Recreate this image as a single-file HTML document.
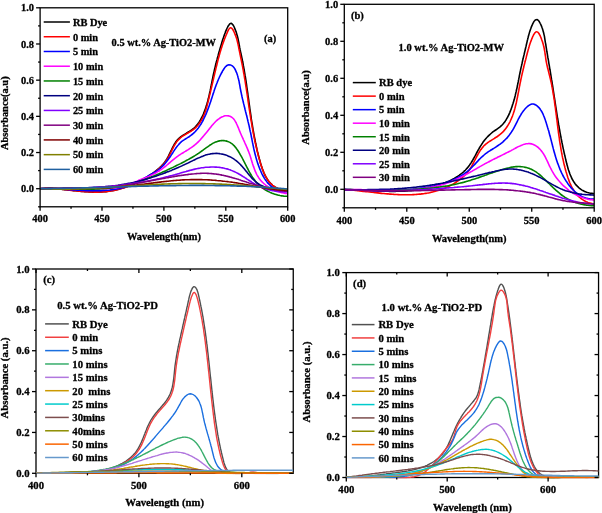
<!DOCTYPE html>
<html><head><meta charset="utf-8"><style>
html,body{margin:0;padding:0;background:#fff;}
svg{display:block;will-change:transform;filter:blur(0.3px);}
text{font-family:"Liberation Serif",serif;font-weight:bold;fill:#000;stroke:#000;stroke-width:0.3px;}
</style></head><body>
<svg width="602" height="513" viewBox="0 0 602 513">
<g id="pa"><clipPath id="clipa"><rect x="40.1" y="4.8" width="247.6" height="202.98999999999998"/></clipPath>
<g clip-path="url(#clipa)"><path d="M39.6,188.7C40.3,188.7 40.9,188.6 41.6,188.6C42.2,188.6 42.9,188.5 43.5,188.5C44.2,188.5 44.9,188.5 45.5,188.5C46.2,188.5 46.8,188.5 47.5,188.5C48.2,188.5 48.8,188.5 49.5,188.5C50.1,188.6 50.8,188.6 51.5,188.6C52.1,188.6 52.8,188.7 53.5,188.7C54.1,188.7 54.8,188.8 55.5,188.8C56.1,188.9 56.8,188.9 57.4,189.0C58.1,189.0 58.8,189.1 59.4,189.1C60.1,189.2 60.8,189.3 61.4,189.3C62.1,189.4 62.8,189.4 63.4,189.5C64.1,189.6 64.8,189.6 65.4,189.7C66.1,189.8 66.8,189.8 67.4,189.9C68.1,190.0 68.8,190.1 69.4,190.1C70.1,190.2 70.8,190.3 71.4,190.3C72.1,190.4 72.8,190.5 73.4,190.6C74.1,190.6 74.8,190.7 75.5,190.8C76.1,190.8 76.8,190.9 77.5,191.0C78.1,191.0 78.8,191.1 79.5,191.2C80.1,191.2 80.8,191.3 81.5,191.4C82.1,191.4 82.8,191.5 83.5,191.5C84.1,191.6 84.8,191.6 85.5,191.7C86.1,191.7 86.8,191.8 87.4,191.8C88.1,191.9 88.8,191.9 89.4,191.9C90.1,192.0 90.8,192.0 91.4,192.0C92.1,192.0 92.8,192.0 93.4,192.1C94.1,192.1 94.7,192.1 95.4,192.1C96.1,192.1 96.7,192.1 97.4,192.1C98.0,192.1 98.7,192.0 99.4,192.0C100.0,192.0 100.7,192.0 101.3,191.9C102.0,191.9 102.7,191.9 103.3,191.8C104.0,191.8 104.6,191.7 105.3,191.6C105.9,191.6 106.6,191.5 107.2,191.4C107.9,191.3 108.5,191.2 109.2,191.1C109.8,191.0 110.5,190.9 111.1,190.8C111.8,190.7 112.4,190.6 113.1,190.5C113.7,190.3 114.4,190.2 115.0,190.1C115.7,189.9 116.3,189.8 116.9,189.6C117.6,189.5 118.2,189.3 118.9,189.1C119.5,189.0 120.1,188.8 120.8,188.6C121.4,188.4 122.0,188.2 122.7,188.0C123.3,187.9 123.9,187.6 124.6,187.4C125.2,187.2 125.8,187.0 126.4,186.8C127.1,186.6 127.7,186.3 128.3,186.1C128.9,185.9 129.6,185.6 130.2,185.4C130.8,185.1 131.4,184.9 132.0,184.6C132.6,184.4 133.2,184.1 133.8,183.8C134.5,183.6 135.1,183.3 135.7,183.0C136.3,182.7 136.9,182.5 137.5,182.2C138.1,181.9 138.7,181.6 139.3,181.3C139.9,181.0 140.4,180.7 141.0,180.3C141.6,180.0 142.2,179.7 142.8,179.4C143.4,179.1 144.0,178.7 144.5,178.4C145.1,178.1 145.7,177.7 146.3,177.4C146.8,177.0 147.4,176.7 148.0,176.3C148.5,176.0 149.1,175.6 149.7,175.3C150.2,174.9 150.8,174.6 151.3,174.2C151.9,173.8 152.4,173.4 153.0,173.1C153.5,172.7 154.0,172.3 154.6,171.9C155.1,171.5 155.6,171.1 156.2,170.7C156.7,170.3 157.2,169.9 157.7,169.4C158.2,169.0 158.7,168.6 159.2,168.2C159.7,167.7 160.2,167.3 160.6,166.8C161.1,166.3 161.6,165.9 162.0,165.4C162.4,164.9 162.9,164.4 163.3,163.9C163.7,163.4 164.1,162.9 164.5,162.4C164.9,161.9 165.3,161.3 165.7,160.8C166.1,160.2 166.4,159.7 166.8,159.1C167.1,158.5 167.5,158.0 167.8,157.4C168.1,156.8 168.4,156.2 168.7,155.6C169.0,155.0 169.3,154.3 169.6,153.7C169.9,153.1 170.2,152.5 170.5,151.9C170.8,151.3 171.1,150.6 171.4,150.0C171.7,149.4 172.0,148.8 172.3,148.2C172.6,147.6 172.9,147.0 173.2,146.4C173.5,145.8 173.8,145.2 174.1,144.6C174.5,144.0 174.8,143.5 175.2,142.9C175.5,142.4 175.9,141.8 176.3,141.3C176.7,140.8 177.1,140.3 177.5,139.8C178.0,139.3 178.4,138.8 178.9,138.4C179.4,138.0 179.9,137.5 180.4,137.1C180.9,136.7 181.4,136.3 182.0,136.0C182.5,135.6 183.1,135.2 183.6,134.9C184.2,134.5 184.8,134.2 185.4,133.8C186.0,133.5 186.5,133.1 187.1,132.8C187.7,132.4 188.3,132.1 188.9,131.7C189.4,131.4 190.0,131.0 190.6,130.7C191.1,130.3 191.7,129.9 192.2,129.5C192.8,129.2 193.3,128.8 193.8,128.3C194.3,127.9 194.7,127.5 195.2,127.0C195.7,126.6 196.1,126.1 196.5,125.6C197.0,125.1 197.4,124.6 197.8,124.1C198.2,123.6 198.5,123.0 198.9,122.5C199.3,121.9 199.6,121.4 200.0,120.8C200.3,120.3 200.6,119.7 200.9,119.1C201.2,118.5 201.5,118.0 201.8,117.4C202.1,116.8 202.4,116.2 202.7,115.6C203.0,115.0 203.2,114.4 203.5,113.8C203.7,113.1 204.0,112.5 204.2,111.9C204.5,111.3 204.7,110.7 204.9,110.1C205.2,109.4 205.4,108.8 205.6,108.2C205.8,107.6 206.0,106.9 206.2,106.3C206.4,105.7 206.6,105.0 206.8,104.4C207.0,103.8 207.2,103.1 207.4,102.5C207.5,101.8 207.7,101.2 207.9,100.5C208.1,99.9 208.2,99.2 208.4,98.6C208.5,97.9 208.7,97.3 208.9,96.6C209.0,96.0 209.2,95.3 209.3,94.7C209.5,94.0 209.6,93.4 209.7,92.7C209.9,92.1 210.0,91.4 210.2,90.7C210.3,90.1 210.4,89.4 210.6,88.8C210.7,88.1 210.8,87.4 211.0,86.8C211.1,86.1 211.2,85.5 211.4,84.8C211.5,84.2 211.6,83.5 211.8,82.8C211.9,82.2 212.0,81.5 212.1,80.9C212.3,80.2 212.4,79.6 212.5,78.9C212.7,78.3 212.8,77.6 212.9,76.9C213.1,76.3 213.2,75.6 213.3,75.0C213.5,74.3 213.6,73.7 213.7,73.1C213.9,72.4 214.0,71.8 214.2,71.1C214.3,70.5 214.5,69.8 214.6,69.2C214.8,68.6 214.9,67.9 215.1,67.3C215.2,66.6 215.4,66.0 215.5,65.4C215.7,64.7 215.8,64.1 216.0,63.5C216.1,62.8 216.3,62.2 216.5,61.6C216.6,60.9 216.8,60.3 217.0,59.7C217.1,59.0 217.3,58.4 217.5,57.8C217.6,57.1 217.8,56.5 218.0,55.9C218.1,55.2 218.3,54.6 218.5,54.0C218.7,53.4 218.8,52.7 219.0,52.1C219.2,51.5 219.4,50.8 219.6,50.2C219.8,49.6 219.9,48.9 220.1,48.3C220.3,47.7 220.5,47.1 220.7,46.4C220.9,45.8 221.1,45.2 221.3,44.5C221.5,43.9 221.7,43.3 221.8,42.6C222.0,42.0 222.2,41.4 222.4,40.7C222.6,40.1 222.8,39.5 223.0,38.8C223.3,38.2 223.5,37.6 223.7,36.9C223.9,36.3 224.1,35.6 224.3,35.0C224.6,34.3 224.8,33.7 225.1,33.0C225.3,32.3 225.6,31.6 225.9,30.9C226.2,30.2 226.5,29.5 226.8,28.8C227.1,28.1 227.5,27.4 227.8,26.7C228.2,26.0 228.6,25.4 229.0,24.9C229.3,24.3 229.7,23.9 230.1,23.6C230.5,23.4 230.9,23.3 231.3,23.4C231.7,23.5 232.0,23.7 232.4,24.2C232.8,24.6 233.2,25.1 233.5,25.7C233.9,26.4 234.2,27.1 234.5,27.8C234.8,28.5 235.1,29.3 235.4,30.0C235.7,30.7 235.9,31.4 236.2,32.1C236.4,32.8 236.6,33.5 236.8,34.2C237.0,34.9 237.2,35.5 237.4,36.2C237.5,36.8 237.7,37.5 237.9,38.2C238.0,38.8 238.1,39.4 238.3,40.1C238.4,40.7 238.5,41.4 238.7,42.0C238.8,42.6 238.9,43.3 239.0,43.9C239.1,44.5 239.2,45.2 239.4,45.8C239.5,46.4 239.6,47.1 239.7,47.7C239.9,48.4 240.0,49.0 240.1,49.7C240.3,50.3 240.4,51.0 240.5,51.6C240.7,52.3 240.8,52.9 241.0,53.6C241.1,54.2 241.2,54.9 241.4,55.5C241.5,56.2 241.7,56.9 241.8,57.5C241.9,58.2 242.1,58.8 242.2,59.5C242.3,60.1 242.5,60.8 242.6,61.5C242.7,62.1 242.9,62.8 243.0,63.4C243.1,64.1 243.2,64.7 243.3,65.4C243.5,66.0 243.6,66.7 243.7,67.4C243.8,68.0 243.9,68.7 244.1,69.3C244.2,70.0 244.3,70.6 244.4,71.3C244.5,71.9 244.6,72.6 244.7,73.2C244.8,73.9 244.9,74.6 245.0,75.2C245.2,75.9 245.3,76.5 245.4,77.2C245.5,77.8 245.6,78.5 245.7,79.1C245.8,79.8 245.9,80.4 246.0,81.1C246.1,81.7 246.2,82.4 246.3,83.0C246.4,83.7 246.5,84.3 246.6,85.0C246.7,85.7 246.7,86.3 246.8,87.0C246.9,87.6 247.0,88.3 247.1,88.9C247.2,89.6 247.3,90.2 247.4,90.9C247.5,91.5 247.6,92.2 247.7,92.8C247.8,93.5 247.9,94.1 247.9,94.8C248.0,95.4 248.1,96.1 248.2,96.7C248.3,97.4 248.4,98.0 248.5,98.7C248.6,99.4 248.7,100.0 248.8,100.7C248.8,101.3 248.9,102.0 249.0,102.6C249.1,103.3 249.2,103.9 249.3,104.6C249.4,105.2 249.5,105.9 249.6,106.5C249.7,107.2 249.7,107.8 249.8,108.5C249.9,109.1 250.0,109.8 250.1,110.4C250.2,111.1 250.3,111.7 250.4,112.4C250.5,113.0 250.6,113.7 250.7,114.3C250.8,115.0 250.9,115.7 251.0,116.3C251.1,117.0 251.1,117.6 251.2,118.3C251.3,118.9 251.4,119.6 251.5,120.2C251.6,120.9 251.7,121.5 251.8,122.2C251.9,122.8 252.1,123.5 252.2,124.1C252.3,124.8 252.4,125.4 252.5,126.1C252.6,126.7 252.7,127.4 252.8,128.1C252.9,128.7 253.0,129.4 253.1,130.0C253.2,130.7 253.4,131.3 253.5,132.0C253.6,132.6 253.7,133.3 253.8,133.9C253.9,134.6 254.1,135.3 254.2,135.9C254.3,136.6 254.4,137.2 254.6,137.9C254.7,138.5 254.8,139.2 254.9,139.8C255.1,140.5 255.2,141.1 255.3,141.8C255.5,142.5 255.6,143.1 255.7,143.8C255.9,144.4 256.0,145.1 256.2,145.7C256.3,146.4 256.4,147.1 256.6,147.7C256.7,148.4 256.9,149.0 257.0,149.7C257.2,150.3 257.3,151.0 257.5,151.7C257.7,152.3 257.8,153.0 258.0,153.6C258.1,154.3 258.3,155.0 258.5,155.6C258.6,156.3 258.8,156.9 259.0,157.6C259.2,158.2 259.3,158.9 259.5,159.6C259.7,160.2 259.9,160.9 260.1,161.5C260.3,162.2 260.4,162.9 260.6,163.5C260.8,164.2 261.0,164.8 261.2,165.5C261.4,166.1 261.7,166.8 261.9,167.4C262.1,168.1 262.3,168.7 262.5,169.4C262.8,170.0 263.0,170.6 263.3,171.2C263.5,171.9 263.8,172.5 264.0,173.1C264.3,173.7 264.6,174.3 264.8,174.9C265.1,175.5 265.4,176.0 265.7,176.6C266.0,177.2 266.3,177.7 266.7,178.3C267.0,178.8 267.3,179.4 267.7,179.9C268.1,180.4 268.4,180.9 268.8,181.4C269.2,181.9 269.6,182.4 270.0,182.8C270.4,183.3 270.8,183.7 271.3,184.1C271.7,184.6 272.2,185.0 272.6,185.4C273.1,185.8 273.6,186.1 274.1,186.5C274.6,186.8 275.1,187.2 275.7,187.5C276.2,187.8 276.8,188.1 277.4,188.3C278.0,188.6 278.6,188.9 279.2,189.1C279.8,189.3 280.5,189.5 281.1,189.7C281.8,189.8 282.5,190.0 283.2,190.1C283.9,190.2 284.6,190.3 285.4,190.4C286.1,190.5 286.9,190.5 287.7,190.5" stroke="#000000" stroke-width="1.6" fill="none"/><path d="M40.1,188.7C40.8,188.7 41.4,188.6 42.1,188.6C42.7,188.6 43.4,188.5 44.1,188.5C44.7,188.5 45.4,188.5 46.0,188.5C46.7,188.5 47.4,188.5 48.0,188.5C48.7,188.5 49.4,188.5 50.0,188.5C50.7,188.6 51.3,188.6 52.0,188.6C52.7,188.6 53.3,188.7 54.0,188.7C54.7,188.8 55.3,188.8 56.0,188.8C56.7,188.9 57.3,188.9 58.0,189.0C58.7,189.0 59.3,189.1 60.0,189.1C60.7,189.2 61.3,189.3 62.0,189.3C62.7,189.4 63.3,189.4 64.0,189.5C64.7,189.6 65.4,189.6 66.0,189.7C66.7,189.8 67.4,189.9 68.0,189.9C68.7,190.0 69.4,190.1 70.0,190.1C70.7,190.2 71.4,190.3 72.0,190.4C72.7,190.4 73.4,190.5 74.1,190.6C74.7,190.6 75.4,190.7 76.1,190.8C76.7,190.9 77.4,190.9 78.1,191.0C78.7,191.1 79.4,191.1 80.1,191.2C80.7,191.2 81.4,191.3 82.1,191.4C82.7,191.4 83.4,191.5 84.1,191.5C84.7,191.6 85.4,191.6 86.1,191.7C86.8,191.7 87.4,191.8 88.1,191.8C88.8,191.9 89.4,191.9 90.1,191.9C90.7,192.0 91.4,192.0 92.1,192.0C92.7,192.0 93.4,192.1 94.1,192.1C94.7,192.1 95.4,192.1 96.1,192.1C96.7,192.1 97.4,192.1 98.0,192.1C98.7,192.1 99.4,192.0 100.0,192.0C100.7,192.0 101.4,192.0 102.0,191.9C102.7,191.9 103.3,191.8 104.0,191.8C104.6,191.7 105.3,191.7 106.0,191.6C106.6,191.5 107.3,191.5 107.9,191.4C108.6,191.3 109.2,191.2 109.9,191.1C110.5,191.0 111.2,190.9 111.8,190.8C112.5,190.7 113.1,190.6 113.8,190.4C114.4,190.3 115.1,190.2 115.7,190.0C116.4,189.9 117.0,189.7 117.7,189.6C118.3,189.4 119.0,189.3 119.6,189.1C120.2,188.9 120.9,188.7 121.5,188.5C122.1,188.4 122.8,188.2 123.4,188.0C124.1,187.8 124.7,187.6 125.3,187.4C125.9,187.1 126.6,186.9 127.2,186.7C127.8,186.5 128.5,186.3 129.1,186.0C129.7,185.8 130.3,185.5 130.9,185.3C131.6,185.0 132.2,184.8 132.8,184.5C133.4,184.3 134.0,184.0 134.6,183.7C135.2,183.5 135.8,183.2 136.4,182.9C137.0,182.6 137.7,182.3 138.3,182.0C138.9,181.7 139.4,181.4 140.0,181.1C140.6,180.8 141.2,180.5 141.8,180.2C142.4,179.9 143.0,179.6 143.6,179.2C144.2,178.9 144.7,178.6 145.3,178.3C145.9,177.9 146.5,177.6 147.0,177.2C147.6,176.9 148.2,176.5 148.8,176.2C149.3,175.8 149.9,175.5 150.4,175.1C151.0,174.7 151.6,174.4 152.1,174.0C152.7,173.6 153.2,173.3 153.8,172.9C154.3,172.5 154.8,172.1 155.4,171.7C155.9,171.3 156.4,170.9 156.9,170.5C157.5,170.1 158.0,169.7 158.5,169.2C159.0,168.8 159.5,168.4 160.0,167.9C160.4,167.5 160.9,167.0 161.4,166.6C161.9,166.1 162.3,165.6 162.8,165.1C163.2,164.7 163.6,164.2 164.1,163.7C164.5,163.2 164.9,162.6 165.3,162.1C165.7,161.6 166.1,161.0 166.4,160.5C166.8,159.9 167.2,159.4 167.5,158.8C167.9,158.2 168.2,157.6 168.5,157.0C168.8,156.4 169.2,155.8 169.5,155.2C169.8,154.6 170.1,154.0 170.4,153.4C170.7,152.8 171.0,152.1 171.3,151.5C171.6,150.9 171.9,150.3 172.2,149.7C172.5,149.1 172.8,148.4 173.1,147.8C173.4,147.2 173.7,146.6 174.0,146.1C174.4,145.5 174.7,144.9 175.0,144.3C175.4,143.7 175.7,143.2 176.1,142.7C176.5,142.1 176.9,141.6 177.3,141.1C177.7,140.6 178.1,140.1 178.6,139.6C179.0,139.1 179.5,138.7 180.0,138.3C180.5,137.8 181.0,137.4 181.5,137.0C182.0,136.6 182.6,136.3 183.1,135.9C183.7,135.5 184.2,135.2 184.8,134.8C185.4,134.5 186.0,134.1 186.5,133.8C187.1,133.5 187.7,133.1 188.3,132.8C188.9,132.4 189.5,132.1 190.0,131.7C190.6,131.4 191.2,131.0 191.7,130.7C192.3,130.3 192.8,129.9 193.4,129.5C193.9,129.1 194.4,128.7 194.9,128.3C195.4,127.8 195.9,127.4 196.3,126.9C196.8,126.4 197.2,126.0 197.7,125.5C198.1,125.0 198.5,124.5 198.9,123.9C199.3,123.4 199.7,122.9 200.1,122.3C200.4,121.8 200.8,121.2 201.1,120.7C201.5,120.1 201.8,119.5 202.1,118.9C202.4,118.3 202.7,117.8 203.0,117.2C203.3,116.6 203.6,116.0 203.8,115.3C204.1,114.7 204.3,114.1 204.6,113.5C204.8,112.9 205.0,112.3 205.3,111.6C205.5,111.0 205.7,110.4 205.9,109.7C206.1,109.1 206.3,108.5 206.5,107.8C206.6,107.2 206.8,106.5 207.0,105.9C207.2,105.2 207.3,104.6 207.5,103.9C207.7,103.3 207.8,102.6 208.0,102.0C208.2,101.3 208.3,100.7 208.5,100.0C208.6,99.4 208.8,98.7 209.0,98.1C209.1,97.4 209.3,96.8 209.4,96.1C209.6,95.4 209.7,94.8 209.9,94.1C210.1,93.5 210.2,92.8 210.4,92.2C210.5,91.5 210.7,90.9 210.8,90.2C211.0,89.6 211.1,88.9 211.3,88.2C211.5,87.6 211.6,86.9 211.8,86.3C211.9,85.6 212.1,85.0 212.2,84.3C212.4,83.7 212.5,83.0 212.7,82.4C212.8,81.7 213.0,81.1 213.1,80.4C213.3,79.8 213.4,79.1 213.6,78.5C213.7,77.8 213.9,77.2 214.0,76.6C214.2,75.9 214.3,75.3 214.5,74.6C214.6,74.0 214.8,73.3 214.9,72.7C215.1,72.1 215.2,71.4 215.4,70.8C215.5,70.1 215.7,69.5 215.8,68.9C216.0,68.2 216.1,67.6 216.3,66.9C216.4,66.3 216.6,65.7 216.8,65.0C216.9,64.4 217.1,63.8 217.2,63.1C217.4,62.5 217.6,61.9 217.7,61.2C217.9,60.6 218.0,59.9 218.2,59.3C218.4,58.7 218.5,58.0 218.7,57.4C218.9,56.8 219.1,56.1 219.2,55.5C219.4,54.9 219.6,54.2 219.8,53.6C220.0,53.0 220.1,52.3 220.3,51.7C220.5,51.1 220.7,50.4 220.9,49.8C221.1,49.2 221.3,48.6 221.5,47.9C221.7,47.3 221.9,46.7 222.1,46.0C222.3,45.4 222.5,44.8 222.7,44.1C223.0,43.5 223.2,42.8 223.4,42.2C223.6,41.6 223.9,40.9 224.1,40.3C224.3,39.7 224.6,39.0 224.8,38.3C225.1,37.7 225.4,37.0 225.6,36.3C225.9,35.7 226.2,35.0 226.5,34.3C226.8,33.6 227.1,32.8 227.4,32.1C227.7,31.4 228.0,30.7 228.4,30.0C228.7,29.4 229.0,28.9 229.4,28.5C229.8,28.0 230.1,27.8 230.5,27.7C230.9,27.6 231.2,27.8 231.6,28.1C232.0,28.4 232.4,28.9 232.8,29.5C233.1,30.0 233.5,30.7 233.8,31.4C234.2,32.1 234.5,32.8 234.8,33.6C235.1,34.3 235.4,35.0 235.6,35.7C235.9,36.4 236.1,37.1 236.4,37.8C236.6,38.5 236.8,39.1 237.0,39.8C237.1,40.5 237.3,41.1 237.5,41.8C237.6,42.4 237.8,43.1 237.9,43.7C238.1,44.3 238.2,45.0 238.3,45.6C238.5,46.3 238.6,46.9 238.7,47.5C238.8,48.2 238.9,48.8 239.1,49.4C239.2,50.1 239.3,50.7 239.5,51.4C239.6,52.0 239.7,52.7 239.9,53.3C240.0,54.0 240.1,54.6 240.3,55.3C240.4,55.9 240.5,56.6 240.7,57.3C240.8,57.9 241.0,58.6 241.1,59.2C241.2,59.9 241.4,60.6 241.5,61.2C241.6,61.9 241.8,62.5 241.9,63.2C242.0,63.8 242.2,64.5 242.3,65.2C242.4,65.8 242.5,66.5 242.7,67.1C242.8,67.8 242.9,68.4 243.0,69.1C243.2,69.8 243.3,70.4 243.4,71.1C243.5,71.7 243.6,72.4 243.7,73.0C243.9,73.7 244.0,74.4 244.1,75.0C244.2,75.7 244.3,76.3 244.4,77.0C244.5,77.6 244.6,78.3 244.7,78.9C244.9,79.6 245.0,80.2 245.1,80.9C245.2,81.6 245.3,82.2 245.4,82.9C245.5,83.5 245.6,84.2 245.7,84.8C245.8,85.5 245.9,86.1 246.0,86.8C246.1,87.4 246.2,88.1 246.3,88.7C246.4,89.4 246.5,90.1 246.6,90.7C246.7,91.4 246.8,92.0 246.9,92.7C247.0,93.3 247.1,94.0 247.2,94.6C247.3,95.3 247.4,95.9 247.5,96.6C247.6,97.2 247.7,97.9 247.8,98.5C247.9,99.2 248.0,99.8 248.0,100.5C248.1,101.1 248.2,101.8 248.3,102.5C248.4,103.1 248.5,103.8 248.6,104.4C248.7,105.1 248.8,105.7 248.9,106.4C249.0,107.0 249.1,107.7 249.2,108.3C249.3,109.0 249.4,109.6 249.5,110.3C249.6,110.9 249.7,111.6 249.8,112.2C249.9,112.9 250.0,113.5 250.1,114.2C250.2,114.8 250.3,115.5 250.4,116.2C250.5,116.8 250.6,117.5 250.7,118.1C250.8,118.8 250.9,119.4 251.0,120.1C251.2,120.7 251.3,121.4 251.4,122.0C251.5,122.7 251.6,123.3 251.7,124.0C251.8,124.6 251.9,125.3 252.0,126.0C252.1,126.6 252.3,127.3 252.4,127.9C252.5,128.6 252.6,129.2 252.7,129.9C252.8,130.5 253.0,131.2 253.1,131.8C253.2,132.5 253.3,133.1 253.5,133.8C253.6,134.5 253.7,135.1 253.8,135.8C254.0,136.4 254.1,137.1 254.2,137.7C254.4,138.4 254.5,139.0 254.6,139.7C254.8,140.4 254.9,141.0 255.0,141.7C255.2,142.3 255.3,143.0 255.5,143.6C255.6,144.3 255.8,144.9 255.9,145.6C256.1,146.3 256.2,146.9 256.4,147.6C256.5,148.2 256.7,148.9 256.8,149.6C257.0,150.2 257.1,150.9 257.3,151.5C257.5,152.2 257.6,152.8 257.8,153.5C258.0,154.2 258.1,154.8 258.3,155.5C258.5,156.1 258.7,156.8 258.8,157.5C259.0,158.1 259.2,158.8 259.4,159.4C259.6,160.1 259.8,160.8 260.0,161.4C260.1,162.1 260.3,162.8 260.5,163.4C260.7,164.1 260.9,164.7 261.2,165.4C261.4,166.0 261.6,166.7 261.8,167.3C262.0,168.0 262.2,168.6 262.5,169.3C262.7,169.9 263.0,170.5 263.2,171.1C263.5,171.8 263.7,172.4 264.0,173.0C264.2,173.6 264.5,174.2 264.8,174.8C265.1,175.4 265.4,176.0 265.7,176.5C266.0,177.1 266.3,177.7 266.7,178.2C267.0,178.8 267.3,179.3 267.7,179.8C268.0,180.3 268.4,180.8 268.8,181.3C269.2,181.8 269.6,182.3 270.0,182.8C270.4,183.2 270.8,183.7 271.3,184.1C271.7,184.5 272.2,184.9 272.6,185.3C273.1,185.7 273.6,186.1 274.1,186.5C274.6,186.8 275.2,187.1 275.7,187.5C276.2,187.8 276.8,188.1 277.4,188.3C278.0,188.6 278.6,188.8 279.2,189.1C279.8,189.3 280.5,189.5 281.1,189.7C281.8,189.8 282.5,190.0 283.2,190.1C283.9,190.2 284.6,190.3 285.4,190.4C286.1,190.5 286.9,190.5 287.7,190.5" stroke="#ff0000" stroke-width="1.6" fill="none"/><path d="M40.1,188.7C40.8,188.7 41.4,188.7 42.1,188.6C42.7,188.6 43.4,188.6 44.0,188.6C44.7,188.6 45.3,188.6 46.0,188.6C46.6,188.6 47.3,188.6 48.0,188.6C48.6,188.6 49.3,188.6 49.9,188.6C50.6,188.7 51.3,188.7 51.9,188.7C52.6,188.7 53.2,188.7 53.9,188.8C54.6,188.8 55.2,188.8 55.9,188.8C56.6,188.9 57.2,188.9 57.9,188.9C58.5,189.0 59.2,189.0 59.9,189.0C60.5,189.1 61.2,189.1 61.9,189.1C62.5,189.2 63.2,189.2 63.9,189.3C64.5,189.3 65.2,189.3 65.9,189.4C66.6,189.4 67.2,189.5 67.9,189.5C68.6,189.6 69.2,189.6 69.9,189.7C70.6,189.7 71.2,189.7 71.9,189.8C72.6,189.8 73.2,189.9 73.9,189.9C74.6,190.0 75.2,190.0 75.9,190.0C76.6,190.1 77.3,190.1 77.9,190.2C78.6,190.2 79.3,190.2 79.9,190.3C80.6,190.3 81.3,190.4 81.9,190.4C82.6,190.4 83.3,190.5 83.9,190.5C84.6,190.5 85.3,190.5 86.0,190.6C86.6,190.6 87.3,190.6 88.0,190.6C88.6,190.7 89.3,190.7 90.0,190.7C90.6,190.7 91.3,190.7 92.0,190.7C92.6,190.7 93.3,190.7 93.9,190.7C94.6,190.7 95.3,190.7 95.9,190.7C96.6,190.7 97.3,190.7 97.9,190.7C98.6,190.7 99.2,190.7 99.9,190.7C100.6,190.6 101.2,190.6 101.9,190.6C102.5,190.6 103.2,190.5 103.9,190.5C104.5,190.4 105.2,190.4 105.8,190.3C106.5,190.3 107.1,190.2 107.8,190.2C108.4,190.1 109.1,190.0 109.7,190.0C110.4,189.9 111.0,189.8 111.7,189.7C112.3,189.6 113.0,189.6 113.6,189.5C114.3,189.4 114.9,189.2 115.6,189.1C116.2,189.0 116.9,188.9 117.5,188.8C118.1,188.7 118.8,188.5 119.4,188.4C120.1,188.2 120.7,188.1 121.3,187.9C122.0,187.8 122.6,187.6 123.2,187.5C123.9,187.3 124.5,187.1 125.1,186.9C125.8,186.7 126.4,186.5 127.0,186.3C127.6,186.1 128.3,185.9 128.9,185.7C129.5,185.5 130.1,185.2 130.7,185.0C131.4,184.8 132.0,184.5 132.6,184.3C133.2,184.0 133.8,183.7 134.4,183.4C135.1,183.2 135.7,182.9 136.3,182.6C136.9,182.3 137.5,182.0 138.1,181.7C138.7,181.4 139.3,181.0 139.9,180.7C140.5,180.4 141.1,180.1 141.7,179.7C142.3,179.4 142.9,179.1 143.5,178.7C144.1,178.4 144.7,178.0 145.2,177.7C145.8,177.4 146.4,177.0 147.0,176.7C147.6,176.4 148.2,176.0 148.7,175.7C149.3,175.4 149.9,175.0 150.5,174.7C151.0,174.4 151.6,174.1 152.2,173.8C152.7,173.4 153.3,173.1 153.9,172.8C154.4,172.5 155.0,172.2 155.5,171.8C156.1,171.5 156.6,171.1 157.1,170.8C157.7,170.4 158.2,170.0 158.7,169.6C159.2,169.2 159.7,168.8 160.2,168.4C160.7,167.9 161.2,167.5 161.7,167.0C162.1,166.6 162.6,166.1 163.1,165.6C163.5,165.2 164.0,164.7 164.4,164.2C164.9,163.7 165.3,163.2 165.7,162.6C166.2,162.1 166.6,161.6 167.0,161.1C167.4,160.5 167.8,160.0 168.2,159.4C168.6,158.9 169.0,158.4 169.4,157.8C169.8,157.2 170.2,156.7 170.6,156.1C170.9,155.6 171.3,155.0 171.7,154.4C172.0,153.9 172.4,153.3 172.8,152.7C173.1,152.2 173.5,151.6 173.8,151.1C174.2,150.5 174.6,150.0 174.9,149.4C175.3,148.9 175.7,148.3 176.1,147.8C176.4,147.2 176.8,146.7 177.2,146.2C177.6,145.7 178.0,145.2 178.5,144.7C178.9,144.2 179.3,143.7 179.8,143.3C180.2,142.8 180.7,142.4 181.2,141.9C181.7,141.5 182.2,141.1 182.8,140.7C183.3,140.3 183.8,139.9 184.4,139.6C185.0,139.2 185.6,138.8 186.2,138.5C186.7,138.1 187.3,137.8 187.9,137.4C188.5,137.1 189.1,136.7 189.6,136.3C190.2,136.0 190.7,135.6 191.2,135.2C191.8,134.8 192.3,134.4 192.8,133.9C193.3,133.5 193.7,133.1 194.2,132.6C194.7,132.2 195.1,131.7 195.6,131.2C196.0,130.8 196.4,130.3 196.9,129.8C197.3,129.3 197.7,128.8 198.1,128.3C198.5,127.7 198.9,127.2 199.2,126.7C199.6,126.1 200.0,125.6 200.3,125.0C200.7,124.5 201.0,123.9 201.4,123.4C201.7,122.8 202.0,122.2 202.4,121.6C202.7,121.0 203.0,120.5 203.3,119.9C203.6,119.3 203.9,118.7 204.2,118.0C204.5,117.4 204.8,116.8 205.1,116.2C205.4,115.6 205.6,115.0 205.9,114.4C206.2,113.7 206.4,113.1 206.7,112.5C206.9,111.9 207.2,111.2 207.4,110.6C207.7,110.0 207.9,109.3 208.2,108.7C208.4,108.1 208.6,107.4 208.8,106.8C209.1,106.2 209.3,105.6 209.5,104.9C209.7,104.3 209.9,103.7 210.1,103.1C210.4,102.4 210.6,101.8 210.8,101.2C211.0,100.6 211.2,100.0 211.4,99.3C211.6,98.7 211.8,98.1 212.0,97.5C212.2,96.9 212.4,96.3 212.6,95.6C212.8,95.0 213.0,94.4 213.2,93.8C213.3,93.2 213.6,92.6 213.8,92.0C214.0,91.3 214.2,90.7 214.4,90.1C214.6,89.5 214.8,88.9 215.0,88.3C215.2,87.7 215.4,87.0 215.7,86.4C215.9,85.8 216.1,85.2 216.3,84.6C216.6,84.0 216.8,83.4 217.1,82.7C217.3,82.1 217.5,81.5 217.8,80.9C218.1,80.3 218.3,79.7 218.6,79.0C218.9,78.4 219.2,77.8 219.4,77.2C219.7,76.6 220.0,75.9 220.3,75.3C220.7,74.7 221.0,74.1 221.3,73.4C221.6,72.8 222.0,72.2 222.3,71.6C222.7,70.9 223.0,70.3 223.4,69.7C223.8,69.1 224.2,68.5 224.6,67.9C225.0,67.3 225.4,66.8 225.9,66.4C226.3,65.9 226.8,65.5 227.3,65.2C227.8,65.0 228.3,64.8 228.8,64.7C229.4,64.7 230.0,64.7 230.6,64.9C231.2,65.1 231.7,65.4 232.3,65.8C232.8,66.2 233.3,66.7 233.7,67.2C234.2,67.8 234.6,68.4 234.9,69.0C235.3,69.7 235.6,70.4 235.9,71.1C236.2,71.8 236.5,72.5 236.8,73.1C237.0,73.8 237.3,74.5 237.5,75.2C237.7,75.8 237.9,76.5 238.0,77.2C238.2,77.8 238.4,78.5 238.5,79.1C238.7,79.8 238.8,80.4 239.0,81.0C239.1,81.7 239.2,82.3 239.3,82.9C239.4,83.6 239.6,84.2 239.7,84.8C239.8,85.5 239.9,86.1 240.0,86.7C240.1,87.3 240.2,88.0 240.3,88.6C240.5,89.2 240.6,89.9 240.7,90.5C240.8,91.1 241.0,91.8 241.1,92.4C241.2,93.0 241.4,93.7 241.5,94.3C241.6,94.9 241.8,95.6 241.9,96.2C242.1,96.9 242.2,97.5 242.3,98.1C242.5,98.8 242.6,99.4 242.8,100.1C242.9,100.7 243.1,101.3 243.2,102.0C243.4,102.6 243.6,103.3 243.7,103.9C243.9,104.6 244.0,105.2 244.2,105.9C244.3,106.5 244.5,107.1 244.7,107.8C244.8,108.4 245.0,109.1 245.1,109.7C245.3,110.4 245.5,111.0 245.6,111.7C245.8,112.3 246.0,113.0 246.1,113.6C246.3,114.3 246.4,114.9 246.6,115.6C246.8,116.2 246.9,116.9 247.1,117.5C247.2,118.2 247.4,118.8 247.6,119.5C247.7,120.1 247.9,120.8 248.0,121.4C248.2,122.1 248.3,122.7 248.5,123.4C248.6,124.0 248.8,124.7 249.0,125.3C249.1,126.0 249.3,126.6 249.4,127.3C249.5,127.9 249.7,128.6 249.8,129.2C250.0,129.9 250.1,130.5 250.2,131.2C250.4,131.8 250.5,132.5 250.7,133.1C250.8,133.8 250.9,134.4 251.1,135.1C251.2,135.7 251.3,136.4 251.4,137.0C251.6,137.7 251.7,138.3 251.8,139.0C252.0,139.6 252.1,140.3 252.2,140.9C252.3,141.6 252.5,142.2 252.6,142.9C252.7,143.5 252.9,144.2 253.0,144.8C253.1,145.4 253.3,146.1 253.4,146.7C253.5,147.4 253.7,148.0 253.8,148.7C254.0,149.3 254.1,149.9 254.2,150.6C254.4,151.2 254.5,151.9 254.7,152.5C254.8,153.1 255.0,153.8 255.2,154.4C255.3,155.1 255.5,155.7 255.7,156.3C255.8,157.0 256.0,157.6 256.2,158.2C256.4,158.9 256.5,159.5 256.7,160.1C256.9,160.8 257.1,161.4 257.3,162.0C257.5,162.7 257.7,163.3 257.9,163.9C258.2,164.6 258.4,165.2 258.6,165.8C258.8,166.4 259.1,167.1 259.3,167.7C259.6,168.3 259.8,168.9 260.1,169.6C260.3,170.2 260.6,170.8 260.9,171.4C261.1,172.0 261.4,172.6 261.7,173.3C262.0,173.9 262.3,174.5 262.6,175.1C262.9,175.7 263.3,176.3 263.6,176.9C263.9,177.4 264.3,178.0 264.6,178.6C265.0,179.2 265.4,179.7 265.7,180.3C266.1,180.8 266.5,181.3 266.9,181.9C267.3,182.4 267.7,182.9 268.1,183.4C268.6,183.8 269.0,184.3 269.5,184.8C269.9,185.2 270.4,185.7 270.9,186.1C271.3,186.5 271.8,186.9 272.4,187.2C272.9,187.6 273.4,188.0 273.9,188.3C274.5,188.6 275.0,188.9 275.6,189.2C276.2,189.5 276.7,189.7 277.4,189.9C278.0,190.2 278.6,190.4 279.2,190.5C279.8,190.7 280.5,190.8 281.2,190.9C281.8,191.0 282.5,191.1 283.2,191.1C283.9,191.1 284.7,191.1 285.4,191.1C286.2,191.1 286.9,191.0 287.7,190.9" stroke="#0000ff" stroke-width="1.6" fill="none"/><path d="M40.1,188.7C40.8,188.7 41.4,188.7 42.1,188.7C42.8,188.7 43.4,188.7 44.1,188.7C44.8,188.7 45.4,188.7 46.1,188.7C46.7,188.7 47.4,188.7 48.1,188.7C48.7,188.7 49.4,188.7 50.1,188.7C50.7,188.7 51.4,188.7 52.1,188.7C52.7,188.7 53.4,188.7 54.1,188.7C54.7,188.7 55.4,188.7 56.1,188.7C56.7,188.7 57.4,188.7 58.0,188.7C58.7,188.7 59.4,188.8 60.0,188.8C60.7,188.8 61.4,188.8 62.0,188.8C62.7,188.8 63.4,188.8 64.0,188.8C64.7,188.8 65.3,188.8 66.0,188.8C66.7,188.8 67.3,188.8 68.0,188.9C68.7,188.9 69.3,188.9 70.0,188.9C70.7,188.9 71.3,188.9 72.0,188.9C72.7,188.9 73.3,188.9 74.0,188.9C74.6,188.9 75.3,188.9 76.0,188.9C76.6,189.0 77.3,189.0 78.0,189.0C78.6,189.0 79.3,189.0 80.0,189.0C80.6,189.0 81.3,189.0 82.0,189.0C82.6,189.0 83.3,189.0 83.9,189.0C84.6,189.0 85.3,189.0 85.9,189.0C86.6,189.0 87.3,189.0 87.9,189.0C88.6,189.0 89.3,189.0 89.9,189.0C90.6,189.0 91.3,189.0 91.9,189.0C92.6,189.0 93.3,189.0 93.9,188.9C94.6,188.9 95.3,188.9 95.9,188.9C96.6,188.9 97.3,188.9 97.9,188.9C98.6,188.9 99.3,188.9 99.9,188.8C100.6,188.8 101.3,188.8 101.9,188.8C102.6,188.8 103.3,188.7 103.9,188.7C104.6,188.7 105.2,188.7 105.9,188.6C106.6,188.6 107.2,188.6 107.9,188.5C108.6,188.5 109.2,188.4 109.9,188.4C110.6,188.3 111.2,188.3 111.9,188.2C112.5,188.2 113.2,188.1 113.9,188.0C114.5,188.0 115.2,187.9 115.8,187.8C116.5,187.7 117.1,187.6 117.8,187.5C118.4,187.4 119.1,187.3 119.7,187.2C120.4,187.1 121.0,186.9 121.6,186.8C122.3,186.7 122.9,186.5 123.6,186.4C124.2,186.2 124.8,186.0 125.4,185.9C126.1,185.7 126.7,185.5 127.3,185.3C128.0,185.1 128.6,184.9 129.2,184.7C129.8,184.4 130.4,184.2 131.0,184.0C131.6,183.7 132.2,183.4 132.8,183.2C133.4,182.9 134.0,182.6 134.6,182.3C135.2,182.0 135.8,181.7 136.4,181.4C137.0,181.2 137.6,180.9 138.2,180.6C138.8,180.3 139.5,180.0 140.1,179.8C140.7,179.5 141.3,179.3 141.9,179.1C142.6,178.8 143.2,178.6 143.8,178.3C144.4,178.1 145.1,177.9 145.7,177.6C146.3,177.4 146.9,177.2 147.5,176.9C148.1,176.7 148.8,176.4 149.4,176.1C150.0,175.9 150.6,175.6 151.2,175.3C151.8,175.0 152.4,174.7 152.9,174.4C153.5,174.1 154.1,173.8 154.7,173.5C155.3,173.2 155.9,172.9 156.4,172.6C157.0,172.2 157.6,171.9 158.1,171.5C158.7,171.2 159.2,170.8 159.8,170.5C160.3,170.1 160.9,169.8 161.4,169.4C161.9,169.0 162.5,168.6 163.0,168.2C163.5,167.8 164.0,167.4 164.5,167.0C165.1,166.6 165.6,166.2 166.1,165.8C166.6,165.3 167.1,164.9 167.6,164.5C168.1,164.1 168.6,163.6 169.1,163.2C169.6,162.8 170.1,162.3 170.6,161.9C171.1,161.5 171.6,161.0 172.1,160.6C172.6,160.2 173.1,159.8 173.7,159.3C174.2,158.9 174.7,158.5 175.2,158.1C175.8,157.7 176.3,157.3 176.8,156.9C177.4,156.5 177.9,156.1 178.5,155.7C179.0,155.3 179.6,155.0 180.1,154.6C180.7,154.2 181.3,153.9 181.8,153.5C182.4,153.2 183.0,152.8 183.6,152.5C184.1,152.1 184.7,151.7 185.3,151.4C185.9,151.0 186.5,150.7 187.0,150.3C187.6,150.0 188.2,149.6 188.7,149.3C189.3,148.9 189.9,148.6 190.4,148.2C191.0,147.8 191.5,147.5 192.0,147.1C192.6,146.7 193.1,146.3 193.6,145.9C194.1,145.5 194.7,145.1 195.1,144.7C195.6,144.3 196.1,143.8 196.6,143.4C197.1,143.0 197.6,142.5 198.0,142.1C198.5,141.6 198.9,141.2 199.4,140.7C199.9,140.2 200.3,139.7 200.7,139.3C201.2,138.8 201.6,138.3 202.0,137.8C202.5,137.3 202.9,136.8 203.3,136.3C203.7,135.8 204.2,135.3 204.6,134.8C205.0,134.3 205.4,133.8 205.8,133.3C206.3,132.7 206.7,132.2 207.1,131.7C207.5,131.2 207.9,130.6 208.4,130.1C208.8,129.6 209.2,129.1 209.6,128.5C210.0,128.0 210.5,127.4 210.9,126.9C211.3,126.4 211.8,125.8 212.2,125.3C212.7,124.8 213.1,124.3 213.6,123.7C214.0,123.2 214.5,122.7 215.0,122.2C215.4,121.7 215.9,121.3 216.4,120.8C216.9,120.4 217.4,119.9 218.0,119.5C218.5,119.1 219.0,118.7 219.6,118.3C220.2,117.9 220.7,117.6 221.3,117.2C221.9,116.9 222.5,116.6 223.2,116.4C223.8,116.2 224.4,116.0 225.0,115.8C225.7,115.7 226.3,115.7 226.9,115.7C227.5,115.7 228.2,115.8 228.8,115.9C229.4,116.1 230.0,116.3 230.5,116.5C231.1,116.8 231.6,117.2 232.1,117.5C232.6,117.9 233.1,118.4 233.5,118.8C233.9,119.3 234.3,119.8 234.7,120.4C235.1,121.0 235.4,121.6 235.8,122.2C236.1,122.8 236.4,123.4 236.7,124.1C237.1,124.7 237.3,125.4 237.6,126.1C237.9,126.8 238.2,127.4 238.5,128.1C238.7,128.8 239.0,129.5 239.3,130.2C239.5,130.8 239.8,131.5 240.1,132.1C240.3,132.8 240.6,133.4 240.9,134.0C241.2,134.7 241.4,135.3 241.7,135.9C242.0,136.5 242.2,137.1 242.5,137.7C242.8,138.3 243.1,138.9 243.3,139.5C243.6,140.1 243.9,140.7 244.1,141.2C244.4,141.8 244.7,142.4 244.9,143.0C245.2,143.6 245.4,144.1 245.7,144.7C246.0,145.3 246.2,145.9 246.5,146.5C246.7,147.0 247.0,147.6 247.2,148.2C247.5,148.8 247.7,149.4 247.9,150.0C248.2,150.5 248.4,151.1 248.6,151.7C248.9,152.3 249.1,152.9 249.3,153.6C249.5,154.2 249.7,154.8 250.0,155.4C250.2,156.1 250.4,156.7 250.6,157.3C250.8,158.0 251.0,158.6 251.2,159.3C251.4,159.9 251.6,160.6 251.8,161.2C252.0,161.9 252.2,162.5 252.4,163.2C252.6,163.8 252.8,164.5 253.0,165.1C253.2,165.8 253.5,166.4 253.7,167.1C253.9,167.7 254.2,168.4 254.4,169.0C254.6,169.6 254.9,170.3 255.1,170.9C255.4,171.5 255.7,172.2 256.0,172.8C256.2,173.4 256.5,174.0 256.8,174.6C257.2,175.2 257.5,175.7 257.8,176.3C258.2,176.9 258.5,177.4 258.9,178.0C259.3,178.5 259.6,179.0 260.0,179.6C260.5,180.1 260.9,180.6 261.3,181.1C261.7,181.5 262.2,182.0 262.7,182.5C263.1,182.9 263.6,183.4 264.1,183.8C264.6,184.3 265.1,184.7 265.6,185.1C266.1,185.5 266.7,185.9 267.2,186.3C267.7,186.6 268.3,187.0 268.9,187.4C269.4,187.7 270.0,188.0 270.6,188.4C271.1,188.7 271.7,189.0 272.3,189.3C272.9,189.6 273.5,189.9 274.1,190.1C274.8,190.4 275.4,190.6 276.0,190.9C276.6,191.1 277.3,191.3 277.9,191.5C278.5,191.8 279.2,191.9 279.8,192.1C280.5,192.3 281.1,192.5 281.8,192.6C282.4,192.8 283.1,192.9 283.7,193.0C284.4,193.2 285.1,193.3 285.7,193.4C286.4,193.5 287.0,193.5 287.7,193.6" stroke="#ff00ff" stroke-width="1.6" fill="none"/><path d="M40.1,188.7C40.8,188.7 41.4,188.7 42.1,188.7C42.7,188.6 43.4,188.6 44.0,188.6C44.7,188.6 45.4,188.6 46.0,188.6C46.7,188.6 47.3,188.6 48.0,188.6C48.6,188.6 49.3,188.6 50.0,188.6C50.6,188.6 51.3,188.6 51.9,188.6C52.6,188.6 53.3,188.6 53.9,188.6C54.6,188.6 55.3,188.6 55.9,188.6C56.6,188.7 57.2,188.7 57.9,188.7C58.6,188.7 59.2,188.7 59.9,188.7C60.6,188.7 61.2,188.8 61.9,188.8C62.6,188.8 63.2,188.8 63.9,188.8C64.6,188.8 65.2,188.8 65.9,188.9C66.6,188.9 67.2,188.9 67.9,188.9C68.6,188.9 69.2,189.0 69.9,189.0C70.6,189.0 71.2,189.0 71.9,189.0C72.6,189.0 73.2,189.0 73.9,189.1C74.6,189.1 75.2,189.1 75.9,189.1C76.6,189.1 77.2,189.1 77.9,189.1C78.6,189.2 79.2,189.2 79.9,189.2C80.5,189.2 81.2,189.2 81.9,189.2C82.5,189.2 83.2,189.2 83.9,189.2C84.5,189.2 85.2,189.2 85.9,189.2C86.5,189.2 87.2,189.2 87.9,189.2C88.5,189.2 89.2,189.2 89.9,189.2C90.5,189.2 91.2,189.2 91.9,189.2C92.5,189.1 93.2,189.1 93.8,189.1C94.5,189.1 95.2,189.1 95.8,189.0C96.5,189.0 97.2,189.0 97.8,189.0C98.5,188.9 99.1,188.9 99.8,188.9C100.5,188.8 101.1,188.8 101.8,188.7C102.4,188.7 103.1,188.6 103.8,188.6C104.4,188.5 105.1,188.5 105.7,188.4C106.4,188.4 107.0,188.3 107.7,188.2C108.4,188.2 109.0,188.1 109.7,188.0C110.3,188.0 111.0,187.9 111.6,187.8C112.3,187.7 112.9,187.6 113.6,187.5C114.2,187.4 114.9,187.3 115.5,187.2C116.2,187.1 116.8,187.0 117.5,186.9C118.1,186.8 118.8,186.7 119.4,186.6C120.1,186.4 120.7,186.3 121.4,186.2C122.0,186.1 122.7,185.9 123.3,185.8C123.9,185.6 124.6,185.5 125.2,185.3C125.9,185.2 126.5,185.0 127.1,184.9C127.8,184.7 128.4,184.6 129.1,184.4C129.7,184.2 130.3,184.1 131.0,183.9C131.6,183.7 132.2,183.5 132.9,183.4C133.5,183.2 134.1,183.0 134.8,182.8C135.4,182.6 136.0,182.4 136.7,182.2C137.3,182.0 137.9,181.8 138.6,181.6C139.2,181.4 139.8,181.2 140.4,181.0C141.1,180.8 141.7,180.6 142.3,180.3C142.9,180.1 143.6,179.9 144.2,179.7C144.8,179.5 145.4,179.2 146.1,179.0C146.7,178.8 147.3,178.5 147.9,178.3C148.5,178.1 149.2,177.8 149.8,177.6C150.4,177.3 151.0,177.1 151.6,176.8C152.3,176.6 152.9,176.3 153.5,176.1C154.1,175.8 154.7,175.6 155.3,175.3C155.9,175.1 156.6,174.8 157.2,174.6C157.8,174.3 158.4,174.0 159.0,173.8C159.6,173.5 160.2,173.2 160.8,173.0C161.4,172.7 162.0,172.4 162.6,172.1C163.3,171.9 163.9,171.6 164.5,171.3C165.1,171.0 165.7,170.8 166.3,170.5C166.9,170.2 167.5,169.9 168.1,169.6C168.7,169.4 169.3,169.1 169.9,168.8C170.5,168.5 171.1,168.2 171.7,167.9C172.3,167.7 172.9,167.4 173.5,167.1C174.1,166.8 174.6,166.5 175.2,166.2C175.8,165.9 176.4,165.6 177.0,165.3C177.6,165.0 178.2,164.7 178.8,164.4C179.4,164.2 180.0,163.9 180.6,163.6C181.1,163.3 181.7,163.0 182.3,162.7C182.9,162.4 183.5,162.1 184.1,161.8C184.6,161.5 185.2,161.2 185.8,160.8C186.4,160.5 187.0,160.2 187.5,159.9C188.1,159.6 188.7,159.3 189.3,159.0C189.8,158.6 190.4,158.3 191.0,158.0C191.6,157.7 192.1,157.3 192.7,157.0C193.3,156.7 193.8,156.3 194.4,156.0C194.9,155.6 195.5,155.3 196.1,154.9C196.6,154.6 197.2,154.2 197.7,153.8C198.3,153.5 198.8,153.1 199.4,152.7C199.9,152.4 200.5,152.0 201.0,151.6C201.6,151.2 202.1,150.8 202.7,150.4C203.2,150.0 203.7,149.6 204.3,149.2C204.8,148.8 205.4,148.4 205.9,148.0C206.5,147.6 207.0,147.2 207.6,146.8C208.1,146.4 208.7,146.0 209.3,145.6C209.8,145.2 210.4,144.8 211.0,144.5C211.6,144.1 212.2,143.8 212.7,143.4C213.3,143.1 213.9,142.8 214.6,142.5C215.2,142.2 215.8,142.0 216.4,141.7C217.0,141.5 217.7,141.3 218.3,141.1C219.0,141.0 219.6,140.8 220.2,140.7C220.9,140.7 221.5,140.6 222.2,140.6C222.8,140.5 223.4,140.6 224.1,140.6C224.7,140.7 225.3,140.7 225.9,140.9C226.5,141.0 227.1,141.2 227.7,141.4C228.3,141.6 228.9,141.8 229.4,142.1C230.0,142.4 230.5,142.7 231.0,143.1C231.6,143.4 232.1,143.8 232.6,144.3C233.0,144.7 233.5,145.1 234.0,145.6C234.4,146.1 234.9,146.6 235.3,147.1C235.8,147.7 236.2,148.2 236.6,148.8C237.0,149.3 237.4,149.9 237.8,150.5C238.2,151.1 238.6,151.7 238.9,152.3C239.3,152.9 239.7,153.5 240.0,154.2C240.4,154.8 240.7,155.4 241.1,156.0C241.4,156.6 241.8,157.2 242.1,157.8C242.4,158.5 242.7,159.1 243.1,159.7C243.4,160.3 243.7,160.9 244.0,161.5C244.3,162.1 244.6,162.7 244.9,163.3C245.2,164.0 245.5,164.6 245.9,165.2C246.2,165.8 246.5,166.4 246.8,167.0C247.1,167.6 247.4,168.1 247.7,168.7C248.0,169.3 248.3,169.9 248.6,170.5C248.9,171.1 249.2,171.6 249.5,172.2C249.9,172.8 250.2,173.3 250.5,173.9C250.8,174.5 251.2,175.0 251.5,175.6C251.8,176.1 252.2,176.7 252.5,177.2C252.9,177.7 253.3,178.2 253.6,178.8C254.0,179.3 254.4,179.8 254.8,180.3C255.1,180.8 255.5,181.3 256.0,181.8C256.4,182.3 256.8,182.7 257.2,183.2C257.6,183.7 258.1,184.1 258.6,184.6C259.0,185.0 259.5,185.5 260.0,185.9C260.5,186.3 261.0,186.8 261.5,187.2C262.0,187.6 262.5,188.0 263.1,188.3C263.6,188.7 264.2,189.1 264.8,189.5C265.3,189.8 265.9,190.2 266.5,190.5C267.1,190.8 267.7,191.2 268.3,191.5C269.0,191.8 269.6,192.1 270.2,192.4C270.9,192.6 271.5,192.9 272.1,193.2C272.8,193.4 273.4,193.7 274.1,193.9C274.7,194.1 275.4,194.3 276.1,194.5C276.7,194.7 277.4,194.9 278.0,195.1C278.7,195.2 279.4,195.4 280.0,195.5C280.7,195.6 281.3,195.8 282.0,195.9C282.6,196.0 283.3,196.0 283.9,196.1C284.6,196.2 285.2,196.2 285.8,196.3C286.5,196.3 287.1,196.3 287.7,196.3" stroke="#008000" stroke-width="1.6" fill="none"/><path d="M40.1,188.7C40.8,188.7 41.4,188.7 42.1,188.6C42.8,188.6 43.4,188.6 44.1,188.5C44.7,188.5 45.4,188.5 46.1,188.5C46.7,188.5 47.4,188.4 48.1,188.4C48.7,188.4 49.4,188.4 50.1,188.4C50.7,188.4 51.4,188.3 52.1,188.3C52.7,188.3 53.4,188.3 54.1,188.3C54.7,188.3 55.4,188.3 56.1,188.2C56.7,188.2 57.4,188.2 58.1,188.2C58.7,188.2 59.4,188.2 60.1,188.2C60.7,188.2 61.4,188.2 62.1,188.2C62.7,188.2 63.4,188.1 64.1,188.1C64.7,188.1 65.4,188.1 66.1,188.1C66.7,188.1 67.4,188.1 68.1,188.1C68.7,188.1 69.4,188.1 70.1,188.1C70.7,188.1 71.4,188.1 72.1,188.0C72.7,188.0 73.4,188.0 74.1,188.0C74.7,188.0 75.4,188.0 76.1,188.0C76.7,188.0 77.4,188.0 78.1,188.0C78.7,187.9 79.4,187.9 80.1,187.9C80.7,187.9 81.4,187.9 82.1,187.9C82.7,187.9 83.4,187.8 84.1,187.8C84.7,187.8 85.4,187.8 86.1,187.8C86.7,187.7 87.4,187.7 88.1,187.7C88.7,187.7 89.4,187.6 90.1,187.6C90.7,187.6 91.4,187.6 92.1,187.5C92.7,187.5 93.4,187.5 94.1,187.4C94.7,187.4 95.4,187.4 96.1,187.3C96.7,187.3 97.4,187.3 98.0,187.2C98.7,187.2 99.4,187.1 100.0,187.1C100.7,187.0 101.4,187.0 102.0,187.0C102.7,186.9 103.4,186.9 104.0,186.8C104.7,186.7 105.3,186.7 106.0,186.6C106.7,186.6 107.3,186.5 108.0,186.4C108.7,186.4 109.3,186.3 110.0,186.2C110.6,186.2 111.3,186.1 112.0,186.0C112.6,185.9 113.3,185.9 113.9,185.8C114.6,185.7 115.3,185.6 115.9,185.5C116.6,185.4 117.2,185.3 117.9,185.3C118.6,185.2 119.2,185.1 119.9,185.0C120.5,184.9 121.2,184.7 121.8,184.6C122.5,184.5 123.2,184.4 123.8,184.3C124.5,184.2 125.1,184.1 125.8,184.0C126.4,183.8 127.1,183.7 127.7,183.6C128.4,183.5 129.0,183.3 129.7,183.2C130.3,183.1 131.0,182.9 131.6,182.8C132.3,182.6 133.0,182.5 133.6,182.4C134.3,182.2 134.9,182.1 135.5,181.9C136.2,181.8 136.8,181.6 137.5,181.5C138.1,181.3 138.8,181.1 139.4,181.0C140.1,180.8 140.7,180.6 141.4,180.5C142.0,180.3 142.7,180.1 143.3,180.0C143.9,179.8 144.6,179.6 145.2,179.4C145.9,179.3 146.5,179.1 147.1,178.9C147.8,178.7 148.4,178.5 149.1,178.3C149.7,178.1 150.3,177.9 151.0,177.7C151.6,177.5 152.2,177.3 152.9,177.1C153.5,176.9 154.1,176.7 154.8,176.5C155.4,176.3 156.0,176.1 156.6,175.9C157.3,175.7 157.9,175.5 158.5,175.3C159.2,175.0 159.8,174.8 160.4,174.6C161.0,174.4 161.7,174.2 162.3,173.9C162.9,173.7 163.5,173.5 164.1,173.2C164.8,173.0 165.4,172.8 166.0,172.5C166.6,172.3 167.2,172.1 167.8,171.8C168.5,171.6 169.1,171.3 169.7,171.1C170.3,170.8 170.9,170.6 171.5,170.4C172.1,170.1 172.7,169.8 173.3,169.6C174.0,169.3 174.6,169.1 175.2,168.8C175.8,168.6 176.4,168.3 177.0,168.0C177.6,167.8 178.2,167.5 178.8,167.2C179.4,167.0 180.0,166.7 180.6,166.4C181.2,166.2 181.8,165.9 182.4,165.6C183.0,165.3 183.6,165.0 184.2,164.8C184.8,164.5 185.4,164.2 186.0,163.9C186.6,163.6 187.2,163.4 187.8,163.1C188.4,162.8 189.0,162.5 189.6,162.2C190.2,161.9 190.8,161.6 191.5,161.3C192.1,161.0 192.7,160.7 193.3,160.4C193.9,160.1 194.6,159.8 195.2,159.5C195.8,159.2 196.4,158.9 197.1,158.6C197.7,158.3 198.3,158.0 199.0,157.8C199.6,157.5 200.2,157.2 200.9,156.9C201.5,156.7 202.1,156.4 202.8,156.2C203.4,155.9 204.1,155.7 204.7,155.4C205.4,155.2 206.0,155.0 206.6,154.8C207.3,154.6 207.9,154.5 208.6,154.3C209.2,154.1 209.9,154.0 210.5,153.9C211.2,153.8 211.8,153.7 212.5,153.6C213.1,153.5 213.8,153.5 214.4,153.5C215.1,153.4 215.7,153.4 216.4,153.4C217.0,153.5 217.7,153.5 218.3,153.5C218.9,153.6 219.6,153.7 220.2,153.8C220.8,153.8 221.5,154.0 222.1,154.1C222.7,154.2 223.4,154.4 224.0,154.5C224.6,154.7 225.2,154.9 225.8,155.1C226.4,155.3 227.0,155.5 227.6,155.8C228.2,156.0 228.8,156.3 229.4,156.5C230.0,156.8 230.6,157.1 231.2,157.4C231.7,157.7 232.3,158.1 232.9,158.4C233.4,158.7 234.0,159.1 234.5,159.5C235.0,159.9 235.6,160.3 236.1,160.7C236.6,161.1 237.1,161.5 237.6,161.9C238.2,162.4 238.6,162.8 239.1,163.3C239.6,163.8 240.1,164.3 240.6,164.8C241.0,165.3 241.5,165.8 242.0,166.3C242.4,166.8 242.9,167.3 243.3,167.8C243.8,168.4 244.2,168.9 244.7,169.4C245.1,170.0 245.5,170.5 246.0,171.0C246.4,171.6 246.9,172.1 247.3,172.6C247.7,173.2 248.2,173.7 248.6,174.2C249.0,174.8 249.5,175.3 249.9,175.8C250.4,176.4 250.8,176.9 251.3,177.4C251.7,177.9 252.2,178.4 252.6,178.9C253.1,179.3 253.6,179.8 254.1,180.3C254.5,180.7 255.0,181.2 255.5,181.6C256.0,182.0 256.5,182.5 257.0,182.8C257.5,183.2 258.1,183.6 258.6,184.0C259.1,184.3 259.7,184.7 260.2,185.0C260.8,185.3 261.4,185.6 262.0,185.8C262.5,186.1 263.1,186.3 263.8,186.6C264.4,186.8 265.0,187.0 265.6,187.2C266.2,187.4 266.9,187.5 267.5,187.7C268.2,187.8 268.8,188.0 269.5,188.1C270.1,188.2 270.8,188.3 271.5,188.4C272.1,188.5 272.8,188.6 273.5,188.7C274.2,188.7 274.8,188.8 275.5,188.8C276.2,188.9 276.9,188.9 277.6,189.0C278.3,189.0 278.9,189.1 279.6,189.1C280.3,189.1 281.0,189.1 281.7,189.1C282.4,189.2 283.0,189.2 283.7,189.2C284.4,189.2 285.1,189.2 285.7,189.2C286.4,189.3 287.1,189.3 287.7,189.3" stroke="#000080" stroke-width="1.6" fill="none"/><path d="M40.1,188.7C40.8,188.7 41.4,188.7 42.1,188.7C42.8,188.7 43.4,188.7 44.1,188.7C44.8,188.7 45.4,188.7 46.1,188.7C46.8,188.7 47.4,188.7 48.1,188.7C48.8,188.7 49.4,188.7 50.1,188.7C50.8,188.7 51.4,188.7 52.1,188.7C52.8,188.7 53.4,188.7 54.1,188.7C54.7,188.7 55.4,188.7 56.1,188.7C56.7,188.7 57.4,188.7 58.1,188.7C58.7,188.7 59.4,188.7 60.1,188.7C60.7,188.7 61.4,188.6 62.1,188.6C62.7,188.6 63.4,188.6 64.1,188.6C64.7,188.6 65.4,188.6 66.1,188.6C66.7,188.6 67.4,188.5 68.1,188.5C68.7,188.5 69.4,188.5 70.1,188.5C70.7,188.5 71.4,188.5 72.1,188.4C72.7,188.4 73.4,188.4 74.0,188.4C74.7,188.4 75.4,188.3 76.0,188.3C76.7,188.3 77.4,188.3 78.0,188.3C78.7,188.2 79.4,188.2 80.0,188.2C80.7,188.2 81.4,188.1 82.0,188.1C82.7,188.1 83.4,188.0 84.0,188.0C84.7,188.0 85.3,188.0 86.0,187.9C86.7,187.9 87.3,187.9 88.0,187.8C88.7,187.8 89.3,187.8 90.0,187.7C90.7,187.7 91.3,187.7 92.0,187.6C92.6,187.6 93.3,187.5 94.0,187.5C94.6,187.5 95.3,187.4 96.0,187.4C96.6,187.3 97.3,187.3 97.9,187.2C98.6,187.2 99.3,187.1 99.9,187.1C100.6,187.0 101.3,187.0 101.9,186.9C102.6,186.9 103.2,186.8 103.9,186.8C104.6,186.7 105.2,186.7 105.9,186.6C106.5,186.6 107.2,186.5 107.9,186.5C108.5,186.4 109.2,186.3 109.8,186.3C110.5,186.2 111.2,186.2 111.8,186.1C112.5,186.0 113.1,186.0 113.8,185.9C114.5,185.8 115.1,185.8 115.8,185.7C116.4,185.6 117.1,185.5 117.8,185.5C118.4,185.4 119.1,185.3 119.7,185.3C120.4,185.2 121.1,185.1 121.7,185.0C122.4,184.9 123.0,184.9 123.7,184.8C124.3,184.7 125.0,184.6 125.7,184.5C126.3,184.4 127.0,184.4 127.6,184.3C128.3,184.2 128.9,184.1 129.6,184.0C130.3,183.9 130.9,183.8 131.6,183.7C132.2,183.6 132.9,183.5 133.5,183.4C134.2,183.3 134.9,183.2 135.5,183.1C136.2,183.0 136.8,182.9 137.5,182.8C138.1,182.7 138.8,182.6 139.4,182.5C140.1,182.4 140.7,182.3 141.4,182.2C142.1,182.1 142.7,181.9 143.4,181.8C144.0,181.7 144.7,181.6 145.3,181.5C146.0,181.4 146.6,181.2 147.3,181.1C147.9,181.0 148.6,180.9 149.2,180.7C149.9,180.6 150.5,180.5 151.2,180.3C151.8,180.2 152.5,180.1 153.1,179.9C153.8,179.8 154.4,179.7 155.1,179.5C155.7,179.4 156.4,179.3 157.0,179.1C157.7,179.0 158.3,178.8 159.0,178.7C159.6,178.5 160.3,178.4 160.9,178.2C161.6,178.1 162.2,177.9 162.9,177.8C163.5,177.6 164.2,177.5 164.8,177.3C165.5,177.2 166.1,177.0 166.7,176.8C167.4,176.7 168.0,176.5 168.7,176.3C169.3,176.2 170.0,176.0 170.6,175.8C171.3,175.7 171.9,175.5 172.6,175.3C173.2,175.1 173.8,175.0 174.5,174.8C175.1,174.6 175.8,174.4 176.4,174.2C177.1,174.0 177.7,173.9 178.3,173.7C179.0,173.5 179.6,173.3 180.3,173.1C180.9,172.9 181.6,172.7 182.2,172.5C182.8,172.4 183.5,172.2 184.1,172.0C184.8,171.8 185.4,171.6 186.1,171.4C186.7,171.2 187.3,171.1 188.0,170.9C188.6,170.7 189.3,170.5 189.9,170.4C190.6,170.2 191.2,170.0 191.9,169.9C192.5,169.7 193.1,169.5 193.8,169.4C194.4,169.2 195.1,169.1 195.7,168.9C196.4,168.8 197.0,168.7 197.7,168.5C198.3,168.4 199.0,168.3 199.6,168.2C200.3,168.0 200.9,167.9 201.6,167.8C202.3,167.7 202.9,167.6 203.6,167.6C204.2,167.5 204.9,167.4 205.6,167.3C206.2,167.3 206.9,167.2 207.5,167.2C208.2,167.1 208.9,167.1 209.5,167.1C210.2,167.0 210.9,167.0 211.5,167.0C212.2,167.0 212.8,167.0 213.5,167.0C214.2,167.0 214.8,167.0 215.5,167.1C216.1,167.1 216.8,167.2 217.5,167.2C218.1,167.3 218.8,167.3 219.4,167.4C220.1,167.5 220.7,167.6 221.4,167.7C222.0,167.8 222.7,167.9 223.3,168.0C224.0,168.2 224.6,168.3 225.3,168.5C225.9,168.6 226.5,168.8 227.2,168.9C227.8,169.1 228.4,169.3 229.0,169.5C229.7,169.7 230.3,169.9 230.9,170.2C231.5,170.4 232.1,170.6 232.7,170.9C233.3,171.1 233.9,171.4 234.5,171.7C235.1,172.0 235.7,172.3 236.3,172.6C236.9,172.9 237.5,173.2 238.1,173.5C238.6,173.8 239.2,174.2 239.8,174.5C240.4,174.9 240.9,175.2 241.5,175.5C242.1,175.9 242.7,176.3 243.2,176.6C243.8,177.0 244.4,177.3 244.9,177.7C245.5,178.1 246.0,178.4 246.6,178.8C247.2,179.2 247.7,179.6 248.3,179.9C248.9,180.3 249.4,180.7 250.0,181.0C250.6,181.4 251.1,181.7 251.7,182.1C252.3,182.4 252.8,182.8 253.4,183.1C254.0,183.5 254.6,183.8 255.1,184.1C255.7,184.5 256.3,184.8 256.9,185.1C257.5,185.4 258.0,185.7 258.6,186.0C259.2,186.3 259.8,186.6 260.4,186.8C261.0,187.1 261.6,187.3 262.2,187.6C262.8,187.8 263.5,188.1 264.1,188.3C264.7,188.5 265.3,188.7 265.9,188.9C266.6,189.1 267.2,189.3 267.8,189.5C268.4,189.7 269.1,189.8 269.7,190.0C270.3,190.1 271.0,190.3 271.6,190.4C272.3,190.6 272.9,190.7 273.6,190.8C274.2,190.9 274.9,191.1 275.5,191.2C276.2,191.3 276.8,191.4 277.5,191.4C278.2,191.5 278.8,191.6 279.5,191.7C280.2,191.7 280.9,191.8 281.5,191.8C282.2,191.9 282.9,191.9 283.6,191.9C284.3,192.0 284.9,192.0 285.6,192.0C286.3,192.0 287.0,192.0 287.7,192.0" stroke="#8000ff" stroke-width="1.6" fill="none"/><path d="M40.1,188.7C40.8,188.7 41.4,188.7 42.1,188.7C42.8,188.7 43.4,188.7 44.1,188.7C44.7,188.7 45.4,188.6 46.1,188.6C46.7,188.6 47.4,188.6 48.1,188.6C48.7,188.6 49.4,188.6 50.1,188.6C50.7,188.6 51.4,188.6 52.0,188.6C52.7,188.6 53.4,188.6 54.0,188.6C54.7,188.6 55.4,188.6 56.0,188.6C56.7,188.6 57.4,188.6 58.0,188.6C58.7,188.6 59.4,188.6 60.0,188.6C60.7,188.6 61.3,188.5 62.0,188.5C62.7,188.5 63.3,188.5 64.0,188.5C64.7,188.5 65.3,188.5 66.0,188.5C66.7,188.5 67.3,188.5 68.0,188.5C68.7,188.5 69.3,188.5 70.0,188.5C70.6,188.5 71.3,188.5 72.0,188.4C72.6,188.4 73.3,188.4 74.0,188.4C74.6,188.4 75.3,188.4 76.0,188.4C76.6,188.4 77.3,188.4 77.9,188.3C78.6,188.3 79.3,188.3 79.9,188.3C80.6,188.3 81.3,188.3 81.9,188.3C82.6,188.2 83.3,188.2 83.9,188.2C84.6,188.2 85.2,188.2 85.9,188.1C86.6,188.1 87.2,188.1 87.9,188.1C88.6,188.1 89.2,188.0 89.9,188.0C90.6,188.0 91.2,188.0 91.9,187.9C92.5,187.9 93.2,187.9 93.9,187.8C94.5,187.8 95.2,187.8 95.9,187.7C96.5,187.7 97.2,187.7 97.8,187.6C98.5,187.6 99.2,187.6 99.8,187.5C100.5,187.5 101.1,187.5 101.8,187.4C102.5,187.4 103.1,187.3 103.8,187.3C104.5,187.2 105.1,187.2 105.8,187.1C106.4,187.1 107.1,187.0 107.8,187.0C108.4,186.9 109.1,186.9 109.7,186.8C110.4,186.8 111.1,186.7 111.7,186.6C112.4,186.6 113.0,186.5 113.7,186.5C114.4,186.4 115.0,186.3 115.7,186.3C116.3,186.2 117.0,186.1 117.6,186.0C118.3,186.0 119.0,185.9 119.6,185.8C120.3,185.7 120.9,185.7 121.6,185.6C122.3,185.5 122.9,185.4 123.6,185.3C124.2,185.2 124.9,185.2 125.5,185.1C126.2,185.0 126.8,184.9 127.5,184.8C128.2,184.7 128.8,184.6 129.5,184.5C130.1,184.4 130.8,184.3 131.4,184.2C132.1,184.1 132.7,184.0 133.4,183.9C134.1,183.8 134.7,183.7 135.4,183.6C136.0,183.4 136.7,183.3 137.3,183.2C138.0,183.1 138.6,183.0 139.3,182.9C140.0,182.8 140.6,182.7 141.3,182.5C141.9,182.4 142.6,182.3 143.2,182.2C143.9,182.1 144.5,182.0 145.2,181.8C145.8,181.7 146.5,181.6 147.1,181.5C147.8,181.3 148.5,181.2 149.1,181.1C149.8,181.0 150.4,180.9 151.1,180.7C151.7,180.6 152.4,180.5 153.0,180.4C153.7,180.2 154.3,180.1 155.0,180.0C155.7,179.9 156.3,179.7 157.0,179.6C157.6,179.5 158.3,179.4 158.9,179.2C159.6,179.1 160.2,179.0 160.9,178.9C161.5,178.8 162.2,178.6 162.9,178.5C163.5,178.4 164.2,178.3 164.8,178.2C165.5,178.0 166.1,177.9 166.8,177.8C167.4,177.7 168.1,177.6 168.8,177.4C169.4,177.3 170.1,177.2 170.7,177.1C171.4,177.0 172.0,176.9 172.7,176.8C173.4,176.6 174.0,176.5 174.7,176.4C175.3,176.3 176.0,176.2 176.6,176.1C177.3,176.0 178.0,175.9 178.6,175.8C179.3,175.7 179.9,175.6 180.6,175.5C181.3,175.4 181.9,175.3 182.6,175.2C183.2,175.1 183.9,175.0 184.6,174.9C185.2,174.8 185.9,174.7 186.5,174.7C187.2,174.6 187.9,174.5 188.5,174.4C189.2,174.3 189.8,174.3 190.5,174.2C191.2,174.1 191.8,174.0 192.5,174.0C193.2,173.9 193.8,173.8 194.5,173.8C195.1,173.7 195.8,173.7 196.5,173.6C197.1,173.6 197.8,173.5 198.4,173.5C199.1,173.5 199.8,173.4 200.4,173.4C201.1,173.4 201.8,173.4 202.4,173.3C203.1,173.3 203.7,173.3 204.4,173.3C205.1,173.3 205.7,173.3 206.4,173.3C207.0,173.3 207.7,173.4 208.3,173.4C209.0,173.4 209.7,173.5 210.3,173.5C211.0,173.5 211.6,173.6 212.3,173.7C212.9,173.7 213.6,173.8 214.2,173.9C214.9,173.9 215.5,174.0 216.2,174.1C216.8,174.2 217.5,174.3 218.1,174.4C218.8,174.5 219.4,174.6 220.1,174.7C220.7,174.8 221.4,175.0 222.0,175.1C222.7,175.2 223.3,175.4 224.0,175.5C224.6,175.7 225.3,175.8 225.9,175.9C226.5,176.1 227.2,176.3 227.8,176.4C228.5,176.6 229.1,176.7 229.8,176.9C230.4,177.1 231.0,177.3 231.7,177.4C232.3,177.6 233.0,177.8 233.6,178.0C234.2,178.2 234.9,178.4 235.5,178.6C236.2,178.8 236.8,178.9 237.4,179.1C238.1,179.3 238.7,179.5 239.3,179.7C240.0,179.9 240.6,180.1 241.2,180.4C241.9,180.6 242.5,180.8 243.1,181.0C243.8,181.2 244.4,181.4 245.0,181.6C245.7,181.8 246.3,182.0 246.9,182.2C247.6,182.4 248.2,182.6 248.9,182.9C249.5,183.1 250.1,183.3 250.8,183.5C251.4,183.7 252.0,183.9 252.7,184.1C253.3,184.3 253.9,184.5 254.6,184.7C255.2,184.9 255.8,185.1 256.5,185.3C257.1,185.5 257.7,185.7 258.4,185.9C259.0,186.1 259.7,186.2 260.3,186.4C260.9,186.6 261.6,186.8 262.2,187.0C262.9,187.1 263.5,187.3 264.1,187.5C264.8,187.6 265.4,187.8 266.1,188.0C266.7,188.1 267.3,188.3 268.0,188.4C268.6,188.6 269.3,188.7 269.9,188.9C270.6,189.0 271.2,189.1 271.9,189.3C272.5,189.4 273.2,189.5 273.8,189.6C274.5,189.8 275.1,189.9 275.8,190.0C276.4,190.1 277.1,190.2 277.8,190.3C278.4,190.4 279.1,190.5 279.7,190.6C280.4,190.7 281.0,190.7 281.7,190.8C282.4,190.9 283.0,190.9 283.7,191.0C284.4,191.1 285.0,191.1 285.7,191.2C286.4,191.2 287.0,191.2 287.7,191.3" stroke="#800080" stroke-width="1.6" fill="none"/><path d="M40.1,188.7C40.8,188.7 41.4,188.7 42.1,188.7C42.8,188.7 43.4,188.7 44.1,188.7C44.8,188.7 45.4,188.6 46.1,188.6C46.8,188.6 47.4,188.6 48.1,188.6C48.7,188.6 49.4,188.6 50.1,188.6C50.7,188.6 51.4,188.6 52.1,188.6C52.7,188.6 53.4,188.6 54.1,188.6C54.7,188.6 55.4,188.6 56.1,188.6C56.7,188.6 57.4,188.6 58.0,188.6C58.7,188.6 59.4,188.6 60.0,188.6C60.7,188.6 61.4,188.6 62.0,188.6C62.7,188.6 63.4,188.6 64.0,188.6C64.7,188.6 65.3,188.6 66.0,188.6C66.7,188.6 67.3,188.6 68.0,188.6C68.7,188.6 69.3,188.6 70.0,188.6C70.7,188.6 71.3,188.6 72.0,188.6C72.6,188.6 73.3,188.6 74.0,188.6C74.6,188.6 75.3,188.6 76.0,188.6C76.6,188.6 77.3,188.6 77.9,188.6C78.6,188.5 79.3,188.5 79.9,188.5C80.6,188.5 81.3,188.5 81.9,188.5C82.6,188.5 83.2,188.5 83.9,188.5C84.6,188.5 85.2,188.5 85.9,188.5C86.6,188.4 87.2,188.4 87.9,188.4C88.5,188.4 89.2,188.4 89.9,188.4C90.5,188.4 91.2,188.4 91.9,188.3C92.5,188.3 93.2,188.3 93.8,188.3C94.5,188.3 95.2,188.2 95.8,188.2C96.5,188.2 97.2,188.2 97.8,188.2C98.5,188.1 99.1,188.1 99.8,188.1C100.5,188.1 101.1,188.0 101.8,188.0C102.5,188.0 103.1,188.0 103.8,187.9C104.4,187.9 105.1,187.9 105.8,187.8C106.4,187.8 107.1,187.8 107.7,187.7C108.4,187.7 109.1,187.6 109.7,187.6C110.4,187.6 111.1,187.5 111.7,187.5C112.4,187.4 113.0,187.4 113.7,187.4C114.4,187.3 115.0,187.3 115.7,187.2C116.3,187.2 117.0,187.1 117.7,187.1C118.3,187.0 119.0,186.9 119.7,186.9C120.3,186.8 121.0,186.8 121.6,186.7C122.3,186.6 123.0,186.6 123.6,186.5C124.3,186.5 125.0,186.4 125.6,186.3C126.3,186.3 126.9,186.2 127.6,186.1C128.3,186.0 128.9,186.0 129.6,185.9C130.2,185.8 130.9,185.7 131.6,185.7C132.2,185.6 132.9,185.5 133.6,185.4C134.2,185.3 134.9,185.3 135.5,185.2C136.2,185.1 136.9,185.0 137.5,184.9C138.2,184.9 138.8,184.8 139.5,184.7C140.2,184.6 140.8,184.5 141.5,184.4C142.1,184.4 142.8,184.3 143.5,184.2C144.1,184.1 144.8,184.0 145.5,183.9C146.1,183.8 146.8,183.8 147.4,183.7C148.1,183.6 148.8,183.5 149.4,183.4C150.1,183.3 150.7,183.2 151.4,183.1C152.1,183.1 152.7,183.0 153.4,182.9C154.1,182.8 154.7,182.7 155.4,182.6C156.0,182.6 156.7,182.5 157.4,182.4C158.0,182.3 158.7,182.2 159.3,182.1C160.0,182.1 160.7,182.0 161.3,181.9C162.0,181.8 162.6,181.8 163.3,181.7C164.0,181.6 164.6,181.5 165.3,181.5C166.0,181.4 166.6,181.3 167.3,181.2C167.9,181.2 168.6,181.1 169.3,181.0C169.9,181.0 170.6,180.9 171.2,180.8C171.9,180.8 172.6,180.7 173.2,180.6C173.9,180.6 174.5,180.5 175.2,180.5C175.9,180.4 176.5,180.4 177.2,180.3C177.8,180.3 178.5,180.2 179.2,180.2C179.8,180.1 180.5,180.1 181.1,180.0C181.8,180.0 182.5,180.0 183.1,179.9C183.8,179.9 184.4,179.8 185.1,179.8C185.8,179.8 186.4,179.8 187.1,179.7C187.8,179.7 188.4,179.7 189.1,179.7C189.7,179.6 190.4,179.6 191.1,179.6C191.7,179.6 192.4,179.6 193.0,179.6C193.7,179.6 194.4,179.6 195.0,179.6C195.7,179.6 196.3,179.6 197.0,179.6C197.7,179.6 198.3,179.6 199.0,179.6C199.6,179.6 200.3,179.6 201.0,179.6C201.6,179.6 202.3,179.7 202.9,179.7C203.6,179.7 204.2,179.7 204.9,179.7C205.6,179.8 206.2,179.8 206.9,179.8C207.5,179.9 208.2,179.9 208.9,179.9C209.5,180.0 210.2,180.0 210.8,180.0C211.5,180.1 212.2,180.1 212.8,180.2C213.5,180.2 214.1,180.3 214.8,180.3C215.4,180.4 216.1,180.4 216.8,180.5C217.4,180.5 218.1,180.6 218.7,180.7C219.4,180.7 220.1,180.8 220.7,180.8C221.4,180.9 222.0,181.0 222.7,181.1C223.3,181.1 224.0,181.2 224.7,181.3C225.3,181.3 226.0,181.4 226.6,181.5C227.3,181.6 227.9,181.7 228.6,181.8C229.3,181.8 229.9,181.9 230.6,182.0C231.2,182.1 231.9,182.2 232.5,182.3C233.2,182.4 233.8,182.5 234.5,182.6C235.2,182.7 235.8,182.8 236.5,182.9C237.1,183.0 237.8,183.1 238.4,183.2C239.1,183.3 239.7,183.4 240.4,183.6C241.1,183.7 241.7,183.8 242.4,183.9C243.0,184.0 243.7,184.1 244.3,184.2C245.0,184.4 245.6,184.5 246.3,184.6C246.9,184.7 247.6,184.8 248.3,185.0C248.9,185.1 249.6,185.2 250.2,185.3C250.9,185.5 251.5,185.6 252.2,185.7C252.8,185.8 253.5,185.9 254.1,186.1C254.8,186.2 255.5,186.3 256.1,186.4C256.8,186.5 257.4,186.7 258.1,186.8C258.7,186.9 259.4,187.0 260.0,187.1C260.7,187.3 261.3,187.4 262.0,187.5C262.7,187.6 263.3,187.7 264.0,187.8C264.6,187.9 265.3,188.0 265.9,188.1C266.6,188.2 267.3,188.4 267.9,188.5C268.6,188.6 269.2,188.7 269.9,188.8C270.5,188.9 271.2,188.9 271.9,189.0C272.5,189.1 273.2,189.2 273.8,189.3C274.5,189.4 275.1,189.5 275.8,189.5C276.5,189.6 277.1,189.7 277.8,189.8C278.4,189.8 279.1,189.9 279.8,190.0C280.4,190.0 281.1,190.1 281.7,190.1C282.4,190.2 283.1,190.2 283.7,190.3C284.4,190.3 285.0,190.4 285.7,190.4C286.4,190.5 287.0,190.5 287.7,190.5" stroke="#800000" stroke-width="1.6" fill="none"/><path d="M40.1,188.7C40.8,188.7 41.4,188.7 42.1,188.8C42.7,188.8 43.4,188.8 44.1,188.8C44.7,188.9 45.4,188.9 46.1,188.9C46.7,188.9 47.4,189.0 48.0,189.0C48.7,189.0 49.4,189.0 50.0,189.0C50.7,189.0 51.3,189.1 52.0,189.1C52.7,189.1 53.3,189.1 54.0,189.1C54.7,189.1 55.3,189.1 56.0,189.1C56.6,189.1 57.3,189.1 58.0,189.1C58.6,189.1 59.3,189.2 59.9,189.2C60.6,189.2 61.3,189.2 61.9,189.2C62.6,189.1 63.3,189.1 63.9,189.1C64.6,189.1 65.2,189.1 65.9,189.1C66.6,189.1 67.2,189.1 67.9,189.1C68.5,189.1 69.2,189.1 69.9,189.1C70.5,189.1 71.2,189.0 71.8,189.0C72.5,189.0 73.2,189.0 73.8,189.0C74.5,189.0 75.2,189.0 75.8,188.9C76.5,188.9 77.1,188.9 77.8,188.9C78.5,188.9 79.1,188.8 79.8,188.8C80.4,188.8 81.1,188.8 81.8,188.7C82.4,188.7 83.1,188.7 83.7,188.7C84.4,188.6 85.1,188.6 85.7,188.6C86.4,188.6 87.0,188.5 87.7,188.5C88.4,188.5 89.0,188.5 89.7,188.4C90.4,188.4 91.0,188.4 91.7,188.3C92.3,188.3 93.0,188.3 93.7,188.2C94.3,188.2 95.0,188.2 95.6,188.1C96.3,188.1 97.0,188.1 97.6,188.0C98.3,188.0 98.9,188.0 99.6,187.9C100.3,187.9 100.9,187.8 101.6,187.8C102.2,187.8 102.9,187.7 103.6,187.7C104.2,187.7 104.9,187.6 105.6,187.6C106.2,187.5 106.9,187.5 107.5,187.5C108.2,187.4 108.9,187.4 109.5,187.3C110.2,187.3 110.8,187.3 111.5,187.2C112.2,187.2 112.8,187.1 113.5,187.1C114.1,187.0 114.8,187.0 115.5,187.0C116.1,186.9 116.8,186.9 117.4,186.8C118.1,186.8 118.8,186.7 119.4,186.7C120.1,186.7 120.7,186.6 121.4,186.6C122.1,186.5 122.7,186.5 123.4,186.4C124.0,186.4 124.7,186.4 125.4,186.3C126.0,186.3 126.7,186.2 127.3,186.2C128.0,186.1 128.7,186.1 129.3,186.0C130.0,186.0 130.7,186.0 131.3,185.9C132.0,185.9 132.6,185.8 133.3,185.8C134.0,185.7 134.6,185.7 135.3,185.7C135.9,185.6 136.6,185.6 137.3,185.5C137.9,185.5 138.6,185.5 139.2,185.4C139.9,185.4 140.6,185.3 141.2,185.3C141.9,185.2 142.5,185.2 143.2,185.2C143.9,185.1 144.5,185.1 145.2,185.0C145.8,185.0 146.5,185.0 147.2,184.9C147.8,184.9 148.5,184.9 149.1,184.8C149.8,184.8 150.5,184.7 151.1,184.7C151.8,184.7 152.4,184.6 153.1,184.6C153.8,184.6 154.4,184.5 155.1,184.5C155.7,184.5 156.4,184.4 157.1,184.4C157.7,184.4 158.4,184.3 159.0,184.3C159.7,184.3 160.4,184.2 161.0,184.2C161.7,184.2 162.3,184.1 163.0,184.1C163.7,184.1 164.3,184.1 165.0,184.0C165.6,184.0 166.3,184.0 167.0,184.0C167.6,183.9 168.3,183.9 168.9,183.9C169.6,183.9 170.3,183.8 170.9,183.8C171.6,183.8 172.2,183.8 172.9,183.8C173.6,183.7 174.2,183.7 174.9,183.7C175.6,183.7 176.2,183.7 176.9,183.7C177.5,183.6 178.2,183.6 178.9,183.6C179.5,183.6 180.2,183.6 180.8,183.6C181.5,183.6 182.2,183.6 182.8,183.5C183.5,183.5 184.1,183.5 184.8,183.5C185.5,183.5 186.1,183.5 186.8,183.5C187.4,183.5 188.1,183.5 188.8,183.5C189.4,183.5 190.1,183.5 190.7,183.5C191.4,183.5 192.1,183.5 192.7,183.5C193.4,183.5 194.0,183.5 194.7,183.5C195.4,183.5 196.0,183.5 196.7,183.5C197.3,183.5 198.0,183.5 198.7,183.5C199.3,183.5 200.0,183.5 200.6,183.5C201.3,183.6 202.0,183.6 202.6,183.6C203.3,183.6 203.9,183.6 204.6,183.6C205.3,183.6 205.9,183.6 206.6,183.7C207.2,183.7 207.9,183.7 208.6,183.7C209.2,183.7 209.9,183.7 210.5,183.8C211.2,183.8 211.9,183.8 212.5,183.8C213.2,183.8 213.8,183.9 214.5,183.9C215.2,183.9 215.8,183.9 216.5,184.0C217.1,184.0 217.8,184.0 218.5,184.0C219.1,184.1 219.8,184.1 220.4,184.1C221.1,184.1 221.8,184.2 222.4,184.2C223.1,184.2 223.7,184.3 224.4,184.3C225.1,184.3 225.7,184.4 226.4,184.4C227.0,184.4 227.7,184.5 228.4,184.5C229.0,184.6 229.7,184.6 230.3,184.6C231.0,184.7 231.7,184.7 232.3,184.8C233.0,184.8 233.6,184.8 234.3,184.9C235.0,184.9 235.6,185.0 236.3,185.0C236.9,185.1 237.6,185.1 238.3,185.1C238.9,185.2 239.6,185.2 240.2,185.3C240.9,185.3 241.6,185.4 242.2,185.4C242.9,185.5 243.5,185.5 244.2,185.6C244.8,185.6 245.5,185.7 246.2,185.7C246.8,185.8 247.5,185.8 248.1,185.9C248.8,185.9 249.5,186.0 250.1,186.1C250.8,186.1 251.4,186.2 252.1,186.2C252.8,186.3 253.4,186.3 254.1,186.4C254.7,186.4 255.4,186.5 256.1,186.6C256.7,186.6 257.4,186.7 258.0,186.7C258.7,186.8 259.4,186.8 260.0,186.9C260.7,187.0 261.3,187.0 262.0,187.1C262.7,187.1 263.3,187.2 264.0,187.3C264.6,187.3 265.3,187.4 265.9,187.4C266.6,187.5 267.3,187.6 267.9,187.6C268.6,187.7 269.2,187.8 269.9,187.8C270.6,187.9 271.2,187.9 271.9,188.0C272.5,188.1 273.2,188.1 273.9,188.2C274.5,188.3 275.2,188.3 275.8,188.4C276.5,188.5 277.2,188.5 277.8,188.6C278.5,188.6 279.1,188.7 279.8,188.8C280.5,188.8 281.1,188.9 281.8,189.0C282.4,189.0 283.1,189.1 283.7,189.2C284.4,189.2 285.1,189.3 285.7,189.3C286.4,189.4 287.0,189.5 287.7,189.5" stroke="#808000" stroke-width="1.6" fill="none"/><path d="M40.1,188.7C40.8,188.7 41.4,188.7 42.1,188.7C42.8,188.7 43.4,188.7 44.1,188.7C44.8,188.7 45.4,188.7 46.1,188.7C46.8,188.6 47.4,188.6 48.1,188.6C48.8,188.6 49.4,188.6 50.1,188.6C50.8,188.6 51.4,188.6 52.1,188.6C52.8,188.6 53.4,188.5 54.1,188.5C54.7,188.5 55.4,188.5 56.1,188.5C56.7,188.5 57.4,188.5 58.1,188.5C58.7,188.5 59.4,188.4 60.1,188.4C60.7,188.4 61.4,188.4 62.1,188.4C62.7,188.4 63.4,188.4 64.1,188.4C64.7,188.3 65.4,188.3 66.1,188.3C66.7,188.3 67.4,188.3 68.1,188.3C68.7,188.3 69.4,188.2 70.1,188.2C70.7,188.2 71.4,188.2 72.1,188.2C72.7,188.2 73.4,188.1 74.1,188.1C74.7,188.1 75.4,188.1 76.1,188.1C76.7,188.1 77.4,188.0 78.1,188.0C78.7,188.0 79.4,188.0 80.1,188.0C80.7,188.0 81.4,187.9 82.0,187.9C82.7,187.9 83.4,187.9 84.0,187.9C84.7,187.9 85.4,187.8 86.0,187.8C86.7,187.8 87.4,187.8 88.0,187.8C88.7,187.7 89.4,187.7 90.0,187.7C90.7,187.7 91.4,187.7 92.0,187.7C92.7,187.6 93.4,187.6 94.0,187.6C94.7,187.6 95.4,187.6 96.0,187.5C96.7,187.5 97.4,187.5 98.0,187.5C98.7,187.5 99.4,187.4 100.0,187.4C100.7,187.4 101.4,187.4 102.0,187.4C102.7,187.3 103.4,187.3 104.0,187.3C104.7,187.3 105.4,187.3 106.0,187.3C106.7,187.2 107.3,187.2 108.0,187.2C108.7,187.2 109.3,187.2 110.0,187.1C110.7,187.1 111.3,187.1 112.0,187.1C112.7,187.1 113.3,187.0 114.0,187.0C114.7,187.0 115.3,187.0 116.0,187.0C116.7,186.9 117.3,186.9 118.0,186.9C118.7,186.9 119.3,186.9 120.0,186.8C120.7,186.8 121.3,186.8 122.0,186.8C122.7,186.8 123.3,186.7 124.0,186.7C124.7,186.7 125.3,186.7 126.0,186.7C126.7,186.6 127.3,186.6 128.0,186.6C128.7,186.6 129.3,186.6 130.0,186.6C130.6,186.5 131.3,186.5 132.0,186.5C132.6,186.5 133.3,186.5 134.0,186.4C134.6,186.4 135.3,186.4 136.0,186.4C136.6,186.4 137.3,186.4 138.0,186.3C138.6,186.3 139.3,186.3 140.0,186.3C140.6,186.3 141.3,186.2 142.0,186.2C142.6,186.2 143.3,186.2 144.0,186.2C144.6,186.2 145.3,186.1 146.0,186.1C146.6,186.1 147.3,186.1 148.0,186.1C148.6,186.1 149.3,186.1 150.0,186.0C150.6,186.0 151.3,186.0 152.0,186.0C152.6,186.0 153.3,186.0 153.9,185.9C154.6,185.9 155.3,185.9 155.9,185.9C156.6,185.9 157.3,185.9 157.9,185.9C158.6,185.8 159.3,185.8 159.9,185.8C160.6,185.8 161.3,185.8 161.9,185.8C162.6,185.8 163.3,185.8 163.9,185.7C164.6,185.7 165.3,185.7 165.9,185.7C166.6,185.7 167.3,185.7 167.9,185.7C168.6,185.7 169.3,185.7 169.9,185.6C170.6,185.6 171.3,185.6 171.9,185.6C172.6,185.6 173.3,185.6 173.9,185.6C174.6,185.6 175.2,185.6 175.9,185.6C176.6,185.6 177.2,185.5 177.9,185.5C178.6,185.5 179.2,185.5 179.9,185.5C180.6,185.5 181.2,185.5 181.9,185.5C182.6,185.5 183.2,185.5 183.9,185.5C184.6,185.5 185.2,185.5 185.9,185.5C186.6,185.5 187.2,185.5 187.9,185.5C188.6,185.4 189.2,185.4 189.9,185.4C190.6,185.4 191.2,185.4 191.9,185.4C192.6,185.4 193.2,185.4 193.9,185.4C194.5,185.4 195.2,185.4 195.9,185.4C196.5,185.4 197.2,185.4 197.9,185.4C198.5,185.4 199.2,185.4 199.9,185.4C200.5,185.4 201.2,185.4 201.9,185.4C202.5,185.4 203.2,185.4 203.9,185.4C204.5,185.4 205.2,185.5 205.9,185.5C206.5,185.5 207.2,185.5 207.9,185.5C208.5,185.5 209.2,185.5 209.9,185.5C210.5,185.5 211.2,185.5 211.9,185.5C212.5,185.5 213.2,185.5 213.8,185.5C214.5,185.5 215.2,185.5 215.8,185.6C216.5,185.6 217.2,185.6 217.8,185.6C218.5,185.6 219.2,185.6 219.8,185.6C220.5,185.6 221.2,185.6 221.8,185.7C222.5,185.7 223.2,185.7 223.8,185.7C224.5,185.7 225.2,185.7 225.8,185.7C226.5,185.7 227.2,185.8 227.8,185.8C228.5,185.8 229.2,185.8 229.8,185.8C230.5,185.8 231.2,185.9 231.8,185.9C232.5,185.9 233.1,185.9 233.8,185.9C234.5,186.0 235.1,186.0 235.8,186.0C236.5,186.0 237.1,186.0 237.8,186.1C238.5,186.1 239.1,186.1 239.8,186.1C240.5,186.1 241.1,186.2 241.8,186.2C242.5,186.2 243.1,186.2 243.8,186.3C244.5,186.3 245.1,186.3 245.8,186.3C246.5,186.4 247.1,186.4 247.8,186.4C248.4,186.5 249.1,186.5 249.8,186.5C250.4,186.5 251.1,186.6 251.8,186.6C252.4,186.6 253.1,186.7 253.8,186.7C254.4,186.7 255.1,186.8 255.8,186.8C256.4,186.8 257.1,186.9 257.8,186.9C258.4,186.9 259.1,187.0 259.8,187.0C260.4,187.0 261.1,187.1 261.8,187.1C262.4,187.2 263.1,187.2 263.8,187.2C264.4,187.3 265.1,187.3 265.7,187.4C266.4,187.4 267.1,187.4 267.7,187.5C268.4,187.5 269.1,187.6 269.7,187.6C270.4,187.6 271.1,187.7 271.7,187.7C272.4,187.8 273.1,187.8 273.7,187.9C274.4,187.9 275.1,188.0 275.7,188.0C276.4,188.1 277.1,188.1 277.7,188.2C278.4,188.2 279.1,188.3 279.7,188.3C280.4,188.4 281.0,188.4 281.7,188.5C282.4,188.5 283.0,188.6 283.7,188.6C284.4,188.7 285.0,188.7 285.7,188.8C286.4,188.8 287.0,188.9 287.7,189.0" stroke="#2060a0" stroke-width="1.6" fill="none"/></g>
<rect x="40.1" y="7.8" width="247.60" height="198.99" fill="none" stroke="#000" stroke-width="1.3"/>
<line x1="40.10" y1="206.79" x2="40.10" y2="210.79" stroke="#000" stroke-width="1.3"/>
<text x="40.10" y="222.29" text-anchor="middle" font-size="10.4">400</text>
<line x1="102.00" y1="206.79" x2="102.00" y2="210.79" stroke="#000" stroke-width="1.3"/>
<text x="102.00" y="222.29" text-anchor="middle" font-size="10.4">450</text>
<line x1="163.90" y1="206.79" x2="163.90" y2="210.79" stroke="#000" stroke-width="1.3"/>
<text x="163.90" y="222.29" text-anchor="middle" font-size="10.4">500</text>
<line x1="225.80" y1="206.79" x2="225.80" y2="210.79" stroke="#000" stroke-width="1.3"/>
<text x="225.80" y="222.29" text-anchor="middle" font-size="10.4">550</text>
<line x1="287.70" y1="206.79" x2="287.70" y2="210.79" stroke="#000" stroke-width="1.3"/>
<text x="287.70" y="222.29" text-anchor="middle" font-size="10.4">600</text>
<line x1="71.05" y1="206.79" x2="71.05" y2="208.79" stroke="#000" stroke-width="1.3"/>
<line x1="132.95" y1="206.79" x2="132.95" y2="208.79" stroke="#000" stroke-width="1.3"/>
<line x1="194.85" y1="206.79" x2="194.85" y2="208.79" stroke="#000" stroke-width="1.3"/>
<line x1="256.75" y1="206.79" x2="256.75" y2="208.79" stroke="#000" stroke-width="1.3"/>
<line x1="36.1" y1="188.70" x2="40.1" y2="188.70" stroke="#000" stroke-width="1.3"/>
<text x="34.0" y="192.30" text-anchor="end" font-size="10.4">0.0</text>
<line x1="36.1" y1="152.52" x2="40.1" y2="152.52" stroke="#000" stroke-width="1.3"/>
<text x="34.0" y="156.12" text-anchor="end" font-size="10.4">0.2</text>
<line x1="36.1" y1="116.34" x2="40.1" y2="116.34" stroke="#000" stroke-width="1.3"/>
<text x="34.0" y="119.94" text-anchor="end" font-size="10.4">0.4</text>
<line x1="36.1" y1="80.16" x2="40.1" y2="80.16" stroke="#000" stroke-width="1.3"/>
<text x="34.0" y="83.76" text-anchor="end" font-size="10.4">0.6</text>
<line x1="36.1" y1="43.98" x2="40.1" y2="43.98" stroke="#000" stroke-width="1.3"/>
<text x="34.0" y="47.58" text-anchor="end" font-size="10.4">0.8</text>
<line x1="36.1" y1="7.80" x2="40.1" y2="7.80" stroke="#000" stroke-width="1.3"/>
<text x="34.0" y="11.40" text-anchor="end" font-size="10.4">1.0</text>
<line x1="38.1" y1="206.79" x2="40.1" y2="206.79" stroke="#000" stroke-width="1.3"/>
<line x1="38.1" y1="170.61" x2="40.1" y2="170.61" stroke="#000" stroke-width="1.3"/>
<line x1="38.1" y1="134.43" x2="40.1" y2="134.43" stroke="#000" stroke-width="1.3"/>
<line x1="38.1" y1="98.25" x2="40.1" y2="98.25" stroke="#000" stroke-width="1.3"/>
<line x1="38.1" y1="62.07" x2="40.1" y2="62.07" stroke="#000" stroke-width="1.3"/>
<line x1="38.1" y1="25.89" x2="40.1" y2="25.89" stroke="#000" stroke-width="1.3"/>
<text x="163.90" y="239.6" text-anchor="middle" font-size="10.4">Wavelength(nm)</text>
<text transform="translate(8.2,113.2) rotate(-90)" text-anchor="middle" font-size="10.4">Absorbance(a.u)</text>
<text x="264" y="41.8" font-size="10.4">(a)</text>
<text x="111.6" y="46.3" font-size="10.4">0.5 wt.% Ag-TiO2-MW</text>
<line x1="43.7" y1="22.00" x2="69.9" y2="22.00" stroke="#000000" stroke-width="1.5"/>
<text x="72.9" y="25.80" font-size="10.4" xml:space="preserve">RB Dye</text>
<line x1="43.7" y1="36.74" x2="69.9" y2="36.74" stroke="#ff0000" stroke-width="1.5"/>
<text x="72.9" y="40.54" font-size="10.4" xml:space="preserve">0 min</text>
<line x1="43.7" y1="51.48" x2="69.9" y2="51.48" stroke="#0000ff" stroke-width="1.5"/>
<text x="72.9" y="55.28" font-size="10.4" xml:space="preserve">5 min</text>
<line x1="43.7" y1="66.22" x2="69.9" y2="66.22" stroke="#ff00ff" stroke-width="1.5"/>
<text x="72.9" y="70.02" font-size="10.4" xml:space="preserve">10 min</text>
<line x1="43.7" y1="80.96" x2="69.9" y2="80.96" stroke="#008000" stroke-width="1.5"/>
<text x="72.9" y="84.76" font-size="10.4" xml:space="preserve">15 min</text>
<line x1="43.7" y1="95.70" x2="69.9" y2="95.70" stroke="#000080" stroke-width="1.5"/>
<text x="72.9" y="99.50" font-size="10.4" xml:space="preserve">20 min</text>
<line x1="43.7" y1="110.44" x2="69.9" y2="110.44" stroke="#8000ff" stroke-width="1.5"/>
<text x="72.9" y="114.24" font-size="10.4" xml:space="preserve">25 min</text>
<line x1="43.7" y1="125.18" x2="69.9" y2="125.18" stroke="#800080" stroke-width="1.5"/>
<text x="72.9" y="128.98" font-size="10.4" xml:space="preserve">30 min</text>
<line x1="43.7" y1="139.92" x2="69.9" y2="139.92" stroke="#800000" stroke-width="1.5"/>
<text x="72.9" y="143.72" font-size="10.4" xml:space="preserve">40 min</text>
<line x1="43.7" y1="154.66" x2="69.9" y2="154.66" stroke="#808000" stroke-width="1.5"/>
<text x="72.9" y="158.46" font-size="10.4" xml:space="preserve">50 min</text>
<line x1="43.7" y1="169.40" x2="69.9" y2="169.40" stroke="#2060a0" stroke-width="1.5"/>
<text x="72.9" y="173.20" font-size="10.4" xml:space="preserve">60 min</text></g>
<g id="pb"><clipPath id="clipb"><rect x="344.3" y="1.2999999999999998" width="249.90000000000003" height="207.5"/></clipPath>
<g clip-path="url(#clipb)"><path d="M344.3,189.6C345.0,189.6 345.6,189.6 346.3,189.7C346.9,189.7 347.6,189.7 348.2,189.7C348.9,189.7 349.5,189.8 350.2,189.8C350.9,189.8 351.5,189.8 352.2,189.9C352.8,189.9 353.5,189.9 354.2,189.9C354.8,190.0 355.5,190.0 356.1,190.0C356.8,190.1 357.5,190.1 358.1,190.1C358.8,190.2 359.5,190.2 360.1,190.2C360.8,190.3 361.4,190.3 362.1,190.3C362.8,190.4 363.4,190.4 364.1,190.4C364.8,190.5 365.5,190.5 366.1,190.5C366.8,190.6 367.5,190.6 368.1,190.6C368.8,190.7 369.5,190.7 370.1,190.7C370.8,190.7 371.5,190.8 372.1,190.8C372.8,190.8 373.5,190.9 374.2,190.9C374.8,190.9 375.5,191.0 376.2,191.0C376.8,191.0 377.5,191.0 378.2,191.1C378.9,191.1 379.5,191.1 380.2,191.1C380.9,191.2 381.5,191.2 382.2,191.2C382.9,191.2 383.6,191.2 384.2,191.3C384.9,191.3 385.6,191.3 386.2,191.3C386.9,191.3 387.6,191.3 388.3,191.3C388.9,191.3 389.6,191.4 390.3,191.4C390.9,191.4 391.6,191.4 392.3,191.4C393.0,191.4 393.6,191.4 394.3,191.4C395.0,191.4 395.6,191.3 396.3,191.3C397.0,191.3 397.6,191.3 398.3,191.3C399.0,191.3 399.6,191.3 400.3,191.2C401.0,191.2 401.7,191.2 402.3,191.2C403.0,191.1 403.7,191.1 404.3,191.1C405.0,191.0 405.6,191.0 406.3,191.0C407.0,190.9 407.6,190.9 408.3,190.8C409.0,190.8 409.6,190.7 410.3,190.7C411.0,190.6 411.6,190.6 412.3,190.5C412.9,190.4 413.6,190.4 414.3,190.3C414.9,190.2 415.6,190.1 416.2,190.1C416.9,190.0 417.5,189.9 418.2,189.8C418.8,189.7 419.5,189.6 420.2,189.5C420.8,189.4 421.5,189.3 422.1,189.2C422.8,189.1 423.4,189.0 424.1,188.9C424.7,188.8 425.4,188.6 426.0,188.5C426.6,188.4 427.3,188.2 427.9,188.1C428.6,188.0 429.2,187.8 429.9,187.7C430.5,187.5 431.1,187.3 431.8,187.2C432.4,187.0 433.1,186.9 433.7,186.7C434.3,186.5 435.0,186.3 435.6,186.1C436.2,186.0 436.9,185.8 437.5,185.6C438.1,185.4 438.7,185.2 439.4,184.9C440.0,184.7 440.6,184.5 441.2,184.3C441.9,184.1 442.5,183.8 443.1,183.6C443.7,183.4 444.4,183.1 445.0,182.9C445.6,182.6 446.2,182.3 446.8,182.1C447.4,181.8 448.0,181.5 448.7,181.3C449.3,181.0 449.9,180.7 450.5,180.4C451.1,180.1 451.7,179.8 452.3,179.5C452.9,179.2 453.5,178.8 454.1,178.5C454.6,178.2 455.2,177.9 455.8,177.5C456.4,177.2 456.9,176.8 457.5,176.4C458.1,176.1 458.6,175.7 459.2,175.3C459.7,174.9 460.3,174.5 460.8,174.1C461.3,173.7 461.8,173.3 462.4,172.9C462.9,172.5 463.4,172.0 463.9,171.6C464.3,171.1 464.8,170.7 465.3,170.2C465.7,169.7 466.2,169.3 466.6,168.8C467.1,168.3 467.5,167.8 467.9,167.3C468.3,166.8 468.7,166.2 469.1,165.7C469.5,165.2 469.9,164.6 470.3,164.1C470.6,163.5 471.0,163.0 471.4,162.4C471.7,161.8 472.1,161.3 472.4,160.7C472.7,160.1 473.1,159.5 473.4,158.9C473.7,158.4 474.1,157.8 474.4,157.2C474.7,156.6 475.0,156.0 475.4,155.4C475.7,154.8 476.0,154.2 476.3,153.6C476.6,153.0 476.9,152.4 477.3,151.8C477.6,151.2 477.9,150.6 478.2,150.0C478.6,149.5 478.9,148.9 479.2,148.3C479.5,147.7 479.9,147.1 480.2,146.6C480.6,146.0 480.9,145.4 481.3,144.9C481.6,144.3 482.0,143.7 482.4,143.2C482.8,142.7 483.1,142.1 483.5,141.6C483.9,141.1 484.3,140.5 484.7,140.0C485.1,139.5 485.6,139.0 486.0,138.5C486.4,138.0 486.8,137.5 487.3,137.0C487.7,136.5 488.2,136.1 488.7,135.6C489.1,135.2 489.6,134.7 490.1,134.3C490.6,133.8 491.1,133.4 491.6,133.0C492.2,132.5 492.7,132.1 493.2,131.7C493.8,131.3 494.3,130.9 494.9,130.5C495.5,130.2 496.0,129.8 496.6,129.4C497.2,129.0 497.7,128.6 498.3,128.2C498.8,127.8 499.4,127.4 499.9,127.0C500.4,126.6 500.9,126.1 501.4,125.7C501.9,125.2 502.3,124.8 502.8,124.3C503.2,123.8 503.6,123.3 504.0,122.8C504.4,122.3 504.8,121.8 505.2,121.2C505.5,120.7 505.9,120.2 506.2,119.6C506.6,119.0 506.9,118.5 507.2,117.9C507.5,117.3 507.8,116.8 508.1,116.2C508.4,115.6 508.7,115.0 509.0,114.4C509.2,113.8 509.5,113.2 509.8,112.6C510.0,112.0 510.3,111.3 510.5,110.7C510.8,110.1 511.0,109.5 511.2,108.9C511.5,108.2 511.7,107.6 511.9,107.0C512.1,106.4 512.3,105.7 512.5,105.1C512.7,104.4 512.9,103.8 513.1,103.2C513.3,102.5 513.5,101.9 513.7,101.2C513.9,100.6 514.1,99.9 514.3,99.3C514.4,98.6 514.6,98.0 514.8,97.3C514.9,96.7 515.1,96.0 515.3,95.4C515.4,94.7 515.6,94.1 515.7,93.4C515.9,92.8 516.0,92.1 516.2,91.4C516.3,90.8 516.5,90.1 516.6,89.5C516.8,88.8 516.9,88.1 517.1,87.5C517.2,86.8 517.3,86.2 517.5,85.5C517.6,84.8 517.7,84.2 517.9,83.5C518.0,82.8 518.1,82.2 518.3,81.5C518.4,80.9 518.5,80.2 518.7,79.5C518.8,78.9 518.9,78.2 519.1,77.6C519.2,76.9 519.3,76.3 519.4,75.6C519.6,75.0 519.7,74.3 519.8,73.7C520.0,73.0 520.1,72.4 520.2,71.7C520.4,71.1 520.5,70.4 520.6,69.8C520.8,69.1 520.9,68.5 521.0,67.9C521.2,67.2 521.3,66.6 521.5,65.9C521.6,65.3 521.7,64.7 521.9,64.0C522.0,63.4 522.2,62.8 522.3,62.1C522.5,61.5 522.6,60.9 522.7,60.2C522.9,59.6 523.0,59.0 523.2,58.3C523.3,57.7 523.5,57.1 523.6,56.4C523.8,55.8 523.9,55.2 524.1,54.5C524.2,53.9 524.4,53.3 524.5,52.6C524.7,52.0 524.8,51.4 525.0,50.8C525.1,50.1 525.3,49.5 525.4,48.8C525.6,48.2 525.7,47.6 525.9,46.9C526.0,46.3 526.2,45.7 526.3,45.0C526.5,44.4 526.6,43.7 526.8,43.1C526.9,42.4 527.1,41.8 527.2,41.1C527.4,40.5 527.5,39.8 527.7,39.2C527.8,38.5 528.0,37.9 528.2,37.2C528.3,36.5 528.5,35.9 528.7,35.2C528.9,34.5 529.1,33.8 529.3,33.1C529.5,32.4 529.7,31.7 529.9,31.0C530.2,30.3 530.4,29.6 530.7,28.8C530.9,28.1 531.2,27.4 531.5,26.6C531.8,25.9 532.1,25.1 532.5,24.4C532.8,23.7 533.1,23.0 533.5,22.4C533.8,21.8 534.2,21.2 534.6,20.8C535.0,20.3 535.3,20.0 535.7,19.8C536.1,19.5 536.5,19.5 536.9,19.5C537.3,19.6 537.6,19.8 538.0,20.2C538.4,20.5 538.8,20.9 539.2,21.5C539.5,22.0 539.9,22.6 540.2,23.3C540.6,24.0 540.9,24.7 541.2,25.4C541.5,26.2 541.8,26.9 542.1,27.7C542.4,28.4 542.6,29.2 542.8,29.9C543.0,30.6 543.2,31.3 543.4,32.0C543.6,32.7 543.8,33.4 543.9,34.1C544.1,34.8 544.2,35.4 544.4,36.1C544.5,36.8 544.6,37.4 544.7,38.1C544.8,38.8 544.9,39.4 545.0,40.1C545.1,40.7 545.2,41.4 545.3,42.0C545.4,42.7 545.5,43.3 545.7,44.0C545.8,44.6 545.9,45.3 546.0,46.0C546.1,46.6 546.2,47.3 546.3,47.9C546.4,48.6 546.5,49.2 546.6,49.9C546.7,50.5 546.8,51.2 546.9,51.8C547.1,52.5 547.2,53.2 547.3,53.8C547.4,54.5 547.5,55.1 547.6,55.8C547.7,56.4 547.8,57.1 547.9,57.7C548.1,58.4 548.2,59.1 548.3,59.7C548.4,60.4 548.5,61.0 548.6,61.7C548.7,62.3 548.8,63.0 548.9,63.6C549.1,64.3 549.2,65.0 549.3,65.6C549.4,66.3 549.5,66.9 549.6,67.6C549.7,68.2 549.8,68.9 549.9,69.5C550.1,70.2 550.2,70.8 550.3,71.5C550.4,72.2 550.5,72.8 550.6,73.5C550.7,74.1 550.8,74.8 550.9,75.4C551.0,76.1 551.1,76.7 551.2,77.4C551.3,78.0 551.4,78.7 551.5,79.4C551.7,80.0 551.8,80.7 551.9,81.3C552.0,82.0 552.1,82.6 552.2,83.3C552.3,83.9 552.4,84.6 552.5,85.2C552.6,85.9 552.7,86.5 552.8,87.2C552.9,87.8 553.0,88.5 553.1,89.2C553.2,89.8 553.3,90.5 553.4,91.1C553.5,91.8 553.6,92.4 553.7,93.1C553.8,93.7 553.9,94.4 554.0,95.0C554.1,95.7 554.2,96.3 554.3,97.0C554.4,97.6 554.5,98.3 554.6,98.9C554.7,99.6 554.8,100.2 554.9,100.9C555.0,101.5 555.1,102.2 555.2,102.9C555.3,103.5 555.4,104.2 555.5,104.8C555.6,105.5 555.7,106.1 555.8,106.8C555.9,107.4 556.0,108.1 556.1,108.7C556.2,109.4 556.3,110.0 556.4,110.7C556.5,111.3 556.6,112.0 556.7,112.6C556.8,113.3 556.9,114.0 557.0,114.6C557.1,115.3 557.2,115.9 557.3,116.6C557.4,117.2 557.5,117.9 557.7,118.5C557.8,119.2 557.9,119.8 558.0,120.5C558.1,121.1 558.2,121.8 558.3,122.5C558.4,123.1 558.5,123.8 558.6,124.4C558.8,125.1 558.9,125.7 559.0,126.4C559.1,127.0 559.2,127.7 559.3,128.3C559.4,129.0 559.6,129.7 559.7,130.3C559.8,131.0 559.9,131.6 560.0,132.3C560.1,132.9 560.3,133.6 560.4,134.3C560.5,134.9 560.6,135.6 560.8,136.2C560.9,136.9 561.0,137.5 561.1,138.2C561.3,138.9 561.4,139.5 561.5,140.2C561.6,140.8 561.8,141.5 561.9,142.2C562.0,142.8 562.2,143.5 562.3,144.1C562.4,144.8 562.6,145.5 562.7,146.1C562.9,146.8 563.0,147.4 563.1,148.1C563.3,148.8 563.4,149.4 563.6,150.1C563.7,150.8 563.9,151.4 564.0,152.1C564.1,152.7 564.3,153.4 564.4,154.1C564.6,154.7 564.7,155.4 564.9,156.1C565.1,156.7 565.2,157.4 565.4,158.1C565.5,158.7 565.7,159.4 565.8,160.1C566.0,160.7 566.2,161.4 566.3,162.1C566.5,162.7 566.7,163.4 566.8,164.1C567.0,164.7 567.2,165.4 567.4,166.0C567.6,166.7 567.7,167.4 567.9,168.0C568.1,168.7 568.3,169.3 568.5,170.0C568.7,170.6 568.9,171.2 569.2,171.9C569.4,172.5 569.6,173.1 569.8,173.7C570.1,174.4 570.3,175.0 570.6,175.6C570.8,176.2 571.1,176.8 571.4,177.4C571.6,177.9 571.9,178.5 572.2,179.1C572.5,179.7 572.8,180.2 573.1,180.8C573.5,181.3 573.8,181.8 574.1,182.3C574.5,182.9 574.9,183.4 575.2,183.9C575.6,184.4 576.0,184.8 576.4,185.3C576.8,185.8 577.2,186.2 577.7,186.6C578.1,187.1 578.6,187.5 579.0,187.9C579.5,188.3 580.0,188.7 580.5,189.0C581.0,189.4 581.5,189.7 582.1,190.1C582.6,190.4 583.2,190.7 583.8,191.0C584.4,191.3 585.0,191.5 585.6,191.8C586.2,192.0 586.9,192.3 587.5,192.5C588.2,192.7 588.9,192.8 589.6,193.0C590.3,193.1 591.1,193.3 591.8,193.4C592.6,193.5 593.4,193.6 594.2,193.6" stroke="#000000" stroke-width="1.6" fill="none"/><path d="M344.3,189.6C345.0,189.6 345.6,189.7 346.3,189.7C346.9,189.7 347.6,189.8 348.2,189.8C348.9,189.9 349.5,189.9 350.2,190.0C350.8,190.0 351.5,190.1 352.2,190.2C352.8,190.2 353.5,190.3 354.1,190.3C354.8,190.4 355.5,190.5 356.1,190.5C356.8,190.6 357.4,190.7 358.1,190.7C358.8,190.8 359.4,190.9 360.1,190.9C360.7,191.0 361.4,191.1 362.1,191.1C362.7,191.2 363.4,191.3 364.1,191.4C364.7,191.4 365.4,191.5 366.0,191.6C366.7,191.7 367.4,191.7 368.0,191.8C368.7,191.9 369.4,192.0 370.0,192.0C370.7,192.1 371.4,192.2 372.0,192.3C372.7,192.3 373.4,192.4 374.0,192.5C374.7,192.6 375.4,192.6 376.0,192.7C376.7,192.8 377.4,192.9 378.0,192.9C378.7,193.0 379.4,193.1 380.0,193.1C380.7,193.2 381.4,193.3 382.0,193.4C382.7,193.4 383.4,193.5 384.0,193.5C384.7,193.6 385.4,193.7 386.0,193.7C386.7,193.8 387.4,193.9 388.0,193.9C388.7,194.0 389.4,194.0 390.0,194.1C390.7,194.1 391.4,194.2 392.0,194.2C392.7,194.3 393.4,194.3 394.0,194.4C394.7,194.4 395.4,194.4 396.0,194.5C396.7,194.5 397.4,194.6 398.0,194.6C398.7,194.6 399.4,194.6 400.0,194.7C400.7,194.7 401.3,194.7 402.0,194.7C402.7,194.7 403.3,194.8 404.0,194.8C404.7,194.8 405.3,194.8 406.0,194.8C406.6,194.8 407.3,194.8 408.0,194.8C408.6,194.8 409.3,194.8 409.9,194.7C410.6,194.7 411.3,194.7 411.9,194.7C412.6,194.7 413.2,194.6 413.9,194.6C414.5,194.6 415.2,194.5 415.9,194.5C416.5,194.4 417.2,194.4 417.8,194.3C418.5,194.3 419.1,194.2 419.8,194.1C420.4,194.1 421.1,194.0 421.7,193.9C422.4,193.8 423.0,193.7 423.7,193.7C424.3,193.6 425.0,193.5 425.6,193.4C426.3,193.3 426.9,193.1 427.6,193.0C428.2,192.9 428.8,192.8 429.5,192.7C430.1,192.5 430.8,192.4 431.4,192.2C432.0,192.1 432.7,192.0 433.3,191.8C434.0,191.6 434.6,191.5 435.2,191.3C435.9,191.1 436.5,190.9 437.1,190.7C437.8,190.6 438.4,190.4 439.0,190.2C439.7,190.0 440.3,189.7 440.9,189.5C441.6,189.3 442.2,189.1 442.8,188.8C443.4,188.6 444.1,188.3 444.7,188.1C445.3,187.8 445.9,187.6 446.5,187.3C447.2,187.0 447.8,186.7 448.4,186.5C449.0,186.2 449.6,185.9 450.2,185.6C450.8,185.2 451.4,184.9 452.0,184.6C452.6,184.3 453.2,183.9 453.8,183.6C454.4,183.3 455.0,182.9 455.6,182.5C456.2,182.2 456.7,181.8 457.3,181.4C457.9,181.0 458.4,180.6 459.0,180.2C459.5,179.8 460.0,179.4 460.6,179.0C461.1,178.6 461.6,178.2 462.1,177.7C462.6,177.3 463.2,176.8 463.6,176.4C464.1,175.9 464.6,175.4 465.1,175.0C465.6,174.5 466.0,174.0 466.5,173.5C466.9,173.0 467.3,172.5 467.8,172.0C468.2,171.4 468.6,170.9 469.0,170.4C469.4,169.8 469.7,169.3 470.1,168.7C470.5,168.2 470.8,167.6 471.2,167.0C471.5,166.5 471.9,165.9 472.2,165.3C472.5,164.7 472.8,164.1 473.1,163.5C473.5,162.9 473.8,162.3 474.1,161.7C474.4,161.1 474.7,160.5 475.0,159.9C475.3,159.3 475.6,158.7 475.9,158.1C476.2,157.5 476.5,157.0 476.8,156.4C477.1,155.8 477.5,155.2 477.8,154.6C478.1,154.0 478.4,153.5 478.8,152.9C479.1,152.3 479.4,151.8 479.8,151.2C480.1,150.7 480.5,150.1 480.9,149.6C481.3,149.1 481.6,148.6 482.1,148.0C482.5,147.5 482.9,147.0 483.3,146.6C483.7,146.1 484.2,145.6 484.7,145.2C485.1,144.7 485.6,144.3 486.1,143.9C486.6,143.5 487.2,143.1 487.7,142.7C488.2,142.3 488.8,141.9 489.3,141.5C489.9,141.2 490.5,140.8 491.0,140.5C491.6,140.1 492.2,139.7 492.8,139.4C493.4,139.0 493.9,138.7 494.5,138.3C495.1,138.0 495.7,137.6 496.2,137.2C496.8,136.9 497.4,136.5 497.9,136.1C498.4,135.7 499.0,135.3 499.5,134.9C500.0,134.5 500.5,134.1 501.0,133.7C501.5,133.3 502.0,132.8 502.5,132.3C502.9,131.9 503.4,131.4 503.8,130.9C504.2,130.5 504.6,130.0 505.0,129.5C505.4,129.0 505.8,128.4 506.2,127.9C506.6,127.4 506.9,126.9 507.3,126.3C507.7,125.8 508.0,125.2 508.3,124.7C508.6,124.1 509.0,123.6 509.3,123.0C509.6,122.4 509.9,121.8 510.2,121.3C510.4,120.7 510.7,120.1 511.0,119.5C511.3,118.9 511.5,118.3 511.8,117.7C512.0,117.1 512.3,116.5 512.5,115.9C512.7,115.2 512.9,114.6 513.2,114.0C513.4,113.4 513.6,112.7 513.8,112.1C514.0,111.5 514.2,110.8 514.4,110.2C514.6,109.6 514.7,108.9 514.9,108.3C515.1,107.6 515.3,107.0 515.4,106.3C515.6,105.7 515.8,105.0 515.9,104.4C516.1,103.7 516.2,103.0 516.4,102.4C516.5,101.7 516.7,101.1 516.8,100.4C516.9,99.7 517.1,99.1 517.2,98.4C517.4,97.7 517.5,97.1 517.6,96.4C517.8,95.7 517.9,95.1 518.0,94.4C518.1,93.7 518.3,93.1 518.4,92.4C518.5,91.7 518.6,91.0 518.8,90.4C518.9,89.7 519.0,89.0 519.1,88.4C519.3,87.7 519.4,87.0 519.5,86.4C519.7,85.7 519.8,85.1 519.9,84.4C520.0,83.7 520.2,83.1 520.3,82.4C520.4,81.8 520.6,81.1 520.7,80.5C520.8,79.8 521.0,79.2 521.1,78.5C521.3,77.9 521.4,77.2 521.5,76.6C521.7,75.9 521.8,75.3 522.0,74.6C522.1,74.0 522.3,73.3 522.4,72.7C522.6,72.1 522.7,71.4 522.9,70.8C523.0,70.1 523.2,69.5 523.3,68.9C523.5,68.2 523.6,67.6 523.8,67.0C523.9,66.3 524.1,65.7 524.2,65.1C524.4,64.4 524.6,63.8 524.7,63.2C524.9,62.5 525.0,61.9 525.2,61.3C525.3,60.7 525.5,60.0 525.7,59.4C525.8,58.8 526.0,58.2 526.2,57.5C526.3,56.9 526.5,56.3 526.6,55.7C526.8,55.0 527.0,54.4 527.1,53.8C527.3,53.2 527.5,52.6 527.6,51.9C527.8,51.3 528.0,50.7 528.1,50.1C528.3,49.4 528.5,48.8 528.7,48.2C528.8,47.6 529.0,46.9 529.2,46.3C529.4,45.6 529.6,45.0 529.8,44.3C530.1,43.6 530.3,43.0 530.5,42.3C530.8,41.6 531.0,40.9 531.3,40.1C531.6,39.4 531.9,38.6 532.2,37.9C532.5,37.1 532.8,36.4 533.2,35.6C533.5,34.9 533.9,34.2 534.3,33.7C534.6,33.1 535.0,32.6 535.4,32.3C535.8,31.9 536.2,31.7 536.6,31.7C537.0,31.7 537.3,31.8 537.7,32.2C538.1,32.5 538.5,32.9 538.9,33.5C539.3,34.1 539.6,34.7 540.0,35.4C540.3,36.1 540.6,36.9 541.0,37.7C541.3,38.5 541.6,39.2 541.8,40.0C542.1,40.7 542.3,41.5 542.6,42.2C542.8,42.9 543.0,43.6 543.2,44.3C543.4,45.0 543.6,45.7 543.7,46.3C543.9,47.0 544.0,47.7 544.2,48.3C544.3,49.0 544.4,49.6 544.5,50.3C544.6,50.9 544.8,51.5 544.9,52.2C545.0,52.8 545.0,53.4 545.1,54.0C545.2,54.6 545.3,55.3 545.4,55.9C545.5,56.5 545.6,57.1 545.7,57.7C545.7,58.3 545.8,58.9 545.9,59.6C546.0,60.2 546.1,60.8 546.2,61.4C546.3,62.0 546.5,62.7 546.6,63.3C546.7,63.9 546.8,64.5 547.0,65.2C547.1,65.8 547.3,66.5 547.4,67.1C547.6,67.8 547.8,68.4 547.9,69.1C548.1,69.7 548.3,70.4 548.4,71.1C548.6,71.7 548.8,72.4 548.9,73.0C549.1,73.7 549.3,74.4 549.4,75.0C549.6,75.7 549.8,76.3 549.9,77.0C550.1,77.7 550.2,78.3 550.4,79.0C550.5,79.7 550.7,80.3 550.8,81.0C551.0,81.6 551.1,82.3 551.3,83.0C551.4,83.6 551.5,84.3 551.7,84.9C551.8,85.6 551.9,86.3 552.0,86.9C552.2,87.6 552.3,88.2 552.4,88.9C552.5,89.6 552.7,90.2 552.8,90.9C552.9,91.5 553.0,92.2 553.1,92.8C553.2,93.5 553.3,94.2 553.4,94.8C553.6,95.5 553.7,96.1 553.8,96.8C553.9,97.4 554.0,98.1 554.1,98.8C554.2,99.4 554.3,100.1 554.4,100.7C554.5,101.4 554.6,102.0 554.6,102.7C554.7,103.4 554.8,104.0 554.9,104.7C555.0,105.3 555.1,106.0 555.2,106.6C555.3,107.3 555.4,108.0 555.5,108.6C555.5,109.3 555.6,109.9 555.7,110.6C555.8,111.2 555.9,111.9 556.0,112.5C556.1,113.2 556.1,113.9 556.2,114.5C556.3,115.2 556.4,115.8 556.5,116.5C556.5,117.1 556.6,117.8 556.7,118.4C556.8,119.1 556.9,119.7 557.0,120.4C557.0,121.1 557.1,121.7 557.2,122.4C557.3,123.0 557.4,123.7 557.4,124.3C557.5,125.0 557.6,125.6 557.7,126.3C557.8,126.9 557.9,127.6 557.9,128.3C558.0,128.9 558.1,129.6 558.2,130.2C558.3,130.9 558.4,131.5 558.4,132.2C558.5,132.8 558.6,133.5 558.7,134.1C558.8,134.8 558.9,135.5 559.0,136.1C559.1,136.8 559.2,137.4 559.3,138.1C559.4,138.7 559.4,139.4 559.5,140.0C559.6,140.7 559.7,141.3 559.8,142.0C559.9,142.6 560.0,143.3 560.1,144.0C560.2,144.6 560.3,145.3 560.5,145.9C560.6,146.6 560.7,147.2 560.8,147.9C560.9,148.5 561.0,149.2 561.1,149.8C561.2,150.5 561.4,151.2 561.5,151.8C561.6,152.5 561.7,153.1 561.8,153.8C562.0,154.4 562.1,155.1 562.2,155.7C562.4,156.4 562.5,157.0 562.6,157.7C562.8,158.4 562.9,159.0 563.1,159.7C563.2,160.3 563.3,161.0 563.5,161.6C563.6,162.3 563.8,162.9 563.9,163.6C564.1,164.3 564.3,164.9 564.4,165.6C564.6,166.2 564.8,166.9 564.9,167.5C565.1,168.2 565.3,168.8 565.4,169.5C565.6,170.2 565.8,170.8 566.0,171.5C566.2,172.1 566.4,172.8 566.6,173.4C566.8,174.1 567.0,174.8 567.2,175.4C567.4,176.1 567.6,176.7 567.8,177.4C568.0,178.0 568.2,178.6 568.5,179.3C568.7,179.9 568.9,180.5 569.2,181.2C569.4,181.8 569.7,182.4 569.9,183.0C570.2,183.7 570.5,184.3 570.8,184.9C571.0,185.5 571.3,186.1 571.6,186.7C571.9,187.2 572.2,187.8 572.6,188.4C572.9,189.0 573.2,189.5 573.5,190.1C573.9,190.6 574.2,191.2 574.6,191.7C575.0,192.2 575.3,192.7 575.7,193.2C576.1,193.7 576.5,194.2 576.9,194.7C577.4,195.2 577.8,195.6 578.2,196.1C578.7,196.5 579.1,197.0 579.6,197.4C580.1,197.8 580.6,198.2 581.1,198.6C581.6,199.0 582.1,199.3 582.6,199.7C583.2,200.1 583.7,200.4 584.3,200.7C584.9,201.0 585.5,201.3 586.1,201.6C586.7,201.9 587.3,202.1 587.9,202.4C588.6,202.6 589.2,202.8 589.9,203.0C590.6,203.2 591.3,203.4 592.0,203.5C592.7,203.7 593.5,203.8 594.2,203.9" stroke="#ff0000" stroke-width="1.6" fill="none"/><path d="M344.3,189.6C345.0,189.6 345.6,189.6 346.3,189.6C346.9,189.7 347.6,189.7 348.3,189.7C348.9,189.7 349.6,189.7 350.3,189.7C350.9,189.8 351.6,189.8 352.2,189.8C352.9,189.8 353.6,189.8 354.2,189.8C354.9,189.9 355.6,189.9 356.2,189.9C356.9,189.9 357.6,189.9 358.2,190.0C358.9,190.0 359.6,190.0 360.2,190.0C360.9,190.0 361.6,190.1 362.2,190.1C362.9,190.1 363.5,190.1 364.2,190.1C364.9,190.1 365.5,190.2 366.2,190.2C366.9,190.2 367.5,190.2 368.2,190.2C368.9,190.3 369.5,190.3 370.2,190.3C370.9,190.3 371.5,190.3 372.2,190.3C372.9,190.3 373.5,190.4 374.2,190.4C374.9,190.4 375.5,190.4 376.2,190.4C376.9,190.4 377.5,190.4 378.2,190.4C378.9,190.4 379.5,190.5 380.2,190.5C380.9,190.5 381.5,190.5 382.2,190.5C382.9,190.5 383.5,190.5 384.2,190.5C384.9,190.5 385.5,190.5 386.2,190.5C386.9,190.5 387.5,190.5 388.2,190.5C388.9,190.5 389.5,190.5 390.2,190.5C390.9,190.4 391.5,190.4 392.2,190.4C392.8,190.4 393.5,190.4 394.2,190.4C394.8,190.4 395.5,190.3 396.2,190.3C396.8,190.3 397.5,190.3 398.2,190.3C398.8,190.2 399.5,190.2 400.2,190.2C400.8,190.1 401.5,190.1 402.1,190.1C402.8,190.0 403.5,190.0 404.1,190.0C404.8,189.9 405.5,189.9 406.1,189.8C406.8,189.8 407.4,189.7 408.1,189.7C408.8,189.6 409.4,189.6 410.1,189.5C410.7,189.5 411.4,189.4 412.1,189.3C412.7,189.3 413.4,189.2 414.0,189.1C414.7,189.1 415.4,189.0 416.0,188.9C416.7,188.8 417.3,188.8 418.0,188.7C418.7,188.6 419.3,188.5 420.0,188.4C420.6,188.3 421.3,188.2 421.9,188.1C422.6,188.0 423.3,187.9 423.9,187.8C424.6,187.7 425.2,187.6 425.9,187.5C426.5,187.4 427.2,187.3 427.8,187.2C428.5,187.0 429.1,186.9 429.8,186.8C430.4,186.7 431.1,186.5 431.7,186.4C432.4,186.3 433.0,186.1 433.7,186.0C434.3,185.8 435.0,185.7 435.6,185.5C436.3,185.4 436.9,185.2 437.6,185.0C438.2,184.9 438.9,184.7 439.5,184.5C440.2,184.4 440.8,184.2 441.5,184.0C442.1,183.8 442.7,183.6 443.4,183.4C444.0,183.2 444.7,183.0 445.3,182.8C445.9,182.6 446.6,182.4 447.2,182.2C447.8,181.9 448.5,181.7 449.1,181.5C449.7,181.3 450.3,181.0 450.9,180.8C451.6,180.5 452.2,180.3 452.8,180.0C453.4,179.7 454.0,179.5 454.6,179.2C455.2,178.9 455.8,178.6 456.4,178.3C457.0,178.0 457.6,177.7 458.2,177.4C458.7,177.1 459.3,176.8 459.9,176.5C460.5,176.2 461.0,175.8 461.6,175.5C462.2,175.1 462.7,174.8 463.3,174.4C463.8,174.1 464.4,173.7 464.9,173.3C465.4,172.9 466.0,172.5 466.5,172.1C467.0,171.7 467.5,171.3 468.0,170.9C468.5,170.5 469.0,170.0 469.5,169.6C470.0,169.1 470.5,168.7 471.0,168.2C471.5,167.8 471.9,167.3 472.4,166.8C472.9,166.3 473.3,165.8 473.8,165.3C474.3,164.9 474.7,164.4 475.2,163.9C475.6,163.4 476.1,162.9 476.5,162.4C477.0,161.9 477.5,161.4 477.9,160.9C478.4,160.4 478.8,159.9 479.3,159.4C479.8,158.9 480.2,158.5 480.7,158.0C481.2,157.5 481.7,157.0 482.2,156.6C482.7,156.1 483.2,155.7 483.7,155.3C484.2,154.8 484.7,154.4 485.2,154.0C485.8,153.6 486.3,153.2 486.9,152.8C487.4,152.5 488.0,152.1 488.5,151.7C489.1,151.3 489.6,151.0 490.2,150.6C490.8,150.2 491.3,149.9 491.9,149.5C492.4,149.2 493.0,148.8 493.6,148.5C494.1,148.1 494.7,147.8 495.3,147.4C495.8,147.1 496.4,146.7 496.9,146.3C497.5,146.0 498.1,145.6 498.6,145.2C499.1,144.8 499.7,144.5 500.2,144.1C500.7,143.7 501.2,143.3 501.8,142.9C502.3,142.4 502.8,142.0 503.3,141.6C503.7,141.1 504.2,140.7 504.7,140.2C505.2,139.8 505.6,139.3 506.1,138.8C506.5,138.4 507.0,137.9 507.4,137.4C507.8,136.9 508.2,136.4 508.7,135.9C509.1,135.4 509.5,134.8 509.9,134.3C510.2,133.8 510.6,133.3 511.0,132.7C511.4,132.2 511.7,131.6 512.1,131.1C512.4,130.5 512.8,129.9 513.1,129.4C513.5,128.8 513.8,128.2 514.1,127.6C514.4,127.1 514.7,126.5 515.0,125.9C515.3,125.3 515.6,124.7 515.9,124.1C516.2,123.5 516.5,122.9 516.8,122.3C517.1,121.7 517.4,121.1 517.7,120.5C518.0,119.9 518.3,119.3 518.6,118.7C518.9,118.1 519.3,117.5 519.6,116.9C519.9,116.3 520.2,115.8 520.6,115.2C520.9,114.6 521.3,114.0 521.6,113.4C522.0,112.9 522.4,112.3 522.8,111.8C523.2,111.2 523.6,110.6 524.1,110.1C524.5,109.6 524.9,109.0 525.4,108.5C525.9,108.0 526.4,107.5 526.9,107.0C527.4,106.5 528.0,106.1 528.5,105.6C529.1,105.2 529.7,104.9 530.2,104.6C530.8,104.3 531.4,104.1 532.0,104.0C532.6,103.9 533.1,103.9 533.7,104.1C534.3,104.2 534.9,104.5 535.4,104.8C536.0,105.1 536.5,105.5 537.0,105.8C537.5,106.2 538.0,106.7 538.4,107.1C538.9,107.6 539.3,108.0 539.7,108.5C540.1,109.1 540.5,109.6 540.8,110.1C541.2,110.7 541.5,111.2 541.9,111.8C542.2,112.4 542.5,113.0 542.8,113.6C543.1,114.3 543.4,114.9 543.6,115.5C543.9,116.2 544.1,116.8 544.4,117.5C544.6,118.1 544.9,118.8 545.1,119.4C545.3,120.1 545.6,120.8 545.8,121.4C546.0,122.1 546.2,122.7 546.4,123.4C546.6,124.1 546.8,124.7 547.0,125.4C547.2,126.1 547.4,126.7 547.6,127.4C547.8,128.0 548.0,128.7 548.2,129.4C548.4,130.0 548.6,130.7 548.8,131.3C549.0,132.0 549.1,132.7 549.3,133.3C549.5,134.0 549.7,134.6 549.8,135.3C550.0,136.0 550.2,136.6 550.4,137.3C550.5,137.9 550.7,138.6 550.9,139.2C551.0,139.9 551.2,140.5 551.4,141.2C551.5,141.9 551.7,142.5 551.9,143.2C552.0,143.8 552.2,144.5 552.4,145.1C552.5,145.8 552.7,146.4 552.9,147.0C553.0,147.7 553.2,148.3 553.4,149.0C553.6,149.6 553.7,150.3 553.9,150.9C554.1,151.5 554.3,152.2 554.4,152.8C554.6,153.5 554.8,154.1 555.0,154.7C555.2,155.4 555.3,156.0 555.5,156.6C555.7,157.3 555.9,157.9 556.1,158.5C556.3,159.1 556.5,159.8 556.7,160.4C556.9,161.0 557.1,161.6 557.3,162.2C557.5,162.9 557.8,163.5 558.0,164.1C558.2,164.7 558.4,165.3 558.7,165.9C558.9,166.5 559.1,167.1 559.4,167.7C559.6,168.4 559.9,169.0 560.1,169.6C560.4,170.2 560.6,170.7 560.9,171.3C561.2,171.9 561.5,172.5 561.7,173.1C562.0,173.7 562.3,174.3 562.6,174.9C562.9,175.5 563.2,176.0 563.5,176.6C563.8,177.2 564.2,177.8 564.5,178.3C564.8,178.9 565.1,179.5 565.5,180.0C565.8,180.6 566.2,181.2 566.6,181.7C566.9,182.3 567.3,182.8 567.7,183.4C568.1,183.9 568.5,184.5 568.9,185.0C569.3,185.6 569.7,186.1 570.1,186.6C570.5,187.1 571.0,187.6 571.4,188.1C571.8,188.6 572.3,189.1 572.8,189.6C573.2,190.1 573.7,190.6 574.2,191.0C574.7,191.5 575.2,191.9 575.7,192.3C576.2,192.8 576.7,193.2 577.2,193.6C577.7,194.0 578.3,194.4 578.8,194.7C579.4,195.1 579.9,195.4 580.5,195.7C581.1,196.1 581.7,196.4 582.2,196.6C582.8,196.9 583.4,197.2 584.1,197.4C584.7,197.7 585.3,197.9 585.9,198.1C586.6,198.2 587.2,198.4 587.9,198.5C588.6,198.7 589.2,198.8 589.9,198.9C590.6,198.9 591.3,199.0 592.0,199.0C592.7,199.0 593.5,199.0 594.2,199.0" stroke="#0000ff" stroke-width="1.6" fill="none"/><path d="M344.3,189.6C345.0,189.6 345.6,189.6 346.3,189.6C346.9,189.6 347.6,189.6 348.3,189.6C348.9,189.5 349.6,189.5 350.3,189.5C350.9,189.5 351.6,189.5 352.2,189.5C352.9,189.5 353.6,189.5 354.2,189.6C354.9,189.6 355.6,189.6 356.2,189.6C356.9,189.6 357.6,189.6 358.2,189.6C358.9,189.6 359.5,189.6 360.2,189.6C360.9,189.6 361.5,189.7 362.2,189.7C362.9,189.7 363.5,189.7 364.2,189.7C364.9,189.7 365.5,189.7 366.2,189.7C366.9,189.8 367.5,189.8 368.2,189.8C368.9,189.8 369.5,189.8 370.2,189.8C370.9,189.9 371.6,189.9 372.2,189.9C372.9,189.9 373.6,189.9 374.2,189.9C374.9,190.0 375.6,190.0 376.2,190.0C376.9,190.0 377.6,190.0 378.2,190.0C378.9,190.1 379.6,190.1 380.2,190.1C380.9,190.1 381.6,190.1 382.2,190.1C382.9,190.1 383.6,190.1 384.2,190.2C384.9,190.2 385.6,190.2 386.3,190.2C386.9,190.2 387.6,190.2 388.3,190.2C388.9,190.2 389.6,190.2 390.3,190.2C390.9,190.2 391.6,190.2 392.3,190.2C392.9,190.2 393.6,190.2 394.3,190.2C394.9,190.2 395.6,190.2 396.3,190.2C396.9,190.2 397.6,190.2 398.3,190.2C398.9,190.2 399.6,190.2 400.3,190.1C400.9,190.1 401.6,190.1 402.3,190.1C402.9,190.1 403.6,190.1 404.3,190.0C404.9,190.0 405.6,190.0 406.3,190.0C406.9,189.9 407.6,189.9 408.3,189.9C408.9,189.8 409.6,189.8 410.2,189.7C410.9,189.7 411.6,189.7 412.2,189.6C412.9,189.6 413.6,189.5 414.2,189.5C414.9,189.4 415.5,189.4 416.2,189.3C416.9,189.2 417.5,189.2 418.2,189.1C418.8,189.1 419.5,189.0 420.2,188.9C420.8,188.8 421.5,188.8 422.1,188.7C422.8,188.6 423.4,188.5 424.1,188.4C424.8,188.3 425.4,188.2 426.1,188.1C426.7,188.0 427.4,187.9 428.0,187.8C428.7,187.7 429.3,187.6 430.0,187.5C430.6,187.4 431.3,187.3 431.9,187.1C432.6,187.0 433.2,186.9 433.9,186.8C434.5,186.6 435.2,186.5 435.8,186.3C436.5,186.2 437.1,186.0 437.7,185.9C438.4,185.7 439.0,185.6 439.7,185.4C440.3,185.2 440.9,185.0 441.6,184.9C442.2,184.7 442.9,184.5 443.5,184.3C444.1,184.1 444.7,183.9 445.4,183.7C446.0,183.5 446.6,183.3 447.3,183.1C447.9,182.8 448.5,182.6 449.1,182.4C449.8,182.1 450.4,181.9 451.0,181.7C451.6,181.4 452.2,181.2 452.8,180.9C453.5,180.6 454.1,180.4 454.7,180.1C455.3,179.8 455.9,179.6 456.5,179.3C457.1,179.0 457.7,178.7 458.3,178.4C458.9,178.1 459.5,177.8 460.1,177.5C460.7,177.2 461.3,176.9 461.9,176.6C462.5,176.3 463.1,176.0 463.7,175.7C464.3,175.4 464.9,175.1 465.5,174.7C466.1,174.4 466.7,174.1 467.3,173.8C467.9,173.5 468.5,173.1 469.0,172.8C469.6,172.5 470.2,172.2 470.8,171.8C471.4,171.5 472.0,171.2 472.6,170.8C473.2,170.5 473.7,170.2 474.3,169.8C474.9,169.5 475.5,169.2 476.1,168.8C476.6,168.5 477.2,168.2 477.8,167.8C478.4,167.5 479.0,167.2 479.5,166.9C480.1,166.5 480.7,166.2 481.3,165.9C481.9,165.5 482.4,165.2 483.0,164.9C483.6,164.6 484.2,164.3 484.7,163.9C485.3,163.6 485.9,163.3 486.5,163.0C487.0,162.7 487.6,162.4 488.2,162.1C488.8,161.8 489.4,161.5 489.9,161.2C490.5,160.9 491.1,160.6 491.7,160.3C492.2,160.0 492.8,159.7 493.4,159.4C494.0,159.1 494.5,158.8 495.1,158.5C495.7,158.3 496.3,158.0 496.9,157.7C497.4,157.4 498.0,157.1 498.6,156.8C499.2,156.5 499.8,156.3 500.3,156.0C500.9,155.7 501.5,155.4 502.1,155.1C502.7,154.8 503.3,154.5 503.9,154.2C504.5,153.9 505.1,153.6 505.7,153.3C506.3,153.0 506.9,152.7 507.5,152.4C508.1,152.1 508.7,151.8 509.3,151.5C509.9,151.2 510.5,150.9 511.1,150.6C511.7,150.2 512.3,149.9 512.9,149.6C513.6,149.2 514.2,148.9 514.8,148.6C515.4,148.2 516.1,147.9 516.7,147.5C517.3,147.2 517.9,146.9 518.6,146.6C519.2,146.3 519.8,146.0 520.5,145.7C521.1,145.4 521.7,145.1 522.4,144.9C523.0,144.6 523.6,144.4 524.2,144.2C524.9,144.1 525.5,143.9 526.1,143.8C526.7,143.7 527.3,143.6 528.0,143.6C528.6,143.5 529.2,143.5 529.8,143.6C530.4,143.7 531.0,143.8 531.6,143.9C532.2,144.1 532.8,144.3 533.4,144.5C533.9,144.8 534.5,145.0 535.1,145.3C535.6,145.7 536.2,146.0 536.7,146.4C537.2,146.8 537.8,147.2 538.3,147.6C538.8,148.1 539.3,148.5 539.8,149.0C540.2,149.5 540.7,150.0 541.1,150.6C541.6,151.1 542.0,151.7 542.4,152.2C542.8,152.8 543.2,153.4 543.6,154.0C543.9,154.6 544.3,155.2 544.6,155.8C545.0,156.4 545.3,157.0 545.6,157.7C545.9,158.3 546.2,158.9 546.5,159.5C546.8,160.2 547.1,160.8 547.4,161.4C547.7,162.1 548.0,162.7 548.3,163.3C548.6,163.9 548.8,164.5 549.1,165.1C549.4,165.7 549.7,166.4 550.0,167.0C550.3,167.6 550.6,168.2 550.9,168.7C551.2,169.3 551.5,169.9 551.8,170.5C552.1,171.1 552.4,171.7 552.8,172.2C553.1,172.8 553.4,173.4 553.8,173.9C554.1,174.5 554.5,175.0 554.9,175.6C555.2,176.1 555.6,176.7 556.0,177.2C556.4,177.7 556.8,178.3 557.2,178.8C557.6,179.3 558.0,179.8 558.4,180.3C558.9,180.8 559.3,181.3 559.7,181.8C560.2,182.3 560.6,182.8 561.1,183.3C561.5,183.8 562.0,184.3 562.4,184.7C562.9,185.2 563.4,185.7 563.9,186.1C564.4,186.6 564.9,187.0 565.4,187.4C565.9,187.9 566.4,188.3 566.9,188.7C567.4,189.1 567.9,189.6 568.5,190.0C569.0,190.4 569.5,190.8 570.1,191.1C570.6,191.5 571.2,191.9 571.7,192.3C572.3,192.6 572.9,193.0 573.4,193.3C574.0,193.7 574.6,194.0 575.2,194.3C575.8,194.7 576.3,195.0 576.9,195.3C577.5,195.6 578.1,195.9 578.7,196.1C579.4,196.4 580.0,196.7 580.6,196.9C581.2,197.2 581.8,197.4 582.5,197.6C583.1,197.8 583.7,198.1 584.3,198.2C585.0,198.4 585.6,198.6 586.3,198.8C586.9,198.9 587.6,199.1 588.2,199.2C588.9,199.4 589.5,199.5 590.2,199.6C590.9,199.7 591.5,199.8 592.2,199.8C592.9,199.9 593.5,200.0 594.2,200.0" stroke="#ff00ff" stroke-width="1.6" fill="none"/><path d="M344.3,189.6C345.0,189.6 345.6,189.6 346.3,189.6C346.9,189.6 347.6,189.6 348.3,189.6C348.9,189.6 349.6,189.6 350.2,189.6C350.9,189.6 351.6,189.6 352.2,189.6C352.9,189.7 353.5,189.7 354.2,189.7C354.9,189.7 355.5,189.7 356.2,189.7C356.8,189.7 357.5,189.7 358.2,189.7C358.8,189.7 359.5,189.7 360.2,189.7C360.8,189.8 361.5,189.8 362.2,189.8C362.8,189.8 363.5,189.8 364.1,189.8C364.8,189.8 365.5,189.8 366.1,189.8C366.8,189.8 367.5,189.8 368.1,189.9C368.8,189.9 369.5,189.9 370.1,189.9C370.8,189.9 371.5,189.9 372.1,189.9C372.8,189.9 373.5,189.9 374.1,189.9C374.8,189.9 375.5,189.9 376.1,189.9C376.8,190.0 377.5,190.0 378.1,190.0C378.8,190.0 379.5,190.0 380.1,190.0C380.8,190.0 381.5,190.0 382.1,190.0C382.8,190.0 383.5,190.0 384.1,190.0C384.8,190.0 385.5,190.0 386.1,190.0C386.8,190.0 387.5,190.0 388.1,190.0C388.8,190.0 389.5,190.0 390.1,190.0C390.8,190.0 391.5,190.0 392.1,190.0C392.8,190.0 393.5,190.0 394.1,190.0C394.8,190.0 395.5,190.0 396.1,190.0C396.8,190.0 397.5,189.9 398.1,189.9C398.8,189.9 399.5,189.9 400.1,189.9C400.8,189.9 401.5,189.9 402.1,189.9C402.8,189.8 403.5,189.8 404.1,189.8C404.8,189.8 405.5,189.8 406.1,189.7C406.8,189.7 407.5,189.7 408.1,189.7C408.8,189.6 409.4,189.6 410.1,189.6C410.8,189.6 411.4,189.5 412.1,189.5C412.8,189.5 413.4,189.4 414.1,189.4C414.8,189.4 415.4,189.3 416.1,189.3C416.8,189.3 417.4,189.2 418.1,189.2C418.7,189.1 419.4,189.1 420.1,189.0C420.7,189.0 421.4,189.0 422.1,188.9C422.7,188.9 423.4,188.8 424.0,188.7C424.7,188.7 425.4,188.6 426.0,188.6C426.7,188.5 427.3,188.5 428.0,188.4C428.7,188.3 429.3,188.3 430.0,188.2C430.6,188.1 431.3,188.1 432.0,188.0C432.6,187.9 433.3,187.8 433.9,187.8C434.6,187.7 435.2,187.6 435.9,187.5C436.6,187.4 437.2,187.4 437.9,187.3C438.5,187.2 439.2,187.1 439.8,187.0C440.5,186.9 441.1,186.8 441.8,186.7C442.4,186.6 443.1,186.5 443.8,186.4C444.4,186.3 445.1,186.2 445.7,186.1C446.4,186.0 447.0,185.9 447.7,185.8C448.3,185.6 449.0,185.5 449.6,185.4C450.3,185.3 450.9,185.2 451.6,185.0C452.2,184.9 452.9,184.8 453.5,184.6C454.2,184.5 454.8,184.4 455.4,184.2C456.1,184.1 456.7,183.9 457.4,183.8C458.0,183.6 458.7,183.5 459.3,183.3C460.0,183.2 460.6,183.0 461.2,182.9C461.9,182.7 462.5,182.5 463.2,182.4C463.8,182.2 464.4,182.0 465.1,181.9C465.7,181.7 466.4,181.5 467.0,181.3C467.6,181.1 468.3,181.0 468.9,180.8C469.5,180.6 470.2,180.4 470.8,180.2C471.5,180.0 472.1,179.8 472.7,179.6C473.4,179.4 474.0,179.2 474.6,179.0C475.2,178.7 475.9,178.5 476.5,178.3C477.1,178.1 477.8,177.9 478.4,177.7C479.0,177.4 479.7,177.2 480.3,177.0C480.9,176.8 481.6,176.6 482.2,176.3C482.8,176.1 483.5,175.9 484.1,175.7C484.7,175.4 485.3,175.2 486.0,175.0C486.6,174.8 487.2,174.5 487.9,174.3C488.5,174.1 489.1,173.9 489.8,173.6C490.4,173.4 491.0,173.2 491.7,173.0C492.3,172.8 492.9,172.5 493.6,172.3C494.2,172.1 494.8,171.9 495.5,171.7C496.1,171.5 496.8,171.3 497.4,171.0C498.0,170.8 498.7,170.6 499.3,170.4C499.9,170.2 500.6,170.0 501.2,169.8C501.9,169.6 502.5,169.5 503.2,169.3C503.8,169.1 504.5,168.9 505.1,168.7C505.8,168.6 506.4,168.4 507.1,168.2C507.7,168.1 508.4,167.9 509.0,167.8C509.7,167.6 510.3,167.5 511.0,167.3C511.6,167.2 512.3,167.1 512.9,167.0C513.6,166.9 514.2,166.8 514.9,166.7C515.5,166.7 516.2,166.6 516.8,166.6C517.5,166.5 518.1,166.5 518.7,166.5C519.4,166.5 520.0,166.5 520.7,166.6C521.3,166.6 521.9,166.7 522.6,166.8C523.2,166.8 523.8,166.9 524.4,167.1C525.1,167.2 525.7,167.3 526.3,167.5C526.9,167.7 527.5,167.8 528.1,168.0C528.7,168.2 529.3,168.5 529.9,168.7C530.5,169.0 531.1,169.2 531.7,169.5C532.3,169.8 532.9,170.1 533.4,170.4C534.0,170.7 534.5,171.1 535.1,171.4C535.7,171.8 536.2,172.1 536.8,172.5C537.3,172.9 537.8,173.3 538.4,173.7C538.9,174.1 539.4,174.6 539.9,175.0C540.5,175.4 541.0,175.9 541.5,176.3C542.0,176.8 542.5,177.2 543.0,177.7C543.5,178.2 544.0,178.7 544.5,179.1C545.0,179.6 545.5,180.1 546.0,180.6C546.5,181.1 547.0,181.6 547.5,182.1C548.0,182.6 548.5,183.0 549.0,183.5C549.5,184.0 550.0,184.5 550.4,185.0C550.9,185.5 551.4,186.0 551.9,186.4C552.4,186.9 552.9,187.4 553.4,187.9C553.9,188.3 554.4,188.8 554.9,189.2C555.4,189.7 555.9,190.2 556.4,190.6C556.9,191.1 557.4,191.5 557.9,191.9C558.4,192.4 558.9,192.8 559.4,193.2C559.9,193.6 560.4,194.1 560.9,194.5C561.5,194.9 562.0,195.3 562.5,195.6C563.0,196.0 563.6,196.4 564.1,196.8C564.7,197.1 565.2,197.5 565.8,197.8C566.3,198.2 566.9,198.5 567.4,198.8C568.0,199.1 568.6,199.4 569.2,199.7C569.7,200.0 570.3,200.3 570.9,200.6C571.5,200.8 572.1,201.1 572.7,201.4C573.3,201.6 573.9,201.8 574.5,202.1C575.1,202.3 575.7,202.5 576.3,202.7C577.0,202.9 577.6,203.1 578.2,203.3C578.9,203.5 579.5,203.7 580.1,203.8C580.8,204.0 581.4,204.2 582.1,204.3C582.7,204.5 583.4,204.6 584.0,204.7C584.7,204.8 585.3,204.9 586.0,205.0C586.7,205.2 587.3,205.2 588.0,205.3C588.7,205.4 589.4,205.5 590.1,205.5C590.7,205.6 591.4,205.7 592.1,205.7C592.8,205.7 593.5,205.8 594.2,205.8" stroke="#008000" stroke-width="1.6" fill="none"/><path d="M344.3,189.6C345.0,189.6 345.6,189.6 346.3,189.6C346.9,189.6 347.6,189.6 348.3,189.6C348.9,189.6 349.6,189.6 350.3,189.6C350.9,189.7 351.6,189.7 352.2,189.7C352.9,189.7 353.6,189.7 354.2,189.7C354.9,189.7 355.6,189.7 356.2,189.7C356.9,189.7 357.5,189.7 358.2,189.7C358.9,189.7 359.5,189.7 360.2,189.7C360.9,189.7 361.5,189.7 362.2,189.7C362.9,189.7 363.5,189.7 364.2,189.7C364.9,189.7 365.5,189.7 366.2,189.7C366.8,189.7 367.5,189.7 368.2,189.6C368.8,189.6 369.5,189.6 370.2,189.6C370.8,189.6 371.5,189.6 372.2,189.6C372.8,189.6 373.5,189.6 374.2,189.6C374.8,189.6 375.5,189.5 376.2,189.5C376.8,189.5 377.5,189.5 378.2,189.5C378.8,189.5 379.5,189.5 380.2,189.4C380.8,189.4 381.5,189.4 382.1,189.4C382.8,189.4 383.5,189.3 384.1,189.3C384.8,189.3 385.5,189.3 386.1,189.2C386.8,189.2 387.5,189.2 388.1,189.2C388.8,189.1 389.5,189.1 390.1,189.1C390.8,189.0 391.5,189.0 392.1,189.0C392.8,188.9 393.5,188.9 394.1,188.9C394.8,188.8 395.4,188.8 396.1,188.8C396.8,188.7 397.4,188.7 398.1,188.6C398.8,188.6 399.4,188.6 400.1,188.5C400.8,188.5 401.4,188.4 402.1,188.4C402.7,188.3 403.4,188.3 404.1,188.2C404.7,188.2 405.4,188.1 406.0,188.1C406.7,188.0 407.4,188.0 408.0,187.9C408.7,187.8 409.4,187.8 410.0,187.7C410.7,187.7 411.3,187.6 412.0,187.5C412.7,187.5 413.3,187.4 414.0,187.3C414.6,187.3 415.3,187.2 416.0,187.1C416.6,187.0 417.3,187.0 417.9,186.9C418.6,186.8 419.2,186.7 419.9,186.6C420.6,186.6 421.2,186.5 421.9,186.4C422.5,186.3 423.2,186.2 423.8,186.1C424.5,186.1 425.1,186.0 425.8,185.9C426.5,185.8 427.1,185.7 427.8,185.6C428.4,185.5 429.1,185.4 429.7,185.3C430.4,185.2 431.0,185.1 431.7,185.0C432.3,184.9 433.0,184.8 433.6,184.7C434.3,184.6 435.0,184.5 435.6,184.3C436.3,184.2 436.9,184.1 437.6,184.0C438.2,183.9 438.9,183.8 439.5,183.7C440.2,183.5 440.8,183.4 441.5,183.3C442.1,183.2 442.8,183.1 443.4,182.9C444.1,182.8 444.7,182.7 445.4,182.6C446.0,182.4 446.7,182.3 447.3,182.2C448.0,182.1 448.6,181.9 449.3,181.8C449.9,181.7 450.6,181.5 451.2,181.4C451.9,181.3 452.5,181.1 453.2,181.0C453.8,180.9 454.5,180.7 455.1,180.6C455.7,180.5 456.4,180.3 457.0,180.2C457.7,180.0 458.3,179.9 459.0,179.8C459.6,179.6 460.3,179.5 460.9,179.3C461.6,179.2 462.2,179.0 462.9,178.9C463.5,178.7 464.2,178.6 464.8,178.4C465.5,178.3 466.1,178.2 466.8,178.0C467.4,177.9 468.1,177.7 468.7,177.5C469.4,177.4 470.0,177.2 470.7,177.1C471.3,176.9 472.0,176.8 472.6,176.6C473.3,176.5 473.9,176.3 474.5,176.2C475.2,176.0 475.8,175.9 476.5,175.7C477.1,175.5 477.8,175.4 478.4,175.2C479.1,175.1 479.7,174.9 480.4,174.8C481.0,174.6 481.7,174.4 482.3,174.3C483.0,174.1 483.6,174.0 484.3,173.8C484.9,173.6 485.6,173.5 486.2,173.3C486.9,173.2 487.5,173.0 488.2,172.8C488.8,172.7 489.5,172.5 490.1,172.4C490.8,172.2 491.5,172.1 492.1,171.9C492.8,171.8 493.4,171.6 494.1,171.5C494.7,171.3 495.4,171.2 496.0,171.0C496.7,170.9 497.4,170.7 498.0,170.6C498.7,170.4 499.3,170.3 500.0,170.2C500.7,170.0 501.3,169.9 502.0,169.8C502.6,169.7 503.3,169.6 503.9,169.5C504.6,169.4 505.3,169.3 505.9,169.3C506.6,169.2 507.2,169.1 507.9,169.1C508.5,169.1 509.2,169.0 509.9,169.0C510.5,169.0 511.2,169.0 511.8,169.0C512.5,169.0 513.1,169.1 513.8,169.1C514.4,169.2 515.0,169.2 515.7,169.3C516.3,169.4 517.0,169.4 517.6,169.5C518.3,169.6 518.9,169.7 519.5,169.9C520.2,170.0 520.8,170.1 521.5,170.2C522.1,170.4 522.7,170.5 523.4,170.7C524.0,170.9 524.6,171.0 525.2,171.2C525.9,171.4 526.5,171.6 527.1,171.8C527.8,172.0 528.4,172.2 529.0,172.5C529.6,172.7 530.2,172.9 530.8,173.2C531.5,173.4 532.1,173.7 532.7,173.9C533.3,174.2 533.9,174.4 534.5,174.7C535.1,175.0 535.7,175.3 536.3,175.6C536.9,175.9 537.5,176.2 538.1,176.5C538.7,176.8 539.3,177.1 539.9,177.4C540.5,177.7 541.1,178.0 541.7,178.4C542.3,178.7 542.9,179.0 543.4,179.4C544.0,179.7 544.6,180.0 545.2,180.4C545.8,180.7 546.4,181.0 547.0,181.4C547.5,181.7 548.1,182.1 548.7,182.4C549.3,182.7 549.9,183.1 550.5,183.4C551.0,183.7 551.6,184.1 552.2,184.4C552.8,184.7 553.4,185.1 554.0,185.4C554.6,185.7 555.2,186.0 555.7,186.3C556.3,186.6 556.9,186.9 557.5,187.2C558.1,187.5 558.7,187.8 559.3,188.1C559.9,188.4 560.5,188.7 561.1,188.9C561.7,189.2 562.4,189.4 563.0,189.7C563.6,189.9 564.2,190.2 564.8,190.4C565.4,190.6 566.1,190.8 566.7,191.0C567.3,191.2 567.9,191.4 568.6,191.6C569.2,191.8 569.8,192.0 570.5,192.1C571.1,192.3 571.8,192.5 572.4,192.6C573.0,192.8 573.7,192.9 574.3,193.0C575.0,193.2 575.6,193.3 576.3,193.4C576.9,193.5 577.6,193.6 578.2,193.7C578.9,193.8 579.6,193.9 580.2,194.0C580.9,194.1 581.5,194.2 582.2,194.3C582.9,194.3 583.5,194.4 584.2,194.5C584.8,194.6 585.5,194.6 586.2,194.7C586.8,194.7 587.5,194.8 588.2,194.8C588.8,194.9 589.5,194.9 590.2,194.9C590.9,195.0 591.5,195.0 592.2,195.0C592.9,195.1 593.5,195.1 594.2,195.1" stroke="#000080" stroke-width="1.6" fill="none"/><path d="M344.3,189.6C345.0,189.6 345.6,189.6 346.3,189.7C347.0,189.7 347.6,189.7 348.3,189.8C349.0,189.8 349.6,189.8 350.3,189.9C351.0,189.9 351.6,189.9 352.3,190.0C353.0,190.0 353.6,190.0 354.3,190.1C355.0,190.1 355.6,190.1 356.3,190.1C357.0,190.2 357.6,190.2 358.3,190.2C359.0,190.2 359.6,190.3 360.3,190.3C361.0,190.3 361.6,190.3 362.3,190.3C362.9,190.4 363.6,190.4 364.3,190.4C364.9,190.4 365.6,190.4 366.3,190.4C366.9,190.5 367.6,190.5 368.3,190.5C368.9,190.5 369.6,190.5 370.3,190.5C370.9,190.5 371.6,190.5 372.3,190.6C372.9,190.6 373.6,190.6 374.2,190.6C374.9,190.6 375.6,190.6 376.2,190.6C376.9,190.6 377.6,190.6 378.2,190.6C378.9,190.6 379.6,190.6 380.2,190.6C380.9,190.6 381.5,190.6 382.2,190.6C382.9,190.6 383.5,190.6 384.2,190.6C384.9,190.6 385.5,190.6 386.2,190.6C386.9,190.6 387.5,190.6 388.2,190.6C388.8,190.6 389.5,190.6 390.2,190.6C390.8,190.6 391.5,190.6 392.2,190.6C392.8,190.6 393.5,190.6 394.2,190.6C394.8,190.6 395.5,190.6 396.1,190.5C396.8,190.5 397.5,190.5 398.1,190.5C398.8,190.5 399.5,190.5 400.1,190.5C400.8,190.4 401.4,190.4 402.1,190.4C402.8,190.4 403.4,190.4 404.1,190.4C404.8,190.3 405.4,190.3 406.1,190.3C406.7,190.3 407.4,190.3 408.1,190.2C408.7,190.2 409.4,190.2 410.1,190.2C410.7,190.2 411.4,190.1 412.0,190.1C412.7,190.1 413.4,190.1 414.0,190.0C414.7,190.0 415.4,190.0 416.0,190.0C416.7,189.9 417.3,189.9 418.0,189.9C418.7,189.8 419.3,189.8 420.0,189.8C420.7,189.7 421.3,189.7 422.0,189.7C422.6,189.6 423.3,189.6 424.0,189.6C424.6,189.5 425.3,189.5 426.0,189.5C426.6,189.4 427.3,189.4 427.9,189.4C428.6,189.3 429.3,189.3 429.9,189.2C430.6,189.2 431.3,189.2 431.9,189.1C432.6,189.1 433.2,189.0 433.9,189.0C434.6,189.0 435.2,188.9 435.9,188.9C436.6,188.8 437.2,188.8 437.9,188.7C438.5,188.7 439.2,188.6 439.9,188.6C440.5,188.5 441.2,188.5 441.8,188.4C442.5,188.4 443.2,188.4 443.8,188.3C444.5,188.3 445.2,188.2 445.8,188.1C446.5,188.1 447.1,188.0 447.8,188.0C448.5,187.9 449.1,187.9 449.8,187.8C450.5,187.8 451.1,187.7 451.8,187.7C452.4,187.6 453.1,187.5 453.8,187.5C454.4,187.4 455.1,187.4 455.8,187.3C456.4,187.3 457.1,187.2 457.7,187.1C458.4,187.1 459.1,187.0 459.7,187.0C460.4,186.9 461.1,186.8 461.7,186.8C462.4,186.7 463.1,186.6 463.7,186.6C464.4,186.5 465.0,186.4 465.7,186.4C466.4,186.3 467.0,186.2 467.7,186.2C468.4,186.1 469.0,186.0 469.7,186.0C470.3,185.9 471.0,185.8 471.7,185.8C472.3,185.7 473.0,185.6 473.7,185.5C474.3,185.5 475.0,185.4 475.7,185.3C476.3,185.3 477.0,185.2 477.6,185.1C478.3,185.0 479.0,185.0 479.6,184.9C480.3,184.8 481.0,184.7 481.6,184.7C482.3,184.6 483.0,184.5 483.6,184.4C484.3,184.4 484.9,184.3 485.6,184.2C486.3,184.1 486.9,184.1 487.6,184.0C488.3,183.9 488.9,183.9 489.6,183.8C490.2,183.7 490.9,183.7 491.6,183.6C492.2,183.6 492.9,183.5 493.6,183.5C494.2,183.4 494.9,183.4 495.5,183.3C496.2,183.3 496.9,183.2 497.5,183.2C498.2,183.2 498.8,183.1 499.5,183.1C500.2,183.1 500.8,183.1 501.5,183.1C502.1,183.1 502.8,183.0 503.4,183.0C504.1,183.0 504.8,183.1 505.4,183.1C506.1,183.1 506.7,183.1 507.4,183.1C508.0,183.2 508.7,183.2 509.3,183.3C510.0,183.3 510.6,183.4 511.3,183.4C511.9,183.5 512.6,183.6 513.2,183.6C513.9,183.7 514.5,183.8 515.2,183.9C515.8,184.0 516.5,184.1 517.1,184.2C517.8,184.3 518.4,184.4 519.1,184.6C519.7,184.7 520.3,184.8 521.0,185.0C521.6,185.1 522.3,185.2 522.9,185.4C523.6,185.5 524.2,185.7 524.8,185.8C525.5,186.0 526.1,186.2 526.8,186.3C527.4,186.5 528.0,186.7 528.7,186.8C529.3,187.0 530.0,187.2 530.6,187.4C531.2,187.6 531.9,187.8 532.5,187.9C533.1,188.1 533.8,188.3 534.4,188.5C535.1,188.7 535.7,188.9 536.3,189.1C537.0,189.3 537.6,189.6 538.2,189.8C538.9,190.0 539.5,190.2 540.1,190.4C540.8,190.6 541.4,190.8 542.0,191.0C542.7,191.3 543.3,191.5 543.9,191.7C544.6,191.9 545.2,192.1 545.8,192.4C546.5,192.6 547.1,192.8 547.7,193.0C548.4,193.2 549.0,193.5 549.6,193.7C550.2,193.9 550.9,194.1 551.5,194.3C552.1,194.6 552.8,194.8 553.4,195.0C554.0,195.2 554.7,195.4 555.3,195.7C555.9,195.9 556.6,196.1 557.2,196.3C557.8,196.5 558.5,196.7 559.1,196.9C559.7,197.1 560.4,197.4 561.0,197.6C561.6,197.8 562.3,198.0 562.9,198.2C563.6,198.4 564.2,198.6 564.8,198.8C565.5,198.9 566.1,199.1 566.7,199.3C567.4,199.5 568.0,199.7 568.7,199.9C569.3,200.0 569.9,200.2 570.6,200.4C571.2,200.6 571.9,200.7 572.5,200.9C573.2,201.0 573.8,201.2 574.4,201.4C575.1,201.5 575.7,201.6 576.4,201.8C577.0,201.9 577.7,202.1 578.3,202.2C579.0,202.3 579.6,202.4 580.3,202.6C580.9,202.7 581.6,202.8 582.2,202.9C582.9,203.0 583.6,203.1 584.2,203.2C584.9,203.3 585.5,203.3 586.2,203.4C586.9,203.5 587.5,203.5 588.2,203.6C588.8,203.7 589.5,203.7 590.2,203.7C590.8,203.8 591.5,203.8 592.2,203.8C592.9,203.9 593.5,203.9 594.2,203.9" stroke="#8000ff" stroke-width="1.6" fill="none"/><path d="M344.3,189.6C345.0,189.6 345.6,189.6 346.3,189.7C347.0,189.7 347.6,189.8 348.3,189.8C349.0,189.8 349.6,189.8 350.3,189.9C350.9,189.9 351.6,189.9 352.3,190.0C352.9,190.0 353.6,190.0 354.3,190.1C354.9,190.1 355.6,190.1 356.3,190.1C356.9,190.2 357.6,190.2 358.3,190.2C358.9,190.2 359.6,190.3 360.3,190.3C360.9,190.3 361.6,190.3 362.2,190.3C362.9,190.4 363.6,190.4 364.2,190.4C364.9,190.4 365.6,190.4 366.2,190.5C366.9,190.5 367.6,190.5 368.2,190.5C368.9,190.5 369.6,190.5 370.2,190.6C370.9,190.6 371.6,190.6 372.2,190.6C372.9,190.6 373.5,190.6 374.2,190.6C374.9,190.6 375.5,190.7 376.2,190.7C376.9,190.7 377.5,190.7 378.2,190.7C378.9,190.7 379.5,190.7 380.2,190.7C380.9,190.7 381.5,190.7 382.2,190.7C382.9,190.8 383.5,190.8 384.2,190.8C384.8,190.8 385.5,190.8 386.2,190.8C386.8,190.8 387.5,190.8 388.2,190.8C388.8,190.8 389.5,190.8 390.2,190.8C390.8,190.8 391.5,190.8 392.2,190.8C392.8,190.8 393.5,190.8 394.2,190.8C394.8,190.8 395.5,190.8 396.1,190.8C396.8,190.8 397.5,190.8 398.1,190.8C398.8,190.8 399.5,190.8 400.1,190.8C400.8,190.8 401.5,190.8 402.1,190.8C402.8,190.8 403.5,190.8 404.1,190.8C404.8,190.7 405.5,190.7 406.1,190.7C406.8,190.7 407.5,190.7 408.1,190.7C408.8,190.7 409.4,190.7 410.1,190.7C410.8,190.7 411.4,190.7 412.1,190.7C412.8,190.7 413.4,190.7 414.1,190.6C414.8,190.6 415.4,190.6 416.1,190.6C416.8,190.6 417.4,190.6 418.1,190.6C418.8,190.6 419.4,190.6 420.1,190.6C420.7,190.5 421.4,190.5 422.1,190.5C422.7,190.5 423.4,190.5 424.1,190.5C424.7,190.5 425.4,190.5 426.1,190.5C426.7,190.4 427.4,190.4 428.1,190.4C428.7,190.4 429.4,190.4 430.1,190.4C430.7,190.4 431.4,190.4 432.0,190.3C432.7,190.3 433.4,190.3 434.0,190.3C434.7,190.3 435.4,190.3 436.0,190.3C436.7,190.2 437.4,190.2 438.0,190.2C438.7,190.2 439.4,190.2 440.0,190.2C440.7,190.2 441.4,190.1 442.0,190.1C442.7,190.1 443.3,190.1 444.0,190.1C444.7,190.1 445.3,190.1 446.0,190.0C446.7,190.0 447.3,190.0 448.0,190.0C448.7,190.0 449.3,190.0 450.0,190.0C450.7,189.9 451.3,189.9 452.0,189.9C452.7,189.9 453.3,189.9 454.0,189.9C454.6,189.9 455.3,189.8 456.0,189.8C456.6,189.8 457.3,189.8 458.0,189.8C458.6,189.8 459.3,189.8 460.0,189.7C460.6,189.7 461.3,189.7 462.0,189.7C462.6,189.7 463.3,189.7 464.0,189.7C464.6,189.7 465.3,189.6 465.9,189.6C466.6,189.6 467.3,189.6 467.9,189.6C468.6,189.6 469.3,189.6 469.9,189.6C470.6,189.5 471.3,189.5 471.9,189.5C472.6,189.5 473.3,189.5 473.9,189.5C474.6,189.5 475.3,189.5 475.9,189.5C476.6,189.4 477.3,189.4 477.9,189.4C478.6,189.4 479.2,189.4 479.9,189.4C480.6,189.4 481.2,189.4 481.9,189.4C482.6,189.4 483.2,189.4 483.9,189.4C484.6,189.4 485.2,189.4 485.9,189.4C486.6,189.4 487.2,189.4 487.9,189.4C488.5,189.4 489.2,189.4 489.9,189.4C490.5,189.4 491.2,189.4 491.9,189.4C492.5,189.4 493.2,189.4 493.8,189.4C494.5,189.4 495.2,189.4 495.8,189.5C496.5,189.5 497.2,189.5 497.8,189.5C498.5,189.5 499.1,189.5 499.8,189.6C500.5,189.6 501.1,189.6 501.8,189.6C502.5,189.7 503.1,189.7 503.8,189.7C504.4,189.8 505.1,189.8 505.8,189.8C506.4,189.9 507.1,189.9 507.7,189.9C508.4,190.0 509.1,190.0 509.7,190.1C510.4,190.1 511.0,190.2 511.7,190.2C512.4,190.3 513.0,190.3 513.7,190.4C514.3,190.4 515.0,190.5 515.7,190.6C516.3,190.6 517.0,190.7 517.6,190.8C518.3,190.8 518.9,190.9 519.6,191.0C520.3,191.1 520.9,191.1 521.6,191.2C522.2,191.3 522.9,191.4 523.5,191.5C524.2,191.6 524.8,191.7 525.5,191.8C526.2,191.9 526.8,192.0 527.5,192.1C528.1,192.2 528.8,192.3 529.4,192.4C530.1,192.5 530.7,192.6 531.4,192.8C532.0,192.9 532.7,193.0 533.3,193.1C534.0,193.3 534.6,193.4 535.3,193.5C535.9,193.7 536.6,193.8 537.2,194.0C537.9,194.1 538.5,194.3 539.2,194.4C539.8,194.6 540.5,194.7 541.1,194.9C541.8,195.1 542.4,195.2 543.1,195.4C543.7,195.6 544.4,195.7 545.0,195.9C545.7,196.1 546.3,196.3 547.0,196.4C547.6,196.6 548.3,196.8 548.9,197.0C549.6,197.2 550.2,197.3 550.9,197.5C551.5,197.7 552.2,197.9 552.8,198.0C553.4,198.2 554.1,198.4 554.7,198.6C555.4,198.7 556.0,198.9 556.7,199.1C557.3,199.2 558.0,199.4 558.6,199.6C559.3,199.7 559.9,199.9 560.6,200.0C561.2,200.2 561.9,200.3 562.5,200.4C563.2,200.6 563.9,200.7 564.5,200.8C565.2,201.0 565.8,201.1 566.5,201.2C567.1,201.3 567.8,201.4 568.4,201.5C569.1,201.6 569.8,201.7 570.4,201.8C571.1,201.8 571.7,201.9 572.4,202.0C573.0,202.1 573.7,202.2 574.4,202.2C575.0,202.3 575.7,202.4 576.3,202.4C577.0,202.5 577.7,202.6 578.3,202.6C579.0,202.7 579.6,202.8 580.3,202.8C581.0,202.9 581.6,202.9 582.3,203.0C583.0,203.1 583.6,203.1 584.3,203.2C584.9,203.2 585.6,203.3 586.3,203.4C586.9,203.4 587.6,203.5 588.3,203.6C588.9,203.6 589.6,203.7 590.2,203.8C590.9,203.9 591.6,203.9 592.2,204.0C592.9,204.1 593.5,204.2 594.2,204.3" stroke="#800080" stroke-width="1.6" fill="none"/></g>
<rect x="344.3" y="4.3" width="249.90" height="203.50" fill="none" stroke="#000" stroke-width="1.3"/>
<line x1="344.30" y1="207.8" x2="344.30" y2="211.8" stroke="#000" stroke-width="1.3"/>
<text x="344.30" y="223.80" text-anchor="middle" font-size="10.5">400</text>
<line x1="406.78" y1="207.8" x2="406.78" y2="211.8" stroke="#000" stroke-width="1.3"/>
<text x="406.78" y="223.80" text-anchor="middle" font-size="10.5">450</text>
<line x1="469.25" y1="207.8" x2="469.25" y2="211.8" stroke="#000" stroke-width="1.3"/>
<text x="469.25" y="223.80" text-anchor="middle" font-size="10.5">500</text>
<line x1="531.73" y1="207.8" x2="531.73" y2="211.8" stroke="#000" stroke-width="1.3"/>
<text x="531.73" y="223.80" text-anchor="middle" font-size="10.5">550</text>
<line x1="594.20" y1="207.8" x2="594.20" y2="211.8" stroke="#000" stroke-width="1.3"/>
<text x="594.20" y="223.80" text-anchor="middle" font-size="10.5">600</text>
<line x1="375.54" y1="207.8" x2="375.54" y2="209.8" stroke="#000" stroke-width="1.3"/>
<line x1="438.01" y1="207.8" x2="438.01" y2="209.8" stroke="#000" stroke-width="1.3"/>
<line x1="500.49" y1="207.8" x2="500.49" y2="209.8" stroke="#000" stroke-width="1.3"/>
<line x1="562.96" y1="207.8" x2="562.96" y2="209.8" stroke="#000" stroke-width="1.3"/>
<line x1="340.3" y1="189.30" x2="344.3" y2="189.30" stroke="#000" stroke-width="1.3"/>
<text x="338.2" y="192.90" text-anchor="end" font-size="10.5">0.0</text>
<line x1="340.3" y1="152.30" x2="344.3" y2="152.30" stroke="#000" stroke-width="1.3"/>
<text x="338.2" y="155.90" text-anchor="end" font-size="10.5">0.2</text>
<line x1="340.3" y1="115.30" x2="344.3" y2="115.30" stroke="#000" stroke-width="1.3"/>
<text x="338.2" y="118.90" text-anchor="end" font-size="10.5">0.4</text>
<line x1="340.3" y1="78.30" x2="344.3" y2="78.30" stroke="#000" stroke-width="1.3"/>
<text x="338.2" y="81.90" text-anchor="end" font-size="10.5">0.6</text>
<line x1="340.3" y1="41.30" x2="344.3" y2="41.30" stroke="#000" stroke-width="1.3"/>
<text x="338.2" y="44.90" text-anchor="end" font-size="10.5">0.8</text>
<line x1="340.3" y1="4.30" x2="344.3" y2="4.30" stroke="#000" stroke-width="1.3"/>
<text x="338.2" y="7.90" text-anchor="end" font-size="10.5">1.0</text>
<line x1="342.3" y1="207.80" x2="344.3" y2="207.80" stroke="#000" stroke-width="1.3"/>
<line x1="342.3" y1="170.80" x2="344.3" y2="170.80" stroke="#000" stroke-width="1.3"/>
<line x1="342.3" y1="133.80" x2="344.3" y2="133.80" stroke="#000" stroke-width="1.3"/>
<line x1="342.3" y1="96.80" x2="344.3" y2="96.80" stroke="#000" stroke-width="1.3"/>
<line x1="342.3" y1="59.80" x2="344.3" y2="59.80" stroke="#000" stroke-width="1.3"/>
<line x1="342.3" y1="22.80" x2="344.3" y2="22.80" stroke="#000" stroke-width="1.3"/>
<text x="469.25" y="242.2" text-anchor="middle" font-size="10.5">Wavelength(nm)</text>
<text transform="translate(308.6,107.5) rotate(-90)" text-anchor="middle" font-size="10.5">Absorbance(a.u)</text>
<text x="351" y="18.6" font-size="10.5">(b)</text>
<text x="398.6" y="51.4" font-size="10.5">1.0 wt.% Ag-TiO2-MW</text>
<line x1="352.8" y1="82.60" x2="375.8" y2="82.60" stroke="#000000" stroke-width="1.5"/>
<text x="379.1" y="86.40" font-size="10.5" xml:space="preserve">RB dye</text>
<line x1="352.8" y1="96.13" x2="375.8" y2="96.13" stroke="#ff0000" stroke-width="1.5"/>
<text x="379.1" y="99.93" font-size="10.5" xml:space="preserve">0 min</text>
<line x1="352.8" y1="109.66" x2="375.8" y2="109.66" stroke="#0000ff" stroke-width="1.5"/>
<text x="379.1" y="113.46" font-size="10.5" xml:space="preserve">5 min</text>
<line x1="352.8" y1="123.19" x2="375.8" y2="123.19" stroke="#ff00ff" stroke-width="1.5"/>
<text x="379.1" y="126.99" font-size="10.5" xml:space="preserve">10 min</text>
<line x1="352.8" y1="136.72" x2="375.8" y2="136.72" stroke="#008000" stroke-width="1.5"/>
<text x="379.1" y="140.52" font-size="10.5" xml:space="preserve">15 min</text>
<line x1="352.8" y1="150.25" x2="375.8" y2="150.25" stroke="#000080" stroke-width="1.5"/>
<text x="379.1" y="154.05" font-size="10.5" xml:space="preserve">20 min</text>
<line x1="352.8" y1="163.78" x2="375.8" y2="163.78" stroke="#8000ff" stroke-width="1.5"/>
<text x="379.1" y="167.58" font-size="10.5" xml:space="preserve">25 min</text>
<line x1="352.8" y1="177.31" x2="375.8" y2="177.31" stroke="#800080" stroke-width="1.5"/>
<text x="379.1" y="181.11" font-size="10.5" xml:space="preserve">30 min</text></g>
<g id="pc"><clipPath id="clipc"><rect x="36.0" y="266.0" width="257.25" height="208.3"/></clipPath>
<rect x="36.0" y="269.0" width="257.25" height="204.30" fill="none" stroke="#000" stroke-width="1.3"/>
<g clip-path="url(#clipc)"><path d="M34.4,472.9C35.1,472.9 35.7,472.9 36.4,472.9C37.1,472.9 37.7,472.9 38.4,472.9C39.1,472.9 39.7,472.9 40.4,472.9C41.1,472.9 41.7,472.9 42.4,472.9C43.1,472.9 43.7,472.9 44.4,472.9C45.1,472.9 45.7,472.9 46.4,472.9C47.1,472.9 47.7,472.9 48.4,472.9C49.1,472.9 49.7,472.9 50.4,472.9C51.0,472.9 51.7,472.9 52.4,472.9C53.0,472.9 53.7,472.9 54.4,472.8C55.0,472.8 55.7,472.8 56.3,472.8C57.0,472.8 57.7,472.8 58.3,472.8C59.0,472.8 59.7,472.8 60.3,472.8C61.0,472.7 61.6,472.7 62.3,472.7C63.0,472.7 63.6,472.7 64.3,472.7C65.0,472.7 65.6,472.6 66.3,472.6C66.9,472.6 67.6,472.6 68.3,472.6C68.9,472.6 69.6,472.5 70.3,472.5C70.9,472.5 71.6,472.5 72.2,472.5C72.9,472.4 73.6,472.4 74.2,472.4C74.9,472.4 75.6,472.4 76.2,472.3C76.9,472.3 77.6,472.3 78.2,472.3C78.9,472.2 79.6,472.2 80.2,472.2C80.9,472.2 81.6,472.1 82.2,472.1C82.9,472.1 83.6,472.1 84.2,472.0C84.9,472.0 85.6,472.0 86.2,471.9C86.9,471.9 87.5,471.9 88.2,471.8C88.9,471.8 89.5,471.7 90.2,471.7C90.9,471.6 91.5,471.6 92.2,471.5C92.9,471.4 93.5,471.4 94.2,471.3C94.9,471.2 95.5,471.2 96.2,471.1C96.8,471.0 97.5,470.9 98.2,470.8C98.8,470.7 99.5,470.7 100.1,470.5C100.8,470.4 101.4,470.3 102.1,470.2C102.8,470.1 103.4,470.0 104.1,469.8C104.7,469.7 105.4,469.6 106.0,469.4C106.7,469.3 107.3,469.1 107.9,468.9C108.6,468.8 109.2,468.6 109.9,468.4C110.5,468.2 111.2,468.0 111.8,467.8C112.4,467.6 113.1,467.4 113.7,467.2C114.3,466.9 114.9,466.7 115.6,466.5C116.2,466.2 116.8,466.0 117.4,465.7C118.0,465.4 118.6,465.2 119.2,464.9C119.8,464.6 120.4,464.3 121.0,464.0C121.6,463.7 122.2,463.4 122.8,463.0C123.3,462.7 123.9,462.4 124.5,462.0C125.0,461.7 125.6,461.3 126.1,461.0C126.7,460.6 127.2,460.2 127.7,459.8C128.3,459.4 128.8,459.0 129.3,458.6C129.8,458.2 130.3,457.8 130.8,457.4C131.3,456.9 131.7,456.5 132.2,456.0C132.7,455.6 133.1,455.1 133.6,454.6C134.0,454.2 134.4,453.7 134.9,453.2C135.3,452.7 135.7,452.2 136.1,451.6C136.5,451.1 136.8,450.6 137.2,450.0C137.6,449.5 137.9,448.9 138.2,448.4C138.6,447.8 138.9,447.2 139.2,446.6C139.5,446.0 139.8,445.4 140.1,444.8C140.4,444.2 140.7,443.6 141.0,443.0C141.3,442.4 141.6,441.8 141.8,441.1C142.1,440.5 142.4,439.9 142.6,439.2C142.9,438.6 143.1,438.0 143.4,437.3C143.6,436.7 143.9,436.1 144.1,435.4C144.4,434.8 144.6,434.1 144.9,433.5C145.1,432.9 145.4,432.2 145.6,431.6C145.9,431.0 146.1,430.3 146.4,429.7C146.6,429.1 146.9,428.4 147.1,427.8C147.4,427.2 147.7,426.6 147.9,426.0C148.2,425.4 148.5,424.8 148.8,424.2C149.1,423.6 149.4,423.0 149.7,422.4C150.0,421.8 150.3,421.3 150.6,420.7C151.0,420.1 151.3,419.6 151.6,419.0C152.0,418.5 152.3,418.0 152.7,417.4C153.1,416.9 153.4,416.4 153.8,415.8C154.2,415.3 154.6,414.8 155.0,414.3C155.4,413.8 155.8,413.3 156.2,412.8C156.6,412.3 157.0,411.8 157.5,411.2C157.9,410.7 158.3,410.2 158.7,409.7C159.2,409.2 159.6,408.7 160.1,408.2C160.5,407.7 161.0,407.2 161.4,406.7C161.8,406.2 162.3,405.6 162.7,405.1C163.2,404.6 163.6,404.1 164.0,403.6C164.5,403.0 164.9,402.5 165.3,402.0C165.7,401.4 166.1,400.9 166.5,400.4C166.9,399.8 167.2,399.3 167.6,398.7C167.9,398.1 168.3,397.6 168.6,397.0C168.9,396.4 169.2,395.9 169.5,395.3C169.8,394.7 170.0,394.1 170.3,393.5C170.5,392.9 170.8,392.3 171.0,391.7C171.2,391.1 171.4,390.4 171.6,389.8C171.8,389.2 171.9,388.6 172.1,387.9C172.2,387.3 172.4,386.7 172.5,386.0C172.7,385.4 172.8,384.7 172.9,384.1C173.0,383.4 173.1,382.8 173.2,382.1C173.3,381.5 173.4,380.8 173.5,380.1C173.6,379.5 173.7,378.8 173.8,378.1C173.8,377.5 173.9,376.8 174.0,376.1C174.0,375.5 174.1,374.8 174.2,374.1C174.3,373.5 174.3,372.8 174.4,372.1C174.5,371.4 174.5,370.8 174.6,370.1C174.7,369.4 174.7,368.8 174.8,368.1C174.9,367.4 175.0,366.7 175.0,366.1C175.1,365.4 175.2,364.7 175.3,364.1C175.4,363.4 175.5,362.7 175.6,362.1C175.7,361.4 175.8,360.7 175.9,360.1C176.0,359.4 176.1,358.8 176.2,358.1C176.3,357.4 176.4,356.8 176.5,356.1C176.6,355.5 176.8,354.8 176.9,354.1C177.0,353.5 177.1,352.8 177.2,352.2C177.4,351.5 177.5,350.9 177.6,350.2C177.7,349.5 177.9,348.9 178.0,348.2C178.1,347.6 178.2,346.9 178.4,346.3C178.5,345.6 178.6,345.0 178.8,344.3C178.9,343.7 179.1,343.0 179.2,342.4C179.3,341.7 179.5,341.1 179.6,340.4C179.7,339.8 179.9,339.1 180.0,338.5C180.2,337.9 180.3,337.2 180.5,336.6C180.6,335.9 180.7,335.3 180.9,334.6C181.0,334.0 181.2,333.4 181.3,332.7C181.5,332.1 181.6,331.4 181.7,330.8C181.9,330.2 182.0,329.5 182.2,328.9C182.3,328.2 182.5,327.6 182.6,327.0C182.7,326.3 182.9,325.7 183.0,325.0C183.2,324.4 183.3,323.8 183.5,323.1C183.6,322.5 183.8,321.9 183.9,321.2C184.0,320.6 184.2,319.9 184.3,319.3C184.5,318.7 184.6,318.0 184.8,317.4C184.9,316.7 185.0,316.1 185.2,315.5C185.3,314.8 185.5,314.2 185.6,313.5C185.8,312.9 185.9,312.2 186.1,311.6C186.2,310.9 186.3,310.3 186.5,309.6C186.6,309.0 186.8,308.3 186.9,307.7C187.1,307.0 187.2,306.4 187.4,305.7C187.5,305.0 187.7,304.4 187.8,303.7C188.0,303.1 188.1,302.4 188.2,301.7C188.4,301.1 188.5,300.4 188.7,299.7C188.8,299.0 189.0,298.4 189.1,297.7C189.3,297.0 189.4,296.3 189.6,295.6C189.8,295.0 190.0,294.3 190.2,293.6C190.4,292.9 190.6,292.3 190.8,291.6C191.1,290.9 191.4,290.2 191.7,289.6C192.0,288.9 192.3,288.3 192.7,287.8C193.1,287.3 193.5,286.9 193.9,286.7C194.3,286.6 194.7,286.7 195.1,287.0C195.5,287.3 195.9,287.8 196.2,288.4C196.6,289.0 196.9,289.7 197.2,290.4C197.4,291.0 197.7,291.7 197.9,292.4C198.1,293.1 198.2,293.8 198.4,294.5C198.6,295.2 198.7,295.9 198.9,296.6C199.0,297.2 199.2,297.9 199.3,298.6C199.5,299.3 199.6,300.0 199.8,300.7C199.9,301.3 200.1,302.0 200.2,302.7C200.3,303.4 200.5,304.0 200.6,304.7C200.8,305.4 200.9,306.0 201.0,306.7C201.2,307.3 201.3,308.0 201.4,308.7C201.5,309.3 201.7,310.0 201.8,310.6C201.9,311.3 202.0,312.0 202.2,312.6C202.3,313.3 202.4,313.9 202.5,314.6C202.6,315.2 202.7,315.9 202.9,316.5C203.0,317.2 203.1,317.8 203.2,318.5C203.3,319.1 203.4,319.7 203.5,320.4C203.6,321.0 203.7,321.7 203.8,322.3C203.9,323.0 204.0,323.6 204.1,324.3C204.2,324.9 204.3,325.5 204.4,326.2C204.5,326.8 204.6,327.5 204.7,328.1C204.8,328.8 204.9,329.4 205.0,330.1C205.1,330.7 205.2,331.3 205.3,332.0C205.4,332.6 205.5,333.3 205.5,333.9C205.6,334.6 205.7,335.2 205.8,335.9C205.9,336.5 206.0,337.2 206.1,337.8C206.1,338.5 206.2,339.1 206.3,339.8C206.4,340.4 206.5,341.1 206.6,341.7C206.6,342.4 206.7,343.0 206.8,343.7C206.9,344.3 207.0,345.0 207.1,345.7C207.1,346.3 207.2,347.0 207.3,347.6C207.4,348.3 207.4,348.9 207.5,349.6C207.6,350.3 207.7,350.9 207.7,351.6C207.8,352.2 207.9,352.9 208.0,353.6C208.0,354.2 208.1,354.9 208.2,355.5C208.3,356.2 208.3,356.9 208.4,357.5C208.5,358.2 208.6,358.8 208.6,359.5C208.7,360.2 208.8,360.8 208.9,361.5C208.9,362.2 209.0,362.8 209.1,363.5C209.1,364.1 209.2,364.8 209.3,365.5C209.4,366.1 209.4,366.8 209.5,367.5C209.6,368.1 209.6,368.8 209.7,369.5C209.8,370.1 209.8,370.8 209.9,371.5C210.0,372.1 210.1,372.8 210.1,373.5C210.2,374.1 210.3,374.8 210.3,375.4C210.4,376.1 210.5,376.8 210.5,377.4C210.6,378.1 210.7,378.8 210.8,379.4C210.8,380.1 210.9,380.8 211.0,381.4C211.0,382.1 211.1,382.8 211.2,383.4C211.2,384.1 211.3,384.8 211.4,385.4C211.5,386.1 211.5,386.8 211.6,387.4C211.7,388.1 211.7,388.8 211.8,389.4C211.9,390.1 212.0,390.8 212.0,391.4C212.1,392.1 212.2,392.8 212.2,393.4C212.3,394.1 212.4,394.7 212.5,395.4C212.5,396.1 212.6,396.7 212.7,397.4C212.8,398.1 212.8,398.7 212.9,399.4C213.0,400.1 213.1,400.7 213.2,401.4C213.2,402.0 213.3,402.7 213.4,403.4C213.5,404.0 213.5,404.7 213.6,405.3C213.7,406.0 213.8,406.7 213.9,407.3C213.9,408.0 214.0,408.6 214.1,409.3C214.2,410.0 214.3,410.6 214.4,411.3C214.4,411.9 214.5,412.6 214.6,413.2C214.7,413.9 214.8,414.6 214.9,415.2C215.0,415.9 215.1,416.5 215.1,417.2C215.2,417.8 215.3,418.5 215.4,419.1C215.5,419.8 215.6,420.4 215.7,421.1C215.8,421.7 215.9,422.4 216.0,423.0C216.1,423.7 216.2,424.3 216.3,425.0C216.4,425.6 216.5,426.3 216.6,426.9C216.7,427.6 216.8,428.2 216.9,428.9C217.0,429.5 217.1,430.2 217.2,430.8C217.3,431.5 217.4,432.1 217.5,432.8C217.6,433.4 217.7,434.1 217.8,434.7C218.0,435.4 218.1,436.0 218.2,436.7C218.3,437.3 218.4,438.0 218.6,438.6C218.7,439.3 218.8,439.9 218.9,440.6C219.0,441.2 219.2,441.9 219.3,442.5C219.4,443.2 219.6,443.9 219.7,444.5C219.8,445.2 220.0,445.8 220.1,446.5C220.2,447.1 220.4,447.8 220.5,448.4C220.7,449.1 220.8,449.8 221.0,450.4C221.1,451.1 221.3,451.7 221.4,452.4C221.6,453.1 221.7,453.7 221.9,454.4C222.0,455.0 222.2,455.7 222.4,456.4C222.5,457.0 222.7,457.7 222.9,458.4C223.0,459.0 223.2,459.7 223.4,460.4C223.5,461.0 223.7,461.7 223.9,462.4C224.1,463.0 224.3,463.7 224.5,464.3C224.7,465.0 224.9,465.6 225.2,466.2C225.4,466.8 225.7,467.4 226.0,467.9C226.2,468.5 226.6,469.0 226.9,469.5C227.2,470.0 227.6,470.4 228.0,470.8C228.4,471.2 228.9,471.6 229.3,471.9C229.8,472.2 230.3,472.4 230.9,472.7C231.4,472.9 232.0,473.0 232.6,473.2C233.2,473.3 233.9,473.4 234.5,473.4C235.2,473.5 235.9,473.5 236.6,473.6C237.2,473.6 238.0,473.5 238.7,473.5C239.4,473.5 240.1,473.4 240.9,473.4C241.6,473.3 242.4,473.2 243.1,473.1C243.9,473.1 244.6,473.0 245.4,472.9C246.1,472.8 246.9,472.7 247.6,472.7C248.3,472.6 249.0,472.5 249.7,472.5C250.5,472.4 251.1,472.4 251.8,472.4C252.5,472.4 253.1,472.4 253.8,472.4C254.4,472.4 255.1,472.4 255.7,472.5C256.3,472.5 256.9,472.5 257.5,472.6C258.2,472.6 258.8,472.7 259.4,472.7C260.0,472.8 260.6,472.8 261.3,472.9C261.9,472.9 262.5,472.9 263.2,473.0C263.8,473.0 264.4,473.0 265.1,473.0C265.7,473.0 266.4,473.0 267.1,473.0C267.7,473.0 268.4,473.0 269.1,473.0C269.7,473.0 270.4,473.0 271.1,473.0C271.8,473.0 272.4,473.0 273.1,473.0C273.8,473.0 274.5,473.0 275.2,472.9C275.9,472.9 276.5,472.9 277.2,472.9C277.9,472.9 278.6,472.9 279.3,472.8C280.0,472.8 280.6,472.8 281.3,472.8C282.0,472.8 282.7,472.8 283.4,472.8C284.0,472.7 284.7,472.7 285.4,472.7C286.1,472.7 286.7,472.7 287.4,472.7C288.1,472.7 288.7,472.7 289.4,472.8C290.0,472.8 290.7,472.8 291.3,472.8C291.9,472.8 292.6,472.9 293.2,472.9" stroke="#515151" stroke-width="1.4" fill="none"/><path d="M36.0,472.9C36.7,472.9 37.3,472.9 38.0,472.9C38.7,472.9 39.3,472.9 40.0,472.9C40.7,472.9 41.3,472.9 42.0,472.9C42.7,472.9 43.4,472.9 44.0,472.9C44.7,472.9 45.4,472.9 46.0,472.9C46.7,472.9 47.3,472.9 48.0,472.9C48.7,472.9 49.3,472.9 50.0,472.9C50.7,472.9 51.3,472.9 52.0,472.9C52.7,472.9 53.3,472.9 54.0,472.9C54.7,472.9 55.3,472.9 56.0,472.8C56.7,472.8 57.3,472.8 58.0,472.8C58.6,472.8 59.3,472.8 60.0,472.8C60.6,472.8 61.3,472.8 62.0,472.8C62.6,472.7 63.3,472.7 63.9,472.7C64.6,472.7 65.3,472.7 65.9,472.7C66.6,472.7 67.3,472.6 67.9,472.6C68.6,472.6 69.3,472.6 69.9,472.6C70.6,472.6 71.3,472.5 71.9,472.5C72.6,472.5 73.2,472.5 73.9,472.5C74.6,472.4 75.2,472.4 75.9,472.4C76.6,472.4 77.2,472.4 77.9,472.3C78.6,472.3 79.2,472.3 79.9,472.3C80.6,472.2 81.2,472.2 81.9,472.2C82.6,472.2 83.2,472.1 83.9,472.1C84.6,472.1 85.2,472.1 85.9,472.0C86.6,472.0 87.2,472.0 87.9,471.9C88.6,471.9 89.2,471.8 89.9,471.8C90.6,471.8 91.2,471.7 91.9,471.7C92.6,471.6 93.2,471.6 93.9,471.5C94.6,471.4 95.2,471.4 95.9,471.3C96.6,471.2 97.2,471.2 97.9,471.1C98.5,471.0 99.2,470.9 99.9,470.8C100.5,470.7 101.2,470.6 101.8,470.5C102.5,470.4 103.2,470.3 103.8,470.2C104.5,470.1 105.1,469.9 105.8,469.8C106.4,469.7 107.1,469.5 107.7,469.4C108.4,469.2 109.0,469.1 109.7,468.9C110.3,468.7 111.0,468.5 111.6,468.4C112.2,468.2 112.9,468.0 113.5,467.8C114.2,467.6 114.8,467.3 115.4,467.1C116.0,466.9 116.7,466.7 117.3,466.4C117.9,466.2 118.5,465.9 119.1,465.6C119.8,465.4 120.4,465.1 121.0,464.8C121.6,464.5 122.2,464.2 122.8,463.9C123.3,463.6 123.9,463.3 124.5,463.0C125.1,462.6 125.6,462.3 126.2,462.0C126.8,461.6 127.3,461.2 127.9,460.9C128.4,460.5 128.9,460.1 129.5,459.7C130.0,459.3 130.5,458.9 131.0,458.5C131.5,458.1 132.0,457.7 132.5,457.2C133.0,456.8 133.4,456.4 133.9,455.9C134.4,455.4 134.8,455.0 135.3,454.5C135.7,454.0 136.1,453.5 136.5,453.0C136.9,452.5 137.3,452.0 137.7,451.4C138.1,450.9 138.5,450.4 138.8,449.8C139.2,449.3 139.5,448.7 139.9,448.1C140.2,447.6 140.5,447.0 140.8,446.4C141.2,445.8 141.5,445.2 141.8,444.6C142.0,444.0 142.3,443.4 142.6,442.7C142.9,442.1 143.2,441.5 143.4,440.9C143.7,440.2 144.0,439.6 144.2,439.0C144.5,438.3 144.7,437.7 145.0,437.0C145.2,436.4 145.5,435.8 145.7,435.1C146.0,434.5 146.2,433.8 146.5,433.2C146.7,432.6 147.0,431.9 147.2,431.3C147.5,430.7 147.7,430.0 148.0,429.4C148.2,428.8 148.5,428.1 148.8,427.5C149.0,426.9 149.3,426.3 149.6,425.7C149.9,425.1 150.1,424.5 150.4,423.9C150.7,423.3 151.0,422.7 151.4,422.2C151.7,421.6 152.0,421.0 152.3,420.5C152.7,419.9 153.0,419.4 153.4,418.8C153.7,418.3 154.1,417.8 154.5,417.2C154.8,416.7 155.2,416.2 155.6,415.7C156.0,415.2 156.4,414.7 156.8,414.1C157.2,413.6 157.6,413.1 158.1,412.6C158.5,412.1 158.9,411.6 159.3,411.1C159.8,410.6 160.2,410.1 160.7,409.6C161.1,409.1 161.6,408.6 162.0,408.1C162.5,407.6 162.9,407.1 163.4,406.6C163.8,406.0 164.3,405.5 164.7,405.0C165.2,404.5 165.6,404.0 166.0,403.4C166.4,402.9 166.8,402.4 167.2,401.8C167.6,401.3 168.0,400.8 168.4,400.2C168.8,399.7 169.1,399.1 169.5,398.5C169.8,398.0 170.1,397.4 170.4,396.8C170.7,396.2 171.0,395.6 171.2,395.0C171.5,394.4 171.7,393.8 171.9,393.2C172.2,392.6 172.4,392.0 172.6,391.4C172.7,390.8 172.9,390.1 173.1,389.5C173.2,388.9 173.4,388.2 173.5,387.6C173.7,386.9 173.8,386.3 173.9,385.6C174.0,385.0 174.1,384.3 174.2,383.7C174.3,383.0 174.4,382.4 174.5,381.7C174.6,381.0 174.7,380.4 174.8,379.7C174.8,379.0 174.9,378.4 175.0,377.7C175.1,377.0 175.1,376.3 175.2,375.7C175.3,375.0 175.3,374.3 175.4,373.7C175.5,373.0 175.5,372.3 175.6,371.6C175.7,371.0 175.7,370.3 175.8,369.6C175.9,368.9 176.0,368.3 176.1,367.6C176.1,366.9 176.2,366.3 176.3,365.6C176.4,364.9 176.5,364.3 176.6,363.6C176.7,362.9 176.8,362.3 176.9,361.6C177.0,360.9 177.1,360.3 177.2,359.6C177.3,359.0 177.5,358.3 177.6,357.6C177.7,357.0 177.8,356.3 177.9,355.7C178.1,355.0 178.2,354.4 178.3,353.7C178.4,353.0 178.6,352.4 178.7,351.7C178.8,351.1 179.0,350.4 179.1,349.8C179.2,349.1 179.4,348.5 179.5,347.8C179.6,347.2 179.8,346.5 179.9,345.9C180.0,345.2 180.2,344.6 180.3,343.9C180.5,343.3 180.6,342.6 180.8,342.0C180.9,341.3 181.0,340.7 181.2,340.1C181.3,339.4 181.5,338.8 181.6,338.1C181.8,337.5 181.9,336.8 182.1,336.2C182.2,335.6 182.3,334.9 182.5,334.3C182.6,333.6 182.8,333.0 182.9,332.3C183.1,331.7 183.2,331.1 183.4,330.4C183.5,329.8 183.7,329.1 183.8,328.5C183.9,327.9 184.1,327.2 184.2,326.6C184.4,325.9 184.5,325.3 184.7,324.7C184.8,324.0 185.0,323.4 185.1,322.7C185.3,322.1 185.4,321.4 185.6,320.8C185.7,320.2 185.8,319.5 186.0,318.9C186.1,318.2 186.3,317.6 186.4,316.9C186.6,316.3 186.7,315.6 186.9,315.0C187.0,314.3 187.2,313.7 187.4,313.0C187.5,312.4 187.7,311.7 187.8,311.1C188.0,310.4 188.1,309.8 188.3,309.1C188.4,308.5 188.6,307.8 188.7,307.1C188.9,306.5 189.1,305.8 189.2,305.1C189.4,304.5 189.5,303.8 189.7,303.1C189.9,302.5 190.0,301.8 190.2,301.1C190.4,300.4 190.6,299.8 190.8,299.1C191.0,298.4 191.2,297.7 191.4,297.0C191.7,296.4 192.0,295.7 192.3,295.0C192.6,294.3 192.9,293.7 193.2,293.2C193.5,292.7 193.9,292.4 194.3,292.4C194.6,292.5 195.0,292.8 195.3,293.3C195.6,293.8 196.0,294.4 196.3,295.1C196.5,295.8 196.8,296.5 197.0,297.2C197.2,297.9 197.4,298.6 197.6,299.2C197.8,299.9 197.9,300.6 198.1,301.3C198.3,302.0 198.4,302.7 198.6,303.3C198.7,304.0 198.9,304.7 199.1,305.4C199.2,306.1 199.4,306.7 199.5,307.4C199.6,308.1 199.8,308.7 199.9,309.4C200.1,310.1 200.2,310.7 200.3,311.4C200.5,312.1 200.6,312.7 200.7,313.4C200.9,314.0 201.0,314.7 201.1,315.4C201.3,316.0 201.4,316.7 201.5,317.3C201.6,318.0 201.7,318.6 201.9,319.3C202.0,319.9 202.1,320.6 202.2,321.2C202.3,321.9 202.4,322.5 202.5,323.2C202.6,323.8 202.7,324.5 202.8,325.1C203.0,325.8 203.1,326.4 203.2,327.1C203.3,327.7 203.4,328.4 203.5,329.0C203.6,329.7 203.7,330.3 203.7,331.0C203.8,331.6 203.9,332.3 204.0,332.9C204.1,333.6 204.2,334.2 204.3,334.8C204.4,335.5 204.5,336.1 204.6,336.8C204.7,337.4 204.8,338.1 204.8,338.7C204.9,339.4 205.0,340.0 205.1,340.7C205.2,341.4 205.3,342.0 205.4,342.7C205.4,343.3 205.5,344.0 205.6,344.6C205.7,345.3 205.8,345.9 205.8,346.6C205.9,347.2 206.0,347.9 206.1,348.6C206.2,349.2 206.2,349.9 206.3,350.5C206.4,351.2 206.5,351.8 206.6,352.5C206.6,353.2 206.7,353.8 206.8,354.5C206.9,355.1 206.9,355.8 207.0,356.5C207.1,357.1 207.2,357.8 207.2,358.4C207.3,359.1 207.4,359.8 207.5,360.4C207.5,361.1 207.6,361.7 207.7,362.4C207.8,363.1 207.8,363.7 207.9,364.4C208.0,365.1 208.0,365.7 208.1,366.4C208.2,367.1 208.3,367.7 208.3,368.4C208.4,369.0 208.5,369.7 208.5,370.4C208.6,371.0 208.7,371.7 208.8,372.4C208.8,373.0 208.9,373.7 209.0,374.4C209.0,375.0 209.1,375.7 209.2,376.4C209.2,377.0 209.3,377.7 209.4,378.4C209.5,379.0 209.5,379.7 209.6,380.4C209.7,381.0 209.7,381.7 209.8,382.3C209.9,383.0 209.9,383.7 210.0,384.3C210.1,385.0 210.1,385.7 210.2,386.3C210.3,387.0 210.4,387.7 210.4,388.3C210.5,389.0 210.6,389.7 210.6,390.3C210.7,391.0 210.8,391.7 210.8,392.3C210.9,393.0 211.0,393.7 211.1,394.3C211.1,395.0 211.2,395.7 211.3,396.3C211.3,397.0 211.4,397.7 211.5,398.3C211.6,399.0 211.6,399.7 211.7,400.3C211.8,401.0 211.9,401.6 211.9,402.3C212.0,403.0 212.1,403.6 212.2,404.3C212.2,405.0 212.3,405.6 212.4,406.3C212.5,406.9 212.5,407.6 212.6,408.3C212.7,408.9 212.8,409.6 212.9,410.3C212.9,410.9 213.0,411.6 213.1,412.2C213.2,412.9 213.3,413.6 213.3,414.2C213.4,414.9 213.5,415.5 213.6,416.2C213.7,416.9 213.7,417.5 213.8,418.2C213.9,418.8 214.0,419.5 214.1,420.1C214.2,420.8 214.3,421.5 214.3,422.1C214.4,422.8 214.5,423.4 214.6,424.1C214.7,424.7 214.8,425.4 214.9,426.1C215.0,426.7 215.1,427.4 215.2,428.0C215.3,428.7 215.4,429.3 215.5,430.0C215.6,430.6 215.7,431.3 215.8,431.9C215.9,432.6 216.0,433.2 216.1,433.9C216.2,434.6 216.3,435.2 216.4,435.9C216.5,436.5 216.6,437.2 216.7,437.8C216.9,438.5 217.0,439.1 217.1,439.8C217.2,440.4 217.3,441.1 217.5,441.7C217.6,442.4 217.7,443.0 217.9,443.7C218.0,444.4 218.1,445.0 218.3,445.7C218.4,446.3 218.5,447.0 218.7,447.6C218.8,448.3 219.0,448.9 219.1,449.6C219.3,450.2 219.4,450.9 219.6,451.5C219.7,452.2 219.9,452.9 220.0,453.5C220.2,454.2 220.4,454.8 220.5,455.5C220.7,456.1 220.9,456.8 221.1,457.4C221.2,458.1 221.4,458.8 221.6,459.4C221.8,460.1 222.0,460.7 222.2,461.4C222.3,462.0 222.5,462.7 222.8,463.3C223.0,464.0 223.2,464.6 223.4,465.2C223.7,465.8 223.9,466.4 224.2,467.0C224.5,467.6 224.8,468.1 225.1,468.6C225.4,469.1 225.8,469.6 226.1,470.1C226.5,470.5 226.9,470.9 227.4,471.3C227.8,471.7 228.3,472.0 228.8,472.3C229.3,472.5 229.8,472.8 230.4,472.9C231.0,473.1 231.6,473.3 232.3,473.4C232.9,473.5 233.6,473.6 234.2,473.6C234.9,473.6 235.6,473.6 236.3,473.6C237.1,473.6 237.8,473.6 238.5,473.5C239.3,473.5 240.0,473.4 240.8,473.4C241.6,473.3 242.3,473.2 243.1,473.1C243.8,473.0 244.6,472.9 245.4,472.8C246.1,472.7 246.9,472.7 247.6,472.6C248.3,472.5 249.1,472.4 249.8,472.4C250.5,472.3 251.2,472.3 251.9,472.3C252.5,472.3 253.2,472.3 253.8,472.3C254.5,472.3 255.1,472.4 255.7,472.4C256.3,472.5 256.9,472.5 257.5,472.6C258.1,472.6 258.7,472.7 259.3,472.7C259.9,472.8 260.6,472.8 261.2,472.9C261.8,472.9 262.4,473.0 263.1,473.0C263.7,473.0 264.3,473.0 265.0,473.1C265.6,473.1 266.3,473.1 267.0,473.1C267.6,473.1 268.3,473.1 269.0,473.1C269.6,473.1 270.3,473.1 271.0,473.1C271.7,473.0 272.4,473.0 273.1,473.0C273.7,473.0 274.4,473.0 275.1,473.0C275.8,472.9 276.5,472.9 277.2,472.9C277.9,472.9 278.6,472.9 279.3,472.8C280.0,472.8 280.6,472.8 281.3,472.8C282.0,472.8 282.7,472.7 283.4,472.7C284.1,472.7 284.7,472.7 285.4,472.7C286.1,472.7 286.8,472.7 287.4,472.7C288.1,472.7 288.7,472.7 289.4,472.7C290.0,472.7 290.7,472.8 291.3,472.8C292.0,472.8 292.6,472.9 293.2,472.9" stroke="#F14040" stroke-width="1.4" fill="none"/><path d="M36.0,472.9C36.7,472.9 37.3,472.9 38.0,472.9C38.7,472.9 39.4,472.9 40.0,472.9C40.7,472.9 41.4,472.9 42.0,472.9C42.7,472.9 43.4,472.9 44.0,472.9C44.7,472.9 45.4,472.9 46.0,472.9C46.7,472.9 47.4,472.8 48.0,472.8C48.7,472.8 49.4,472.8 50.0,472.8C50.7,472.8 51.3,472.8 52.0,472.8C52.7,472.8 53.3,472.8 54.0,472.8C54.6,472.8 55.3,472.8 56.0,472.8C56.6,472.8 57.3,472.8 57.9,472.8C58.6,472.8 59.3,472.8 59.9,472.8C60.6,472.8 61.2,472.7 61.9,472.7C62.5,472.7 63.2,472.7 63.8,472.7C64.5,472.7 65.2,472.7 65.8,472.7C66.5,472.7 67.1,472.6 67.8,472.6C68.4,472.6 69.1,472.6 69.8,472.6C70.4,472.6 71.1,472.5 71.7,472.5C72.4,472.5 73.0,472.5 73.7,472.5C74.4,472.4 75.0,472.4 75.7,472.4C76.3,472.4 77.0,472.3 77.6,472.3C78.3,472.3 79.0,472.3 79.6,472.2C80.3,472.2 80.9,472.2 81.6,472.1C82.3,472.1 82.9,472.0 83.6,472.0C84.2,472.0 84.9,471.9 85.6,471.9C86.2,471.8 86.9,471.8 87.6,471.8C88.2,471.7 88.9,471.7 89.6,471.6C90.2,471.6 90.9,471.5 91.6,471.4C92.2,471.4 92.9,471.3 93.6,471.3C94.3,471.2 94.9,471.1 95.6,471.1C96.3,471.0 96.9,470.9 97.6,470.9C98.3,470.8 99.0,470.7 99.6,470.6C100.3,470.5 101.0,470.5 101.6,470.4C102.3,470.3 103.0,470.2 103.6,470.1C104.3,470.0 104.9,469.8 105.6,469.7C106.3,469.6 106.9,469.5 107.6,469.4C108.2,469.2 108.9,469.1 109.5,469.0C110.2,468.8 110.8,468.7 111.5,468.5C112.1,468.4 112.8,468.2 113.4,468.0C114.1,467.9 114.7,467.7 115.3,467.5C116.0,467.3 116.6,467.1 117.2,466.9C117.8,466.7 118.4,466.5 119.1,466.3C119.7,466.0 120.3,465.8 120.9,465.6C121.5,465.3 122.1,465.1 122.7,464.8C123.3,464.5 123.9,464.3 124.5,464.0C125.0,463.7 125.6,463.4 126.2,463.1C126.8,462.8 127.3,462.5 127.9,462.2C128.5,461.8 129.0,461.5 129.6,461.1C130.1,460.8 130.7,460.4 131.2,460.1C131.7,459.7 132.3,459.3 132.8,459.0C133.3,458.6 133.9,458.2 134.4,457.8C134.9,457.4 135.4,457.0 135.9,456.6C136.4,456.2 136.9,455.7 137.4,455.3C137.9,454.9 138.4,454.4 138.9,454.0C139.4,453.6 139.9,453.1 140.4,452.7C140.9,452.2 141.4,451.8 141.9,451.3C142.3,450.8 142.8,450.4 143.3,449.9C143.8,449.4 144.2,448.9 144.7,448.5C145.2,448.0 145.6,447.5 146.1,447.0C146.6,446.5 147.0,446.0 147.5,445.5C147.9,445.0 148.4,444.5 148.8,444.0C149.3,443.5 149.7,443.0 150.2,442.5C150.6,442.0 151.1,441.5 151.5,441.0C152.0,440.5 152.4,440.0 152.9,439.5C153.3,439.0 153.7,438.5 154.2,438.0C154.6,437.4 155.1,436.9 155.5,436.4C155.9,435.9 156.4,435.4 156.8,434.9C157.2,434.4 157.7,433.9 158.1,433.4C158.5,432.9 159.0,432.4 159.4,431.9C159.8,431.4 160.3,430.9 160.7,430.4C161.1,429.9 161.5,429.4 162.0,428.9C162.4,428.4 162.8,427.9 163.3,427.4C163.7,426.9 164.1,426.4 164.5,425.9C165.0,425.4 165.4,424.9 165.8,424.5C166.2,424.0 166.6,423.5 167.1,423.0C167.5,422.5 167.9,422.0 168.3,421.5C168.7,421.0 169.1,420.5 169.5,420.0C169.9,419.5 170.3,419.0 170.7,418.5C171.1,418.0 171.5,417.4 171.9,416.9C172.3,416.4 172.7,415.9 173.1,415.4C173.5,414.8 173.8,414.3 174.2,413.8C174.6,413.2 175.0,412.7 175.3,412.1C175.7,411.6 176.0,411.0 176.4,410.4C176.7,409.9 177.1,409.3 177.4,408.7C177.8,408.1 178.1,407.5 178.4,406.9C178.7,406.3 179.1,405.7 179.4,405.1C179.7,404.5 180.0,403.9 180.4,403.3C180.7,402.6 181.0,402.0 181.4,401.4C181.7,400.8 182.1,400.2 182.5,399.6C182.9,399.1 183.3,398.5 183.8,398.0C184.3,397.4 184.7,396.9 185.3,396.4C185.8,395.9 186.3,395.5 186.9,395.1C187.5,394.7 188.0,394.4 188.6,394.2C189.2,394.0 189.8,393.9 190.4,393.8C191.0,393.8 191.6,393.9 192.1,394.1C192.7,394.3 193.3,394.6 193.8,395.0C194.3,395.3 194.9,395.8 195.4,396.3C195.8,396.7 196.3,397.3 196.7,397.8C197.2,398.4 197.6,398.9 197.9,399.5C198.3,400.1 198.7,400.7 199.0,401.3C199.3,401.9 199.6,402.5 199.8,403.2C200.1,403.8 200.3,404.4 200.5,405.1C200.8,405.7 201.0,406.4 201.2,407.1C201.4,407.7 201.5,408.4 201.7,409.1C201.9,409.8 202.0,410.4 202.1,411.1C202.3,411.8 202.4,412.5 202.6,413.1C202.7,413.8 202.8,414.5 203.0,415.2C203.1,415.8 203.2,416.5 203.3,417.2C203.5,417.8 203.6,418.5 203.8,419.1C203.9,419.8 204.0,420.4 204.2,421.0C204.3,421.7 204.5,422.3 204.6,422.9C204.8,423.5 205.0,424.2 205.1,424.8C205.3,425.4 205.4,426.0 205.6,426.6C205.8,427.2 205.9,427.8 206.1,428.5C206.3,429.1 206.4,429.7 206.6,430.3C206.8,430.9 206.9,431.5 207.1,432.1C207.3,432.7 207.5,433.3 207.6,433.9C207.8,434.5 208.0,435.1 208.2,435.8C208.4,436.4 208.5,437.0 208.7,437.6C208.9,438.2 209.1,438.8 209.2,439.5C209.4,440.1 209.6,440.7 209.8,441.4C210.0,442.0 210.1,442.6 210.3,443.3C210.5,443.9 210.7,444.6 210.8,445.2C211.0,445.9 211.2,446.6 211.4,447.2C211.5,447.9 211.7,448.6 211.9,449.3C212.0,450.0 212.2,450.7 212.4,451.4C212.5,452.1 212.7,452.8 212.9,453.5C213.1,454.2 213.3,454.9 213.4,455.6C213.6,456.3 213.8,457.0 214.0,457.7C214.2,458.4 214.4,459.1 214.7,459.7C214.9,460.4 215.1,461.0 215.4,461.7C215.6,462.3 215.9,462.9 216.2,463.5C216.5,464.1 216.8,464.7 217.1,465.2C217.4,465.8 217.8,466.3 218.1,466.8C218.5,467.2 218.9,467.7 219.3,468.1C219.7,468.5 220.2,468.9 220.6,469.3C221.1,469.6 221.6,470.0 222.1,470.3C222.6,470.6 223.1,470.8 223.7,471.1C224.2,471.3 224.8,471.6 225.4,471.8C225.9,472.0 226.5,472.1 227.1,472.3C227.7,472.4 228.4,472.6 229.0,472.7C229.6,472.8 230.3,472.9 230.9,473.0C231.6,473.1 232.3,473.1 232.9,473.2C233.6,473.2 234.3,473.3 235.0,473.3C235.7,473.3 236.4,473.3 237.1,473.4C237.8,473.4 238.5,473.4 239.2,473.4C239.9,473.3 240.6,473.3 241.3,473.3C242.0,473.3 242.7,473.3 243.4,473.3C244.1,473.2 244.8,473.2 245.6,473.2C246.3,473.2 247.0,473.1 247.6,473.1C248.3,473.1 249.0,473.1 249.7,473.1C250.4,473.0 251.1,473.0 251.7,473.0C252.4,473.0 253.1,473.0 253.8,473.0C254.4,473.0 255.1,473.0 255.8,473.0C256.4,473.0 257.1,473.0 257.7,473.0C258.4,473.0 259.0,473.0 259.7,473.0C260.3,473.0 261.0,473.0 261.6,473.0C262.3,473.0 262.9,473.0 263.6,473.0C264.2,473.0 264.9,473.0 265.5,473.0C266.2,473.0 266.8,473.0 267.4,473.0C268.1,473.0 268.7,473.0 269.4,473.0C270.0,473.0 270.6,473.0 271.3,473.0C271.9,473.0 272.6,473.1 273.2,473.1C273.9,473.1 274.5,473.1 275.1,473.1C275.8,473.1 276.4,473.1 277.1,473.1C277.7,473.1 278.4,473.1 279.0,473.1C279.7,473.1 280.3,473.1 281.0,473.1C281.7,473.1 282.3,473.1 283.0,473.1C283.6,473.1 284.3,473.2 285.0,473.2C285.6,473.2 286.3,473.2 287.0,473.2C287.7,473.1 288.4,473.1 289.0,473.1C289.7,473.1 290.4,473.1 291.1,473.1C291.8,473.1 292.5,473.1 293.2,473.1" stroke="#1A6FDF" stroke-width="1.4" fill="none"/><path d="M36.0,472.9C36.7,472.9 37.3,472.9 38.0,472.8C38.6,472.8 39.3,472.8 39.9,472.8C40.6,472.8 41.2,472.8 41.9,472.7C42.5,472.7 43.2,472.7 43.9,472.7C44.5,472.7 45.2,472.7 45.8,472.7C46.5,472.7 47.2,472.7 47.8,472.7C48.5,472.7 49.1,472.6 49.8,472.6C50.5,472.6 51.1,472.6 51.8,472.6C52.5,472.6 53.1,472.6 53.8,472.6C54.5,472.6 55.1,472.6 55.8,472.6C56.5,472.6 57.1,472.6 57.8,472.6C58.5,472.6 59.1,472.6 59.8,472.6C60.5,472.6 61.1,472.6 61.8,472.6C62.5,472.6 63.1,472.6 63.8,472.6C64.5,472.6 65.1,472.6 65.8,472.5C66.5,472.5 67.1,472.5 67.8,472.5C68.5,472.5 69.2,472.5 69.8,472.5C70.5,472.5 71.2,472.5 71.8,472.4C72.5,472.4 73.2,472.4 73.8,472.4C74.5,472.4 75.2,472.4 75.8,472.3C76.5,472.3 77.2,472.3 77.8,472.2C78.5,472.2 79.2,472.2 79.8,472.2C80.5,472.1 81.2,472.1 81.8,472.1C82.5,472.0 83.2,472.0 83.8,471.9C84.5,471.9 85.2,471.8 85.8,471.8C86.5,471.7 87.2,471.7 87.8,471.6C88.5,471.6 89.1,471.5 89.8,471.5C90.5,471.4 91.1,471.3 91.8,471.3C92.4,471.2 93.1,471.1 93.8,471.0C94.4,471.0 95.1,470.9 95.7,470.8C96.4,470.7 97.0,470.6 97.7,470.5C98.3,470.4 99.0,470.3 99.6,470.2C100.3,470.1 100.9,470.0 101.6,469.9C102.2,469.8 102.9,469.7 103.5,469.5C104.2,469.4 104.8,469.3 105.5,469.2C106.1,469.0 106.8,468.9 107.4,468.7C108.0,468.6 108.7,468.5 109.3,468.3C110.0,468.1 110.6,468.0 111.2,467.8C111.9,467.7 112.5,467.5 113.1,467.3C113.8,467.1 114.4,466.9 115.0,466.8C115.6,466.6 116.3,466.4 116.9,466.2C117.5,466.0 118.1,465.8 118.8,465.5C119.4,465.3 120.0,465.1 120.6,464.9C121.2,464.7 121.9,464.4 122.5,464.2C123.1,464.0 123.7,463.7 124.3,463.5C124.9,463.2 125.5,463.0 126.2,462.7C126.8,462.5 127.4,462.2 128.0,461.9C128.6,461.7 129.2,461.4 129.8,461.1C130.4,460.9 131.0,460.6 131.6,460.3C132.2,460.0 132.8,459.8 133.4,459.5C134.0,459.2 134.6,458.9 135.2,458.6C135.8,458.3 136.4,458.0 137.0,457.7C137.6,457.5 138.2,457.2 138.8,456.9C139.4,456.6 140.0,456.3 140.6,456.0C141.2,455.7 141.8,455.4 142.4,455.0C143.0,454.7 143.6,454.4 144.2,454.1C144.8,453.8 145.4,453.5 146.0,453.2C146.6,452.9 147.2,452.6 147.7,452.3C148.3,452.0 148.9,451.7 149.5,451.4C150.1,451.0 150.7,450.7 151.3,450.4C151.9,450.1 152.5,449.8 153.1,449.5C153.7,449.2 154.3,448.9 154.9,448.6C155.4,448.3 156.0,448.0 156.6,447.7C157.2,447.4 157.8,447.1 158.4,446.8C159.0,446.5 159.6,446.2 160.2,445.9C160.8,445.6 161.4,445.3 162.0,445.0C162.6,444.7 163.2,444.4 163.8,444.1C164.4,443.9 165.0,443.6 165.6,443.3C166.2,443.0 166.8,442.7 167.4,442.5C168.0,442.2 168.6,441.9 169.2,441.7C169.8,441.4 170.4,441.2 171.0,440.9C171.6,440.7 172.2,440.4 172.9,440.2C173.5,439.9 174.1,439.7 174.7,439.5C175.4,439.3 176.0,439.0 176.6,438.8C177.3,438.6 177.9,438.4 178.5,438.2C179.2,438.0 179.8,437.8 180.5,437.7C181.1,437.5 181.8,437.4 182.4,437.3C183.1,437.2 183.7,437.1 184.4,437.1C185.0,437.1 185.7,437.2 186.3,437.3C187.0,437.3 187.6,437.5 188.2,437.7C188.9,437.9 189.5,438.1 190.1,438.3C190.7,438.6 191.3,438.9 191.8,439.2C192.4,439.6 192.9,439.9 193.4,440.3C193.9,440.7 194.4,441.1 194.9,441.6C195.4,442.0 195.8,442.5 196.3,443.0C196.7,443.4 197.1,444.0 197.5,444.5C197.9,445.0 198.3,445.6 198.7,446.1C199.1,446.7 199.5,447.3 199.8,447.9C200.2,448.4 200.6,449.0 200.9,449.7C201.3,450.3 201.6,450.9 201.9,451.5C202.3,452.2 202.6,452.8 202.9,453.4C203.3,454.1 203.6,454.7 203.9,455.4C204.2,456.0 204.5,456.6 204.9,457.3C205.2,457.9 205.5,458.6 205.9,459.2C206.2,459.8 206.5,460.4 206.9,461.0C207.2,461.6 207.6,462.2 207.9,462.8C208.3,463.4 208.7,464.0 209.0,464.5C209.4,465.0 209.8,465.6 210.2,466.0C210.6,466.5 211.1,467.0 211.5,467.4C212.0,467.9 212.4,468.3 212.9,468.7C213.4,469.0 213.9,469.4 214.4,469.7C215.0,470.0 215.5,470.3 216.1,470.5C216.7,470.7 217.3,470.9 217.9,471.1C218.5,471.3 219.1,471.4 219.7,471.6C220.3,471.7 221.0,471.8 221.6,471.9C222.3,472.0 222.9,472.1 223.6,472.2C224.2,472.3 224.9,472.4 225.5,472.5C226.2,472.5 226.9,472.6 227.5,472.7C228.2,472.7 228.8,472.8 229.5,472.8C230.1,472.9 230.8,472.9 231.5,473.0C232.1,473.0 232.8,473.1 233.4,473.1C234.1,473.2 234.8,473.2 235.4,473.2C236.1,473.3 236.7,473.3 237.4,473.3C238.1,473.3 238.7,473.3 239.4,473.4C240.0,473.4 240.7,473.4 241.4,473.4C242.0,473.4 242.7,473.4 243.4,473.4C244.0,473.4 244.7,473.4 245.4,473.4C246.0,473.4 246.7,473.4 247.4,473.4C248.0,473.4 248.7,473.4 249.4,473.4C250.0,473.4 250.7,473.4 251.4,473.4C252.0,473.4 252.7,473.4 253.4,473.3C254.0,473.3 254.7,473.3 255.4,473.3C256.0,473.3 256.7,473.3 257.4,473.2C258.0,473.2 258.7,473.2 259.4,473.2C260.0,473.2 260.7,473.2 261.4,473.1C262.0,473.1 262.7,473.1 263.4,473.1C264.0,473.1 264.7,473.0 265.4,473.0C266.0,473.0 266.7,473.0 267.4,473.0C268.0,472.9 268.7,472.9 269.4,472.9C270.0,472.9 270.7,472.9 271.4,472.9C272.0,472.8 272.7,472.8 273.4,472.8C274.0,472.8 274.7,472.8 275.3,472.8C276.0,472.8 276.7,472.8 277.3,472.7C278.0,472.7 278.7,472.7 279.3,472.7C280.0,472.7 280.7,472.7 281.3,472.7C282.0,472.7 282.6,472.7 283.3,472.8C284.0,472.8 284.6,472.8 285.3,472.8C286.0,472.8 286.6,472.8 287.3,472.8C287.9,472.9 288.6,472.9 289.3,472.9C289.9,472.9 290.6,473.0 291.2,473.0C291.9,473.0 292.5,473.1 293.2,473.1" stroke="#37AD6B" stroke-width="1.4" fill="none"/><path d="M36.0,472.9C36.7,472.9 37.3,472.9 37.9,472.9C38.6,472.9 39.2,472.8 39.9,472.8C40.6,472.8 41.2,472.8 41.9,472.8C42.5,472.8 43.2,472.8 43.8,472.8C44.5,472.8 45.1,472.8 45.8,472.8C46.4,472.8 47.1,472.8 47.8,472.8C48.4,472.8 49.1,472.8 49.7,472.8C50.4,472.8 51.1,472.8 51.7,472.8C52.4,472.8 53.1,472.8 53.7,472.7C54.4,472.7 55.0,472.7 55.7,472.7C56.4,472.7 57.0,472.7 57.7,472.7C58.4,472.7 59.0,472.7 59.7,472.7C60.4,472.7 61.0,472.7 61.7,472.7C62.4,472.7 63.0,472.7 63.7,472.7C64.4,472.7 65.0,472.7 65.7,472.7C66.4,472.7 67.0,472.6 67.7,472.6C68.4,472.6 69.0,472.6 69.7,472.6C70.4,472.6 71.1,472.6 71.7,472.6C72.4,472.5 73.1,472.5 73.7,472.5C74.4,472.5 75.1,472.5 75.7,472.4C76.4,472.4 77.1,472.4 77.7,472.4C78.4,472.4 79.1,472.3 79.7,472.3C80.4,472.3 81.1,472.2 81.7,472.2C82.4,472.2 83.1,472.1 83.7,472.1C84.4,472.1 85.1,472.0 85.7,472.0C86.4,471.9 87.1,471.9 87.7,471.8C88.4,471.8 89.1,471.7 89.7,471.7C90.4,471.6 91.1,471.6 91.7,471.5C92.4,471.5 93.0,471.4 93.7,471.3C94.4,471.3 95.0,471.2 95.7,471.1C96.3,471.1 97.0,471.0 97.6,470.9C98.3,470.8 99.0,470.8 99.6,470.7C100.3,470.6 100.9,470.5 101.6,470.4C102.2,470.3 102.9,470.2 103.5,470.1C104.2,470.0 104.8,469.9 105.5,469.8C106.1,469.7 106.8,469.6 107.4,469.5C108.1,469.4 108.7,469.3 109.3,469.2C110.0,469.0 110.6,468.9 111.3,468.8C111.9,468.7 112.6,468.5 113.2,468.4C113.8,468.3 114.5,468.1 115.1,468.0C115.7,467.8 116.4,467.7 117.0,467.5C117.6,467.4 118.3,467.2 118.9,467.1C119.5,466.9 120.2,466.7 120.8,466.6C121.4,466.4 122.0,466.2 122.7,466.1C123.3,465.9 123.9,465.7 124.6,465.5C125.2,465.4 125.8,465.2 126.4,465.0C127.1,464.8 127.7,464.6 128.3,464.5C128.9,464.3 129.6,464.1 130.2,463.9C130.8,463.7 131.4,463.5 132.1,463.3C132.7,463.1 133.3,462.9 133.9,462.7C134.6,462.5 135.2,462.3 135.8,462.1C136.5,461.9 137.1,461.7 137.7,461.5C138.3,461.3 139.0,461.1 139.6,460.9C140.2,460.7 140.8,460.5 141.5,460.3C142.1,460.1 142.7,459.9 143.4,459.7C144.0,459.5 144.6,459.3 145.3,459.1C145.9,458.9 146.5,458.7 147.2,458.5C147.8,458.3 148.4,458.1 149.1,457.9C149.7,457.7 150.4,457.5 151.0,457.3C151.6,457.1 152.3,456.9 152.9,456.7C153.6,456.5 154.2,456.3 154.9,456.1C155.5,455.9 156.2,455.7 156.8,455.6C157.5,455.4 158.1,455.2 158.8,455.0C159.4,454.8 160.1,454.6 160.7,454.4C161.4,454.3 162.0,454.1 162.7,453.9C163.4,453.8 164.0,453.6 164.7,453.4C165.3,453.3 166.0,453.2 166.6,453.0C167.3,452.9 168.0,452.8 168.6,452.7C169.3,452.5 169.9,452.5 170.6,452.4C171.2,452.3 171.9,452.2 172.6,452.2C173.2,452.1 173.9,452.1 174.5,452.1C175.2,452.0 175.8,452.0 176.5,452.0C177.1,452.1 177.8,452.1 178.4,452.2C179.0,452.2 179.7,452.3 180.3,452.4C181.0,452.5 181.6,452.6 182.2,452.8C182.8,452.9 183.5,453.1 184.1,453.2C184.7,453.4 185.3,453.6 186.0,453.8C186.6,454.0 187.2,454.3 187.8,454.5C188.4,454.7 189.0,455.0 189.6,455.3C190.2,455.5 190.8,455.8 191.4,456.1C192.0,456.4 192.6,456.7 193.2,457.1C193.8,457.4 194.4,457.7 194.9,458.1C195.5,458.4 196.1,458.8 196.7,459.1C197.2,459.5 197.8,459.9 198.3,460.2C198.9,460.6 199.5,461.0 200.0,461.4C200.6,461.8 201.1,462.2 201.6,462.6C202.2,463.0 202.7,463.4 203.2,463.8C203.8,464.2 204.3,464.6 204.8,465.0C205.3,465.5 205.8,465.9 206.3,466.3C206.8,466.7 207.3,467.1 207.8,467.6C208.3,468.0 208.8,468.4 209.3,468.8C209.7,469.2 210.2,469.6 210.7,470.0C211.2,470.4 211.7,470.8 212.2,471.1C212.7,471.4 213.3,471.7 213.8,471.9C214.4,472.1 215.0,472.3 215.6,472.5C216.2,472.7 216.8,472.8 217.4,472.9C218.1,473.0 218.7,473.1 219.4,473.1C220.0,473.2 220.7,473.2 221.4,473.2C222.0,473.2 222.7,473.2 223.4,473.2C224.1,473.2 224.8,473.1 225.5,473.1C226.2,473.1 226.8,473.1 227.5,473.1C228.2,473.1 228.9,473.1 229.6,473.1C230.3,473.1 230.9,473.0 231.6,473.0C232.3,473.0 233.0,473.0 233.6,473.0C234.3,473.0 235.0,473.0 235.7,473.0C236.3,473.0 237.0,473.0 237.7,473.0C238.3,473.0 239.0,473.0 239.7,473.0C240.3,473.0 241.0,473.0 241.7,473.0C242.3,473.0 243.0,473.0 243.7,473.0C244.3,473.0 245.0,473.0 245.7,473.0C246.3,473.0 247.0,473.0 247.6,473.0C248.3,473.0 249.0,473.0 249.6,473.0C250.3,473.0 250.9,473.0 251.6,473.0C252.3,473.0 252.9,473.0 253.6,473.0C254.2,473.0 254.9,473.0 255.6,473.0C256.2,473.0 256.9,473.0 257.5,473.0C258.2,473.0 258.8,473.0 259.5,473.0C260.2,473.0 260.8,473.0 261.5,473.0C262.1,473.0 262.8,473.0 263.4,473.0C264.1,473.0 264.7,473.1 265.4,473.1C266.1,473.1 266.7,473.1 267.4,473.1C268.0,473.1 268.7,473.1 269.3,473.1C270.0,473.1 270.7,473.1 271.3,473.1C272.0,473.1 272.6,473.1 273.3,473.1C273.9,473.1 274.6,473.1 275.3,473.1C275.9,473.1 276.6,473.1 277.2,473.1C277.9,473.1 278.6,473.1 279.2,473.1C279.9,473.1 280.5,473.1 281.2,473.1C281.9,473.1 282.5,473.1 283.2,473.1C283.8,473.1 284.5,473.1 285.2,473.1C285.8,473.1 286.5,473.1 287.2,473.1C287.8,473.1 288.5,473.1 289.2,473.1C289.8,473.1 290.5,473.1 291.2,473.1C291.9,473.1 292.5,473.1 293.2,473.1" stroke="#B177DE" stroke-width="1.4" fill="none"/><path d="M36.0,472.9C36.7,472.9 37.3,472.9 38.0,472.8C38.7,472.8 39.3,472.8 40.0,472.8C40.7,472.7 41.3,472.7 42.0,472.7C42.7,472.7 43.3,472.7 44.0,472.7C44.7,472.7 45.3,472.6 46.0,472.6C46.7,472.6 47.3,472.6 48.0,472.6C48.6,472.6 49.3,472.6 50.0,472.6C50.6,472.6 51.3,472.6 52.0,472.6C52.6,472.6 53.3,472.6 54.0,472.6C54.6,472.6 55.3,472.6 56.0,472.6C56.6,472.6 57.3,472.6 57.9,472.6C58.6,472.6 59.3,472.6 59.9,472.6C60.6,472.6 61.3,472.6 61.9,472.6C62.6,472.6 63.3,472.6 63.9,472.6C64.6,472.6 65.2,472.6 65.9,472.6C66.6,472.6 67.2,472.6 67.9,472.6C68.6,472.6 69.2,472.5 69.9,472.5C70.6,472.5 71.2,472.5 71.9,472.5C72.5,472.5 73.2,472.5 73.9,472.5C74.5,472.5 75.2,472.5 75.9,472.5C76.5,472.5 77.2,472.5 77.8,472.5C78.5,472.5 79.2,472.5 79.8,472.4C80.5,472.4 81.2,472.4 81.8,472.4C82.5,472.4 83.1,472.4 83.8,472.4C84.5,472.3 85.1,472.3 85.8,472.3C86.4,472.3 87.1,472.3 87.8,472.2C88.4,472.2 89.1,472.2 89.8,472.1C90.4,472.1 91.1,472.1 91.7,472.1C92.4,472.0 93.1,472.0 93.7,471.9C94.4,471.9 95.0,471.9 95.7,471.8C96.4,471.8 97.0,471.7 97.7,471.7C98.4,471.6 99.0,471.6 99.7,471.5C100.3,471.5 101.0,471.4 101.7,471.4C102.3,471.3 103.0,471.2 103.6,471.2C104.3,471.1 105.0,471.0 105.6,471.0C106.3,470.9 107.0,470.8 107.6,470.7C108.3,470.7 108.9,470.6 109.6,470.5C110.3,470.4 110.9,470.3 111.6,470.2C112.2,470.1 112.9,470.0 113.6,469.9C114.2,469.8 114.9,469.7 115.5,469.6C116.2,469.5 116.9,469.4 117.5,469.3C118.2,469.2 118.8,469.1 119.5,469.0C120.2,468.9 120.8,468.8 121.5,468.7C122.1,468.6 122.8,468.5 123.5,468.4C124.1,468.2 124.8,468.1 125.5,468.0C126.1,467.9 126.8,467.8 127.4,467.7C128.1,467.6 128.8,467.4 129.4,467.3C130.1,467.2 130.7,467.1 131.4,467.0C132.0,466.9 132.7,466.8 133.4,466.7C134.0,466.6 134.7,466.5 135.3,466.3C136.0,466.2 136.7,466.1 137.3,466.0C138.0,465.9 138.6,465.8 139.3,465.7C140.0,465.6 140.6,465.5 141.3,465.4C141.9,465.3 142.6,465.2 143.2,465.1C143.9,465.1 144.6,465.0 145.2,464.9C145.9,464.8 146.5,464.7 147.2,464.6C147.8,464.6 148.5,464.5 149.2,464.4C149.8,464.3 150.5,464.3 151.1,464.2C151.8,464.1 152.4,464.1 153.1,464.0C153.7,464.0 154.4,463.9 155.1,463.9C155.7,463.8 156.4,463.8 157.0,463.8C157.7,463.7 158.3,463.7 159.0,463.7C159.6,463.6 160.3,463.6 160.9,463.6C161.6,463.6 162.3,463.6 162.9,463.6C163.6,463.6 164.2,463.6 164.9,463.6C165.5,463.6 166.2,463.6 166.8,463.7C167.5,463.7 168.1,463.7 168.8,463.8C169.4,463.8 170.1,463.8 170.7,463.9C171.4,463.9 172.0,464.0 172.7,464.1C173.3,464.1 174.0,464.2 174.6,464.3C175.3,464.4 175.9,464.5 176.6,464.6C177.2,464.7 177.9,464.8 178.5,464.9C179.2,465.0 179.8,465.1 180.5,465.3C181.1,465.4 181.8,465.5 182.4,465.6C183.1,465.8 183.7,465.9 184.4,466.1C185.0,466.2 185.6,466.4 186.3,466.5C186.9,466.7 187.6,466.8 188.2,467.0C188.9,467.1 189.5,467.3 190.2,467.4C190.8,467.6 191.5,467.7 192.1,467.9C192.8,468.1 193.4,468.2 194.1,468.4C194.7,468.5 195.4,468.7 196.0,468.8C196.7,469.0 197.3,469.2 198.0,469.3C198.6,469.5 199.2,469.6 199.9,469.7C200.5,469.9 201.2,470.0 201.8,470.2C202.5,470.3 203.1,470.5 203.8,470.6C204.4,470.7 205.1,470.8 205.7,471.0C206.4,471.1 207.1,471.2 207.7,471.3C208.4,471.4 209.0,471.6 209.7,471.7C210.3,471.8 211.0,471.9 211.6,472.0C212.3,472.1 212.9,472.2 213.6,472.3C214.2,472.3 214.9,472.4 215.5,472.5C216.2,472.6 216.9,472.7 217.5,472.7C218.2,472.8 218.8,472.9 219.5,472.9C220.1,473.0 220.8,473.1 221.5,473.1C222.1,473.2 222.8,473.2 223.4,473.3C224.1,473.3 224.8,473.3 225.4,473.4C226.1,473.4 226.7,473.4 227.4,473.5C228.1,473.5 228.7,473.5 229.4,473.5C230.0,473.5 230.7,473.6 231.4,473.6C232.0,473.6 232.7,473.6 233.4,473.6C234.0,473.6 234.7,473.6 235.4,473.6C236.0,473.6 236.7,473.6 237.3,473.6C238.0,473.6 238.7,473.6 239.3,473.6C240.0,473.6 240.7,473.5 241.3,473.5C242.0,473.5 242.7,473.5 243.3,473.5C244.0,473.5 244.7,473.5 245.3,473.4C246.0,473.4 246.7,473.4 247.3,473.4C248.0,473.4 248.7,473.3 249.3,473.3C250.0,473.3 250.7,473.3 251.3,473.2C252.0,473.2 252.7,473.2 253.3,473.2C254.0,473.1 254.7,473.1 255.3,473.1C256.0,473.1 256.7,473.1 257.3,473.0C258.0,473.0 258.7,473.0 259.3,473.0C260.0,473.0 260.7,472.9 261.3,472.9C262.0,472.9 262.7,472.9 263.3,472.9C264.0,472.9 264.7,472.9 265.3,472.8C266.0,472.8 266.7,472.8 267.3,472.8C268.0,472.8 268.7,472.8 269.3,472.8C270.0,472.8 270.6,472.8 271.3,472.8C272.0,472.8 272.6,472.8 273.3,472.8C274.0,472.8 274.6,472.8 275.3,472.8C276.0,472.8 276.6,472.8 277.3,472.8C278.0,472.8 278.6,472.8 279.3,472.8C279.9,472.8 280.6,472.8 281.3,472.8C281.9,472.8 282.6,472.9 283.3,472.9C283.9,472.9 284.6,472.9 285.3,472.9C285.9,472.9 286.6,472.9 287.2,472.9C287.9,473.0 288.6,473.0 289.2,473.0C289.9,473.0 290.6,473.0 291.2,473.0C291.9,473.1 292.5,473.1 293.2,473.1" stroke="#CC9900" stroke-width="1.4" fill="none"/><path d="M36.0,472.9C36.7,472.9 37.3,472.9 38.0,472.9C38.7,472.9 39.3,472.9 40.0,473.0C40.7,473.0 41.3,473.0 42.0,473.0C42.6,473.0 43.3,473.0 44.0,473.0C44.6,473.0 45.3,473.0 46.0,473.0C46.6,473.0 47.3,473.0 48.0,473.0C48.6,473.0 49.3,473.0 50.0,473.0C50.6,473.0 51.3,473.0 52.0,473.0C52.6,473.0 53.3,473.0 54.0,473.0C54.6,473.0 55.3,473.0 55.9,473.0C56.6,473.0 57.3,473.0 57.9,473.0C58.6,472.9 59.3,472.9 59.9,472.9C60.6,472.9 61.3,472.9 61.9,472.9C62.6,472.9 63.3,472.9 63.9,472.8C64.6,472.8 65.3,472.8 65.9,472.8C66.6,472.8 67.3,472.8 67.9,472.7C68.6,472.7 69.3,472.7 69.9,472.7C70.6,472.7 71.2,472.6 71.9,472.6C72.6,472.6 73.2,472.6 73.9,472.6C74.6,472.5 75.2,472.5 75.9,472.5C76.6,472.5 77.2,472.4 77.9,472.4C78.6,472.4 79.2,472.4 79.9,472.3C80.6,472.3 81.2,472.3 81.9,472.3C82.6,472.2 83.2,472.2 83.9,472.2C84.6,472.1 85.2,472.1 85.9,472.1C86.5,472.1 87.2,472.0 87.9,472.0C88.5,472.0 89.2,471.9 89.9,471.9C90.5,471.9 91.2,471.9 91.9,471.8C92.5,471.8 93.2,471.8 93.9,471.7C94.5,471.7 95.2,471.7 95.9,471.6C96.5,471.6 97.2,471.6 97.9,471.5C98.5,471.5 99.2,471.5 99.9,471.5C100.5,471.4 101.2,471.4 101.8,471.4C102.5,471.3 103.2,471.3 103.8,471.3C104.5,471.2 105.2,471.2 105.8,471.2C106.5,471.1 107.2,471.1 107.8,471.1C108.5,471.0 109.2,471.0 109.8,471.0C110.5,470.9 111.2,470.9 111.8,470.9C112.5,470.8 113.2,470.8 113.8,470.8C114.5,470.7 115.2,470.7 115.8,470.7C116.5,470.7 117.1,470.6 117.8,470.6C118.5,470.6 119.1,470.5 119.8,470.5C120.5,470.5 121.1,470.4 121.8,470.4C122.5,470.4 123.1,470.4 123.8,470.3C124.5,470.3 125.1,470.3 125.8,470.2C126.5,470.2 127.1,470.2 127.8,470.2C128.5,470.1 129.1,470.1 129.8,470.1C130.4,470.1 131.1,470.0 131.8,470.0C132.4,470.0 133.1,470.0 133.8,469.9C134.4,469.9 135.1,469.9 135.8,469.9C136.4,469.8 137.1,469.8 137.8,469.8C138.4,469.8 139.1,469.8 139.8,469.7C140.4,469.7 141.1,469.7 141.7,469.7C142.4,469.7 143.1,469.6 143.7,469.6C144.4,469.6 145.1,469.6 145.7,469.6C146.4,469.6 147.1,469.5 147.7,469.5C148.4,469.5 149.1,469.5 149.7,469.5C150.4,469.5 151.1,469.5 151.7,469.5C152.4,469.5 153.0,469.4 153.7,469.4C154.4,469.4 155.0,469.4 155.7,469.4C156.4,469.4 157.0,469.4 157.7,469.4C158.4,469.4 159.0,469.4 159.7,469.4C160.4,469.4 161.0,469.4 161.7,469.4C162.3,469.4 163.0,469.4 163.7,469.4C164.3,469.4 165.0,469.4 165.7,469.4C166.3,469.4 167.0,469.4 167.7,469.4C168.3,469.4 169.0,469.4 169.7,469.4C170.3,469.5 171.0,469.5 171.6,469.5C172.3,469.5 173.0,469.5 173.6,469.5C174.3,469.5 175.0,469.6 175.6,469.6C176.3,469.6 177.0,469.6 177.6,469.6C178.3,469.7 178.9,469.7 179.6,469.7C180.3,469.7 180.9,469.7 181.6,469.8C182.3,469.8 182.9,469.8 183.6,469.8C184.3,469.9 184.9,469.9 185.6,469.9C186.2,469.9 186.9,470.0 187.6,470.0C188.2,470.0 188.9,470.1 189.6,470.1C190.2,470.1 190.9,470.2 191.6,470.2C192.2,470.2 192.9,470.2 193.5,470.3C194.2,470.3 194.9,470.3 195.5,470.4C196.2,470.4 196.9,470.4 197.5,470.5C198.2,470.5 198.9,470.6 199.5,470.6C200.2,470.6 200.8,470.7 201.5,470.7C202.2,470.7 202.8,470.8 203.5,470.8C204.2,470.8 204.8,470.9 205.5,470.9C206.2,471.0 206.8,471.0 207.5,471.0C208.1,471.1 208.8,471.1 209.5,471.1C210.1,471.2 210.8,471.2 211.5,471.3C212.1,471.3 212.8,471.3 213.5,471.4C214.1,471.4 214.8,471.5 215.4,471.5C216.1,471.5 216.8,471.6 217.4,471.6C218.1,471.6 218.8,471.7 219.4,471.7C220.1,471.8 220.7,471.8 221.4,471.8C222.1,471.9 222.7,471.9 223.4,471.9C224.1,472.0 224.7,472.0 225.4,472.0C226.1,472.1 226.7,472.1 227.4,472.2C228.0,472.2 228.7,472.2 229.4,472.3C230.0,472.3 230.7,472.3 231.4,472.4C232.0,472.4 232.7,472.4 233.4,472.5C234.0,472.5 234.7,472.5 235.3,472.5C236.0,472.6 236.7,472.6 237.3,472.6C238.0,472.7 238.7,472.7 239.3,472.7C240.0,472.7 240.7,472.8 241.3,472.8C242.0,472.8 242.7,472.9 243.3,472.9C244.0,472.9 244.6,472.9 245.3,473.0C246.0,473.0 246.6,473.0 247.3,473.0C248.0,473.0 248.6,473.1 249.3,473.1C250.0,473.1 250.6,473.1 251.3,473.2C252.0,473.2 252.6,473.2 253.3,473.2C253.9,473.2 254.6,473.2 255.3,473.3C255.9,473.3 256.6,473.3 257.3,473.3C257.9,473.3 258.6,473.3 259.3,473.4C259.9,473.4 260.6,473.4 261.3,473.4C261.9,473.4 262.6,473.4 263.2,473.4C263.9,473.4 264.6,473.4 265.2,473.4C265.9,473.4 266.6,473.5 267.2,473.5C267.9,473.5 268.6,473.5 269.2,473.5C269.9,473.5 270.6,473.5 271.2,473.5C271.9,473.5 272.6,473.5 273.2,473.5C273.9,473.5 274.6,473.5 275.2,473.5C275.9,473.5 276.5,473.5 277.2,473.5C277.9,473.5 278.5,473.4 279.2,473.4C279.9,473.4 280.5,473.4 281.2,473.4C281.9,473.4 282.5,473.4 283.2,473.4C283.9,473.4 284.5,473.3 285.2,473.3C285.9,473.3 286.5,473.3 287.2,473.3C287.9,473.3 288.5,473.2 289.2,473.2C289.9,473.2 290.5,473.2 291.2,473.2C291.9,473.1 292.5,473.1 293.2,473.1" stroke="#00CBCC" stroke-width="1.4" fill="none"/><path d="M36.0,472.9C36.7,472.9 37.3,472.9 38.0,472.9C38.7,472.9 39.3,472.9 40.0,472.9C40.7,472.9 41.3,472.9 42.0,472.9C42.7,472.9 43.3,472.9 44.0,472.9C44.7,472.9 45.3,472.9 46.0,472.9C46.7,472.9 47.3,472.9 48.0,472.8C48.7,472.8 49.3,472.8 50.0,472.8C50.6,472.8 51.3,472.8 52.0,472.8C52.6,472.8 53.3,472.8 54.0,472.8C54.6,472.8 55.3,472.8 56.0,472.7C56.6,472.7 57.3,472.7 58.0,472.7C58.6,472.7 59.3,472.7 60.0,472.7C60.6,472.7 61.3,472.6 62.0,472.6C62.6,472.6 63.3,472.6 64.0,472.6C64.6,472.6 65.3,472.6 66.0,472.5C66.6,472.5 67.3,472.5 68.0,472.5C68.6,472.5 69.3,472.4 69.9,472.4C70.6,472.4 71.3,472.4 71.9,472.4C72.6,472.3 73.3,472.3 73.9,472.3C74.6,472.3 75.3,472.3 75.9,472.2C76.6,472.2 77.3,472.2 77.9,472.2C78.6,472.1 79.3,472.1 79.9,472.1C80.6,472.1 81.3,472.0 81.9,472.0C82.6,472.0 83.3,472.0 83.9,471.9C84.6,471.9 85.3,471.9 85.9,471.8C86.6,471.8 87.2,471.8 87.9,471.8C88.6,471.7 89.2,471.7 89.9,471.7C90.6,471.6 91.2,471.6 91.9,471.6C92.6,471.5 93.2,471.5 93.9,471.5C94.6,471.4 95.2,471.4 95.9,471.4C96.6,471.3 97.2,471.3 97.9,471.3C98.6,471.2 99.2,471.2 99.9,471.1C100.6,471.1 101.2,471.1 101.9,471.0C102.5,471.0 103.2,471.0 103.9,470.9C104.5,470.9 105.2,470.8 105.9,470.8C106.5,470.8 107.2,470.7 107.9,470.7C108.5,470.6 109.2,470.6 109.9,470.6C110.5,470.5 111.2,470.5 111.9,470.4C112.5,470.4 113.2,470.3 113.9,470.3C114.5,470.3 115.2,470.2 115.9,470.2C116.5,470.1 117.2,470.1 117.8,470.0C118.5,470.0 119.2,469.9 119.8,469.9C120.5,469.9 121.2,469.8 121.8,469.8C122.5,469.7 123.2,469.7 123.8,469.6C124.5,469.6 125.2,469.5 125.8,469.5C126.5,469.4 127.2,469.4 127.8,469.4C128.5,469.3 129.2,469.3 129.8,469.2C130.5,469.2 131.1,469.1 131.8,469.1C132.5,469.1 133.1,469.0 133.8,469.0C134.5,468.9 135.1,468.9 135.8,468.9C136.5,468.8 137.1,468.8 137.8,468.8C138.5,468.7 139.1,468.7 139.8,468.6C140.5,468.6 141.1,468.6 141.8,468.5C142.4,468.5 143.1,468.5 143.8,468.4C144.4,468.4 145.1,468.4 145.8,468.4C146.4,468.3 147.1,468.3 147.8,468.3C148.4,468.2 149.1,468.2 149.8,468.2C150.4,468.2 151.1,468.2 151.8,468.1C152.4,468.1 153.1,468.1 153.7,468.1C154.4,468.1 155.1,468.0 155.7,468.0C156.4,468.0 157.1,468.0 157.7,468.0C158.4,468.0 159.1,468.0 159.7,468.0C160.4,468.0 161.0,468.0 161.7,468.0C162.4,467.9 163.0,467.9 163.7,468.0C164.4,468.0 165.0,468.0 165.7,468.0C166.4,468.0 167.0,468.0 167.7,468.0C168.3,468.0 169.0,468.0 169.7,468.0C170.3,468.0 171.0,468.1 171.7,468.1C172.3,468.1 173.0,468.1 173.7,468.1C174.3,468.2 175.0,468.2 175.6,468.2C176.3,468.3 177.0,468.3 177.6,468.3C178.3,468.3 179.0,468.4 179.6,468.4C180.3,468.5 180.9,468.5 181.6,468.5C182.3,468.6 182.9,468.6 183.6,468.7C184.3,468.7 184.9,468.7 185.6,468.8C186.2,468.8 186.9,468.9 187.6,468.9C188.2,469.0 188.9,469.0 189.6,469.1C190.2,469.1 190.9,469.2 191.5,469.2C192.2,469.3 192.9,469.3 193.5,469.4C194.2,469.5 194.9,469.5 195.5,469.6C196.2,469.6 196.8,469.7 197.5,469.7C198.2,469.8 198.8,469.9 199.5,469.9C200.2,470.0 200.8,470.0 201.5,470.1C202.1,470.2 202.8,470.2 203.5,470.3C204.1,470.3 204.8,470.4 205.5,470.5C206.1,470.5 206.8,470.6 207.4,470.6C208.1,470.7 208.8,470.8 209.4,470.8C210.1,470.9 210.8,470.9 211.4,471.0C212.1,471.0 212.7,471.1 213.4,471.2C214.1,471.2 214.7,471.3 215.4,471.3C216.1,471.4 216.7,471.5 217.4,471.5C218.0,471.6 218.7,471.6 219.4,471.7C220.0,471.7 220.7,471.8 221.4,471.8C222.0,471.9 222.7,471.9 223.4,472.0C224.0,472.0 224.7,472.1 225.3,472.1C226.0,472.2 226.7,472.2 227.3,472.3C228.0,472.3 228.7,472.4 229.3,472.4C230.0,472.4 230.6,472.5 231.3,472.5C232.0,472.6 232.6,472.6 233.3,472.6C234.0,472.7 234.6,472.7 235.3,472.8C236.0,472.8 236.6,472.8 237.3,472.9C238.0,472.9 238.6,472.9 239.3,472.9C239.9,473.0 240.6,473.0 241.3,473.0C241.9,473.1 242.6,473.1 243.3,473.1C243.9,473.1 244.6,473.2 245.3,473.2C245.9,473.2 246.6,473.2 247.3,473.3C247.9,473.3 248.6,473.3 249.2,473.3C249.9,473.3 250.6,473.3 251.2,473.4C251.9,473.4 252.6,473.4 253.2,473.4C253.9,473.4 254.6,473.4 255.2,473.5C255.9,473.5 256.6,473.5 257.2,473.5C257.9,473.5 258.6,473.5 259.2,473.5C259.9,473.5 260.6,473.5 261.2,473.5C261.9,473.5 262.5,473.5 263.2,473.5C263.9,473.6 264.5,473.6 265.2,473.6C265.9,473.6 266.5,473.6 267.2,473.6C267.9,473.6 268.5,473.6 269.2,473.6C269.9,473.6 270.5,473.5 271.2,473.5C271.9,473.5 272.5,473.5 273.2,473.5C273.9,473.5 274.5,473.5 275.2,473.5C275.9,473.5 276.5,473.5 277.2,473.5C277.9,473.5 278.5,473.5 279.2,473.4C279.9,473.4 280.5,473.4 281.2,473.4C281.9,473.4 282.5,473.4 283.2,473.4C283.9,473.4 284.5,473.3 285.2,473.3C285.9,473.3 286.5,473.3 287.2,473.3C287.9,473.2 288.5,473.2 289.2,473.2C289.9,473.2 290.5,473.2 291.2,473.1C291.9,473.1 292.5,473.1 293.2,473.1" stroke="#7D4E4E" stroke-width="1.4" fill="none"/><path d="M36.0,472.9C36.7,472.9 37.3,472.9 38.0,472.9C38.7,472.9 39.3,472.8 40.0,472.8C40.7,472.8 41.3,472.8 42.0,472.8C42.6,472.7 43.3,472.7 44.0,472.7C44.6,472.7 45.3,472.7 46.0,472.7C46.6,472.6 47.3,472.6 48.0,472.6C48.6,472.6 49.3,472.6 50.0,472.6C50.6,472.5 51.3,472.5 52.0,472.5C52.6,472.5 53.3,472.5 54.0,472.5C54.6,472.4 55.3,472.4 55.9,472.4C56.6,472.4 57.3,472.4 57.9,472.4C58.6,472.3 59.3,472.3 59.9,472.3C60.6,472.3 61.3,472.3 61.9,472.3C62.6,472.2 63.3,472.2 63.9,472.2C64.6,472.2 65.3,472.2 65.9,472.2C66.6,472.1 67.2,472.1 67.9,472.1C68.6,472.1 69.2,472.1 69.9,472.1C70.6,472.1 71.2,472.0 71.9,472.0C72.6,472.0 73.2,472.0 73.9,472.0C74.6,472.0 75.2,472.0 75.9,471.9C76.6,471.9 77.2,471.9 77.9,471.9C78.6,471.9 79.2,471.9 79.9,471.9C80.5,471.9 81.2,471.8 81.9,471.8C82.5,471.8 83.2,471.8 83.9,471.8C84.5,471.8 85.2,471.8 85.9,471.8C86.5,471.7 87.2,471.7 87.9,471.7C88.5,471.7 89.2,471.7 89.9,471.7C90.5,471.7 91.2,471.7 91.8,471.6C92.5,471.6 93.2,471.6 93.8,471.6C94.5,471.6 95.2,471.6 95.8,471.6C96.5,471.6 97.2,471.6 97.8,471.6C98.5,471.5 99.2,471.5 99.8,471.5C100.5,471.5 101.2,471.5 101.8,471.5C102.5,471.5 103.1,471.5 103.8,471.5C104.5,471.5 105.1,471.5 105.8,471.4C106.5,471.4 107.1,471.4 107.8,471.4C108.5,471.4 109.1,471.4 109.8,471.4C110.5,471.4 111.1,471.4 111.8,471.4C112.5,471.4 113.1,471.4 113.8,471.3C114.4,471.3 115.1,471.3 115.8,471.3C116.4,471.3 117.1,471.3 117.8,471.3C118.4,471.3 119.1,471.3 119.8,471.3C120.4,471.3 121.1,471.3 121.8,471.3C122.4,471.3 123.1,471.3 123.8,471.3C124.4,471.3 125.1,471.2 125.7,471.2C126.4,471.2 127.1,471.2 127.7,471.2C128.4,471.2 129.1,471.2 129.7,471.2C130.4,471.2 131.1,471.2 131.7,471.2C132.4,471.2 133.1,471.2 133.7,471.2C134.4,471.2 135.0,471.2 135.7,471.2C136.4,471.2 137.0,471.2 137.7,471.2C138.4,471.2 139.0,471.2 139.7,471.2C140.4,471.2 141.0,471.2 141.7,471.2C142.4,471.2 143.0,471.2 143.7,471.2C144.4,471.2 145.0,471.2 145.7,471.2C146.3,471.2 147.0,471.2 147.7,471.2C148.3,471.2 149.0,471.2 149.7,471.2C150.3,471.2 151.0,471.2 151.7,471.2C152.3,471.2 153.0,471.2 153.7,471.2C154.3,471.2 155.0,471.2 155.7,471.2C156.3,471.2 157.0,471.2 157.6,471.2C158.3,471.2 159.0,471.2 159.6,471.2C160.3,471.2 161.0,471.2 161.6,471.2C162.3,471.2 163.0,471.2 163.6,471.2C164.3,471.2 165.0,471.2 165.6,471.2C166.3,471.2 166.9,471.2 167.6,471.3C168.3,471.3 168.9,471.3 169.6,471.3C170.3,471.3 170.9,471.3 171.6,471.3C172.3,471.3 172.9,471.3 173.6,471.3C174.3,471.3 174.9,471.3 175.6,471.3C176.2,471.3 176.9,471.3 177.6,471.4C178.2,471.4 178.9,471.4 179.6,471.4C180.2,471.4 180.9,471.4 181.6,471.4C182.2,471.4 182.9,471.4 183.6,471.4C184.2,471.4 184.9,471.4 185.5,471.5C186.2,471.5 186.9,471.5 187.5,471.5C188.2,471.5 188.9,471.5 189.5,471.5C190.2,471.5 190.9,471.5 191.5,471.5C192.2,471.6 192.9,471.6 193.5,471.6C194.2,471.6 194.9,471.6 195.5,471.6C196.2,471.6 196.8,471.6 197.5,471.6C198.2,471.7 198.8,471.7 199.5,471.7C200.2,471.7 200.8,471.7 201.5,471.7C202.2,471.7 202.8,471.7 203.5,471.8C204.2,471.8 204.8,471.8 205.5,471.8C206.1,471.8 206.8,471.8 207.5,471.8C208.1,471.8 208.8,471.9 209.5,471.9C210.1,471.9 210.8,471.9 211.5,471.9C212.1,471.9 212.8,471.9 213.5,471.9C214.1,472.0 214.8,472.0 215.4,472.0C216.1,472.0 216.8,472.0 217.4,472.0C218.1,472.0 218.8,472.1 219.4,472.1C220.1,472.1 220.8,472.1 221.4,472.1C222.1,472.1 222.8,472.1 223.4,472.1C224.1,472.2 224.7,472.2 225.4,472.2C226.1,472.2 226.7,472.2 227.4,472.2C228.1,472.2 228.7,472.2 229.4,472.3C230.1,472.3 230.7,472.3 231.4,472.3C232.1,472.3 232.7,472.3 233.4,472.3C234.0,472.4 234.7,472.4 235.4,472.4C236.0,472.4 236.7,472.4 237.4,472.4C238.0,472.4 238.7,472.4 239.4,472.5C240.0,472.5 240.7,472.5 241.4,472.5C242.0,472.5 242.7,472.5 243.4,472.5C244.0,472.5 244.7,472.6 245.3,472.6C246.0,472.6 246.7,472.6 247.3,472.6C248.0,472.6 248.7,472.6 249.3,472.6C250.0,472.7 250.7,472.7 251.3,472.7C252.0,472.7 252.7,472.7 253.3,472.7C254.0,472.7 254.6,472.7 255.3,472.7C256.0,472.8 256.6,472.8 257.3,472.8C258.0,472.8 258.6,472.8 259.3,472.8C260.0,472.8 260.6,472.8 261.3,472.8C262.0,472.8 262.6,472.9 263.3,472.9C264.0,472.9 264.6,472.9 265.3,472.9C265.9,472.9 266.6,472.9 267.3,472.9C267.9,472.9 268.6,472.9 269.3,472.9C269.9,473.0 270.6,473.0 271.3,473.0C271.9,473.0 272.6,473.0 273.3,473.0C273.9,473.0 274.6,473.0 275.2,473.0C275.9,473.0 276.6,473.0 277.2,473.0C277.9,473.0 278.6,473.0 279.2,473.1C279.9,473.1 280.6,473.1 281.2,473.1C281.9,473.1 282.6,473.1 283.2,473.1C283.9,473.1 284.6,473.1 285.2,473.1C285.9,473.1 286.6,473.1 287.2,473.1C287.9,473.1 288.5,473.1 289.2,473.1C289.9,473.1 290.5,473.1 291.2,473.1C291.9,473.1 292.5,473.1 293.2,473.1" stroke="#8E8E00" stroke-width="1.4" fill="none"/><path d="M36.0,473.1C36.7,473.1 37.3,473.1 38.0,473.1C38.7,473.1 39.3,473.1 40.0,473.1C40.7,473.1 41.3,473.1 42.0,473.1C42.6,473.1 43.3,473.1 44.0,473.1C44.6,473.1 45.3,473.1 46.0,473.1C46.6,473.1 47.3,473.1 48.0,473.1C48.6,473.1 49.3,473.1 50.0,473.1C50.6,473.1 51.3,473.1 52.0,473.1C52.6,473.1 53.3,473.1 53.9,473.1C54.6,473.0 55.3,473.0 55.9,473.0C56.6,473.0 57.3,473.0 57.9,473.0C58.6,473.0 59.3,473.0 59.9,473.0C60.6,473.0 61.3,473.0 61.9,473.0C62.6,473.0 63.2,473.0 63.9,473.0C64.6,473.0 65.2,473.0 65.9,473.0C66.6,473.0 67.2,473.0 67.9,473.0C68.6,473.0 69.2,473.0 69.9,473.0C70.6,473.0 71.2,473.0 71.9,473.0C72.6,473.0 73.2,473.0 73.9,473.0C74.5,473.0 75.2,473.0 75.9,473.0C76.5,473.0 77.2,473.0 77.9,473.0C78.5,473.0 79.2,473.0 79.9,473.0C80.5,473.0 81.2,473.0 81.9,473.0C82.5,473.0 83.2,473.0 83.9,473.0C84.5,473.0 85.2,473.0 85.8,473.0C86.5,473.0 87.2,473.0 87.8,473.0C88.5,473.0 89.2,473.0 89.8,473.0C90.5,473.0 91.2,473.0 91.8,473.0C92.5,473.0 93.2,473.0 93.8,473.0C94.5,473.0 95.1,473.0 95.8,473.0C96.5,473.0 97.1,473.0 97.8,473.0C98.5,473.0 99.1,473.0 99.8,473.0C100.5,473.0 101.1,473.0 101.8,473.0C102.5,473.0 103.1,473.0 103.8,473.0C104.5,473.0 105.1,473.0 105.8,473.0C106.4,473.0 107.1,473.0 107.8,473.0C108.4,473.0 109.1,473.0 109.8,473.0C110.4,473.0 111.1,473.0 111.8,473.0C112.4,473.0 113.1,473.0 113.8,473.0C114.4,473.0 115.1,473.0 115.8,473.0C116.4,472.9 117.1,472.9 117.7,472.9C118.4,472.9 119.1,472.9 119.7,472.9C120.4,472.9 121.1,472.9 121.7,472.9C122.4,472.9 123.1,472.9 123.7,472.9C124.4,472.9 125.1,472.9 125.7,472.9C126.4,472.9 127.1,472.9 127.7,472.9C128.4,472.9 129.0,472.9 129.7,472.9C130.4,472.9 131.0,472.9 131.7,472.9C132.4,472.9 133.0,472.9 133.7,472.9C134.4,472.9 135.0,472.9 135.7,472.9C136.4,472.9 137.0,472.9 137.7,472.9C138.3,472.9 139.0,472.9 139.7,472.9C140.3,472.9 141.0,472.9 141.7,472.9C142.3,472.9 143.0,472.9 143.7,472.9C144.3,472.9 145.0,472.9 145.7,472.9C146.3,472.9 147.0,472.9 147.7,472.9C148.3,472.9 149.0,472.9 149.6,472.9C150.3,472.9 151.0,472.9 151.6,472.9C152.3,472.9 153.0,472.9 153.6,472.9C154.3,472.9 155.0,472.9 155.6,472.9C156.3,473.0 157.0,473.0 157.6,473.0C158.3,473.0 159.0,473.0 159.6,473.0C160.3,473.0 160.9,473.0 161.6,473.0C162.3,473.0 162.9,473.0 163.6,473.0C164.3,473.0 164.9,473.0 165.6,473.0C166.3,473.0 166.9,473.0 167.6,473.0C168.3,473.0 168.9,473.0 169.6,473.0C170.2,473.0 170.9,473.0 171.6,473.0C172.2,473.0 172.9,473.0 173.6,473.0C174.2,473.0 174.9,473.0 175.6,473.0C176.2,473.0 176.9,473.0 177.6,473.0C178.2,473.0 178.9,473.0 179.6,473.0C180.2,473.0 180.9,473.0 181.5,473.0C182.2,473.0 182.9,473.0 183.5,473.0C184.2,473.0 184.9,473.0 185.5,473.0C186.2,473.0 186.9,473.0 187.5,473.0C188.2,473.0 188.9,473.0 189.5,473.0C190.2,473.0 190.9,473.0 191.5,473.0C192.2,473.0 192.8,473.0 193.5,473.0C194.2,473.0 194.8,473.0 195.5,473.0C196.2,473.0 196.8,473.0 197.5,473.0C198.2,473.0 198.8,473.0 199.5,473.0C200.2,473.0 200.8,473.0 201.5,473.0C202.2,473.0 202.8,473.0 203.5,473.0C204.1,473.0 204.8,473.0 205.5,473.0C206.1,473.0 206.8,473.0 207.5,473.0C208.1,473.0 208.8,473.0 209.5,473.0C210.1,473.0 210.8,473.0 211.5,473.0C212.1,473.0 212.8,473.0 213.4,473.0C214.1,473.0 214.8,473.0 215.4,473.0C216.1,473.0 216.8,473.0 217.4,473.0C218.1,473.0 218.8,473.0 219.4,473.0C220.1,473.0 220.8,473.1 221.4,473.1C222.1,473.1 222.8,473.1 223.4,473.1C224.1,473.1 224.7,473.1 225.4,473.1C226.1,473.1 226.7,473.1 227.4,473.1C228.1,473.1 228.7,473.1 229.4,473.1C230.1,473.1 230.7,473.1 231.4,473.1C232.1,473.1 232.7,473.1 233.4,473.1C234.1,473.1 234.7,473.1 235.4,473.1C236.0,473.1 236.7,473.1 237.4,473.1C238.0,473.1 238.7,473.1 239.4,473.1C240.0,473.1 240.7,473.1 241.4,473.1C242.0,473.1 242.7,473.1 243.4,473.1C244.0,473.1 244.7,473.1 245.3,473.1C246.0,473.1 246.7,473.1 247.3,473.1C248.0,473.1 248.7,473.1 249.3,473.1C250.0,473.1 250.7,473.1 251.3,473.1C252.0,473.1 252.7,473.1 253.3,473.1C254.0,473.1 254.7,473.2 255.3,473.2C256.0,473.2 256.6,473.2 257.3,473.2C258.0,473.2 258.6,473.2 259.3,473.2C260.0,473.2 260.6,473.2 261.3,473.2C262.0,473.2 262.6,473.2 263.3,473.2C264.0,473.2 264.6,473.2 265.3,473.2C266.0,473.2 266.6,473.2 267.3,473.2C267.9,473.2 268.6,473.2 269.3,473.2C269.9,473.2 270.6,473.2 271.3,473.2C271.9,473.2 272.6,473.2 273.3,473.2C273.9,473.2 274.6,473.2 275.3,473.2C275.9,473.2 276.6,473.2 277.2,473.2C277.9,473.2 278.6,473.2 279.2,473.2C279.9,473.2 280.6,473.2 281.2,473.3C281.9,473.3 282.6,473.3 283.2,473.3C283.9,473.3 284.6,473.3 285.2,473.3C285.9,473.3 286.6,473.3 287.2,473.3C287.9,473.3 288.5,473.3 289.2,473.3C289.9,473.3 290.5,473.3 291.2,473.3C291.9,473.3 292.5,473.3 293.2,473.3" stroke="#FB6501" stroke-width="1.4" fill="none"/><path d="M36.0,473.1C36.7,473.1 37.3,473.1 38.0,473.1C38.7,473.1 39.3,473.1 40.0,473.1C40.7,473.1 41.3,473.1 42.0,473.1C42.6,473.1 43.3,473.0 44.0,473.0C44.6,473.0 45.3,473.0 46.0,473.0C46.6,473.0 47.3,473.0 48.0,473.0C48.6,473.0 49.3,473.0 50.0,473.0C50.6,473.0 51.3,472.9 51.9,472.9C52.6,472.9 53.3,472.9 53.9,472.9C54.6,472.9 55.3,472.9 55.9,472.9C56.6,472.9 57.3,472.9 57.9,472.9C58.6,472.9 59.3,472.8 59.9,472.8C60.6,472.8 61.3,472.8 61.9,472.8C62.6,472.8 63.2,472.8 63.9,472.8C64.6,472.8 65.2,472.8 65.9,472.8C66.6,472.7 67.2,472.7 67.9,472.7C68.6,472.7 69.2,472.7 69.9,472.7C70.6,472.7 71.2,472.7 71.9,472.7C72.6,472.7 73.2,472.7 73.9,472.6C74.5,472.6 75.2,472.6 75.9,472.6C76.5,472.6 77.2,472.6 77.9,472.6C78.5,472.6 79.2,472.6 79.9,472.6C80.5,472.5 81.2,472.5 81.9,472.5C82.5,472.5 83.2,472.5 83.8,472.5C84.5,472.5 85.2,472.5 85.8,472.5C86.5,472.4 87.2,472.4 87.8,472.4C88.5,472.4 89.2,472.4 89.8,472.4C90.5,472.4 91.2,472.4 91.8,472.4C92.5,472.4 93.2,472.3 93.8,472.3C94.5,472.3 95.1,472.3 95.8,472.3C96.5,472.3 97.1,472.3 97.8,472.3C98.5,472.3 99.1,472.2 99.8,472.2C100.5,472.2 101.1,472.2 101.8,472.2C102.5,472.2 103.1,472.2 103.8,472.2C104.4,472.2 105.1,472.1 105.8,472.1C106.4,472.1 107.1,472.1 107.8,472.1C108.4,472.1 109.1,472.1 109.8,472.1C110.4,472.1 111.1,472.0 111.8,472.0C112.4,472.0 113.1,472.0 113.8,472.0C114.4,472.0 115.1,472.0 115.7,472.0C116.4,472.0 117.1,471.9 117.7,471.9C118.4,471.9 119.1,471.9 119.7,471.9C120.4,471.9 121.1,471.9 121.7,471.9C122.4,471.9 123.1,471.8 123.7,471.8C124.4,471.8 125.1,471.8 125.7,471.8C126.4,471.8 127.0,471.8 127.7,471.8C128.4,471.8 129.0,471.7 129.7,471.7C130.4,471.7 131.0,471.7 131.7,471.7C132.4,471.7 133.0,471.7 133.7,471.7C134.4,471.7 135.0,471.6 135.7,471.6C136.3,471.6 137.0,471.6 137.7,471.6C138.3,471.6 139.0,471.6 139.7,471.6C140.3,471.6 141.0,471.5 141.7,471.5C142.3,471.5 143.0,471.5 143.7,471.5C144.3,471.5 145.0,471.5 145.7,471.5C146.3,471.5 147.0,471.4 147.6,471.4C148.3,471.4 149.0,471.4 149.6,471.4C150.3,471.4 151.0,471.4 151.6,471.4C152.3,471.4 153.0,471.3 153.6,471.3C154.3,471.3 155.0,471.3 155.6,471.3C156.3,471.3 156.9,471.3 157.6,471.3C158.3,471.3 158.9,471.2 159.6,471.2C160.3,471.2 160.9,471.2 161.6,471.2C162.3,471.2 162.9,471.2 163.6,471.2C164.3,471.2 164.9,471.2 165.6,471.1C166.3,471.1 166.9,471.1 167.6,471.1C168.2,471.1 168.9,471.1 169.6,471.1C170.2,471.1 170.9,471.1 171.6,471.1C172.2,471.0 172.9,471.0 173.6,471.0C174.2,471.0 174.9,471.0 175.6,471.0C176.2,471.0 176.9,471.0 177.6,471.0C178.2,471.0 178.9,470.9 179.5,470.9C180.2,470.9 180.9,470.9 181.5,470.9C182.2,470.9 182.9,470.9 183.5,470.9C184.2,470.9 184.9,470.9 185.5,470.8C186.2,470.8 186.9,470.8 187.5,470.8C188.2,470.8 188.8,470.8 189.5,470.8C190.2,470.8 190.8,470.8 191.5,470.8C192.2,470.8 192.8,470.8 193.5,470.7C194.2,470.7 194.8,470.7 195.5,470.7C196.2,470.7 196.8,470.7 197.5,470.7C198.2,470.7 198.8,470.7 199.5,470.7C200.1,470.7 200.8,470.7 201.5,470.6C202.1,470.6 202.8,470.6 203.5,470.6C204.1,470.6 204.8,470.6 205.5,470.6C206.1,470.6 206.8,470.6 207.5,470.6C208.1,470.6 208.8,470.6 209.5,470.6C210.1,470.5 210.8,470.5 211.4,470.5C212.1,470.5 212.8,470.5 213.4,470.5C214.1,470.5 214.8,470.5 215.4,470.5C216.1,470.5 216.8,470.5 217.4,470.5C218.1,470.5 218.8,470.5 219.4,470.5C220.1,470.4 220.7,470.4 221.4,470.4C222.1,470.4 222.7,470.4 223.4,470.4C224.1,470.4 224.7,470.4 225.4,470.4C226.1,470.4 226.7,470.4 227.4,470.4C228.1,470.4 228.7,470.4 229.4,470.4C230.1,470.4 230.7,470.4 231.4,470.4C232.0,470.3 232.7,470.3 233.4,470.3C234.0,470.3 234.7,470.3 235.4,470.3C236.0,470.3 236.7,470.3 237.4,470.3C238.0,470.3 238.7,470.3 239.4,470.3C240.0,470.3 240.7,470.3 241.4,470.3C242.0,470.3 242.7,470.3 243.3,470.3C244.0,470.3 244.7,470.3 245.3,470.3C246.0,470.3 246.7,470.3 247.3,470.3C248.0,470.3 248.7,470.3 249.3,470.3C250.0,470.3 250.7,470.2 251.3,470.2C252.0,470.2 252.7,470.2 253.3,470.2C254.0,470.2 254.6,470.2 255.3,470.2C256.0,470.2 256.6,470.2 257.3,470.2C258.0,470.2 258.6,470.2 259.3,470.2C260.0,470.2 260.6,470.2 261.3,470.2C262.0,470.2 262.6,470.2 263.3,470.2C264.0,470.2 264.6,470.2 265.3,470.2C265.9,470.2 266.6,470.2 267.3,470.2C267.9,470.2 268.6,470.2 269.3,470.2C269.9,470.2 270.6,470.2 271.3,470.2C271.9,470.2 272.6,470.2 273.3,470.2C273.9,470.2 274.6,470.2 275.3,470.2C275.9,470.2 276.6,470.2 277.2,470.2C277.9,470.2 278.6,470.2 279.2,470.2C279.9,470.2 280.6,470.2 281.2,470.3C281.9,470.3 282.6,470.3 283.2,470.3C283.9,470.3 284.6,470.3 285.2,470.3C285.9,470.3 286.6,470.3 287.2,470.3C287.9,470.3 288.5,470.3 289.2,470.3C289.9,470.3 290.5,470.3 291.2,470.3C291.9,470.3 292.5,470.3 293.2,470.3" stroke="#6699CC" stroke-width="1.4" fill="none"/></g>
<line x1="36.00" y1="473.3" x2="36.00" y2="477.3" stroke="#000" stroke-width="1.3"/>
<line x1="36.00" y1="269.0" x2="36.00" y2="273.0" stroke="#000" stroke-width="1.3"/>
<text x="36.00" y="488.80" text-anchor="middle" font-size="10.7">400</text>
<line x1="138.90" y1="473.3" x2="138.90" y2="477.3" stroke="#000" stroke-width="1.3"/>
<line x1="138.90" y1="269.0" x2="138.90" y2="273.0" stroke="#000" stroke-width="1.3"/>
<text x="138.90" y="488.80" text-anchor="middle" font-size="10.7">500</text>
<line x1="241.80" y1="473.3" x2="241.80" y2="477.3" stroke="#000" stroke-width="1.3"/>
<line x1="241.80" y1="269.0" x2="241.80" y2="273.0" stroke="#000" stroke-width="1.3"/>
<text x="241.80" y="488.80" text-anchor="middle" font-size="10.7">600</text>
<line x1="87.45" y1="473.3" x2="87.45" y2="475.3" stroke="#000" stroke-width="1.3"/>
<line x1="87.45" y1="269.0" x2="87.45" y2="271.0" stroke="#000" stroke-width="1.3"/>
<line x1="190.35" y1="473.3" x2="190.35" y2="475.3" stroke="#000" stroke-width="1.3"/>
<line x1="190.35" y1="269.0" x2="190.35" y2="271.0" stroke="#000" stroke-width="1.3"/>
<line x1="32.0" y1="473.30" x2="36.0" y2="473.30" stroke="#000" stroke-width="1.3"/>
<line x1="289.25" y1="473.30" x2="293.25" y2="473.30" stroke="#000" stroke-width="1.3"/>
<text x="29.5" y="476.90" text-anchor="end" font-size="10.7">0.0</text>
<line x1="32.0" y1="432.44" x2="36.0" y2="432.44" stroke="#000" stroke-width="1.3"/>
<line x1="289.25" y1="432.44" x2="293.25" y2="432.44" stroke="#000" stroke-width="1.3"/>
<text x="29.5" y="436.04" text-anchor="end" font-size="10.7">0.2</text>
<line x1="32.0" y1="391.58" x2="36.0" y2="391.58" stroke="#000" stroke-width="1.3"/>
<line x1="289.25" y1="391.58" x2="293.25" y2="391.58" stroke="#000" stroke-width="1.3"/>
<text x="29.5" y="395.18" text-anchor="end" font-size="10.7">0.4</text>
<line x1="32.0" y1="350.72" x2="36.0" y2="350.72" stroke="#000" stroke-width="1.3"/>
<line x1="289.25" y1="350.72" x2="293.25" y2="350.72" stroke="#000" stroke-width="1.3"/>
<text x="29.5" y="354.32" text-anchor="end" font-size="10.7">0.6</text>
<line x1="32.0" y1="309.86" x2="36.0" y2="309.86" stroke="#000" stroke-width="1.3"/>
<line x1="289.25" y1="309.86" x2="293.25" y2="309.86" stroke="#000" stroke-width="1.3"/>
<text x="29.5" y="313.46" text-anchor="end" font-size="10.7">0.8</text>
<line x1="32.0" y1="269.00" x2="36.0" y2="269.00" stroke="#000" stroke-width="1.3"/>
<line x1="289.25" y1="269.00" x2="293.25" y2="269.00" stroke="#000" stroke-width="1.3"/>
<text x="29.5" y="272.60" text-anchor="end" font-size="10.7">1.0</text>
<line x1="34.0" y1="452.87" x2="36.0" y2="452.87" stroke="#000" stroke-width="1.3"/>
<line x1="291.25" y1="452.87" x2="293.25" y2="452.87" stroke="#000" stroke-width="1.3"/>
<line x1="34.0" y1="412.01" x2="36.0" y2="412.01" stroke="#000" stroke-width="1.3"/>
<line x1="291.25" y1="412.01" x2="293.25" y2="412.01" stroke="#000" stroke-width="1.3"/>
<line x1="34.0" y1="371.15" x2="36.0" y2="371.15" stroke="#000" stroke-width="1.3"/>
<line x1="291.25" y1="371.15" x2="293.25" y2="371.15" stroke="#000" stroke-width="1.3"/>
<line x1="34.0" y1="330.29" x2="36.0" y2="330.29" stroke="#000" stroke-width="1.3"/>
<line x1="291.25" y1="330.29" x2="293.25" y2="330.29" stroke="#000" stroke-width="1.3"/>
<line x1="34.0" y1="289.43" x2="36.0" y2="289.43" stroke="#000" stroke-width="1.3"/>
<line x1="291.25" y1="289.43" x2="293.25" y2="289.43" stroke="#000" stroke-width="1.3"/>
<text x="164.62" y="506.3" text-anchor="middle" font-size="10.7">Wavelength (nm)</text>
<text transform="translate(7.8,377.9) rotate(-90)" text-anchor="middle" font-size="10.7">Absorbance (a.u.)</text>
<text x="43.3" y="282.7" font-size="10.7">(c)</text>
<text x="57.2" y="308.7" font-size="10.7">0.5 wt.% Ag-TiO2-PD</text>
<line x1="45.1" y1="323.90" x2="68.8" y2="323.90" stroke="#515151" stroke-width="1.5"/>
<text x="72.3" y="327.70" font-size="10.7" xml:space="preserve">RB Dye</text>
<line x1="45.1" y1="337.26" x2="68.8" y2="337.26" stroke="#F14040" stroke-width="1.5"/>
<text x="72.3" y="341.06" font-size="10.7" xml:space="preserve">0 min</text>
<line x1="45.1" y1="350.62" x2="68.8" y2="350.62" stroke="#1A6FDF" stroke-width="1.5"/>
<text x="72.3" y="354.42" font-size="10.7" xml:space="preserve">5 mins</text>
<line x1="45.1" y1="363.98" x2="68.8" y2="363.98" stroke="#37AD6B" stroke-width="1.5"/>
<text x="72.3" y="367.78" font-size="10.7" xml:space="preserve">10 mins</text>
<line x1="45.1" y1="377.34" x2="68.8" y2="377.34" stroke="#B177DE" stroke-width="1.5"/>
<text x="72.3" y="381.14" font-size="10.7" xml:space="preserve">15 mins</text>
<line x1="45.1" y1="390.70" x2="68.8" y2="390.70" stroke="#CC9900" stroke-width="1.5"/>
<text x="72.3" y="394.50" font-size="10.7" xml:space="preserve">20  mins</text>
<line x1="45.1" y1="404.06" x2="68.8" y2="404.06" stroke="#00CBCC" stroke-width="1.5"/>
<text x="72.3" y="407.86" font-size="10.7" xml:space="preserve">25 mins</text>
<line x1="45.1" y1="417.42" x2="68.8" y2="417.42" stroke="#7D4E4E" stroke-width="1.5"/>
<text x="72.3" y="421.22" font-size="10.7" xml:space="preserve">30mins</text>
<line x1="45.1" y1="430.78" x2="68.8" y2="430.78" stroke="#8E8E00" stroke-width="1.5"/>
<text x="72.3" y="434.58" font-size="10.7" xml:space="preserve">40mins</text>
<line x1="45.1" y1="444.14" x2="68.8" y2="444.14" stroke="#FB6501" stroke-width="1.5"/>
<text x="72.3" y="447.94" font-size="10.7" xml:space="preserve">50 mins</text>
<line x1="45.1" y1="457.50" x2="68.8" y2="457.50" stroke="#6699CC" stroke-width="1.5"/>
<text x="72.3" y="461.30" font-size="10.7" xml:space="preserve">60 mins</text></g>
<g id="pd"><clipPath id="clipd"><rect x="346.3" y="269.6" width="252.24999999999994" height="208.89999999999998"/></clipPath>
<rect x="346.3" y="272.6" width="252.25" height="204.90" fill="none" stroke="#000" stroke-width="1.3"/>
<g clip-path="url(#clipd)"><path d="M346.3,477.3C347.0,477.3 347.7,477.3 348.3,477.3C349.0,477.4 349.7,477.4 350.4,477.4C351.1,477.4 351.7,477.4 352.4,477.3C353.1,477.3 353.7,477.3 354.4,477.3C355.1,477.3 355.8,477.3 356.4,477.2C357.1,477.2 357.7,477.2 358.4,477.1C359.1,477.1 359.7,477.0 360.4,477.0C361.1,476.9 361.7,476.9 362.4,476.8C363.0,476.8 363.7,476.7 364.4,476.7C365.0,476.6 365.7,476.5 366.3,476.5C367.0,476.4 367.6,476.3 368.3,476.3C368.9,476.2 369.6,476.1 370.2,476.0C370.9,476.0 371.6,475.9 372.2,475.8C372.9,475.7 373.5,475.6 374.2,475.5C374.8,475.5 375.5,475.4 376.1,475.3C376.8,475.2 377.4,475.1 378.1,475.0C378.7,474.9 379.4,474.8 380.1,474.8C380.7,474.7 381.4,474.6 382.0,474.5C382.7,474.4 383.3,474.3 384.0,474.2C384.6,474.1 385.3,474.0 386.0,473.9C386.6,473.8 387.3,473.8 387.9,473.7C388.6,473.6 389.3,473.5 389.9,473.4C390.6,473.3 391.3,473.2 391.9,473.1C392.6,473.0 393.3,473.0 393.9,472.9C394.6,472.8 395.3,472.7 395.9,472.6C396.6,472.5 397.3,472.5 397.9,472.4C398.6,472.3 399.3,472.2 400.0,472.1C400.6,472.0 401.3,471.9 402.0,471.8C402.6,471.7 403.3,471.6 404.0,471.5C404.6,471.4 405.3,471.3 406.0,471.2C406.6,471.1 407.3,471.0 408.0,470.9C408.6,470.8 409.3,470.6 409.9,470.5C410.6,470.4 411.3,470.3 411.9,470.1C412.6,470.0 413.2,469.8 413.9,469.7C414.5,469.5 415.2,469.4 415.8,469.2C416.5,469.0 417.1,468.9 417.7,468.7C418.4,468.5 419.0,468.3 419.7,468.1C420.3,467.9 420.9,467.7 421.5,467.5C422.2,467.3 422.8,467.1 423.4,466.8C424.0,466.6 424.6,466.3 425.2,466.1C425.8,465.8 426.5,465.6 427.1,465.3C427.6,465.0 428.2,464.7 428.8,464.4C429.4,464.1 430.0,463.8 430.6,463.5C431.1,463.2 431.7,462.9 432.3,462.5C432.8,462.2 433.4,461.8 433.9,461.5C434.5,461.1 435.0,460.7 435.5,460.3C436.0,459.9 436.5,459.5 437.0,459.1C437.6,458.7 438.0,458.3 438.5,457.9C439.0,457.4 439.5,457.0 439.9,456.5C440.4,456.1 440.9,455.6 441.3,455.1C441.7,454.7 442.2,454.2 442.6,453.7C443.0,453.1 443.4,452.6 443.8,452.1C444.2,451.6 444.5,451.0 444.9,450.5C445.3,449.9 445.6,449.4 445.9,448.8C446.3,448.2 446.6,447.6 446.9,447.0C447.2,446.4 447.6,445.9 447.9,445.2C448.2,444.6 448.5,444.0 448.8,443.4C449.0,442.8 449.3,442.2 449.6,441.5C449.9,440.9 450.2,440.3 450.4,439.7C450.7,439.0 451.0,438.4 451.2,437.8C451.5,437.1 451.8,436.5 452.0,435.8C452.3,435.2 452.5,434.6 452.8,433.9C453.1,433.3 453.3,432.7 453.6,432.0C453.8,431.4 454.1,430.8 454.4,430.2C454.6,429.5 454.9,428.9 455.2,428.3C455.5,427.7 455.8,427.1 456.0,426.5C456.3,425.9 456.6,425.3 456.9,424.7C457.2,424.1 457.5,423.5 457.8,422.9C458.1,422.4 458.4,421.8 458.7,421.2C459.0,420.6 459.4,420.1 459.7,419.5C460.0,418.9 460.3,418.4 460.7,417.8C461.0,417.3 461.4,416.7 461.7,416.2C462.1,415.6 462.4,415.1 462.8,414.5C463.1,414.0 463.5,413.5 463.9,412.9C464.3,412.4 464.7,411.9 465.0,411.3C465.4,410.8 465.8,410.3 466.2,409.8C466.6,409.2 467.1,408.7 467.5,408.2C467.9,407.7 468.3,407.2 468.8,406.7C469.2,406.2 469.6,405.7 470.1,405.2C470.5,404.6 471.0,404.1 471.4,403.6C471.9,403.1 472.3,402.6 472.8,402.1C473.2,401.6 473.6,401.1 474.0,400.5C474.5,400.0 474.8,399.5 475.2,398.9C475.6,398.4 476.0,397.8 476.3,397.3C476.6,396.7 476.9,396.1 477.2,395.5C477.5,394.9 477.7,394.3 477.9,393.7C478.1,393.1 478.3,392.5 478.5,391.8C478.7,391.2 478.8,390.5 479.0,389.9C479.1,389.2 479.3,388.6 479.4,387.9C479.5,387.3 479.7,386.6 479.8,386.0C479.9,385.3 480.1,384.7 480.2,384.0C480.3,383.3 480.5,382.7 480.6,382.0C480.7,381.4 480.9,380.7 481.0,380.1C481.1,379.4 481.2,378.7 481.4,378.1C481.5,377.4 481.6,376.8 481.8,376.1C481.9,375.5 482.0,374.8 482.1,374.1C482.2,373.5 482.4,372.8 482.5,372.2C482.6,371.5 482.7,370.9 482.9,370.2C483.0,369.5 483.1,368.9 483.2,368.2C483.3,367.6 483.5,366.9 483.6,366.2C483.7,365.6 483.8,364.9 483.9,364.3C484.0,363.6 484.2,363.0 484.3,362.3C484.4,361.6 484.5,361.0 484.6,360.3C484.7,359.7 484.9,359.0 485.0,358.3C485.1,357.7 485.2,357.0 485.3,356.4C485.4,355.7 485.5,355.0 485.6,354.4C485.8,353.7 485.9,353.1 486.0,352.4C486.1,351.8 486.2,351.1 486.3,350.4C486.4,349.8 486.5,349.1 486.7,348.5C486.8,347.8 486.9,347.1 487.0,346.5C487.1,345.8 487.2,345.2 487.3,344.5C487.4,343.9 487.5,343.2 487.6,342.5C487.7,341.9 487.9,341.2 488.0,340.6C488.1,339.9 488.2,339.3 488.3,338.6C488.4,337.9 488.5,337.3 488.6,336.6C488.7,336.0 488.8,335.3 488.9,334.7C489.0,334.0 489.2,333.4 489.3,332.7C489.4,332.0 489.5,331.4 489.6,330.7C489.7,330.1 489.8,329.4 489.9,328.8C490.0,328.1 490.1,327.5 490.2,326.8C490.3,326.2 490.4,325.5 490.6,324.9C490.7,324.2 490.8,323.6 490.9,322.9C491.0,322.2 491.1,321.6 491.2,320.9C491.3,320.3 491.4,319.6 491.5,319.0C491.7,318.3 491.8,317.7 491.9,317.0C492.0,316.4 492.1,315.7 492.2,315.1C492.3,314.4 492.4,313.8 492.5,313.1C492.7,312.5 492.8,311.9 492.9,311.2C493.0,310.6 493.1,309.9 493.2,309.3C493.4,308.6 493.5,308.0 493.6,307.3C493.7,306.7 493.9,306.0 494.0,305.4C494.1,304.7 494.3,304.1 494.4,303.4C494.5,302.8 494.7,302.1 494.8,301.5C495.0,300.8 495.1,300.2 495.3,299.5C495.4,298.9 495.6,298.2 495.7,297.6C495.9,296.9 496.0,296.3 496.2,295.6C496.4,295.0 496.6,294.3 496.8,293.6C497.0,293.0 497.2,292.3 497.4,291.6C497.6,290.8 497.9,290.1 498.2,289.3C498.4,288.6 498.7,287.8 499.0,287.1C499.3,286.4 499.7,285.7 500.0,285.2C500.3,284.7 500.7,284.3 501.0,284.2C501.4,284.1 501.7,284.2 502.0,284.5C502.4,284.8 502.7,285.3 503.0,286.0C503.4,286.6 503.7,287.3 504.0,288.1C504.2,288.8 504.5,289.6 504.7,290.4C505.0,291.1 505.2,291.8 505.4,292.5C505.6,293.3 505.7,293.9 505.9,294.6C506.1,295.3 506.2,296.0 506.3,296.6C506.5,297.3 506.6,297.9 506.7,298.6C506.8,299.2 506.9,299.9 507.0,300.5C507.1,301.2 507.2,301.8 507.3,302.5C507.4,303.2 507.5,303.8 507.6,304.5C507.7,305.1 507.8,305.8 507.9,306.4C508.0,307.1 508.1,307.7 508.2,308.4C508.3,309.0 508.4,309.7 508.5,310.3C508.6,311.0 508.7,311.6 508.8,312.3C508.9,313.0 509.0,313.6 509.1,314.3C509.2,314.9 509.2,315.6 509.3,316.2C509.4,316.9 509.5,317.5 509.6,318.2C509.7,318.9 509.8,319.5 509.9,320.2C509.9,320.8 510.0,321.5 510.1,322.1C510.2,322.8 510.3,323.4 510.4,324.1C510.5,324.8 510.5,325.4 510.6,326.1C510.7,326.7 510.8,327.4 510.9,328.0C511.0,328.7 511.0,329.4 511.1,330.0C511.2,330.7 511.3,331.3 511.4,332.0C511.4,332.6 511.5,333.3 511.6,334.0C511.7,334.6 511.8,335.3 511.8,335.9C511.9,336.6 512.0,337.3 512.1,337.9C512.2,338.6 512.2,339.2 512.3,339.9C512.4,340.5 512.5,341.2 512.5,341.9C512.6,342.5 512.7,343.2 512.8,343.8C512.9,344.5 512.9,345.2 513.0,345.8C513.1,346.5 513.2,347.1 513.2,347.8C513.3,348.5 513.4,349.1 513.5,349.8C513.5,350.5 513.6,351.1 513.7,351.8C513.8,352.4 513.8,353.1 513.9,353.8C514.0,354.4 514.1,355.1 514.1,355.7C514.2,356.4 514.3,357.1 514.4,357.7C514.4,358.4 514.5,359.1 514.6,359.7C514.7,360.4 514.7,361.0 514.8,361.7C514.9,362.4 515.0,363.0 515.1,363.7C515.1,364.4 515.2,365.0 515.3,365.7C515.4,366.3 515.4,367.0 515.5,367.7C515.6,368.3 515.7,369.0 515.7,369.7C515.8,370.3 515.9,371.0 516.0,371.7C516.1,372.3 516.1,373.0 516.2,373.6C516.3,374.3 516.4,375.0 516.4,375.6C516.5,376.3 516.6,377.0 516.7,377.6C516.8,378.3 516.8,379.0 516.9,379.6C517.0,380.3 517.1,381.0 517.2,381.6C517.2,382.3 517.3,383.0 517.4,383.6C517.5,384.3 517.6,385.0 517.7,385.6C517.7,386.3 517.8,387.0 517.9,387.6C518.0,388.3 518.1,389.0 518.2,389.6C518.3,390.3 518.3,391.0 518.4,391.6C518.5,392.3 518.6,393.0 518.7,393.6C518.8,394.3 518.9,395.0 519.0,395.6C519.0,396.3 519.1,397.0 519.2,397.6C519.3,398.3 519.4,399.0 519.5,399.6C519.6,400.3 519.7,401.0 519.8,401.6C519.9,402.3 520.0,402.9 520.1,403.6C520.1,404.3 520.2,404.9 520.3,405.6C520.4,406.3 520.5,406.9 520.6,407.6C520.7,408.2 520.8,408.9 520.9,409.6C521.0,410.2 521.1,410.9 521.2,411.5C521.3,412.2 521.4,412.8 521.5,413.5C521.6,414.1 521.7,414.8 521.8,415.4C522.0,416.1 522.1,416.7 522.2,417.4C522.3,418.0 522.4,418.7 522.5,419.3C522.6,420.0 522.7,420.6 522.8,421.2C522.9,421.9 523.0,422.5 523.2,423.1C523.3,423.8 523.4,424.4 523.5,425.1C523.6,425.7 523.7,426.3 523.8,427.0C524.0,427.6 524.1,428.2 524.2,428.9C524.3,429.5 524.4,430.1 524.6,430.8C524.7,431.4 524.8,432.0 524.9,432.7C525.1,433.3 525.2,433.9 525.3,434.6C525.5,435.2 525.6,435.9 525.7,436.5C525.9,437.2 526.0,437.8 526.1,438.4C526.3,439.1 526.4,439.7 526.6,440.4C526.7,441.1 526.8,441.7 527.0,442.4C527.1,443.0 527.3,443.7 527.4,444.4C527.6,445.0 527.7,445.7 527.9,446.4C528.0,447.0 528.2,447.7 528.4,448.4C528.5,449.1 528.7,449.8 528.8,450.5C529.0,451.2 529.2,451.9 529.4,452.6C529.5,453.2 529.7,453.9 529.9,454.6C530.1,455.3 530.3,456.0 530.5,456.7C530.7,457.4 530.9,458.0 531.1,458.7C531.3,459.4 531.5,460.0 531.8,460.7C532.0,461.3 532.3,462.0 532.5,462.6C532.8,463.3 533.0,463.9 533.3,464.5C533.6,465.1 533.9,465.7 534.2,466.3C534.5,466.8 534.8,467.4 535.2,468.0C535.5,468.5 535.8,469.0 536.2,469.5C536.6,470.0 536.9,470.5 537.3,471.0C537.7,471.4 538.2,471.9 538.6,472.3C539.0,472.7 539.5,473.1 539.9,473.5C540.4,473.8 540.9,474.2 541.4,474.5C541.9,474.8 542.5,475.1 543.0,475.3C543.6,475.6 544.1,475.8 544.7,476.0C545.3,476.2 545.9,476.4 546.5,476.5C547.1,476.7 547.8,476.8 548.4,476.9C549.1,477.0 549.7,477.1 550.4,477.2C551.1,477.3 551.7,477.3 552.4,477.4C553.1,477.4 553.8,477.4 554.5,477.5C555.2,477.5 555.9,477.5 556.6,477.5C557.3,477.5 558.0,477.5 558.8,477.5C559.5,477.4 560.2,477.4 560.9,477.4C561.6,477.4 562.4,477.3 563.1,477.3C563.8,477.2 564.5,477.2 565.2,477.2C565.9,477.1 566.6,477.1 567.3,477.1C568.0,477.0 568.7,477.0 569.4,477.0C570.1,477.0 570.8,476.9 571.5,476.9C572.1,476.9 572.8,476.9 573.4,476.9C574.1,476.9 574.7,476.9 575.4,476.9C576.0,476.9 576.7,477.0 577.3,477.0C577.9,477.0 578.6,477.0 579.2,477.0C579.8,477.1 580.5,477.1 581.1,477.1C581.7,477.1 582.4,477.1 583.0,477.2C583.6,477.2 584.2,477.2 584.9,477.2C585.5,477.3 586.1,477.3 586.8,477.3C587.4,477.3 588.1,477.4 588.7,477.4C589.3,477.4 590.0,477.4 590.7,477.4C591.3,477.4 592.0,477.4 592.7,477.4C593.3,477.4 594.0,477.4 594.7,477.4C595.4,477.4 596.1,477.4 596.8,477.4C597.5,477.4 598.3,477.3 599.0,477.3" stroke="#515151" stroke-width="1.4" fill="none"/><path d="M346.3,477.4C347.0,477.4 347.7,477.5 348.4,477.5C349.0,477.5 349.7,477.5 350.4,477.5C351.1,477.5 351.8,477.6 352.4,477.6C353.1,477.6 353.8,477.6 354.4,477.6C355.1,477.6 355.8,477.6 356.4,477.6C357.1,477.6 357.8,477.6 358.4,477.6C359.1,477.6 359.8,477.6 360.4,477.6C361.1,477.6 361.7,477.6 362.4,477.6C363.0,477.6 363.7,477.6 364.3,477.6C365.0,477.6 365.6,477.5 366.3,477.5C366.9,477.5 367.6,477.5 368.3,477.5C368.9,477.5 369.6,477.5 370.2,477.5C370.9,477.5 371.5,477.4 372.2,477.4C372.8,477.4 373.5,477.4 374.1,477.4C374.8,477.4 375.4,477.4 376.1,477.4C376.7,477.4 377.4,477.4 378.0,477.4C378.7,477.4 379.4,477.4 380.0,477.4C380.7,477.3 381.3,477.3 382.0,477.3C382.7,477.4 383.3,477.4 384.0,477.4C384.6,477.4 385.3,477.4 386.0,477.4C386.7,477.4 387.3,477.4 388.0,477.4C388.7,477.4 389.4,477.4 390.0,477.5C390.7,477.5 391.4,477.5 392.1,477.5C392.8,477.6 393.5,477.6 394.2,477.6C394.8,477.6 395.5,477.7 396.2,477.7C396.9,477.7 397.6,477.7 398.3,477.7C399.0,477.8 399.7,477.8 400.4,477.8C401.1,477.8 401.7,477.8 402.4,477.8C403.1,477.8 403.8,477.8 404.5,477.8C405.1,477.7 405.8,477.7 406.5,477.7C407.2,477.6 407.8,477.6 408.5,477.5C409.2,477.5 409.8,477.4 410.5,477.3C411.1,477.2 411.8,477.1 412.4,477.0C413.1,476.9 413.7,476.8 414.3,476.7C415.0,476.5 415.6,476.4 416.2,476.2C416.8,476.0 417.4,475.8 418.0,475.6C418.6,475.4 419.2,475.1 419.8,474.9C420.4,474.6 420.9,474.4 421.5,474.1C422.1,473.8 422.6,473.4 423.1,473.1C423.7,472.8 424.2,472.4 424.7,472.1C425.3,471.7 425.8,471.3 426.3,470.9C426.8,470.5 427.3,470.1 427.8,469.6C428.3,469.2 428.8,468.8 429.3,468.3C429.8,467.9 430.2,467.4 430.7,466.9C431.2,466.4 431.7,466.0 432.1,465.5C432.6,465.0 433.0,464.5 433.5,464.0C433.9,463.5 434.4,462.9 434.8,462.4C435.3,461.9 435.7,461.4 436.2,460.8C436.6,460.3 437.0,459.8 437.5,459.2C437.9,458.7 438.3,458.2 438.8,457.6C439.2,457.1 439.6,456.6 440.1,456.0C440.5,455.5 440.9,455.0 441.3,454.4C441.8,453.9 442.2,453.4 442.6,452.9C443.0,452.3 443.5,451.8 443.9,451.3C444.3,450.8 444.7,450.3 445.2,449.8C445.6,449.3 446.0,448.8 446.4,448.3C446.9,447.8 447.3,447.3 447.7,446.8C448.1,446.3 448.5,445.8 448.9,445.3C449.3,444.8 449.6,444.3 450.0,443.8C450.4,443.2 450.7,442.7 451.1,442.2C451.4,441.6 451.8,441.1 452.1,440.5C452.4,440.0 452.7,439.4 453.0,438.8C453.2,438.2 453.5,437.6 453.7,436.9C453.9,436.3 454.2,435.7 454.4,435.0C454.6,434.3 454.7,433.6 454.9,433.0C455.1,432.3 455.3,431.6 455.5,430.9C455.7,430.2 455.9,429.6 456.1,428.9C456.3,428.3 456.6,427.6 456.8,427.0C457.1,426.4 457.4,425.8 457.7,425.2C458.0,424.7 458.4,424.1 458.7,423.5C459.1,423.0 459.5,422.5 459.8,421.9C460.2,421.4 460.6,420.9 461.0,420.4C461.5,419.9 461.9,419.4 462.3,418.9C462.8,418.4 463.2,417.9 463.6,417.4C464.1,417.0 464.5,416.5 465.0,416.0C465.5,415.5 465.9,415.1 466.4,414.6C466.9,414.1 467.3,413.6 467.8,413.1C468.2,412.7 468.7,412.2 469.2,411.7C469.6,411.2 470.1,410.7 470.5,410.2C470.9,409.7 471.4,409.2 471.8,408.7C472.2,408.2 472.6,407.7 473.0,407.2C473.4,406.6 473.8,406.1 474.1,405.6C474.5,405.0 474.9,404.5 475.2,403.9C475.5,403.4 475.8,402.8 476.1,402.2C476.4,401.7 476.7,401.1 477.0,400.5C477.2,399.9 477.5,399.3 477.7,398.7C477.9,398.1 478.2,397.5 478.4,396.9C478.6,396.2 478.8,395.6 479.0,395.0C479.2,394.4 479.3,393.7 479.5,393.1C479.7,392.4 479.8,391.8 480.0,391.1C480.1,390.5 480.3,389.8 480.4,389.2C480.5,388.5 480.7,387.9 480.8,387.2C480.9,386.5 481.0,385.9 481.1,385.2C481.3,384.5 481.4,383.9 481.5,383.2C481.6,382.5 481.7,381.9 481.8,381.2C481.9,380.5 482.0,379.8 482.1,379.2C482.2,378.5 482.3,377.8 482.4,377.2C482.5,376.5 482.6,375.8 482.7,375.2C482.9,374.5 483.0,373.8 483.1,373.2C483.2,372.5 483.3,371.8 483.4,371.2C483.5,370.5 483.6,369.9 483.8,369.2C483.9,368.5 484.0,367.9 484.1,367.2C484.2,366.6 484.3,365.9 484.5,365.3C484.6,364.6 484.7,363.9 484.8,363.3C484.9,362.6 485.1,362.0 485.2,361.3C485.3,360.7 485.4,360.0 485.5,359.4C485.7,358.7 485.8,358.1 485.9,357.4C486.0,356.8 486.1,356.1 486.3,355.5C486.4,354.8 486.5,354.2 486.6,353.5C486.8,352.9 486.9,352.2 487.0,351.6C487.1,350.9 487.3,350.3 487.4,349.6C487.5,349.0 487.6,348.3 487.8,347.7C487.9,347.0 488.0,346.4 488.1,345.7C488.3,345.1 488.4,344.4 488.5,343.8C488.6,343.1 488.8,342.5 488.9,341.8C489.0,341.2 489.1,340.6 489.2,339.9C489.4,339.3 489.5,338.6 489.6,338.0C489.7,337.3 489.9,336.7 490.0,336.0C490.1,335.4 490.2,334.7 490.3,334.1C490.5,333.4 490.6,332.8 490.7,332.1C490.8,331.5 490.9,330.8 491.0,330.2C491.2,329.6 491.3,328.9 491.4,328.2C491.5,327.6 491.6,326.9 491.7,326.3C491.8,325.6 491.9,325.0 492.1,324.3C492.2,323.7 492.3,323.0 492.4,322.4C492.5,321.7 492.6,321.1 492.7,320.4C492.8,319.7 492.9,319.1 493.0,318.4C493.1,317.7 493.2,317.1 493.3,316.4C493.4,315.8 493.5,315.1 493.6,314.4C493.7,313.7 493.8,313.1 493.9,312.4C494.0,311.7 494.1,311.1 494.1,310.4C494.2,309.7 494.3,309.0 494.4,308.3C494.5,307.7 494.6,307.0 494.7,306.3C494.8,305.6 494.9,304.9 495.0,304.3C495.1,303.6 495.2,302.9 495.3,302.2C495.4,301.6 495.6,300.9 495.7,300.2C495.9,299.6 496.1,298.9 496.3,298.3C496.5,297.6 496.7,297.0 496.9,296.3C497.2,295.7 497.5,295.1 497.8,294.4C498.1,293.8 498.4,293.2 498.7,292.6C499.1,292.0 499.5,291.4 499.9,290.9C500.3,290.5 500.8,290.2 501.2,290.1C501.6,290.1 502.1,290.3 502.5,290.7C502.9,291.1 503.3,291.7 503.7,292.3C504.1,292.9 504.4,293.5 504.7,294.1C505.0,294.7 505.3,295.4 505.5,296.0C505.7,296.7 505.9,297.4 506.1,298.0C506.3,298.7 506.4,299.4 506.6,300.1C506.7,300.8 506.8,301.4 506.9,302.1C507.0,302.8 507.1,303.5 507.1,304.2C507.2,304.9 507.3,305.6 507.3,306.3C507.4,307.0 507.4,307.7 507.5,308.4C507.5,309.1 507.6,309.8 507.7,310.5C507.7,311.1 507.8,311.8 507.9,312.5C508.0,313.1 508.1,313.8 508.2,314.5C508.2,315.1 508.3,315.8 508.4,316.4C508.5,317.1 508.6,317.7 508.7,318.3C508.8,319.0 508.9,319.6 509.0,320.3C509.1,320.9 509.2,321.6 509.3,322.2C509.4,322.9 509.5,323.5 509.6,324.2C509.7,324.8 509.8,325.4 509.9,326.1C510.0,326.7 510.1,327.4 510.2,328.0C510.3,328.7 510.4,329.3 510.5,330.0C510.5,330.6 510.6,331.3 510.7,332.0C510.8,332.6 510.9,333.3 511.0,333.9C511.1,334.6 511.2,335.2 511.2,335.9C511.3,336.5 511.4,337.2 511.5,337.8C511.6,338.5 511.7,339.2 511.8,339.8C511.8,340.5 511.9,341.1 512.0,341.8C512.1,342.4 512.2,343.1 512.3,343.8C512.3,344.4 512.4,345.1 512.5,345.7C512.6,346.4 512.7,347.1 512.7,347.7C512.8,348.4 512.9,349.0 513.0,349.7C513.1,350.4 513.1,351.0 513.2,351.7C513.3,352.4 513.4,353.0 513.4,353.7C513.5,354.3 513.6,355.0 513.7,355.7C513.8,356.3 513.8,357.0 513.9,357.7C514.0,358.3 514.1,359.0 514.1,359.6C514.2,360.3 514.3,361.0 514.4,361.6C514.4,362.3 514.5,363.0 514.6,363.6C514.7,364.3 514.7,365.0 514.8,365.6C514.9,366.3 515.0,367.0 515.0,367.6C515.1,368.3 515.2,368.9 515.3,369.6C515.3,370.3 515.4,370.9 515.5,371.6C515.6,372.3 515.6,372.9 515.7,373.6C515.8,374.3 515.9,374.9 516.0,375.6C516.0,376.2 516.1,376.9 516.2,377.6C516.3,378.2 516.3,378.9 516.4,379.6C516.5,380.2 516.6,380.9 516.6,381.6C516.7,382.2 516.8,382.9 516.9,383.5C517.0,384.2 517.0,384.9 517.1,385.5C517.2,386.2 517.3,386.8 517.4,387.5C517.4,388.2 517.5,388.8 517.6,389.5C517.7,390.1 517.8,390.8 517.8,391.5C517.9,392.1 518.0,392.8 518.1,393.4C518.2,394.1 518.2,394.8 518.3,395.4C518.4,396.1 518.5,396.7 518.6,397.4C518.7,398.0 518.8,398.7 518.8,399.4C518.9,400.0 519.0,400.7 519.1,401.3C519.2,402.0 519.3,402.6 519.4,403.3C519.5,403.9 519.5,404.6 519.6,405.3C519.7,405.9 519.8,406.6 519.9,407.2C520.0,407.9 520.1,408.5 520.2,409.2C520.3,409.8 520.4,410.5 520.5,411.1C520.6,411.8 520.7,412.5 520.8,413.1C520.9,413.8 521.0,414.4 521.1,415.1C521.2,415.7 521.3,416.4 521.4,417.0C521.5,417.7 521.6,418.3 521.7,419.0C521.8,419.6 521.9,420.3 522.0,421.0C522.1,421.6 522.2,422.3 522.3,422.9C522.4,423.6 522.5,424.2 522.6,424.9C522.7,425.5 522.9,426.2 523.0,426.8C523.1,427.5 523.2,428.1 523.3,428.8C523.4,429.4 523.5,430.1 523.7,430.8C523.8,431.4 523.9,432.1 524.0,432.7C524.1,433.4 524.3,434.0 524.4,434.7C524.5,435.3 524.6,436.0 524.8,436.7C524.9,437.3 525.0,438.0 525.2,438.6C525.3,439.3 525.4,439.9 525.5,440.6C525.7,441.2 525.8,441.9 525.9,442.6C526.1,443.2 526.2,443.9 526.4,444.5C526.5,445.2 526.6,445.9 526.8,446.5C526.9,447.2 527.1,447.8 527.2,448.5C527.4,449.1 527.5,449.8 527.7,450.5C527.8,451.1 528.0,451.8 528.1,452.4C528.3,453.1 528.5,453.7 528.6,454.4C528.8,455.0 529.0,455.7 529.2,456.3C529.4,457.0 529.6,457.6 529.8,458.3C530.0,458.9 530.2,459.5 530.4,460.2C530.6,460.8 530.8,461.4 531.1,462.0C531.3,462.6 531.6,463.3 531.9,463.9C532.1,464.5 532.4,465.1 532.7,465.7C533.0,466.3 533.3,466.8 533.6,467.4C534.0,468.0 534.3,468.6 534.6,469.1C535.0,469.7 535.4,470.2 535.8,470.8C536.2,471.3 536.6,471.8 537.0,472.3C537.4,472.8 537.9,473.3 538.3,473.7C538.8,474.1 539.3,474.5 539.8,474.9C540.3,475.2 540.8,475.5 541.3,475.8C541.9,476.1 542.4,476.3 543.0,476.5C543.6,476.8 544.2,476.9 544.8,477.1C545.4,477.2 546.0,477.4 546.7,477.5C547.3,477.6 547.9,477.7 548.6,477.7C549.2,477.8 549.9,477.8 550.6,477.8C551.3,477.8 551.9,477.8 552.6,477.8C553.3,477.8 554.0,477.8 554.7,477.7C555.4,477.7 556.1,477.7 556.8,477.6C557.5,477.6 558.2,477.5 558.9,477.4C559.7,477.4 560.4,477.3 561.1,477.2C561.8,477.2 562.5,477.1 563.2,477.0C563.9,477.0 564.6,476.9 565.3,476.9C566.0,476.8 566.7,476.8 567.4,476.8C568.0,476.7 568.7,476.7 569.4,476.7C570.1,476.7 570.7,476.7 571.4,476.7C572.0,476.7 572.7,476.7 573.4,476.7C574.0,476.7 574.7,476.8 575.3,476.8C576.0,476.8 576.6,476.9 577.2,476.9C577.9,476.9 578.5,477.0 579.2,477.0C579.8,477.1 580.4,477.1 581.1,477.1C581.7,477.2 582.4,477.2 583.0,477.3C583.6,477.3 584.3,477.4 584.9,477.4C585.6,477.4 586.2,477.5 586.8,477.5C587.5,477.5 588.1,477.6 588.8,477.6C589.5,477.6 590.1,477.6 590.8,477.6C591.4,477.6 592.1,477.6 592.8,477.6C593.4,477.6 594.1,477.6 594.8,477.6C595.5,477.6 596.2,477.5 596.9,477.5C597.6,477.4 598.3,477.4 599.0,477.3" stroke="#F14040" stroke-width="1.4" fill="none"/><path d="M346.3,477.3C347.0,477.2 347.6,477.2 348.3,477.1C348.9,477.0 349.6,477.0 350.2,476.9C350.9,476.9 351.5,476.8 352.2,476.8C352.8,476.8 353.5,476.7 354.2,476.7C354.8,476.7 355.5,476.7 356.1,476.6C356.8,476.6 357.5,476.6 358.1,476.6C358.8,476.6 359.5,476.6 360.1,476.6C360.8,476.6 361.5,476.6 362.1,476.6C362.8,476.6 363.5,476.6 364.1,476.7C364.8,476.7 365.5,476.7 366.2,476.7C366.8,476.7 367.5,476.7 368.2,476.8C368.9,476.8 369.5,476.8 370.2,476.8C370.9,476.9 371.6,476.9 372.2,476.9C372.9,477.0 373.6,477.0 374.2,477.0C374.9,477.0 375.6,477.1 376.3,477.1C377.0,477.1 377.6,477.2 378.3,477.2C379.0,477.2 379.7,477.2 380.3,477.3C381.0,477.3 381.7,477.3 382.4,477.3C383.0,477.3 383.7,477.3 384.4,477.4C385.0,477.4 385.7,477.4 386.4,477.4C387.1,477.4 387.7,477.4 388.4,477.4C389.1,477.4 389.7,477.4 390.4,477.4C391.1,477.4 391.8,477.4 392.4,477.3C393.1,477.3 393.8,477.3 394.4,477.3C395.1,477.2 395.8,477.2 396.4,477.2C397.1,477.1 397.7,477.1 398.4,477.0C399.1,477.0 399.7,476.9 400.4,476.8C401.0,476.8 401.7,476.7 402.4,476.6C403.0,476.5 403.7,476.4 404.3,476.3C405.0,476.2 405.6,476.1 406.3,476.0C406.9,475.9 407.6,475.8 408.2,475.6C408.9,475.5 409.5,475.3 410.2,475.2C410.8,475.0 411.4,474.9 412.1,474.7C412.7,474.5 413.3,474.4 414.0,474.2C414.6,474.0 415.2,473.8 415.8,473.6C416.5,473.4 417.1,473.1 417.7,472.9C418.3,472.7 418.9,472.5 419.6,472.2C420.2,472.0 420.8,471.7 421.4,471.5C422.0,471.2 422.6,470.9 423.2,470.7C423.8,470.4 424.4,470.1 424.9,469.8C425.5,469.5 426.1,469.2 426.7,468.9C427.3,468.6 427.8,468.3 428.4,467.9C429.0,467.6 429.5,467.3 430.1,466.9C430.6,466.6 431.2,466.2 431.7,465.8C432.3,465.5 432.8,465.1 433.3,464.7C433.9,464.3 434.4,463.9 434.9,463.5C435.5,463.1 436.0,462.7 436.5,462.3C437.0,461.9 437.5,461.4 438.0,461.0C438.5,460.5 439.0,460.1 439.5,459.6C439.9,459.2 440.4,458.7 440.9,458.2C441.4,457.7 441.8,457.3 442.3,456.8C442.7,456.3 443.2,455.8 443.6,455.3C444.0,454.7 444.5,454.2 444.9,453.7C445.3,453.2 445.7,452.6 446.1,452.1C446.5,451.5 446.9,451.0 447.3,450.4C447.7,449.8 448.1,449.3 448.5,448.7C448.8,448.1 449.2,447.5 449.6,446.9C449.9,446.3 450.3,445.8 450.6,445.2C450.9,444.6 451.3,444.0 451.6,443.4C451.9,442.7 452.2,442.1 452.5,441.5C452.8,440.9 453.1,440.3 453.3,439.7C453.6,439.1 453.9,438.5 454.1,437.9C454.4,437.3 454.6,436.6 454.9,436.0C455.1,435.4 455.4,434.8 455.6,434.2C455.9,433.6 456.1,433.0 456.4,432.5C456.7,431.9 457.0,431.3 457.4,430.8C457.7,430.2 458.1,429.7 458.4,429.2C458.8,428.6 459.2,428.1 459.6,427.6C460.0,427.1 460.5,426.6 460.9,426.1C461.3,425.6 461.8,425.1 462.3,424.6C462.7,424.2 463.2,423.7 463.7,423.2C464.2,422.7 464.6,422.3 465.1,421.8C465.6,421.3 466.1,420.9 466.6,420.4C467.1,419.9 467.6,419.5 468.1,419.0C468.6,418.5 469.1,418.0 469.5,417.6C470.0,417.1 470.5,416.6 471.0,416.1C471.4,415.6 471.9,415.1 472.3,414.6C472.7,414.1 473.2,413.6 473.6,413.1C474.0,412.6 474.4,412.1 474.8,411.5C475.2,411.0 475.5,410.4 475.9,409.9C476.2,409.3 476.6,408.8 476.9,408.2C477.3,407.7 477.6,407.1 477.9,406.5C478.2,405.9 478.5,405.3 478.8,404.8C479.1,404.2 479.3,403.6 479.6,403.0C479.9,402.4 480.1,401.8 480.4,401.1C480.6,400.5 480.9,399.9 481.1,399.3C481.3,398.7 481.6,398.1 481.8,397.4C482.0,396.8 482.2,396.2 482.4,395.5C482.6,394.9 482.8,394.3 483.0,393.6C483.2,393.0 483.4,392.4 483.6,391.7C483.8,391.1 484.0,390.4 484.2,389.8C484.3,389.2 484.5,388.5 484.7,387.9C484.9,387.2 485.0,386.6 485.2,385.9C485.4,385.3 485.5,384.6 485.7,384.0C485.9,383.3 486.0,382.7 486.2,382.0C486.4,381.4 486.5,380.7 486.7,380.1C486.8,379.4 487.0,378.8 487.2,378.2C487.3,377.5 487.5,376.9 487.6,376.2C487.8,375.6 487.9,374.9 488.1,374.3C488.2,373.6 488.4,373.0 488.5,372.3C488.7,371.7 488.8,371.0 488.9,370.4C489.1,369.8 489.2,369.1 489.4,368.5C489.5,367.8 489.6,367.2 489.8,366.5C489.9,365.9 490.1,365.3 490.2,364.6C490.3,364.0 490.5,363.3 490.6,362.7C490.8,362.1 490.9,361.4 491.1,360.8C491.2,360.1 491.4,359.5 491.6,358.9C491.7,358.2 491.9,357.6 492.1,356.9C492.3,356.3 492.5,355.7 492.7,355.0C492.9,354.4 493.1,353.7 493.3,353.1C493.5,352.4 493.8,351.8 494.0,351.1C494.3,350.5 494.6,349.8 494.8,349.2C495.1,348.5 495.4,347.9 495.8,347.2C496.1,346.5 496.4,345.9 496.8,345.2C497.2,344.5 497.5,343.9 497.9,343.3C498.3,342.7 498.8,342.1 499.2,341.7C499.6,341.3 500.1,341.1 500.5,341.0C501.0,340.9 501.4,341.1 501.9,341.4C502.3,341.7 502.8,342.1 503.2,342.7C503.6,343.2 504.0,343.8 504.4,344.5C504.7,345.2 505.1,345.9 505.4,346.6C505.7,347.3 505.9,348.0 506.2,348.7C506.4,349.4 506.6,350.1 506.8,350.8C507.0,351.5 507.1,352.2 507.3,352.9C507.4,353.6 507.6,354.3 507.7,355.0C507.8,355.6 508.0,356.3 508.1,357.0C508.2,357.7 508.4,358.3 508.5,359.0C508.6,359.6 508.7,360.3 508.9,360.9C509.0,361.5 509.1,362.2 509.2,362.8C509.3,363.4 509.4,364.1 509.5,364.7C509.7,365.3 509.8,366.0 509.9,366.6C510.0,367.2 510.1,367.9 510.2,368.5C510.3,369.1 510.4,369.8 510.5,370.4C510.6,371.1 510.7,371.7 510.8,372.3C510.9,373.0 511.0,373.6 511.1,374.3C511.2,374.9 511.3,375.6 511.4,376.2C511.5,376.9 511.6,377.5 511.7,378.2C511.8,378.8 511.9,379.5 512.0,380.1C512.1,380.8 512.2,381.4 512.3,382.1C512.3,382.7 512.4,383.4 512.5,384.0C512.6,384.7 512.7,385.4 512.8,386.0C512.9,386.7 513.0,387.3 513.1,388.0C513.2,388.7 513.2,389.3 513.3,390.0C513.4,390.6 513.5,391.3 513.6,392.0C513.7,392.6 513.8,393.3 513.9,393.9C513.9,394.6 514.0,395.3 514.1,395.9C514.2,396.6 514.3,397.3 514.4,397.9C514.5,398.6 514.6,399.3 514.7,399.9C514.7,400.6 514.8,401.3 514.9,401.9C515.0,402.6 515.1,403.3 515.2,403.9C515.3,404.6 515.4,405.3 515.5,405.9C515.6,406.6 515.6,407.3 515.7,407.9C515.8,408.6 515.9,409.3 516.0,409.9C516.1,410.6 516.2,411.2 516.3,411.9C516.4,412.6 516.5,413.2 516.6,413.9C516.7,414.6 516.8,415.2 516.9,415.9C517.0,416.6 517.1,417.2 517.2,417.9C517.3,418.5 517.4,419.2 517.5,419.9C517.6,420.5 517.7,421.2 517.8,421.8C518.0,422.5 518.1,423.1 518.2,423.8C518.3,424.5 518.4,425.1 518.5,425.8C518.6,426.4 518.8,427.1 518.9,427.7C519.0,428.4 519.1,429.0 519.2,429.7C519.4,430.3 519.5,431.0 519.6,431.6C519.7,432.3 519.9,432.9 520.0,433.5C520.1,434.2 520.3,434.8 520.4,435.5C520.5,436.1 520.7,436.8 520.8,437.4C521.0,438.0 521.1,438.7 521.2,439.3C521.4,440.0 521.5,440.6 521.7,441.2C521.9,441.9 522.0,442.5 522.2,443.2C522.3,443.8 522.5,444.4 522.7,445.1C522.8,445.7 523.0,446.4 523.2,447.0C523.4,447.6 523.5,448.3 523.7,448.9C523.9,449.5 524.1,450.2 524.3,450.8C524.5,451.5 524.7,452.1 524.9,452.7C525.1,453.4 525.3,454.0 525.5,454.7C525.7,455.3 525.9,455.9 526.1,456.6C526.4,457.2 526.6,457.9 526.8,458.5C527.1,459.1 527.3,459.8 527.5,460.4C527.8,461.1 528.0,461.7 528.3,462.4C528.5,463.0 528.8,463.7 529.1,464.3C529.3,465.0 529.6,465.6 529.9,466.2C530.2,466.8 530.5,467.5 530.8,468.1C531.1,468.7 531.5,469.2 531.8,469.8C532.2,470.4 532.5,470.9 532.9,471.4C533.3,471.9 533.8,472.4 534.2,472.8C534.7,473.3 535.1,473.7 535.6,474.1C536.1,474.4 536.7,474.8 537.2,475.0C537.8,475.3 538.4,475.6 539.0,475.8C539.6,476.0 540.3,476.2 540.9,476.3C541.6,476.5 542.2,476.6 542.9,476.7C543.6,476.8 544.3,476.9 545.0,477.0C545.6,477.0 546.3,477.1 547.0,477.1C547.7,477.2 548.3,477.2 549.0,477.2C549.7,477.3 550.4,477.3 551.0,477.3C551.7,477.3 552.4,477.3 553.0,477.3C553.7,477.3 554.4,477.3 555.0,477.3C555.7,477.3 556.4,477.2 557.0,477.2C557.7,477.2 558.4,477.2 559.0,477.1C559.7,477.1 560.4,477.1 561.0,477.1C561.7,477.1 562.4,477.0 563.0,477.0C563.7,477.0 564.4,477.0 565.0,477.0C565.7,477.0 566.4,477.0 567.0,477.0C567.7,477.0 568.4,477.0 569.0,477.0C569.7,477.0 570.3,477.0 571.0,477.0C571.7,477.1 572.3,477.1 573.0,477.1C573.7,477.1 574.3,477.1 575.0,477.2C575.7,477.2 576.3,477.2 577.0,477.2C577.7,477.2 578.3,477.3 579.0,477.3C579.7,477.3 580.3,477.3 581.0,477.3C581.7,477.3 582.3,477.3 583.0,477.3C583.7,477.3 584.3,477.3 585.0,477.3C585.7,477.3 586.3,477.2 587.0,477.2C587.7,477.2 588.3,477.2 589.0,477.2C589.7,477.2 590.3,477.2 591.0,477.2C591.7,477.2 592.3,477.2 593.0,477.2C593.7,477.2 594.3,477.2 595.0,477.2C595.7,477.2 596.3,477.2 597.0,477.2C597.7,477.3 598.3,477.3 599.0,477.3" stroke="#1A6FDF" stroke-width="1.4" fill="none"/><path d="M346.3,477.3C346.9,477.3 347.6,477.2 348.2,477.2C348.9,477.2 349.5,477.1 350.1,477.1C350.8,477.1 351.4,477.1 352.1,477.0C352.7,477.0 353.4,477.0 354.0,477.0C354.7,477.0 355.4,477.0 356.0,476.9C356.7,476.9 357.3,476.9 358.0,476.9C358.7,476.9 359.3,476.9 360.0,476.9C360.6,476.9 361.3,476.9 362.0,476.9C362.7,476.9 363.3,476.9 364.0,476.9C364.7,476.9 365.3,476.9 366.0,476.9C366.7,476.9 367.4,476.9 368.0,476.9C368.7,476.9 369.4,476.9 370.1,476.9C370.7,476.9 371.4,476.9 372.1,476.9C372.8,476.9 373.5,476.9 374.1,476.9C374.8,476.9 375.5,476.9 376.2,476.9C376.9,476.9 377.5,476.9 378.2,476.9C378.9,476.9 379.6,476.9 380.3,476.9C380.9,476.9 381.6,476.9 382.3,476.8C383.0,476.8 383.7,476.8 384.4,476.8C385.0,476.8 385.7,476.8 386.4,476.7C387.1,476.7 387.8,476.7 388.4,476.7C389.1,476.6 389.8,476.6 390.5,476.6C391.1,476.5 391.8,476.5 392.5,476.5C393.2,476.4 393.8,476.4 394.5,476.3C395.2,476.3 395.9,476.2 396.5,476.2C397.2,476.1 397.9,476.0 398.5,476.0C399.2,475.9 399.9,475.8 400.5,475.7C401.2,475.7 401.9,475.6 402.5,475.5C403.2,475.4 403.8,475.3 404.5,475.2C405.1,475.1 405.8,475.0 406.5,474.9C407.1,474.8 407.8,474.7 408.4,474.6C409.1,474.4 409.7,474.3 410.3,474.2C411.0,474.0 411.6,473.9 412.3,473.7C412.9,473.6 413.5,473.4 414.2,473.3C414.8,473.1 415.4,472.9 416.1,472.8C416.7,472.6 417.3,472.4 417.9,472.2C418.5,472.0 419.2,471.8 419.8,471.6C420.4,471.4 421.0,471.2 421.6,470.9C422.2,470.7 422.8,470.5 423.4,470.2C424.0,470.0 424.6,469.7 425.2,469.5C425.8,469.2 426.4,468.9 427.0,468.6C427.5,468.4 428.1,468.1 428.7,467.8C429.3,467.5 429.8,467.1 430.4,466.8C431.0,466.5 431.5,466.2 432.1,465.8C432.6,465.5 433.2,465.1 433.7,464.8C434.3,464.4 434.8,464.0 435.4,463.6C435.9,463.3 436.4,462.9 437.0,462.5C437.5,462.1 438.0,461.6 438.5,461.2C439.1,460.8 439.6,460.3 440.1,459.9C440.6,459.5 441.1,459.0 441.6,458.5C442.1,458.1 442.6,457.6 443.1,457.1C443.6,456.7 444.1,456.2 444.6,455.7C445.1,455.2 445.6,454.8 446.1,454.3C446.6,453.8 447.1,453.3 447.5,452.8C448.0,452.3 448.5,451.8 449.0,451.3C449.5,450.9 450.0,450.4 450.4,449.9C450.9,449.4 451.4,448.9 451.9,448.4C452.4,447.9 452.8,447.5 453.3,447.0C453.8,446.5 454.3,446.0 454.8,445.6C455.2,445.1 455.7,444.6 456.2,444.2C456.7,443.7 457.2,443.2 457.6,442.8C458.1,442.3 458.6,441.9 459.1,441.4C459.6,441.0 460.0,440.5 460.5,440.1C461.0,439.6 461.5,439.2 461.9,438.7C462.4,438.3 462.9,437.8 463.3,437.4C463.8,436.9 464.3,436.5 464.8,436.0C465.2,435.6 465.7,435.1 466.1,434.6C466.6,434.2 467.1,433.7 467.5,433.2C468.0,432.8 468.4,432.3 468.9,431.8C469.3,431.4 469.8,430.9 470.2,430.4C470.6,429.9 471.1,429.4 471.5,428.9C471.9,428.4 472.4,427.9 472.8,427.4C473.2,427.0 473.7,426.5 474.1,425.9C474.5,425.4 474.9,424.9 475.4,424.4C475.8,423.9 476.2,423.4 476.6,422.9C477.0,422.4 477.4,421.8 477.8,421.3C478.2,420.8 478.6,420.3 479.0,419.7C479.4,419.2 479.8,418.7 480.2,418.1C480.6,417.6 481.0,417.1 481.4,416.5C481.8,416.0 482.2,415.4 482.6,414.9C483.0,414.3 483.4,413.8 483.7,413.2C484.1,412.7 484.5,412.1 484.9,411.6C485.2,411.0 485.6,410.4 486.0,409.9C486.4,409.3 486.7,408.7 487.1,408.2C487.5,407.6 487.8,407.0 488.2,406.4C488.5,405.9 488.9,405.3 489.2,404.7C489.6,404.1 490.0,403.6 490.3,403.0C490.7,402.4 491.0,401.8 491.4,401.3C491.8,400.7 492.2,400.2 492.7,399.7C493.1,399.2 493.7,398.8 494.2,398.4C494.8,398.0 495.4,397.7 496.0,397.5C496.7,397.3 497.3,397.2 498.0,397.2C498.6,397.1 499.2,397.3 499.8,397.5C500.4,397.7 501.0,398.0 501.6,398.4C502.1,398.8 502.6,399.2 503.1,399.6C503.6,400.1 504.0,400.6 504.4,401.1C504.9,401.6 505.2,402.1 505.6,402.7C505.9,403.3 506.2,403.9 506.5,404.5C506.8,405.1 507.1,405.7 507.3,406.3C507.5,407.0 507.8,407.6 508.0,408.3C508.2,409.0 508.4,409.6 508.5,410.3C508.7,411.0 508.9,411.7 509.0,412.4C509.2,413.1 509.3,413.8 509.5,414.5C509.6,415.2 509.8,415.9 509.9,416.6C510.1,417.2 510.2,417.9 510.4,418.6C510.5,419.3 510.7,419.9 510.8,420.6C511.0,421.2 511.1,421.9 511.3,422.5C511.4,423.2 511.6,423.8 511.7,424.5C511.9,425.1 512.0,425.7 512.2,426.4C512.4,427.0 512.5,427.6 512.7,428.2C512.9,428.9 513.0,429.5 513.2,430.1C513.4,430.7 513.5,431.3 513.7,432.0C513.9,432.6 514.0,433.2 514.2,433.8C514.4,434.4 514.6,435.0 514.7,435.7C514.9,436.3 515.1,436.9 515.3,437.5C515.5,438.1 515.7,438.7 515.8,439.4C516.0,440.0 516.2,440.6 516.4,441.2C516.6,441.9 516.8,442.5 517.0,443.1C517.2,443.8 517.4,444.4 517.6,445.0C517.8,445.7 518.0,446.3 518.2,447.0C518.4,447.6 518.6,448.3 518.8,449.0C519.0,449.6 519.2,450.3 519.4,451.0C519.6,451.6 519.8,452.3 520.0,453.0C520.3,453.7 520.5,454.3 520.7,455.0C520.9,455.7 521.2,456.4 521.4,457.0C521.6,457.7 521.9,458.4 522.1,459.0C522.4,459.7 522.7,460.3 522.9,461.0C523.2,461.6 523.5,462.3 523.8,462.9C524.1,463.5 524.4,464.1 524.7,464.7C525.0,465.3 525.3,465.9 525.7,466.5C526.0,467.1 526.4,467.6 526.7,468.1C527.1,468.7 527.5,469.2 527.9,469.7C528.2,470.2 528.7,470.7 529.1,471.1C529.5,471.6 530.0,472.0 530.4,472.4C530.9,472.8 531.3,473.2 531.8,473.5C532.3,473.9 532.9,474.2 533.4,474.5C533.9,474.8 534.5,475.1 535.0,475.3C535.6,475.5 536.2,475.7 536.8,475.9C537.4,476.1 538.0,476.3 538.7,476.4C539.3,476.5 539.9,476.7 540.6,476.8C541.3,476.9 541.9,476.9 542.6,477.0C543.3,477.1 543.9,477.1 544.6,477.2C545.3,477.2 546.0,477.2 546.7,477.2C547.4,477.3 548.1,477.3 548.8,477.3C549.5,477.3 550.2,477.3 550.9,477.3C551.6,477.3 552.3,477.3 553.0,477.2C553.7,477.2 554.4,477.2 555.1,477.2C555.8,477.2 556.5,477.2 557.2,477.2C557.8,477.2 558.5,477.2 559.2,477.2C559.9,477.2 560.5,477.2 561.2,477.2C561.9,477.2 562.6,477.2 563.2,477.2C563.9,477.2 564.6,477.2 565.2,477.2C565.9,477.1 566.5,477.1 567.2,477.1C567.9,477.1 568.5,477.1 569.2,477.1C569.8,477.1 570.5,477.1 571.1,477.1C571.8,477.1 572.4,477.1 573.1,477.1C573.8,477.1 574.4,477.1 575.1,477.1C575.7,477.2 576.4,477.2 577.0,477.2C577.7,477.2 578.3,477.2 579.0,477.2C579.6,477.2 580.3,477.2 580.9,477.2C581.6,477.2 582.2,477.2 582.9,477.2C583.5,477.2 584.2,477.2 584.9,477.2C585.5,477.2 586.2,477.2 586.8,477.2C587.5,477.2 588.2,477.2 588.8,477.2C589.5,477.2 590.2,477.2 590.8,477.2C591.5,477.2 592.2,477.2 592.8,477.3C593.5,477.3 594.2,477.3 594.9,477.3C595.6,477.3 596.2,477.3 596.9,477.3C597.6,477.3 598.3,477.3 599.0,477.3" stroke="#37AD6B" stroke-width="1.4" fill="none"/><path d="M346.3,477.3C347.0,477.3 347.6,477.2 348.3,477.2C348.9,477.2 349.6,477.2 350.2,477.2C350.9,477.1 351.5,477.1 352.2,477.1C352.8,477.1 353.5,477.1 354.1,477.1C354.8,477.0 355.5,477.0 356.1,477.0C356.8,477.0 357.4,477.0 358.1,477.0C358.8,477.0 359.4,477.0 360.1,477.0C360.7,477.0 361.4,477.0 362.1,477.0C362.7,476.9 363.4,476.9 364.1,476.9C364.7,476.9 365.4,476.9 366.1,476.9C366.7,476.9 367.4,476.9 368.1,476.9C368.7,476.9 369.4,476.9 370.1,476.9C370.7,476.9 371.4,476.9 372.1,476.8C372.7,476.8 373.4,476.8 374.1,476.8C374.7,476.8 375.4,476.8 376.1,476.8C376.8,476.8 377.4,476.7 378.1,476.7C378.8,476.7 379.4,476.7 380.1,476.7C380.8,476.7 381.4,476.6 382.1,476.6C382.8,476.6 383.4,476.6 384.1,476.5C384.8,476.5 385.4,476.5 386.1,476.4C386.8,476.4 387.4,476.4 388.1,476.3C388.8,476.3 389.4,476.3 390.1,476.2C390.8,476.2 391.4,476.1 392.1,476.1C392.8,476.0 393.4,476.0 394.1,475.9C394.7,475.8 395.4,475.8 396.1,475.7C396.7,475.7 397.4,475.6 398.0,475.5C398.7,475.4 399.3,475.4 400.0,475.3C400.7,475.2 401.3,475.1 402.0,475.0C402.6,474.9 403.3,474.9 403.9,474.8C404.6,474.7 405.2,474.6 405.9,474.4C406.5,474.3 407.2,474.2 407.8,474.1C408.5,474.0 409.1,473.9 409.7,473.7C410.4,473.6 411.0,473.5 411.7,473.3C412.3,473.2 412.9,473.1 413.6,472.9C414.2,472.8 414.9,472.6 415.5,472.4C416.1,472.3 416.7,472.1 417.4,471.9C418.0,471.7 418.6,471.6 419.3,471.4C419.9,471.2 420.5,471.0 421.1,470.8C421.7,470.6 422.4,470.4 423.0,470.2C423.6,470.0 424.2,469.7 424.8,469.5C425.4,469.3 426.0,469.0 426.7,468.8C427.3,468.5 427.9,468.3 428.5,468.0C429.1,467.8 429.7,467.5 430.3,467.2C430.9,466.9 431.5,466.7 432.1,466.4C432.6,466.1 433.2,465.8 433.8,465.5C434.4,465.2 435.0,464.9 435.6,464.5C436.2,464.2 436.7,463.9 437.3,463.6C437.9,463.2 438.5,462.9 439.1,462.6C439.6,462.2 440.2,461.9 440.8,461.5C441.3,461.2 441.9,460.8 442.5,460.5C443.1,460.1 443.6,459.8 444.2,459.4C444.7,459.0 445.3,458.7 445.9,458.3C446.4,457.9 447.0,457.5 447.5,457.2C448.1,456.8 448.6,456.4 449.2,456.0C449.8,455.6 450.3,455.3 450.9,454.9C451.4,454.5 452.0,454.1 452.5,453.7C453.1,453.3 453.6,452.9 454.1,452.6C454.7,452.2 455.2,451.8 455.8,451.4C456.3,451.0 456.9,450.6 457.4,450.2C457.9,449.8 458.5,449.5 459.0,449.1C459.5,448.7 460.1,448.3 460.6,447.9C461.2,447.5 461.7,447.2 462.2,446.8C462.8,446.4 463.3,446.0 463.8,445.6C464.3,445.3 464.9,444.9 465.4,444.5C465.9,444.1 466.4,443.7 467.0,443.4C467.5,443.0 468.0,442.6 468.5,442.2C469.0,441.8 469.6,441.4 470.1,441.0C470.6,440.6 471.1,440.2 471.6,439.8C472.1,439.4 472.6,439.0 473.1,438.6C473.6,438.2 474.1,437.8 474.6,437.4C475.1,436.9 475.6,436.5 476.1,436.1C476.5,435.6 477.0,435.2 477.5,434.7C478.0,434.3 478.5,433.8 478.9,433.4C479.4,432.9 479.9,432.4 480.4,432.0C480.8,431.5 481.3,431.0 481.8,430.6C482.3,430.1 482.8,429.7 483.4,429.2C483.9,428.8 484.4,428.3 485.0,427.9C485.5,427.5 486.1,427.0 486.7,426.6C487.3,426.2 487.9,425.9 488.6,425.5C489.2,425.2 489.8,424.9 490.4,424.6C491.1,424.3 491.7,424.1 492.4,424.0C493.0,423.8 493.6,423.7 494.2,423.7C494.8,423.7 495.4,423.7 496.0,423.8C496.6,424.0 497.2,424.2 497.8,424.4C498.3,424.7 498.8,425.0 499.4,425.4C499.9,425.7 500.4,426.2 500.9,426.6C501.4,427.1 501.9,427.6 502.3,428.1C502.8,428.6 503.2,429.2 503.6,429.8C504.1,430.4 504.5,431.0 504.9,431.6C505.3,432.2 505.6,432.8 506.0,433.4C506.3,434.0 506.7,434.6 507.0,435.2C507.3,435.8 507.6,436.4 507.9,437.0C508.2,437.6 508.5,438.2 508.8,438.8C509.0,439.4 509.3,440.0 509.5,440.6C509.8,441.2 510.0,441.8 510.3,442.4C510.5,443.0 510.7,443.5 510.9,444.1C511.2,444.7 511.4,445.3 511.6,445.9C511.8,446.5 512.0,447.1 512.2,447.8C512.4,448.4 512.6,449.0 512.8,449.6C513.0,450.2 513.2,450.8 513.5,451.4C513.7,452.0 513.9,452.7 514.1,453.3C514.3,453.9 514.5,454.6 514.8,455.2C515.0,455.9 515.2,456.5 515.5,457.1C515.7,457.8 516.0,458.5 516.3,459.1C516.5,459.8 516.8,460.4 517.1,461.1C517.4,461.7 517.7,462.3 518.0,463.0C518.3,463.6 518.6,464.2 518.9,464.9C519.3,465.5 519.6,466.1 520.0,466.7C520.3,467.2 520.7,467.8 521.1,468.4C521.4,468.9 521.8,469.5 522.3,470.0C522.7,470.5 523.1,471.0 523.5,471.4C524.0,471.9 524.4,472.3 524.9,472.8C525.4,473.2 525.9,473.5 526.4,473.9C526.9,474.2 527.4,474.5 528.0,474.8C528.5,475.1 529.1,475.4 529.7,475.6C530.2,475.8 530.8,476.0 531.4,476.2C532.0,476.3 532.7,476.5 533.3,476.6C533.9,476.7 534.6,476.8 535.2,476.9C535.8,477.0 536.5,477.1 537.2,477.1C537.8,477.2 538.5,477.2 539.2,477.2C539.8,477.3 540.5,477.3 541.2,477.3C541.9,477.3 542.5,477.3 543.2,477.3C543.9,477.3 544.6,477.3 545.3,477.3C545.9,477.3 546.6,477.3 547.3,477.2C548.0,477.2 548.6,477.2 549.3,477.2C550.0,477.2 550.7,477.2 551.3,477.2C552.0,477.2 552.7,477.2 553.3,477.2C554.0,477.2 554.6,477.2 555.3,477.1C556.0,477.1 556.6,477.1 557.3,477.1C558.0,477.1 558.6,477.1 559.3,477.1C559.9,477.1 560.6,477.1 561.3,477.1C561.9,477.1 562.6,477.1 563.2,477.1C563.9,477.1 564.6,477.1 565.2,477.1C565.9,477.1 566.5,477.1 567.2,477.1C567.9,477.1 568.5,477.1 569.2,477.1C569.8,477.1 570.5,477.1 571.2,477.1C571.8,477.1 572.5,477.1 573.1,477.1C573.8,477.1 574.5,477.1 575.1,477.1C575.8,477.1 576.5,477.2 577.1,477.2C577.8,477.2 578.4,477.2 579.1,477.2C579.8,477.2 580.4,477.2 581.1,477.2C581.8,477.2 582.4,477.2 583.1,477.2C583.8,477.2 584.4,477.3 585.1,477.3C585.7,477.3 586.4,477.3 587.1,477.3C587.7,477.3 588.4,477.3 589.1,477.3C589.7,477.3 590.4,477.3 591.1,477.3C591.7,477.3 592.4,477.3 593.0,477.3C593.7,477.3 594.4,477.3 595.0,477.3C595.7,477.3 596.4,477.3 597.0,477.3C597.7,477.3 598.3,477.3 599.0,477.3" stroke="#B177DE" stroke-width="1.4" fill="none"/><path d="M346.3,477.3C347.0,477.3 347.6,477.2 348.3,477.2C348.9,477.2 349.6,477.2 350.2,477.1C350.9,477.1 351.6,477.1 352.2,477.1C352.9,477.1 353.5,477.0 354.2,477.0C354.9,477.0 355.5,477.0 356.2,477.0C356.8,477.0 357.5,477.0 358.2,477.0C358.8,476.9 359.5,476.9 360.2,476.9C360.8,476.9 361.5,476.9 362.1,476.9C362.8,476.9 363.5,476.9 364.1,476.9C364.8,476.9 365.5,476.9 366.1,476.9C366.8,476.9 367.5,476.9 368.1,476.8C368.8,476.8 369.5,476.8 370.1,476.8C370.8,476.8 371.5,476.8 372.1,476.8C372.8,476.8 373.5,476.8 374.2,476.8C374.8,476.8 375.5,476.8 376.2,476.7C376.8,476.7 377.5,476.7 378.2,476.7C378.8,476.7 379.5,476.7 380.2,476.7C380.8,476.6 381.5,476.6 382.2,476.6C382.8,476.6 383.5,476.6 384.2,476.5C384.8,476.5 385.5,476.5 386.2,476.4C386.8,476.4 387.5,476.4 388.2,476.4C388.8,476.3 389.5,476.3 390.1,476.2C390.8,476.2 391.5,476.2 392.1,476.1C392.8,476.1 393.5,476.0 394.1,476.0C394.8,475.9 395.4,475.8 396.1,475.8C396.8,475.7 397.4,475.7 398.1,475.6C398.7,475.5 399.4,475.5 400.1,475.4C400.7,475.3 401.4,475.2 402.0,475.1C402.7,475.1 403.3,475.0 404.0,474.9C404.6,474.8 405.3,474.7 405.9,474.6C406.6,474.5 407.2,474.4 407.9,474.2C408.5,474.1 409.2,474.0 409.8,473.9C410.5,473.8 411.1,473.6 411.8,473.5C412.4,473.4 413.0,473.2 413.7,473.1C414.3,472.9 415.0,472.8 415.6,472.6C416.2,472.5 416.9,472.3 417.5,472.1C418.1,472.0 418.8,471.8 419.4,471.6C420.0,471.4 420.7,471.2 421.3,471.0C421.9,470.8 422.6,470.6 423.2,470.4C423.8,470.2 424.4,470.0 425.0,469.8C425.7,469.5 426.3,469.3 426.9,469.1C427.5,468.8 428.1,468.6 428.8,468.4C429.4,468.1 430.0,467.9 430.6,467.6C431.2,467.4 431.8,467.1 432.4,466.8C433.0,466.6 433.7,466.3 434.3,466.0C434.9,465.7 435.5,465.5 436.1,465.2C436.7,464.9 437.3,464.6 437.9,464.3C438.5,464.0 439.1,463.8 439.7,463.5C440.3,463.2 440.9,462.9 441.5,462.6C442.1,462.3 442.7,462.0 443.2,461.6C443.8,461.3 444.4,461.0 445.0,460.7C445.6,460.4 446.2,460.1 446.8,459.8C447.4,459.4 448.0,459.1 448.5,458.8C449.1,458.5 449.7,458.2 450.3,457.8C450.9,457.5 451.5,457.2 452.0,456.9C452.6,456.5 453.2,456.2 453.8,455.9C454.3,455.5 454.9,455.2 455.5,454.9C456.1,454.6 456.6,454.2 457.2,453.9C457.8,453.6 458.4,453.2 458.9,452.9C459.5,452.6 460.1,452.2 460.7,451.9C461.2,451.6 461.8,451.3 462.4,450.9C463.0,450.6 463.5,450.3 464.1,450.0C464.7,449.7 465.3,449.3 465.8,449.0C466.4,448.7 467.0,448.4 467.6,448.1C468.2,447.8 468.8,447.5 469.3,447.1C469.9,446.8 470.5,446.5 471.1,446.2C471.7,445.9 472.3,445.7 472.9,445.4C473.5,445.1 474.1,444.8 474.7,444.5C475.3,444.2 475.9,444.0 476.5,443.7C477.1,443.4 477.7,443.1 478.4,442.9C479.0,442.6 479.6,442.4 480.2,442.1C480.8,441.9 481.5,441.6 482.1,441.4C482.7,441.2 483.4,440.9 484.0,440.7C484.7,440.5 485.3,440.3 486.0,440.1C486.6,439.9 487.3,439.7 487.9,439.6C488.6,439.5 489.2,439.4 489.9,439.3C490.5,439.3 491.2,439.2 491.8,439.3C492.5,439.3 493.1,439.4 493.7,439.6C494.4,439.7 495.0,439.9 495.6,440.1C496.2,440.3 496.8,440.6 497.4,440.9C498.0,441.2 498.6,441.5 499.1,441.9C499.7,442.2 500.2,442.6 500.7,443.0C501.2,443.4 501.7,443.9 502.2,444.3C502.7,444.8 503.2,445.2 503.6,445.7C504.1,446.2 504.5,446.7 505.0,447.3C505.4,447.8 505.8,448.3 506.3,448.9C506.7,449.4 507.1,450.0 507.5,450.5C507.9,451.1 508.3,451.7 508.7,452.2C509.1,452.8 509.4,453.4 509.8,454.0C510.2,454.5 510.6,455.1 511.0,455.7C511.3,456.3 511.7,456.8 512.1,457.4C512.5,457.9 512.8,458.5 513.2,459.1C513.6,459.6 514.0,460.2 514.3,460.7C514.7,461.3 515.1,461.8 515.5,462.4C515.9,462.9 516.3,463.5 516.6,464.0C517.0,464.6 517.4,465.2 517.8,465.7C518.2,466.3 518.6,466.8 519.0,467.4C519.4,467.9 519.8,468.5 520.2,469.0C520.7,469.5 521.1,470.0 521.6,470.5C522.0,471.0 522.5,471.5 522.9,471.9C523.4,472.3 523.9,472.7 524.4,473.1C525.0,473.4 525.5,473.7 526.1,474.0C526.6,474.3 527.2,474.5 527.8,474.7C528.4,474.9 529.0,475.1 529.7,475.2C530.3,475.4 530.9,475.5 531.5,475.7C532.2,475.8 532.8,475.9 533.4,476.0C534.1,476.1 534.7,476.2 535.4,476.3C536.0,476.4 536.6,476.5 537.3,476.6C537.9,476.7 538.6,476.7 539.2,476.8C539.9,476.9 540.5,476.9 541.2,477.0C541.8,477.1 542.5,477.1 543.1,477.1C543.8,477.2 544.5,477.2 545.1,477.3C545.8,477.3 546.4,477.3 547.1,477.4C547.7,477.4 548.4,477.4 549.1,477.4C549.7,477.5 550.4,477.5 551.1,477.5C551.7,477.5 552.4,477.5 553.0,477.5C553.7,477.5 554.4,477.5 555.0,477.5C555.7,477.5 556.4,477.5 557.0,477.5C557.7,477.5 558.4,477.5 559.1,477.5C559.7,477.4 560.4,477.4 561.1,477.4C561.7,477.4 562.4,477.4 563.1,477.4C563.7,477.3 564.4,477.3 565.1,477.3C565.8,477.3 566.4,477.2 567.1,477.2C567.8,477.2 568.5,477.2 569.1,477.2C569.8,477.1 570.5,477.1 571.1,477.1C571.8,477.1 572.5,477.0 573.2,477.0C573.8,477.0 574.5,477.0 575.2,476.9C575.8,476.9 576.5,476.9 577.2,476.9C577.8,476.9 578.5,476.8 579.2,476.8C579.9,476.8 580.5,476.8 581.2,476.8C581.9,476.8 582.5,476.8 583.2,476.8C583.9,476.8 584.5,476.8 585.2,476.8C585.9,476.8 586.5,476.8 587.2,476.8C587.8,476.8 588.5,476.8 589.2,476.8C589.8,476.8 590.5,476.8 591.2,476.8C591.8,476.9 592.5,476.9 593.1,476.9C593.8,476.9 594.4,477.0 595.1,477.0C595.7,477.1 596.4,477.1 597.0,477.1C597.7,477.2 598.3,477.3 599.0,477.3" stroke="#CC9900" stroke-width="1.4" fill="none"/><path d="M346.3,477.3C347.0,477.3 347.6,477.2 348.3,477.2C348.9,477.1 349.6,477.1 350.2,477.0C350.9,477.0 351.5,477.0 352.2,476.9C352.9,476.9 353.5,476.9 354.2,476.8C354.8,476.8 355.5,476.7 356.1,476.7C356.8,476.7 357.5,476.6 358.1,476.6C358.8,476.6 359.5,476.5 360.1,476.5C360.8,476.5 361.4,476.4 362.1,476.4C362.8,476.4 363.4,476.3 364.1,476.3C364.8,476.3 365.4,476.2 366.1,476.2C366.8,476.2 367.4,476.1 368.1,476.1C368.7,476.1 369.4,476.0 370.1,476.0C370.7,476.0 371.4,475.9 372.1,475.9C372.7,475.9 373.4,475.8 374.1,475.8C374.7,475.8 375.4,475.7 376.1,475.7C376.7,475.6 377.4,475.6 378.1,475.6C378.7,475.5 379.4,475.5 380.1,475.4C380.7,475.4 381.4,475.4 382.1,475.3C382.7,475.3 383.4,475.2 384.1,475.2C384.7,475.1 385.4,475.1 386.1,475.0C386.7,475.0 387.4,474.9 388.1,474.9C388.7,474.8 389.4,474.8 390.1,474.7C390.7,474.7 391.4,474.6 392.0,474.5C392.7,474.5 393.4,474.4 394.0,474.3C394.7,474.3 395.4,474.2 396.0,474.1C396.7,474.1 397.3,474.0 398.0,473.9C398.7,473.8 399.3,473.8 400.0,473.7C400.6,473.6 401.3,473.5 402.0,473.4C402.6,473.3 403.3,473.3 403.9,473.2C404.6,473.1 405.2,473.0 405.9,472.9C406.5,472.8 407.2,472.7 407.8,472.6C408.5,472.5 409.2,472.4 409.8,472.3C410.5,472.1 411.1,472.0 411.7,471.9C412.4,471.8 413.0,471.7 413.7,471.6C414.3,471.4 415.0,471.3 415.6,471.2C416.3,471.0 416.9,470.9 417.6,470.8C418.2,470.6 418.8,470.5 419.5,470.3C420.1,470.2 420.8,470.0 421.4,469.9C422.0,469.7 422.7,469.6 423.3,469.4C423.9,469.2 424.6,469.1 425.2,468.9C425.8,468.7 426.5,468.6 427.1,468.4C427.7,468.2 428.4,468.0 429.0,467.9C429.6,467.7 430.3,467.5 430.9,467.3C431.5,467.1 432.1,466.9 432.8,466.7C433.4,466.5 434.0,466.3 434.7,466.1C435.3,465.9 435.9,465.7 436.5,465.5C437.2,465.3 437.8,465.0 438.4,464.8C439.0,464.6 439.6,464.4 440.3,464.2C440.9,463.9 441.5,463.7 442.1,463.5C442.8,463.2 443.4,463.0 444.0,462.7C444.6,462.5 445.2,462.3 445.9,462.0C446.5,461.8 447.1,461.5 447.7,461.2C448.3,461.0 449.0,460.7 449.6,460.5C450.2,460.2 450.8,459.9 451.4,459.7C452.0,459.4 452.7,459.1 453.3,458.9C453.9,458.6 454.5,458.3 455.1,458.1C455.8,457.8 456.4,457.5 457.0,457.2C457.6,457.0 458.2,456.7 458.9,456.4C459.5,456.2 460.1,455.9 460.7,455.7C461.4,455.4 462.0,455.1 462.6,454.9C463.2,454.6 463.9,454.4 464.5,454.1C465.1,453.9 465.8,453.7 466.4,453.4C467.0,453.2 467.7,453.0 468.3,452.7C469.0,452.5 469.6,452.3 470.2,452.1C470.9,451.9 471.5,451.7 472.2,451.5C472.8,451.3 473.5,451.1 474.1,451.0C474.8,450.8 475.4,450.6 476.1,450.5C476.7,450.3 477.4,450.2 478.1,450.1C478.7,450.0 479.4,449.8 480.0,449.8C480.7,449.7 481.3,449.6 482.0,449.5C482.7,449.5 483.3,449.4 484.0,449.4C484.6,449.3 485.3,449.3 485.9,449.3C486.5,449.4 487.2,449.4 487.8,449.4C488.5,449.5 489.1,449.5 489.7,449.6C490.4,449.7 491.0,449.8 491.6,450.0C492.2,450.1 492.8,450.3 493.5,450.5C494.1,450.6 494.7,450.8 495.3,451.1C495.9,451.3 496.5,451.5 497.1,451.8C497.7,452.0 498.2,452.3 498.8,452.6C499.4,452.9 500.0,453.2 500.6,453.5C501.1,453.8 501.7,454.1 502.3,454.5C502.8,454.8 503.4,455.2 504.0,455.6C504.5,455.9 505.1,456.3 505.6,456.7C506.2,457.1 506.7,457.5 507.2,457.9C507.8,458.4 508.3,458.8 508.8,459.2C509.4,459.6 509.9,460.1 510.4,460.5C510.9,460.9 511.5,461.4 512.0,461.8C512.5,462.3 513.0,462.7 513.5,463.2C514.1,463.6 514.6,464.1 515.1,464.5C515.6,465.0 516.1,465.4 516.6,465.8C517.2,466.3 517.7,466.7 518.2,467.1C518.7,467.6 519.3,468.0 519.8,468.4C520.3,468.8 520.9,469.2 521.4,469.6C521.9,470.0 522.5,470.4 523.0,470.7C523.5,471.1 524.1,471.4 524.7,471.8C525.2,472.1 525.8,472.4 526.3,472.7C526.9,473.0 527.5,473.3 528.1,473.6C528.6,473.9 529.2,474.1 529.8,474.4C530.4,474.6 531.0,474.8 531.6,475.0C532.2,475.2 532.8,475.4 533.4,475.6C534.1,475.8 534.7,475.9 535.3,476.1C535.9,476.2 536.5,476.4 537.2,476.5C537.8,476.6 538.5,476.7 539.1,476.8C539.7,476.9 540.4,477.0 541.0,477.1C541.7,477.2 542.3,477.3 543.0,477.3C543.6,477.4 544.3,477.4 545.0,477.5C545.6,477.5 546.3,477.6 547.0,477.6C547.6,477.6 548.3,477.6 549.0,477.6C549.6,477.7 550.3,477.7 551.0,477.7C551.6,477.7 552.3,477.7 553.0,477.7C553.7,477.7 554.3,477.7 555.0,477.6C555.7,477.6 556.4,477.6 557.1,477.6C557.7,477.6 558.4,477.5 559.1,477.5C559.8,477.5 560.5,477.5 561.1,477.5C561.8,477.4 562.5,477.4 563.2,477.4C563.8,477.4 564.5,477.3 565.2,477.3C565.9,477.3 566.5,477.3 567.2,477.2C567.9,477.2 568.5,477.2 569.2,477.2C569.9,477.2 570.6,477.1 571.2,477.1C571.9,477.1 572.6,477.1 573.2,477.1C573.9,477.0 574.6,477.0 575.2,477.0C575.9,477.0 576.6,477.0 577.2,477.0C577.9,477.0 578.5,477.0 579.2,477.0C579.9,477.0 580.5,476.9 581.2,476.9C581.9,476.9 582.5,476.9 583.2,476.9C583.8,476.9 584.5,476.9 585.2,476.9C585.8,476.9 586.5,476.9 587.1,476.9C587.8,477.0 588.5,477.0 589.1,477.0C589.8,477.0 590.4,477.0 591.1,477.0C591.8,477.0 592.4,477.0 593.1,477.1C593.7,477.1 594.4,477.1 595.0,477.1C595.7,477.2 596.4,477.2 597.0,477.2C597.7,477.2 598.3,477.3 599.0,477.3" stroke="#00CBCC" stroke-width="1.4" fill="none"/><path d="M346.3,477.3C347.0,477.2 347.6,477.1 348.3,477.0C348.9,476.9 349.6,476.8 350.3,476.8C350.9,476.7 351.6,476.6 352.2,476.5C352.9,476.4 353.6,476.3 354.2,476.2C354.9,476.1 355.5,476.0 356.2,476.0C356.9,475.9 357.5,475.8 358.2,475.7C358.8,475.6 359.5,475.5 360.1,475.4C360.8,475.3 361.5,475.2 362.1,475.2C362.8,475.1 363.4,475.0 364.1,474.9C364.8,474.8 365.4,474.7 366.1,474.6C366.7,474.5 367.4,474.5 368.1,474.4C368.7,474.3 369.4,474.2 370.0,474.1C370.7,474.0 371.4,473.9 372.0,473.8C372.7,473.8 373.3,473.7 374.0,473.6C374.7,473.5 375.3,473.4 376.0,473.3C376.6,473.3 377.3,473.2 378.0,473.1C378.6,473.0 379.3,472.9 379.9,472.8C380.6,472.8 381.3,472.7 381.9,472.6C382.6,472.5 383.2,472.4 383.9,472.3C384.6,472.3 385.2,472.2 385.9,472.1C386.6,472.0 387.2,471.9 387.9,471.9C388.5,471.8 389.2,471.7 389.9,471.6C390.5,471.5 391.2,471.5 391.9,471.4C392.5,471.3 393.2,471.2 393.9,471.1C394.5,471.1 395.2,471.0 395.8,470.9C396.5,470.8 397.2,470.8 397.8,470.7C398.5,470.6 399.2,470.5 399.8,470.4C400.5,470.4 401.1,470.3 401.8,470.2C402.5,470.1 403.1,470.0 403.8,469.9C404.5,469.9 405.1,469.8 405.8,469.7C406.4,469.6 407.1,469.5 407.8,469.4C408.4,469.3 409.1,469.3 409.7,469.2C410.4,469.1 411.1,469.0 411.7,468.9C412.4,468.8 413.0,468.7 413.7,468.6C414.3,468.5 415.0,468.4 415.6,468.3C416.3,468.3 416.9,468.2 417.6,468.1C418.3,468.0 418.9,467.9 419.6,467.7C420.2,467.6 420.9,467.5 421.5,467.4C422.2,467.3 422.8,467.2 423.5,467.1C424.1,467.0 424.8,466.9 425.4,466.8C426.1,466.6 426.7,466.5 427.3,466.4C428.0,466.3 428.6,466.1 429.3,466.0C429.9,465.9 430.6,465.8 431.2,465.6C431.9,465.5 432.5,465.3 433.2,465.2C433.8,465.1 434.5,464.9 435.1,464.8C435.8,464.6 436.4,464.5 437.0,464.3C437.7,464.2 438.3,464.0 439.0,463.8C439.6,463.7 440.3,463.5 440.9,463.3C441.6,463.2 442.2,463.0 442.9,462.8C443.5,462.6 444.2,462.4 444.8,462.2C445.4,462.0 446.1,461.9 446.7,461.7C447.4,461.5 448.0,461.2 448.7,461.0C449.3,460.8 450.0,460.6 450.6,460.4C451.3,460.2 451.9,460.0 452.6,459.8C453.2,459.5 453.9,459.3 454.5,459.1C455.2,458.9 455.8,458.7 456.5,458.4C457.1,458.2 457.8,458.0 458.4,457.8C459.1,457.6 459.7,457.4 460.4,457.2C461.0,457.0 461.7,456.8 462.3,456.6C463.0,456.4 463.6,456.2 464.3,456.1C464.9,455.9 465.6,455.7 466.2,455.6C466.9,455.4 467.5,455.3 468.2,455.2C468.8,455.0 469.5,454.9 470.1,454.8C470.8,454.7 471.4,454.6 472.1,454.5C472.7,454.5 473.4,454.4 474.0,454.4C474.7,454.3 475.3,454.3 476.0,454.3C476.6,454.2 477.3,454.2 477.9,454.2C478.6,454.2 479.2,454.3 479.9,454.3C480.5,454.3 481.2,454.4 481.8,454.4C482.5,454.5 483.1,454.6 483.8,454.6C484.4,454.7 485.1,454.8 485.7,454.9C486.4,455.0 487.0,455.1 487.7,455.2C488.3,455.4 489.0,455.5 489.6,455.6C490.2,455.8 490.9,455.9 491.5,456.1C492.2,456.2 492.8,456.4 493.5,456.6C494.1,456.7 494.7,456.9 495.4,457.1C496.0,457.3 496.7,457.5 497.3,457.7C497.9,457.9 498.6,458.1 499.2,458.3C499.8,458.5 500.5,458.7 501.1,459.0C501.7,459.2 502.4,459.4 503.0,459.7C503.6,459.9 504.2,460.1 504.9,460.4C505.5,460.6 506.1,460.9 506.7,461.1C507.4,461.4 508.0,461.6 508.6,461.9C509.2,462.1 509.9,462.4 510.5,462.7C511.1,462.9 511.7,463.2 512.3,463.4C513.0,463.7 513.6,464.0 514.2,464.2C514.8,464.5 515.4,464.7 516.0,465.0C516.7,465.2 517.3,465.5 517.9,465.7C518.5,465.9 519.2,466.2 519.8,466.4C520.4,466.6 521.0,466.9 521.6,467.1C522.3,467.3 522.9,467.5 523.5,467.7C524.2,467.9 524.8,468.1 525.4,468.3C526.0,468.5 526.7,468.6 527.3,468.8C528.0,469.0 528.6,469.1 529.2,469.3C529.9,469.4 530.5,469.5 531.2,469.7C531.8,469.8 532.4,469.9 533.1,470.0C533.7,470.1 534.4,470.2 535.0,470.3C535.7,470.4 536.3,470.5 537.0,470.6C537.7,470.7 538.3,470.8 539.0,470.8C539.6,470.9 540.3,471.0 540.9,471.0C541.6,471.1 542.3,471.1 542.9,471.2C543.6,471.2 544.2,471.3 544.9,471.3C545.6,471.3 546.2,471.4 546.9,471.4C547.6,471.4 548.2,471.4 548.9,471.4C549.6,471.5 550.2,471.5 550.9,471.5C551.6,471.5 552.2,471.5 552.9,471.5C553.6,471.5 554.2,471.5 554.9,471.5C555.6,471.5 556.3,471.5 556.9,471.4C557.6,471.4 558.3,471.4 558.9,471.4C559.6,471.4 560.3,471.4 561.0,471.3C561.6,471.3 562.3,471.3 563.0,471.3C563.7,471.2 564.3,471.2 565.0,471.2C565.7,471.2 566.4,471.1 567.0,471.1C567.7,471.1 568.4,471.0 569.1,471.0C569.7,471.0 570.4,471.0 571.1,470.9C571.8,470.9 572.4,470.9 573.1,470.8C573.8,470.8 574.4,470.8 575.1,470.8C575.8,470.7 576.5,470.7 577.1,470.7C577.8,470.7 578.5,470.6 579.2,470.6C579.8,470.6 580.5,470.6 581.2,470.6C581.8,470.6 582.5,470.5 583.2,470.5C583.8,470.5 584.5,470.5 585.2,470.5C585.8,470.5 586.5,470.5 587.2,470.5C587.8,470.5 588.5,470.5 589.2,470.6C589.8,470.6 590.5,470.6 591.1,470.6C591.8,470.6 592.5,470.7 593.1,470.7C593.8,470.7 594.4,470.8 595.1,470.8C595.7,470.8 596.4,470.9 597.0,470.9C597.7,471.0 598.3,471.0 599.0,471.1" stroke="#7D4E4E" stroke-width="1.4" fill="none"/><path d="M346.3,477.3C347.0,477.3 347.6,477.2 348.3,477.2C349.0,477.1 349.6,477.1 350.3,477.1C351.0,477.0 351.6,477.0 352.3,477.0C352.9,476.9 353.6,476.9 354.3,476.9C354.9,476.8 355.6,476.8 356.3,476.8C356.9,476.8 357.6,476.7 358.3,476.7C358.9,476.7 359.6,476.7 360.2,476.6C360.9,476.6 361.6,476.6 362.2,476.6C362.9,476.6 363.6,476.5 364.2,476.5C364.9,476.5 365.5,476.5 366.2,476.5C366.9,476.5 367.5,476.4 368.2,476.4C368.9,476.4 369.5,476.4 370.2,476.4C370.8,476.4 371.5,476.4 372.2,476.4C372.8,476.3 373.5,476.3 374.1,476.3C374.8,476.3 375.5,476.3 376.1,476.3C376.8,476.3 377.4,476.3 378.1,476.2C378.8,476.2 379.4,476.2 380.1,476.2C380.7,476.2 381.4,476.2 382.1,476.2C382.7,476.1 383.4,476.1 384.0,476.1C384.7,476.1 385.4,476.1 386.0,476.1C386.7,476.1 387.3,476.0 388.0,476.0C388.7,476.0 389.3,476.0 390.0,476.0C390.6,475.9 391.3,475.9 392.0,475.9C392.6,475.9 393.3,475.9 393.9,475.8C394.6,475.8 395.3,475.8 395.9,475.8C396.6,475.7 397.2,475.7 397.9,475.7C398.5,475.6 399.2,475.6 399.9,475.6C400.5,475.5 401.2,475.5 401.8,475.5C402.5,475.4 403.2,475.4 403.8,475.3C404.5,475.3 405.1,475.3 405.8,475.2C406.5,475.2 407.1,475.1 407.8,475.1C408.4,475.0 409.1,475.0 409.7,474.9C410.4,474.9 411.1,474.8 411.7,474.7C412.4,474.7 413.0,474.6 413.7,474.5C414.4,474.5 415.0,474.4 415.7,474.3C416.3,474.3 417.0,474.2 417.7,474.1C418.3,474.0 419.0,474.0 419.6,473.9C420.3,473.8 420.9,473.7 421.6,473.6C422.3,473.5 422.9,473.4 423.6,473.3C424.2,473.2 424.9,473.1 425.6,473.0C426.2,472.9 426.9,472.8 427.5,472.7C428.2,472.6 428.9,472.5 429.5,472.4C430.2,472.3 430.8,472.2 431.5,472.1C432.2,472.0 432.8,471.9 433.5,471.8C434.1,471.6 434.8,471.5 435.5,471.4C436.1,471.3 436.8,471.2 437.4,471.1C438.1,471.0 438.7,470.9 439.4,470.8C440.1,470.6 440.7,470.5 441.4,470.4C442.0,470.3 442.7,470.2 443.4,470.1C444.0,470.0 444.7,469.9 445.3,469.8C446.0,469.7 446.7,469.6 447.3,469.5C448.0,469.4 448.6,469.3 449.3,469.2C449.9,469.1 450.6,469.0 451.3,468.9C451.9,468.8 452.6,468.7 453.2,468.7C453.9,468.6 454.5,468.5 455.2,468.4C455.9,468.4 456.5,468.3 457.2,468.2C457.8,468.1 458.5,468.1 459.1,468.0C459.8,468.0 460.4,467.9 461.1,467.9C461.8,467.8 462.4,467.8 463.1,467.7C463.7,467.7 464.4,467.7 465.0,467.6C465.7,467.6 466.3,467.6 467.0,467.6C467.7,467.6 468.3,467.5 469.0,467.5C469.6,467.5 470.3,467.5 470.9,467.6C471.6,467.6 472.2,467.6 472.9,467.6C473.5,467.6 474.2,467.7 474.8,467.7C475.5,467.7 476.1,467.8 476.8,467.8C477.4,467.9 478.1,467.9 478.7,468.0C479.4,468.1 480.0,468.1 480.7,468.2C481.3,468.3 482.0,468.4 482.6,468.4C483.3,468.5 483.9,468.6 484.6,468.7C485.2,468.8 485.9,468.9 486.5,469.0C487.2,469.1 487.8,469.2 488.5,469.3C489.1,469.4 489.8,469.5 490.4,469.6C491.1,469.8 491.7,469.9 492.4,470.0C493.0,470.1 493.7,470.2 494.3,470.4C495.0,470.5 495.6,470.6 496.3,470.7C496.9,470.9 497.6,471.0 498.2,471.1C498.9,471.3 499.5,471.4 500.2,471.5C500.8,471.7 501.5,471.8 502.1,472.0C502.8,472.1 503.4,472.2 504.1,472.4C504.7,472.5 505.4,472.6 506.0,472.8C506.7,472.9 507.3,473.1 508.0,473.2C508.6,473.3 509.3,473.5 509.9,473.6C510.6,473.7 511.2,473.9 511.9,474.0C512.5,474.1 513.2,474.3 513.8,474.4C514.5,474.5 515.1,474.6 515.8,474.8C516.4,474.9 517.1,475.0 517.7,475.1C518.4,475.3 519.0,475.4 519.7,475.5C520.3,475.6 521.0,475.7 521.6,475.8C522.3,475.9 522.9,476.0 523.6,476.1C524.3,476.2 524.9,476.3 525.6,476.4C526.2,476.5 526.9,476.6 527.5,476.7C528.2,476.8 528.8,476.8 529.5,476.9C530.1,477.0 530.8,477.0 531.5,477.1C532.1,477.2 532.8,477.2 533.4,477.3C534.1,477.3 534.7,477.4 535.4,477.4C536.1,477.5 536.7,477.5 537.4,477.5C538.0,477.6 538.7,477.6 539.4,477.6C540.0,477.6 540.7,477.7 541.3,477.7C542.0,477.7 542.7,477.7 543.3,477.7C544.0,477.7 544.6,477.7 545.3,477.7C546.0,477.7 546.6,477.7 547.3,477.7C548.0,477.7 548.6,477.7 549.3,477.7C549.9,477.7 550.6,477.7 551.3,477.7C551.9,477.7 552.6,477.7 553.3,477.7C553.9,477.6 554.6,477.6 555.2,477.6C555.9,477.6 556.6,477.6 557.2,477.5C557.9,477.5 558.6,477.5 559.2,477.5C559.9,477.4 560.6,477.4 561.2,477.4C561.9,477.4 562.5,477.3 563.2,477.3C563.9,477.3 564.5,477.3 565.2,477.2C565.9,477.2 566.5,477.2 567.2,477.2C567.9,477.1 568.5,477.1 569.2,477.1C569.8,477.1 570.5,477.0 571.2,477.0C571.8,477.0 572.5,477.0 573.2,476.9C573.8,476.9 574.5,476.9 575.2,476.9C575.8,476.9 576.5,476.8 577.2,476.8C577.8,476.8 578.5,476.8 579.1,476.8C579.8,476.8 580.5,476.8 581.1,476.7C581.8,476.7 582.5,476.7 583.1,476.7C583.8,476.7 584.5,476.7 585.1,476.7C585.8,476.7 586.4,476.7 587.1,476.7C587.8,476.7 588.4,476.8 589.1,476.8C589.8,476.8 590.4,476.8 591.1,476.8C591.7,476.9 592.4,476.9 593.1,476.9C593.7,476.9 594.4,477.0 595.0,477.0C595.7,477.1 596.4,477.1 597.0,477.2C597.7,477.2 598.3,477.3 599.0,477.3" stroke="#8E8E00" stroke-width="1.4" fill="none"/><path d="M346.3,477.4C347.0,477.4 347.6,477.4 348.3,477.4C349.0,477.4 349.6,477.4 350.3,477.4C350.9,477.4 351.6,477.4 352.3,477.4C352.9,477.4 353.6,477.4 354.3,477.4C354.9,477.4 355.6,477.4 356.3,477.4C356.9,477.3 357.6,477.3 358.2,477.3C358.9,477.3 359.6,477.3 360.2,477.3C360.9,477.3 361.6,477.2 362.2,477.2C362.9,477.2 363.6,477.2 364.2,477.2C364.9,477.1 365.5,477.1 366.2,477.1C366.9,477.1 367.5,477.0 368.2,477.0C368.9,477.0 369.5,476.9 370.2,476.9C370.9,476.9 371.5,476.8 372.2,476.8C372.9,476.8 373.5,476.8 374.2,476.7C374.8,476.7 375.5,476.6 376.2,476.6C376.8,476.6 377.5,476.5 378.2,476.5C378.8,476.5 379.5,476.4 380.2,476.4C380.8,476.3 381.5,476.3 382.1,476.2C382.8,476.2 383.5,476.2 384.1,476.1C384.8,476.1 385.5,476.0 386.1,476.0C386.8,475.9 387.5,475.9 388.1,475.8C388.8,475.8 389.5,475.8 390.1,475.7C390.8,475.7 391.4,475.6 392.1,475.6C392.8,475.5 393.4,475.5 394.1,475.4C394.8,475.4 395.4,475.3 396.1,475.3C396.8,475.2 397.4,475.2 398.1,475.1C398.8,475.1 399.4,475.0 400.1,474.9C400.7,474.9 401.4,474.8 402.1,474.8C402.7,474.7 403.4,474.7 404.1,474.6C404.7,474.6 405.4,474.5 406.1,474.5C406.7,474.4 407.4,474.4 408.1,474.3C408.7,474.3 409.4,474.2 410.0,474.2C410.7,474.1 411.4,474.1 412.0,474.0C412.7,474.0 413.4,473.9 414.0,473.8C414.7,473.8 415.4,473.7 416.0,473.7C416.7,473.6 417.4,473.6 418.0,473.5C418.7,473.5 419.3,473.4 420.0,473.4C420.7,473.3 421.3,473.3 422.0,473.2C422.7,473.2 423.3,473.1 424.0,473.1C424.7,473.0 425.3,473.0 426.0,472.9C426.7,472.9 427.3,472.9 428.0,472.8C428.6,472.8 429.3,472.7 430.0,472.7C430.6,472.6 431.3,472.6 432.0,472.5C432.6,472.5 433.3,472.5 434.0,472.4C434.6,472.4 435.3,472.3 436.0,472.3C436.6,472.3 437.3,472.2 437.9,472.2C438.6,472.1 439.3,472.1 439.9,472.1C440.6,472.0 441.3,472.0 441.9,472.0C442.6,471.9 443.3,471.9 443.9,471.9C444.6,471.8 445.2,471.8 445.9,471.8C446.6,471.7 447.2,471.7 447.9,471.7C448.6,471.7 449.2,471.6 449.9,471.6C450.6,471.6 451.2,471.6 451.9,471.6C452.5,471.5 453.2,471.5 453.9,471.5C454.5,471.5 455.2,471.5 455.9,471.4C456.5,471.4 457.2,471.4 457.8,471.4C458.5,471.4 459.2,471.4 459.8,471.4C460.5,471.4 461.2,471.4 461.8,471.4C462.5,471.4 463.2,471.3 463.8,471.3C464.5,471.3 465.1,471.3 465.8,471.4C466.5,471.4 467.1,471.4 467.8,471.4C468.5,471.4 469.1,471.4 469.8,471.4C470.4,471.4 471.1,471.4 471.8,471.4C472.4,471.4 473.1,471.5 473.8,471.5C474.4,471.5 475.1,471.5 475.7,471.5C476.4,471.6 477.1,471.6 477.7,471.6C478.4,471.6 479.1,471.7 479.7,471.7C480.4,471.7 481.0,471.8 481.7,471.8C482.4,471.8 483.0,471.9 483.7,471.9C484.4,471.9 485.0,472.0 485.7,472.0C486.3,472.1 487.0,472.1 487.7,472.2C488.3,472.2 489.0,472.2 489.6,472.3C490.3,472.3 491.0,472.4 491.6,472.4C492.3,472.5 493.0,472.6 493.6,472.6C494.3,472.7 494.9,472.7 495.6,472.8C496.3,472.8 496.9,472.9 497.6,473.0C498.2,473.0 498.9,473.1 499.6,473.1C500.2,473.2 500.9,473.3 501.5,473.3C502.2,473.4 502.9,473.5 503.5,473.6C504.2,473.6 504.8,473.7 505.5,473.8C506.2,473.8 506.8,473.9 507.5,474.0C508.1,474.1 508.8,474.1 509.5,474.2C510.1,474.3 510.8,474.3 511.4,474.4C512.1,474.5 512.8,474.6 513.4,474.6C514.1,474.7 514.7,474.8 515.4,474.9C516.1,474.9 516.7,475.0 517.4,475.1C518.0,475.2 518.7,475.2 519.4,475.3C520.0,475.4 520.7,475.4 521.3,475.5C522.0,475.6 522.7,475.7 523.3,475.7C524.0,475.8 524.6,475.9 525.3,475.9C526.0,476.0 526.6,476.0 527.3,476.1C527.9,476.2 528.6,476.2 529.3,476.3C529.9,476.3 530.6,476.4 531.2,476.5C531.9,476.5 532.6,476.6 533.2,476.6C533.9,476.7 534.5,476.7 535.2,476.8C535.9,476.8 536.5,476.8 537.2,476.9C537.9,476.9 538.5,477.0 539.2,477.0C539.8,477.0 540.5,477.1 541.2,477.1C541.8,477.2 542.5,477.2 543.2,477.2C543.8,477.3 544.5,477.3 545.1,477.3C545.8,477.3 546.5,477.4 547.1,477.4C547.8,477.4 548.5,477.4 549.1,477.5C549.8,477.5 550.5,477.5 551.1,477.5C551.8,477.6 552.4,477.6 553.1,477.6C553.8,477.6 554.4,477.6 555.1,477.6C555.8,477.6 556.4,477.7 557.1,477.7C557.8,477.7 558.4,477.7 559.1,477.7C559.7,477.7 560.4,477.7 561.1,477.7C561.7,477.7 562.4,477.8 563.1,477.8C563.7,477.8 564.4,477.8 565.1,477.8C565.7,477.8 566.4,477.8 567.1,477.8C567.7,477.8 568.4,477.8 569.1,477.8C569.7,477.8 570.4,477.8 571.0,477.8C571.7,477.8 572.4,477.8 573.0,477.8C573.7,477.8 574.4,477.8 575.0,477.8C575.7,477.8 576.4,477.8 577.0,477.8C577.7,477.8 578.4,477.7 579.0,477.7C579.7,477.7 580.4,477.7 581.0,477.7C581.7,477.7 582.4,477.7 583.0,477.7C583.7,477.7 584.4,477.7 585.0,477.7C585.7,477.7 586.4,477.7 587.0,477.7C587.7,477.6 588.4,477.6 589.0,477.6C589.7,477.6 590.3,477.6 591.0,477.6C591.7,477.6 592.3,477.6 593.0,477.6C593.7,477.6 594.3,477.6 595.0,477.5C595.7,477.5 596.3,477.5 597.0,477.5C597.7,477.5 598.3,477.5 599.0,477.5" stroke="#FB6501" stroke-width="1.4" fill="none"/><path d="M346.3,477.3C347.0,477.3 347.6,477.3 348.3,477.3C349.0,477.2 349.6,477.2 350.3,477.2C350.9,477.2 351.6,477.2 352.3,477.1C352.9,477.1 353.6,477.1 354.3,477.1C354.9,477.0 355.6,477.0 356.3,477.0C356.9,477.0 357.6,476.9 358.2,476.9C358.9,476.9 359.6,476.9 360.2,476.8C360.9,476.8 361.6,476.8 362.2,476.8C362.9,476.7 363.6,476.7 364.2,476.7C364.9,476.7 365.5,476.6 366.2,476.6C366.9,476.6 367.5,476.6 368.2,476.5C368.9,476.5 369.5,476.5 370.2,476.5C370.8,476.4 371.5,476.4 372.2,476.4C372.8,476.4 373.5,476.3 374.2,476.3C374.8,476.3 375.5,476.3 376.2,476.2C376.8,476.2 377.5,476.2 378.1,476.2C378.8,476.1 379.5,476.1 380.1,476.1C380.8,476.1 381.5,476.0 382.1,476.0C382.8,476.0 383.5,476.0 384.1,475.9C384.8,475.9 385.4,475.9 386.1,475.8C386.8,475.8 387.4,475.8 388.1,475.8C388.8,475.7 389.4,475.7 390.1,475.7C390.7,475.7 391.4,475.6 392.1,475.6C392.7,475.6 393.4,475.6 394.1,475.5C394.7,475.5 395.4,475.5 396.1,475.5C396.7,475.4 397.4,475.4 398.0,475.4C398.7,475.4 399.4,475.3 400.0,475.3C400.7,475.3 401.4,475.3 402.0,475.2C402.7,475.2 403.3,475.2 404.0,475.2C404.7,475.1 405.3,475.1 406.0,475.1C406.7,475.1 407.3,475.1 408.0,475.0C408.7,475.0 409.3,475.0 410.0,475.0C410.6,474.9 411.3,474.9 412.0,474.9C412.6,474.9 413.3,474.8 414.0,474.8C414.6,474.8 415.3,474.8 415.9,474.8C416.6,474.7 417.3,474.7 417.9,474.7C418.6,474.7 419.3,474.6 419.9,474.6C420.6,474.6 421.3,474.6 421.9,474.6C422.6,474.5 423.2,474.5 423.9,474.5C424.6,474.5 425.2,474.5 425.9,474.4C426.6,474.4 427.2,474.4 427.9,474.4C428.5,474.4 429.2,474.3 429.9,474.3C430.5,474.3 431.2,474.3 431.9,474.3C432.5,474.2 433.2,474.2 433.9,474.2C434.5,474.2 435.2,474.2 435.8,474.2C436.5,474.1 437.2,474.1 437.8,474.1C438.5,474.1 439.2,474.1 439.8,474.1C440.5,474.1 441.1,474.0 441.8,474.0C442.5,474.0 443.1,474.0 443.8,474.0C444.5,474.0 445.1,474.0 445.8,473.9C446.5,473.9 447.1,473.9 447.8,473.9C448.4,473.9 449.1,473.9 449.8,473.9C450.4,473.9 451.1,473.8 451.8,473.8C452.4,473.8 453.1,473.8 453.7,473.8C454.4,473.8 455.1,473.8 455.7,473.8C456.4,473.8 457.1,473.8 457.7,473.7C458.4,473.7 459.0,473.7 459.7,473.7C460.4,473.7 461.0,473.7 461.7,473.7C462.4,473.7 463.0,473.7 463.7,473.7C464.4,473.7 465.0,473.7 465.7,473.7C466.3,473.7 467.0,473.7 467.7,473.7C468.3,473.7 469.0,473.7 469.7,473.7C470.3,473.7 471.0,473.7 471.6,473.7C472.3,473.7 473.0,473.7 473.6,473.7C474.3,473.7 475.0,473.7 475.6,473.7C476.3,473.7 477.0,473.7 477.6,473.7C478.3,473.7 478.9,473.7 479.6,473.7C480.3,473.7 480.9,473.7 481.6,473.7C482.3,473.7 482.9,473.7 483.6,473.7C484.2,473.7 484.9,473.7 485.6,473.7C486.2,473.7 486.9,473.7 487.6,473.7C488.2,473.8 488.9,473.8 489.5,473.8C490.2,473.8 490.9,473.8 491.5,473.8C492.2,473.8 492.9,473.8 493.5,473.8C494.2,473.8 494.9,473.9 495.5,473.9C496.2,473.9 496.8,473.9 497.5,473.9C498.2,473.9 498.8,473.9 499.5,473.9C500.2,474.0 500.8,474.0 501.5,474.0C502.1,474.0 502.8,474.0 503.5,474.0C504.1,474.0 504.8,474.1 505.5,474.1C506.1,474.1 506.8,474.1 507.5,474.1C508.1,474.1 508.8,474.1 509.4,474.2C510.1,474.2 510.8,474.2 511.4,474.2C512.1,474.2 512.8,474.2 513.4,474.3C514.1,474.3 514.7,474.3 515.4,474.3C516.1,474.3 516.7,474.4 517.4,474.4C518.1,474.4 518.7,474.4 519.4,474.4C520.0,474.4 520.7,474.5 521.4,474.5C522.0,474.5 522.7,474.5 523.4,474.5C524.0,474.6 524.7,474.6 525.4,474.6C526.0,474.6 526.7,474.6 527.3,474.7C528.0,474.7 528.7,474.7 529.3,474.7C530.0,474.7 530.7,474.7 531.3,474.8C532.0,474.8 532.6,474.8 533.3,474.8C534.0,474.8 534.6,474.9 535.3,474.9C536.0,474.9 536.6,474.9 537.3,474.9C538.0,475.0 538.6,475.0 539.3,475.0C539.9,475.0 540.6,475.0 541.3,475.1C541.9,475.1 542.6,475.1 543.3,475.1C543.9,475.1 544.6,475.2 545.3,475.2C545.9,475.2 546.6,475.2 547.2,475.2C547.9,475.3 548.6,475.3 549.2,475.3C549.9,475.3 550.6,475.3 551.2,475.3C551.9,475.4 552.5,475.4 553.2,475.4C553.9,475.4 554.5,475.4 555.2,475.4C555.9,475.5 556.5,475.5 557.2,475.5C557.9,475.5 558.5,475.5 559.2,475.5C559.8,475.6 560.5,475.6 561.2,475.6C561.8,475.6 562.5,475.6 563.2,475.6C563.8,475.7 564.5,475.7 565.2,475.7C565.8,475.7 566.5,475.7 567.1,475.7C567.8,475.7 568.5,475.8 569.1,475.8C569.8,475.8 570.5,475.8 571.1,475.8C571.8,475.8 572.5,475.8 573.1,475.8C573.8,475.9 574.4,475.9 575.1,475.9C575.8,475.9 576.4,475.9 577.1,475.9C577.8,475.9 578.4,475.9 579.1,475.9C579.8,475.9 580.4,475.9 581.1,476.0C581.7,476.0 582.4,476.0 583.1,476.0C583.7,476.0 584.4,476.0 585.1,476.0C585.7,476.0 586.4,476.0 587.1,476.0C587.7,476.0 588.4,476.0 589.0,476.0C589.7,476.0 590.4,476.0 591.0,476.0C591.7,476.0 592.4,476.0 593.0,476.0C593.7,476.0 594.4,476.0 595.0,476.0C595.7,476.0 596.3,476.0 597.0,476.0C597.7,476.0 598.3,476.0 599.0,476.0" stroke="#6699CC" stroke-width="1.4" fill="none"/></g>
<line x1="346.30" y1="477.5" x2="346.30" y2="481.5" stroke="#000" stroke-width="1.3"/>
<line x1="346.30" y1="272.6" x2="346.30" y2="276.6" stroke="#000" stroke-width="1.3"/>
<text x="346.30" y="492.50" text-anchor="middle" font-size="10.7">400</text>
<line x1="447.20" y1="477.5" x2="447.20" y2="481.5" stroke="#000" stroke-width="1.3"/>
<line x1="447.20" y1="272.6" x2="447.20" y2="276.6" stroke="#000" stroke-width="1.3"/>
<text x="447.20" y="492.50" text-anchor="middle" font-size="10.7">500</text>
<line x1="548.10" y1="477.5" x2="548.10" y2="481.5" stroke="#000" stroke-width="1.3"/>
<line x1="548.10" y1="272.6" x2="548.10" y2="276.6" stroke="#000" stroke-width="1.3"/>
<text x="548.10" y="492.50" text-anchor="middle" font-size="10.7">600</text>
<line x1="396.75" y1="477.5" x2="396.75" y2="479.5" stroke="#000" stroke-width="1.3"/>
<line x1="396.75" y1="272.6" x2="396.75" y2="274.6" stroke="#000" stroke-width="1.3"/>
<line x1="497.65" y1="477.5" x2="497.65" y2="479.5" stroke="#000" stroke-width="1.3"/>
<line x1="497.65" y1="272.6" x2="497.65" y2="274.6" stroke="#000" stroke-width="1.3"/>
<line x1="342.3" y1="477.50" x2="346.3" y2="477.50" stroke="#000" stroke-width="1.3"/>
<line x1="594.55" y1="477.50" x2="598.55" y2="477.50" stroke="#000" stroke-width="1.3"/>
<text x="339.8" y="481.10" text-anchor="end" font-size="10.7">0.0</text>
<line x1="342.3" y1="436.52" x2="346.3" y2="436.52" stroke="#000" stroke-width="1.3"/>
<line x1="594.55" y1="436.52" x2="598.55" y2="436.52" stroke="#000" stroke-width="1.3"/>
<text x="339.8" y="440.12" text-anchor="end" font-size="10.7">0.2</text>
<line x1="342.3" y1="395.54" x2="346.3" y2="395.54" stroke="#000" stroke-width="1.3"/>
<line x1="594.55" y1="395.54" x2="598.55" y2="395.54" stroke="#000" stroke-width="1.3"/>
<text x="339.8" y="399.14" text-anchor="end" font-size="10.7">0.4</text>
<line x1="342.3" y1="354.56" x2="346.3" y2="354.56" stroke="#000" stroke-width="1.3"/>
<line x1="594.55" y1="354.56" x2="598.55" y2="354.56" stroke="#000" stroke-width="1.3"/>
<text x="339.8" y="358.16" text-anchor="end" font-size="10.7">0.6</text>
<line x1="342.3" y1="313.58" x2="346.3" y2="313.58" stroke="#000" stroke-width="1.3"/>
<line x1="594.55" y1="313.58" x2="598.55" y2="313.58" stroke="#000" stroke-width="1.3"/>
<text x="339.8" y="317.18" text-anchor="end" font-size="10.7">0.8</text>
<line x1="342.3" y1="272.60" x2="346.3" y2="272.60" stroke="#000" stroke-width="1.3"/>
<line x1="594.55" y1="272.60" x2="598.55" y2="272.60" stroke="#000" stroke-width="1.3"/>
<text x="339.8" y="276.20" text-anchor="end" font-size="10.7">1.0</text>
<line x1="344.3" y1="457.01" x2="346.3" y2="457.01" stroke="#000" stroke-width="1.3"/>
<line x1="596.55" y1="457.01" x2="598.55" y2="457.01" stroke="#000" stroke-width="1.3"/>
<line x1="344.3" y1="416.03" x2="346.3" y2="416.03" stroke="#000" stroke-width="1.3"/>
<line x1="596.55" y1="416.03" x2="598.55" y2="416.03" stroke="#000" stroke-width="1.3"/>
<line x1="344.3" y1="375.05" x2="346.3" y2="375.05" stroke="#000" stroke-width="1.3"/>
<line x1="596.55" y1="375.05" x2="598.55" y2="375.05" stroke="#000" stroke-width="1.3"/>
<line x1="344.3" y1="334.07" x2="346.3" y2="334.07" stroke="#000" stroke-width="1.3"/>
<line x1="596.55" y1="334.07" x2="598.55" y2="334.07" stroke="#000" stroke-width="1.3"/>
<line x1="344.3" y1="293.09" x2="346.3" y2="293.09" stroke="#000" stroke-width="1.3"/>
<line x1="596.55" y1="293.09" x2="598.55" y2="293.09" stroke="#000" stroke-width="1.3"/>
<text x="472.42" y="510.9" text-anchor="middle" font-size="10.7">Wavelength (nm)</text>
<text transform="translate(310.2,382.0) rotate(-90)" text-anchor="middle" font-size="10.7">Absorbance (a.u.)</text>
<text x="353.1" y="287.2" font-size="10.7">(d)</text>
<text x="381.6" y="310.8" font-size="10.7">1.0 wt.% Ag-TiO2-PD</text>
<line x1="351.8" y1="324.60" x2="374.5" y2="324.60" stroke="#515151" stroke-width="1.5"/>
<text x="378.4" y="328.40" font-size="10.7" xml:space="preserve">RB Dye</text>
<line x1="351.8" y1="337.93" x2="374.5" y2="337.93" stroke="#F14040" stroke-width="1.5"/>
<text x="378.4" y="341.73" font-size="10.7" xml:space="preserve">0 min</text>
<line x1="351.8" y1="351.26" x2="374.5" y2="351.26" stroke="#1A6FDF" stroke-width="1.5"/>
<text x="378.4" y="355.06" font-size="10.7" xml:space="preserve">5 mins</text>
<line x1="351.8" y1="364.59" x2="374.5" y2="364.59" stroke="#37AD6B" stroke-width="1.5"/>
<text x="378.4" y="368.39" font-size="10.7" xml:space="preserve">10 mins</text>
<line x1="351.8" y1="377.92" x2="374.5" y2="377.92" stroke="#B177DE" stroke-width="1.5"/>
<text x="378.4" y="381.72" font-size="10.7" xml:space="preserve">15  mins</text>
<line x1="351.8" y1="391.25" x2="374.5" y2="391.25" stroke="#CC9900" stroke-width="1.5"/>
<text x="378.4" y="395.05" font-size="10.7" xml:space="preserve">20 mins</text>
<line x1="351.8" y1="404.58" x2="374.5" y2="404.58" stroke="#00CBCC" stroke-width="1.5"/>
<text x="378.4" y="408.38" font-size="10.7" xml:space="preserve">25 mins</text>
<line x1="351.8" y1="417.91" x2="374.5" y2="417.91" stroke="#7D4E4E" stroke-width="1.5"/>
<text x="378.4" y="421.71" font-size="10.7" xml:space="preserve">30 mins</text>
<line x1="351.8" y1="431.24" x2="374.5" y2="431.24" stroke="#8E8E00" stroke-width="1.5"/>
<text x="378.4" y="435.04" font-size="10.7" xml:space="preserve">40 mins</text>
<line x1="351.8" y1="444.57" x2="374.5" y2="444.57" stroke="#FB6501" stroke-width="1.5"/>
<text x="378.4" y="448.37" font-size="10.7" xml:space="preserve">50 mins</text>
<line x1="351.8" y1="457.90" x2="374.5" y2="457.90" stroke="#6699CC" stroke-width="1.5"/>
<text x="378.4" y="461.70" font-size="10.7" xml:space="preserve">60 mins</text></g>
</svg>
</body></html>
